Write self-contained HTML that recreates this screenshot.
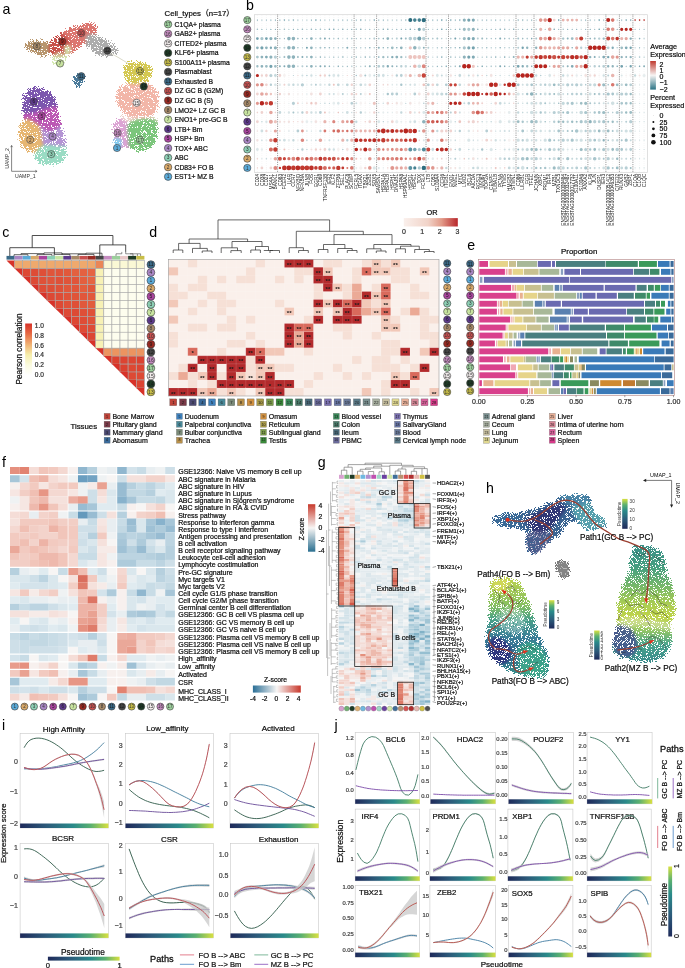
<!DOCTYPE html><html><head><meta charset="utf-8"><title>Figure</title><style>html,body{margin:0;padding:0;background:#fff}svg{display:block;font-family:"Liberation Sans",Arial,Helvetica,sans-serif}</style></head><body>
<svg width="685" height="968" viewBox="0 0 685 968">
<rect width="685" height="968" fill="#fff"/>
<defs>
<filter id="sp1" x="-30%" y="-30%" width="160%" height="160%" color-interpolation-filters="sRGB">
<feGaussianBlur in="SourceGraphic" stdDeviation="1.6" result="b"/>
<feComponentTransfer in="b" result="bc"><feFuncA type="linear" slope="6" intercept="0"/></feComponentTransfer>
<feTurbulence type="fractalNoise" baseFrequency="2.2" numOctaves="2" seed="3" result="t"/>
<feColorMatrix in="t" type="matrix" values="0 0 0 0 0  0 0 0 0 0  0 0 0 0 0  0 0 0 3 -1" result="ta"/>
<feComposite in="b" in2="ta" operator="arithmetic" k1="0" k2="1" k3="1" k4="-0.7" result="m"/>
<feComponentTransfer in="m" result="mt"><feFuncA type="discrete" tableValues="0 0 1 1 1"/></feComponentTransfer>
<feComposite in="bc" in2="mt" operator="in" result="o"/>
<feGaussianBlur in="o" stdDeviation="0.35"/>
</filter>
<filter id="sp2" x="-30%" y="-30%" width="160%" height="160%" color-interpolation-filters="sRGB">
<feGaussianBlur in="SourceGraphic" stdDeviation="1.6" result="b"/>
<feComponentTransfer in="b" result="bc"><feFuncA type="linear" slope="6" intercept="0"/></feComponentTransfer>
<feTurbulence type="fractalNoise" baseFrequency="2.2" numOctaves="2" seed="5" result="t"/>
<feColorMatrix in="t" type="matrix" values="0 0 0 0 0  0 0 0 0 0  0 0 0 0 0  0 0 0 3 -1" result="ta"/>
<feComposite in="b" in2="ta" operator="arithmetic" k1="0" k2="1" k3="1" k4="-0.8" result="m"/>
<feComponentTransfer in="m" result="mt"><feFuncA type="discrete" tableValues="0 0 1 1 1"/></feComponentTransfer>
<feComposite in="bc" in2="mt" operator="in" result="o"/>
<feGaussianBlur in="o" stdDeviation="0.35"/>
</filter>
<filter id="sp3" x="-30%" y="-30%" width="160%" height="160%" color-interpolation-filters="sRGB">
<feGaussianBlur in="SourceGraphic" stdDeviation="1.2" result="b"/>
<feComponentTransfer in="b" result="bc"><feFuncA type="linear" slope="6" intercept="0"/></feComponentTransfer>
<feTurbulence type="fractalNoise" baseFrequency="2.2" numOctaves="2" seed="8" result="t"/>
<feColorMatrix in="t" type="matrix" values="0 0 0 0 0  0 0 0 0 0  0 0 0 0 0  0 0 0 3 -1" result="ta"/>
<feComposite in="b" in2="ta" operator="arithmetic" k1="0" k2="1" k3="1" k4="-0.7" result="m"/>
<feComponentTransfer in="m" result="mt"><feFuncA type="discrete" tableValues="0 0 1 1 1"/></feComponentTransfer>
<feComposite in="bc" in2="mt" operator="in" result="o"/>
<feGaussianBlur in="o" stdDeviation="0.35"/>
</filter>
<linearGradient id="vir" x1="0" y1="1" x2="0" y2="0"><stop offset="0" stop-color="#1e2a5a"/><stop offset="0.3" stop-color="#2c5a7a"/><stop offset="0.6" stop-color="#2a8a8a"/><stop offset="0.8" stop-color="#5ab070"/><stop offset="1" stop-color="#d8e040"/></linearGradient>
<linearGradient id="virh" x1="0" y1="0" x2="1" y2="0"><stop offset="0" stop-color="#1e2a5a"/><stop offset="0.3" stop-color="#2c5a7a"/><stop offset="0.6" stop-color="#2a8a8a"/><stop offset="0.8" stop-color="#5ab070"/><stop offset="1" stop-color="#d8e040"/></linearGradient>
<linearGradient id="hgr1" x1="0" y1="0" x2="0" y2="1"><stop offset="0" stop-color="#3a8e88"/><stop offset="0.2" stop-color="#46a080"/><stop offset="0.36" stop-color="#78b868"/><stop offset="0.5" stop-color="#a8cc54"/><stop offset="0.62" stop-color="#c0d448"/><stop offset="0.72" stop-color="#9ac860"/><stop offset="0.85" stop-color="#48a58e"/><stop offset="1" stop-color="#3a8a8a"/></linearGradient>
<linearGradient id="hgr2" x1="0" y1="0" x2="0" y2="1"><stop offset="0" stop-color="#bcd24e"/><stop offset="0.28" stop-color="#88c060"/><stop offset="0.42" stop-color="#48a088"/><stop offset="0.6" stop-color="#3a7e98"/><stop offset="0.8" stop-color="#2f6a8e"/><stop offset="1" stop-color="#3a9a8a"/></linearGradient>
</defs>
<text x="2.4" y="13.6" font-size="14.2">a</text>
<g filter="url(#sp1)">
<path d="M30 88.5C33 87.3 38.7 87.4 42 88C45.3 88.6 47.7 89.8 50 92C52.3 94.2 54.8 98.3 56 101C57.2 103.7 59 106.5 57 108C55 109.5 48 109 44 110C40 111 36.3 113.3 33 114C29.7 114.7 25.7 115.7 24 114C22.3 112.3 23 107.2 23 104C23 100.8 22.8 97.6 24 95C25.2 92.4 27 89.7 30 88.5Z" fill="#7c56ae" opacity="1"/>
<path d="M24 114C25.3 112.8 29.7 113.8 33 113C36.3 112.2 40 110 44 109C48 108 54.5 105.7 57 107C59.5 108.3 58.3 113.8 59 117C59.7 120.2 61.8 123.8 61 126C60.2 128.2 56.5 129.2 54 130C51.5 130.8 48.3 131.7 46 131C43.7 130.3 42.2 127.5 40 126C37.8 124.5 35.5 123 33 122C30.5 121 26.5 121.3 25 120C23.5 118.7 22.7 115.2 24 114Z" fill="#bc58b4" opacity="1"/>
<path d="M21 124C22.3 121.2 24.8 119.3 27 119C29.2 118.7 31.8 120.7 34 122C36.2 123.3 38.3 124.3 40 127C41.7 129.7 43.7 134.7 44 138C44.3 141.3 43.3 144.7 42 147C40.7 149.3 38.3 151.3 36 152C33.7 152.7 30.5 152 28 151C25.5 150 22.5 148.5 21 146C19.5 143.5 19 139.7 19 136C19 132.3 19.7 126.8 21 124Z" fill="#e6b672" opacity="1"/>
<path d="M40 126C40.8 125.2 44.5 130.3 47 131C49.5 131.7 52.7 130.8 55 130C57.3 129.2 59.5 125 61 126C62.5 127 63.2 132.7 64 136C64.8 139.3 66.7 144.2 66 146C65.3 147.8 62.7 147 60 147C57.3 147 52.8 146.5 50 146C47.2 145.5 44.3 145.7 43 144C41.7 142.3 42.5 139 42 136C41.5 133 39.2 126.8 40 126Z" fill="#b494d4" opacity="1"/>
<path d="M36 152C37.2 149.8 39.7 147.2 42 146C44.3 144.8 47 145 50 145C53 145 57.3 145.7 60 146C62.7 146.3 65 145.3 66 147C67 148.7 66.7 153.5 66 156C65.3 158.5 64.3 160.5 62 162C59.7 163.5 55.3 164.7 52 165C48.7 165.3 44.8 165 42 164C39.2 163 36 161 35 159C34 157 34.8 154.2 36 152Z" fill="#9adcc4" opacity="1"/>
</g>
<g filter="url(#sp1)">
<path d="M24 46C24.3 44.5 27.7 42 30 41C32.3 40 35.3 39.8 38 40C40.7 40.2 43.8 41 46 42C48.2 43 50.3 44.3 51 46C51.7 47.7 51.2 50.3 50 52C48.8 53.7 46.5 55.7 44 56C41.5 56.3 37.7 55 35 54C32.3 53 29.8 51.3 28 50C26.2 48.7 23.7 47.5 24 46Z" fill="#b8966e" opacity="1"/>
<path d="M50 44C51.2 41.8 53.7 38.8 56 37C58.3 35.2 61.7 33 64 33C66.3 33 68.7 35 70 37C71.3 39 72.5 42.3 72 45C71.5 47.7 69 51 67 53C65 55 62.3 56.7 60 57C57.7 57.3 54.8 56.2 53 55C51.2 53.8 49.5 51.8 49 50C48.5 48.2 48.8 46.2 50 44Z" fill="#c8504a" opacity="1"/>
<path d="M62 33C62.7 31.7 67 29.3 70 28C73 26.7 76.7 25.8 80 25C83.3 24.2 87.3 22.8 90 23C92.7 23.2 94.8 24.7 96 26C97.2 27.3 97.7 29 97 31C96.3 33 94.2 35.8 92 38C89.8 40.2 86.7 42 84 44C81.3 46 78.3 48.2 76 50C73.7 51.8 71.7 55 70 55C68.3 55 66 52 66 50C66 48 70 45.3 70 43C70 40.7 67.3 37.7 66 36C64.7 34.3 61.3 34.3 62 33Z" fill="#dc7670" opacity="1"/>
<path d="M52 57C53 55.2 55.8 52.3 58 52C60.2 51.7 63.8 53.3 65 55C66.2 56.7 66.2 60.2 65 62C63.8 63.8 60.2 65.8 58 66C55.8 66.2 53 64.5 52 63C51 61.5 51 58.8 52 57Z" fill="#d6eab4" opacity="0.7"/>
<path d="M64 47C64.5 45.2 67.8 44.3 69 45C70.2 45.7 71.5 49.2 71 51C70.5 52.8 67.2 56.7 66 56C64.8 55.3 63.5 48.8 64 47Z" fill="#d4e8b0" opacity="0.9"/>
<path d="M86 36C87 34.2 90.5 33.7 93 34C95.5 34.3 98.3 36.8 101 38C103.7 39.2 106.7 39.7 109 41C111.3 42.3 113.7 44.2 115 46C116.3 47.8 117.7 50.3 117 52C116.3 53.7 113.7 55.3 111 56C108.3 56.7 104 56.7 101 56C98 55.3 95.3 53.8 93 52C90.7 50.2 88.2 47.7 87 45C85.8 42.3 85 37.8 86 36Z" fill="#acacac" opacity="1"/>
</g>
<path d="M110 53 C116 56 121 59 129 64" fill="none" stroke="#9a9a70" stroke-width="0.7" opacity="0.55"/>
<g filter="url(#sp3)">
<path d="M74 76C75 74.8 77.3 73.2 79 73C80.7 72.8 83.2 73.7 84 75C84.8 76.3 84.5 79.5 84 81C83.5 82.5 82 82.8 81 84C80 85.2 79.2 88 78 88C76.8 88 74.8 85.3 74 84C73.2 82.7 73 81.3 73 80C73 78.7 73 77.2 74 76Z" fill="#4a7a9a" opacity="1"/>
</g>
<g filter="url(#sp1)">
<path d="M124 67C125 65 127.3 62.8 130 62C132.7 61.2 137 61.7 140 62C143 62.3 146 62.7 148 64C150 65.3 151.5 67.7 152 70C152.5 72.3 152.2 75.8 151 78C149.8 80.2 147.7 82 145 83C142.3 84 138 84.3 135 84C132 83.7 128.8 82.7 127 81C125.2 79.3 124.5 76.3 124 74C123.5 71.7 123 69 124 67Z" fill="#d4c852" opacity="1"/>
<path d="M117 93C118 90.7 119.5 87.5 122 86C124.5 84.5 128.2 84.3 132 84C135.8 83.7 141.2 83.3 145 84C148.8 84.7 152.7 85.7 155 88C157.3 90.3 158.5 94.7 159 98C159.5 101.3 159.2 105.2 158 108C156.8 110.8 155 113.3 152 115C149 116.7 144 117.8 140 118C136 118.2 131.3 117.7 128 116C124.7 114.3 122 110.7 120 108C118 105.3 116.5 102.5 116 100C115.5 97.5 116 95.3 117 93Z" fill="#f2b6a8" opacity="1"/>
<path d="M122 116C123.7 115.3 128.2 116.7 132 117C135.8 117.3 141.2 117.8 145 118C148.8 118.2 153 117 155 118C157 119 158.7 123.3 157 124C155.3 124.7 149.5 122.3 145 122C140.5 121.7 133.8 122.2 130 122C126.2 121.8 123.3 122 122 121C120.7 120 120.3 116.7 122 116Z" fill="#f0d8d0" opacity="0.8"/>
<path d="M114 122C115.2 120.5 117.8 118.8 120 119C122.2 119.2 125.2 120.5 127 123C128.8 125.5 130.3 130.3 131 134C131.7 137.7 131.8 142.7 131 145C130.2 147.3 128 147.8 126 148C124 148.2 121 147.7 119 146C117 144.3 115 141 114 138C113 135 113 130.7 113 128C113 125.3 112.8 123.5 114 122Z" fill="#dca4d4" opacity="1"/>
<path d="M128 125C129.3 122.2 132.7 121 136 120C139.3 119 144.7 118.8 148 119C151.3 119.2 154.5 118.8 156 121C157.5 123.2 157.2 128.3 157 132C156.8 135.7 156.5 140.2 155 143C153.5 145.8 150.8 147.7 148 149C145.2 150.3 141 151.2 138 151C135 150.8 131.7 150.3 130 148C128.3 145.7 128.3 140.8 128 137C127.7 133.2 126.7 127.8 128 125Z" fill="#7cc67c" opacity="1"/>
<path d="M114 140C114.3 138.7 116.7 137.8 118 138C119.3 138.2 121.5 139.7 122 141C122.5 142.3 122 145.2 121 146C120 146.8 117.2 147 116 146C114.8 145 113.7 141.3 114 140Z" fill="#88ccee" opacity="1"/>
</g>
<circle cx="36.8" cy="46.3" r="3.6" fill="#a88a68" stroke="#3a3a3a" stroke-width="0.6"/>
<text x="36.8" y="48" font-size="4.7" text-anchor="middle" fill="#333">8</text>
<circle cx="62.3" cy="41.6" r="3.6" fill="#9a2a22" stroke="#3a3a3a" stroke-width="0.6"/>
<text x="62.3" y="43.3" font-size="4.7" text-anchor="middle" fill="#1a1a1a">9</text>
<circle cx="81.3" cy="33.1" r="3.6" fill="#c9504f" stroke="#3a3a3a" stroke-width="0.6"/>
<text x="81.3" y="34.8" font-size="4.7" text-anchor="middle" fill="#333">10</text>
<circle cx="107.3" cy="50.7" r="3.6" fill="#454545" stroke="#3a3a3a" stroke-width="0.6"/>
<text x="107.3" y="52.4" font-size="4.7" text-anchor="middle" fill="#1a1a1a">12</text>
<circle cx="60.1" cy="63.5" r="3.6" fill="#c8e4a0" stroke="#3a3a3a" stroke-width="0.6"/>
<text x="60.1" y="65.2" font-size="4.7" text-anchor="middle" fill="#333">7</text>
<circle cx="81.3" cy="76.2" r="3.6" fill="#3b6a88" stroke="#3a3a3a" stroke-width="0.6"/>
<text x="81.3" y="77.9" font-size="4.7" text-anchor="middle" fill="#1a1a1a">11</text>
<circle cx="140" cy="71" r="3.6" fill="#c8be48" stroke="#3a3a3a" stroke-width="0.6"/>
<text x="140" y="72.7" font-size="4.7" text-anchor="middle" fill="#333">13</text>
<circle cx="143.8" cy="86.4" r="3.6" fill="#1e3b26" stroke="#3a3a3a" stroke-width="0.6"/>
<text x="143.8" y="88.1" font-size="4.7" text-anchor="middle" fill="#1a1a1a">14</text>
<circle cx="136.6" cy="102.8" r="3.6" fill="#f2ecec" stroke="#3a3a3a" stroke-width="0.6"/>
<text x="136.6" y="104.5" font-size="4.7" text-anchor="middle" fill="#333">15</text>
<circle cx="117.6" cy="133" r="3.6" fill="#c58bc0" stroke="#3a3a3a" stroke-width="0.6"/>
<text x="117.6" y="134.7" font-size="4.7" text-anchor="middle" fill="#333">16</text>
<circle cx="140" cy="139.8" r="3.6" fill="#9ccf9c" stroke="#3a3a3a" stroke-width="0.6"/>
<text x="140" y="141.5" font-size="4.7" text-anchor="middle" fill="#333">17</text>
<circle cx="117" cy="148" r="3.6" fill="#5aaad8" stroke="#3a3a3a" stroke-width="0.6"/>
<text x="117" y="149.7" font-size="4.7" text-anchor="middle" fill="#333">1</text>
<circle cx="33.9" cy="101.7" r="3.6" fill="#5e3a8c" stroke="#3a3a3a" stroke-width="0.6"/>
<text x="33.9" y="103.4" font-size="4.7" text-anchor="middle" fill="#1a1a1a">6</text>
<circle cx="41.8" cy="116.1" r="3.6" fill="#a9449e" stroke="#3a3a3a" stroke-width="0.6"/>
<text x="41.8" y="117.8" font-size="4.7" text-anchor="middle" fill="#1a1a1a">5</text>
<circle cx="30.2" cy="139.8" r="3.6" fill="#d8a868" stroke="#3a3a3a" stroke-width="0.6"/>
<text x="30.2" y="141.5" font-size="4.7" text-anchor="middle" fill="#333">2</text>
<circle cx="52.6" cy="136.5" r="3.6" fill="#a986c4" stroke="#3a3a3a" stroke-width="0.6"/>
<text x="52.6" y="138.2" font-size="4.7" text-anchor="middle" fill="#333">4</text>
<circle cx="51.2" cy="154.2" r="3.6" fill="#8ccfb4" stroke="#3a3a3a" stroke-width="0.6"/>
<text x="51.2" y="155.9" font-size="4.7" text-anchor="middle" fill="#333">3</text>
<path d="M11.6 145.7 L11.6 171.3 L36.8 171.3" fill="none" stroke="#333" stroke-width="0.6"/>
<path d="M10.6 147.2 L11.6 145.4 L12.6 147.2" fill="none" stroke="#333" stroke-width="0.5"/>
<path d="M35.3 170.3 L37.1 171.3 L35.3 172.3" fill="none" stroke="#333" stroke-width="0.5"/>
<text x="25.3" y="178.2" font-size="5.2" text-anchor="middle" fill="#333">UAMP_1</text>
<text x="7.4" y="160.4" font-size="5.2" text-anchor="middle" fill="#333" transform="rotate(-90 7.4 158.5)">UAMP_2</text>
<text x="164.6" y="16" font-size="7.8" stroke="#222" stroke-width="0.22" style="font-family:'Liberation Sans','Noto Sans CJK SC',sans-serif">Cell_types（n=17）</text>
<circle cx="168.1" cy="24.3" r="3.7" fill="#9ccf9c" stroke="#3a3a3a" stroke-width="0.6"/>
<text x="168.1" y="26" font-size="4.8" text-anchor="middle" fill="#333">17</text>
<text x="174.5" y="26.8" font-size="6.8" stroke="#222" stroke-width="0.22">C1QA+ plasma</text>
<circle cx="168.1" cy="33.8" r="3.7" fill="#c58bc0" stroke="#3a3a3a" stroke-width="0.6"/>
<text x="168.1" y="35.6" font-size="4.8" text-anchor="middle" fill="#333">16</text>
<text x="174.5" y="36.3" font-size="6.8" stroke="#222" stroke-width="0.22">GAB2+ plasma</text>
<circle cx="168.1" cy="43.4" r="3.7" fill="#f2ecec" stroke="#3a3a3a" stroke-width="0.6"/>
<text x="168.1" y="45.1" font-size="4.8" text-anchor="middle" fill="#333">15</text>
<text x="174.5" y="45.8" font-size="6.8" stroke="#222" stroke-width="0.22">CITED2+ plasma</text>
<circle cx="168.1" cy="52.9" r="3.7" fill="#1e3b26" stroke="#3a3a3a" stroke-width="0.6"/>
<text x="168.1" y="54.6" font-size="4.8" text-anchor="middle" fill="#1a1a1a">14</text>
<text x="174.5" y="55.3" font-size="6.8" stroke="#222" stroke-width="0.22">KLF6+ plasma</text>
<circle cx="168.1" cy="62.4" r="3.7" fill="#c8be48" stroke="#3a3a3a" stroke-width="0.6"/>
<text x="168.1" y="64.1" font-size="4.8" text-anchor="middle" fill="#333">13</text>
<text x="174.5" y="64.9" font-size="6.8" stroke="#222" stroke-width="0.22">S100A11+ plasma</text>
<circle cx="168.1" cy="71.9" r="3.7" fill="#454545" stroke="#3a3a3a" stroke-width="0.6"/>
<text x="168.1" y="73.7" font-size="4.8" text-anchor="middle" fill="#1a1a1a">12</text>
<text x="174.5" y="74.4" font-size="6.8" stroke="#222" stroke-width="0.22">Plasmablast</text>
<circle cx="168.1" cy="81.5" r="3.7" fill="#3b6a88" stroke="#3a3a3a" stroke-width="0.6"/>
<text x="168.1" y="83.2" font-size="4.8" text-anchor="middle" fill="#1a1a1a">11</text>
<text x="174.5" y="83.9" font-size="6.8" stroke="#222" stroke-width="0.22">Exhausted B</text>
<circle cx="168.1" cy="91" r="3.7" fill="#c9504f" stroke="#3a3a3a" stroke-width="0.6"/>
<text x="168.1" y="92.7" font-size="4.8" text-anchor="middle" fill="#333">10</text>
<text x="174.5" y="93.4" font-size="6.8" stroke="#222" stroke-width="0.22">DZ GC B (G2M)</text>
<circle cx="168.1" cy="100.5" r="3.7" fill="#9a2a22" stroke="#3a3a3a" stroke-width="0.6"/>
<text x="168.1" y="102.2" font-size="4.8" text-anchor="middle" fill="#1a1a1a">9</text>
<text x="174.5" y="103" font-size="6.8" stroke="#222" stroke-width="0.22">DZ GC B (S)</text>
<circle cx="168.1" cy="110" r="3.7" fill="#a88a68" stroke="#3a3a3a" stroke-width="0.6"/>
<text x="168.1" y="111.8" font-size="4.8" text-anchor="middle" fill="#333">8</text>
<text x="174.5" y="112.5" font-size="6.8" stroke="#222" stroke-width="0.22">LMO2+ LZ GC B</text>
<circle cx="168.1" cy="119.5" r="3.7" fill="#c8e4a0" stroke="#3a3a3a" stroke-width="0.6"/>
<text x="168.1" y="121.3" font-size="4.8" text-anchor="middle" fill="#333">7</text>
<text x="174.5" y="122" font-size="6.8" stroke="#222" stroke-width="0.22">ENO1+ pre-GC B</text>
<circle cx="168.1" cy="129.1" r="3.7" fill="#5e3a8c" stroke="#3a3a3a" stroke-width="0.6"/>
<text x="168.1" y="130.8" font-size="4.8" text-anchor="middle" fill="#1a1a1a">6</text>
<text x="174.5" y="131.5" font-size="6.8" stroke="#222" stroke-width="0.22">LTB+ Bm</text>
<circle cx="168.1" cy="138.6" r="3.7" fill="#a9449e" stroke="#3a3a3a" stroke-width="0.6"/>
<text x="168.1" y="140.3" font-size="4.8" text-anchor="middle" fill="#1a1a1a">5</text>
<text x="174.5" y="141.1" font-size="6.8" stroke="#222" stroke-width="0.22">HSP+ Bm</text>
<circle cx="168.1" cy="148.1" r="3.7" fill="#a986c4" stroke="#3a3a3a" stroke-width="0.6"/>
<text x="168.1" y="149.9" font-size="4.8" text-anchor="middle" fill="#333">4</text>
<text x="174.5" y="150.6" font-size="6.8" stroke="#222" stroke-width="0.22">TOX+ ABC</text>
<circle cx="168.1" cy="157.7" r="3.7" fill="#8ccfb4" stroke="#3a3a3a" stroke-width="0.6"/>
<text x="168.1" y="159.4" font-size="4.8" text-anchor="middle" fill="#333">3</text>
<text x="174.5" y="160.1" font-size="6.8" stroke="#222" stroke-width="0.22">ABC</text>
<circle cx="168.1" cy="167.2" r="3.7" fill="#d8a868" stroke="#3a3a3a" stroke-width="0.6"/>
<text x="168.1" y="168.9" font-size="4.8" text-anchor="middle" fill="#333">2</text>
<text x="174.5" y="169.6" font-size="6.8" stroke="#222" stroke-width="0.22">CD83+ FO B</text>
<circle cx="168.1" cy="176.7" r="3.7" fill="#5aaad8" stroke="#3a3a3a" stroke-width="0.6"/>
<text x="168.1" y="178.4" font-size="4.8" text-anchor="middle" fill="#333">1</text>
<text x="174.5" y="179.2" font-size="6.8" stroke="#222" stroke-width="0.22">EST1+ MZ B</text>
<text x="246" y="9.9" font-size="14.2">b</text>
<rect x="254.6" y="14.7" width="393" height="157.8" fill="none" stroke="#d4d4d4" stroke-width="0.7"/>
<path d="M257.4 15V172M261.9 15V172M266.4 15V172M270.9 15V172M275.4 15V172M279.9 15V172M284.4 15V172M288.9 15V172M293.4 15V172M297.9 15V172M302.4 15V172M306.9 15V172M311.4 15V172M315.9 15V172M320.4 15V172M324.9 15V172M329.4 15V172M333.8 15V172M338.3 15V172M342.8 15V172M347.3 15V172M351.8 15V172M356.3 15V172M360.8 15V172M365.3 15V172M369.8 15V172M374.3 15V172M378.8 15V172M383.3 15V172M387.8 15V172M392.3 15V172M396.8 15V172M401.3 15V172M405.8 15V172M410.3 15V172M414.8 15V172M419.3 15V172M423.8 15V172M428.3 15V172M432.8 15V172M437.3 15V172M441.8 15V172M446.3 15V172M450.8 15V172M455.3 15V172M459.8 15V172M464.3 15V172M468.8 15V172M473.3 15V172M477.8 15V172M482.2 15V172M486.7 15V172M491.2 15V172M495.7 15V172M500.2 15V172M504.7 15V172M509.2 15V172M513.7 15V172M518.2 15V172M522.7 15V172M527.2 15V172M531.7 15V172M536.2 15V172M540.7 15V172M545.2 15V172M549.7 15V172M554.2 15V172M558.7 15V172M563.2 15V172M567.7 15V172M572.2 15V172M576.7 15V172M581.2 15V172M585.7 15V172M590.2 15V172M594.7 15V172M599.2 15V172M603.7 15V172M608.2 15V172M612.7 15V172M617.2 15V172M621.7 15V172M626.2 15V172M630.7 15V172M635.1 15V172M639.6 15V172M644.1 15V172" fill="none" stroke="#ececec" stroke-width="0.4" stroke-dasharray="1 1"/>
<path d="M277.6 14.7V172.5M354.1 14.7V172.5M376.6 14.7V172.5M426 14.7V172.5M448.5 14.7V172.5M516 14.7V172.5M534 14.7V172.5M560.9 14.7V172.5M587.9 14.7V172.5M605.9 14.7V172.5M619.4 14.7V172.5M632.9 14.7V172.5" fill="none" stroke="#3a3a3a" stroke-width="0.7" stroke-dasharray="0.7 1.1"/>
<path stroke="#74a2ae" stroke-width="1.2" stroke-linecap="round" d="M257.4 20.1h0M320.4 20.1h0M342.8 20.1h0M356.3 20.1h0M378.8 20.1h0M437.3 20.1h0M482.2 20.1h0M486.7 20.1h0M590.2 20.1h0M621.7 20.1h0M261.9 29.3h0M275.4 29.3h0M293.4 29.3h0M297.9 29.3h0M369.8 29.3h0M396.8 29.3h0M401.3 29.3h0M405.8 29.3h0M414.8 29.3h0M446.3 29.3h0M455.3 29.3h0M567.7 29.3h0M576.7 29.3h0M617.2 29.3h0M306.9 38.6h0M639.6 47.8h0M279.9 57.1h0M324.9 57.1h0M333.8 57.1h0M351.8 57.1h0M491.2 57.1h0M437.3 66.3h0"/>
<path stroke="#8db2bb" stroke-width="1.2" stroke-linecap="round" d="M261.9 20.1h0M297.9 20.1h0M324.9 20.1h0M338.3 20.1h0M365.3 20.1h0M387.8 20.1h0M396.8 20.1h0M401.3 20.1h0M491.2 20.1h0M324.9 29.3h0M347.3 29.3h0M450.8 29.3h0M486.7 29.3h0M545.2 29.3h0M594.7 29.3h0M635.1 29.3h0M644.1 29.3h0M356.3 38.6h0M441.8 38.6h0M315.9 47.8h0M333.8 47.8h0M491.2 47.8h0M315.9 57.1h0M482.2 57.1h0M509.2 57.1h0M342.8 66.3h0M410.3 66.3h0M477.8 66.3h0M509.2 66.3h0M626.2 66.3h0"/>
<path stroke="#80aab5" stroke-width="1.2" stroke-linecap="round" d="M266.4 20.1h0M347.3 20.1h0M428.3 20.1h0M500.2 20.1h0M509.2 20.1h0M527.2 20.1h0M581.2 20.1h0M603.7 20.1h0M428.3 29.3h0M437.3 29.3h0M491.2 29.3h0M495.7 29.3h0M558.7 29.3h0M572.2 29.3h0M585.7 29.3h0M279.9 38.6h0M284.4 38.6h0M302.4 38.6h0M360.8 38.6h0M369.8 38.6h0M491.2 38.6h0M495.7 38.6h0M338.3 47.8h0M356.3 47.8h0M360.8 47.8h0M365.3 47.8h0M437.3 47.8h0M482.2 47.8h0M513.7 47.8h0M455.3 57.1h0M459.8 57.1h0M347.3 66.3h0M428.3 66.3h0M441.8 66.3h0"/>
<path stroke="#679ba8" stroke-width="1.2" stroke-linecap="round" d="M270.9 20.1h0M275.4 20.1h0M279.9 20.1h0M288.9 20.1h0M311.4 20.1h0M333.8 20.1h0M383.3 20.1h0M432.8 20.1h0M446.3 20.1h0M455.3 20.1h0M495.7 20.1h0M531.7 20.1h0M585.7 20.1h0M270.9 29.3h0M315.9 29.3h0M351.8 29.3h0M522.7 29.3h0M527.2 29.3h0M531.7 29.3h0M590.2 29.3h0"/>
<path stroke="#80aab5" stroke-width="1.6" stroke-linecap="round" d="M284.4 20.1h0M360.8 20.1h0M374.3 20.1h0M450.8 20.1h0M459.8 20.1h0M630.7 20.1h0M342.8 29.3h0M383.3 29.3h0M387.8 29.3h0M459.8 29.3h0M477.8 29.3h0M500.2 29.3h0M513.7 29.3h0M531.7 38.6h0M590.2 38.6h0M324.9 47.8h0M369.8 47.8h0M396.8 47.8h0M572.2 47.8h0M378.8 57.1h0M387.8 57.1h0M441.8 57.1h0M504.7 57.1h0M306.9 66.3h0M329.4 66.3h0M338.3 66.3h0M396.8 66.3h0M446.3 66.3h0M531.7 66.3h0"/>
<path stroke="#8db2bb" stroke-width="1.6" stroke-linecap="round" d="M293.4 20.1h0M302.4 29.3h0M311.4 29.3h0M504.7 29.3h0M297.9 38.6h0M329.4 38.6h0M383.3 38.6h0M639.6 38.6h0M329.4 47.8h0M383.3 47.8h0M387.8 47.8h0M500.2 47.8h0M320.4 57.1h0M365.3 57.1h0M495.7 57.1h0M315.9 66.3h0M608.2 140.2h0"/>
<path stroke="#9bbcc3" stroke-width="0.8" stroke-linecap="round" d="M302.4 20.1h0"/>
<path stroke="#9bbcc3" stroke-width="1.2" stroke-linecap="round" d="M306.9 20.1h0M351.8 20.1h0M392.3 20.1h0M477.8 20.1h0M504.7 20.1h0M594.7 20.1h0M617.2 20.1h0M279.9 29.3h0M288.9 29.3h0M306.9 29.3h0M338.3 29.3h0M378.8 29.3h0M392.3 29.3h0M482.2 29.3h0M509.2 29.3h0M518.2 29.3h0M315.9 38.6h0M513.7 38.6h0M495.7 47.8h0M338.3 57.1h0M360.8 57.1h0M635.1 57.1h0M644.1 57.1h0M450.8 66.3h0M486.7 66.3h0"/>
<path stroke="#74a2ae" stroke-width="1.6" stroke-linecap="round" d="M315.9 20.1h0M626.2 20.1h0M329.4 29.3h0M333.8 29.3h0M360.8 29.3h0M554.2 29.3h0M459.8 47.8h0M482.2 66.3h0M504.7 66.3h0M513.7 66.3h0M617.2 66.3h0M639.6 66.3h0"/>
<path stroke="#80aab5" stroke-width="0.8" stroke-linecap="round" d="M329.4 20.1h0M266.4 29.3h0M432.8 29.3h0"/>
<path stroke="#a8c5cc" stroke-width="1.2" stroke-linecap="round" d="M369.8 20.1h0M365.3 29.3h0M365.3 38.6h0M302.4 47.8h0M635.1 47.8h0M329.4 57.1h0M477.8 57.1h0M500.2 57.1h0M360.8 66.3h0M432.8 66.3h0M383.3 121.7h0"/>
<path stroke="#9bbcc3" stroke-width="1.6" stroke-linecap="round" d="M405.8 20.1h0M518.2 20.1h0M522.7 20.1h0M257.4 29.3h0M284.4 29.3h0M320.4 29.3h0M356.3 29.3h0M536.2 29.3h0M603.7 29.3h0M338.3 38.6h0M428.3 38.6h0M504.7 38.6h0M522.7 38.6h0M297.9 47.8h0M441.8 47.8h0M455.3 47.8h0M486.7 47.8h0M356.3 57.1h0M450.8 57.1h0M599.2 57.1h0M365.3 66.3h0M374.3 66.3h0M455.3 66.3h0M549.7 66.3h0M608.2 84.8h0M567.7 94h0M558.7 103.3h0M545.2 121.7h0"/>
<path stroke="#2c6c7e" stroke-width="4" stroke-linecap="round" d="M410.3 20.1h0"/>
<path stroke="#438090" stroke-width="3.6" stroke-linecap="round" d="M414.8 20.1h0M419.3 20.1h0"/>
<path stroke="#2c6c7e" stroke-width="4.4" stroke-linecap="round" d="M423.8 20.1h0M423.8 167.9h0"/>
<path stroke="#679ba8" stroke-width="1.6" stroke-linecap="round" d="M441.8 20.1h0M558.7 20.1h0M599.2 20.1h0M410.3 29.3h0M441.8 29.3h0M599.2 29.3h0"/>
<path stroke="#8db2bb" stroke-width="3.2" stroke-linecap="round" d="M464.3 20.1h0M473.3 29.3h0M270.9 38.6h0M275.4 47.8h0M270.9 57.1h0M464.3 57.1h0M590.2 121.7h0"/>
<path stroke="#74a2ae" stroke-width="3.2" stroke-linecap="round" d="M468.8 20.1h0M419.3 29.3h0M261.9 47.8h0M473.3 47.8h0M468.8 57.1h0M270.9 66.3h0"/>
<path stroke="#80aab5" stroke-width="3.2" stroke-linecap="round" d="M473.3 20.1h0M468.8 38.6h0M473.3 38.6h0M468.8 47.8h0M473.3 57.1h0"/>
<path stroke="#8db2bb" stroke-width="0.8" stroke-linecap="round" d="M513.7 20.1h0M581.2 29.3h0"/>
<path stroke="#679ba8" stroke-width="0.8" stroke-linecap="round" d="M536.2 20.1h0M374.3 29.3h0M639.6 29.3h0"/>
<path stroke="#e0968e" stroke-width="3.6" stroke-linecap="round" d="M540.7 20.1h0M545.2 20.1h0M612.7 29.3h0M540.7 38.6h0M540.7 47.8h0M473.3 112.5h0M423.8 131h0M378.8 149.5h0M369.8 158.7h0M423.8 158.7h0M369.8 167.9h0M428.3 167.9h0M432.8 167.9h0"/>
<path stroke="#b5241e" stroke-width="4.4" stroke-linecap="round" d="M549.7 20.1h0M590.2 47.8h0M594.7 47.8h0M599.2 47.8h0M603.7 47.8h0M585.7 57.1h0M464.3 66.3h0M468.8 66.3h0M585.7 66.3h0M518.2 75.5h0M522.7 75.5h0M527.2 75.5h0M531.7 75.5h0M491.2 84.8h0M509.2 84.8h0M513.7 84.8h0M468.8 94h0M473.3 94h0M477.8 94h0M495.7 94h0M261.9 103.3h0M414.8 131h0"/>
<path stroke="#efd3d0" stroke-width="2.8" stroke-linecap="round" d="M554.2 20.1h0M558.7 38.6h0M266.4 75.5h0M279.9 75.5h0M266.4 84.8h0M369.8 84.8h0M432.8 84.8h0M468.8 84.8h0M257.4 94h0M320.4 94h0M428.3 94h0M315.9 103.3h0M387.8 103.3h0M428.3 103.3h0M495.7 103.3h0M261.9 112.5h0M306.9 112.5h0M410.3 112.5h0M491.2 112.5h0M257.4 121.7h0M369.8 121.7h0M392.3 121.7h0M446.3 131h0M450.8 131h0M446.3 140.2h0M486.7 140.2h0M324.9 149.5h0M261.9 167.9h0M270.9 167.9h0"/>
<path stroke="#e8b4ae" stroke-width="2.8" stroke-linecap="round" d="M563.2 20.1h0M567.7 20.1h0M572.2 20.1h0M576.7 20.1h0M473.3 103.3h0M477.8 103.3h0M356.3 131h0M360.8 131h0M365.3 131h0M369.8 131h0M374.3 131h0"/>
<path stroke="#b5241e" stroke-width="4" stroke-linecap="round" d="M608.2 20.1h0M536.2 66.3h0M540.7 66.3h0M545.2 66.3h0M365.3 149.5h0"/>
<path stroke="#d8776e" stroke-width="3.6" stroke-linecap="round" d="M612.7 20.1h0M608.2 29.3h0M612.7 38.6h0M612.7 84.8h0M482.2 112.5h0M351.8 121.7h0M428.3 121.7h0M441.8 121.7h0M441.8 140.2h0M396.8 158.7h0M351.8 167.9h0"/>
<path stroke="#b5241e" stroke-width="1.6" stroke-linecap="round" d="M635.1 20.1h0M639.6 20.1h0M644.1 20.1h0"/>
<path stroke="#b6ced4" stroke-width="3.2" stroke-linecap="round" d="M423.8 29.3h0M275.4 57.1h0M270.9 75.5h0M302.4 84.8h0M567.7 84.8h0M576.7 84.8h0M621.7 94h0M626.2 94h0M293.4 103.3h0M554.2 112.5h0M617.2 112.5h0M585.7 121.7h0M594.7 121.7h0M630.7 121.7h0M563.2 140.2h0M585.7 149.5h0M536.2 158.7h0M608.2 158.7h0M558.7 167.9h0M626.2 167.9h0"/>
<path stroke="#9bbcc3" stroke-width="3.2" stroke-linecap="round" d="M464.3 29.3h0M464.3 38.6h0M603.7 84.8h0M585.7 103.3h0M603.7 112.5h0M531.7 121.7h0M536.2 149.5h0M581.2 149.5h0M527.2 158.7h0M554.2 167.9h0"/>
<path stroke="#a8c5cc" stroke-width="3.2" stroke-linecap="round" d="M468.8 29.3h0M261.9 38.6h0M464.3 47.8h0M608.2 94h0M572.2 103.3h0M567.7 112.5h0M585.7 112.5h0M536.2 121.7h0M581.2 121.7h0M603.7 121.7h0M549.7 140.2h0M572.2 140.2h0M626.2 140.2h0M419.3 149.5h0M549.7 149.5h0M603.7 149.5h0M567.7 158.7h0M419.3 167.9h0M585.7 167.9h0M608.2 167.9h0"/>
<path stroke="#e8b4ae" stroke-width="3.2" stroke-linecap="round" d="M540.7 29.3h0M576.7 38.6h0M621.7 38.6h0M545.2 47.8h0M549.7 47.8h0M554.2 47.8h0M518.2 57.1h0M522.7 57.1h0M410.3 75.5h0M266.4 94h0M432.8 103.3h0M324.9 121.7h0M342.8 140.2h0M351.8 140.2h0M405.8 167.9h0M441.8 167.9h0"/>
<path stroke="#e4a59e" stroke-width="3.6" stroke-linecap="round" d="M549.7 29.3h0M545.2 38.6h0M612.7 57.1h0M261.9 94h0M270.9 112.5h0M320.4 140.2h0M396.8 149.5h0M405.8 149.5h0M275.4 158.7h0"/>
<path stroke="#a8c5cc" stroke-width="1.6" stroke-linecap="round" d="M563.2 29.3h0M351.8 38.6h0M378.8 38.6h0M432.8 38.6h0M450.8 38.6h0M486.7 38.6h0M509.2 38.6h0M527.2 38.6h0M450.8 47.8h0M477.8 47.8h0M369.8 57.1h0M405.8 57.1h0M486.7 57.1h0M639.6 57.1h0M491.2 66.3h0M635.1 66.3h0M356.3 75.5h0M536.2 84.8h0M585.7 84.8h0M617.2 103.3h0M608.2 112.5h0M630.7 158.7h0"/>
<path stroke="#b5241e" stroke-width="3.2" stroke-linecap="round" d="M621.7 29.3h0M626.2 29.3h0M630.7 29.3h0M257.4 75.5h0M486.7 94h0M450.8 103.3h0M437.3 149.5h0"/>
<path stroke="#74a2ae" stroke-width="2.8" stroke-linecap="round" d="M257.4 38.6h0M266.4 38.6h0M518.2 66.3h0M621.7 66.3h0"/>
<path stroke="#8db2bb" stroke-width="2.8" stroke-linecap="round" d="M275.4 38.6h0M311.4 38.6h0M387.8 38.6h0M257.4 47.8h0M266.4 47.8h0M311.4 47.8h0M401.3 47.8h0M261.9 57.1h0M311.4 57.1h0M396.8 57.1h0M261.9 66.3h0M311.4 66.3h0"/>
<path stroke="#8db2bb" stroke-width="3.6" stroke-linecap="round" d="M288.9 38.6h0M293.4 38.6h0M288.9 47.8h0M293.4 47.8h0M414.8 47.8h0M288.9 57.1h0M293.4 57.1h0M288.9 66.3h0M293.4 66.3h0M531.7 94h0M423.8 121.7h0"/>
<path stroke="#9bbcc3" stroke-width="2" stroke-linecap="round" d="M320.4 38.6h0M405.8 38.6h0M482.2 38.6h0M594.7 38.6h0M284.4 57.1h0M297.9 57.1h0M554.2 94h0M594.7 94h0M563.2 112.5h0M576.7 121.7h0M608.2 121.7h0M572.2 131h0M518.2 149.5h0M540.7 149.5h0M527.2 167.9h0M540.7 167.9h0M630.7 167.9h0"/>
<path stroke="#80aab5" stroke-width="2" stroke-linecap="round" d="M324.9 38.6h0M500.2 38.6h0M347.3 47.8h0M302.4 57.1h0M594.7 57.1h0M284.4 66.3h0M320.4 66.3h0M459.8 66.3h0M500.2 66.3h0"/>
<path stroke="#b6ced4" stroke-width="1.6" stroke-linecap="round" d="M333.8 38.6h0M347.3 38.6h0M392.3 38.6h0M459.8 38.6h0M585.7 38.6h0M279.9 47.8h0M342.8 47.8h0M374.3 47.8h0M446.3 47.8h0M504.7 47.8h0M509.2 47.8h0M617.2 47.8h0M374.3 57.1h0M428.3 57.1h0M437.3 57.1h0M297.9 66.3h0M351.8 66.3h0M495.7 66.3h0M590.2 66.3h0M306.9 75.5h0M540.7 75.5h0M423.8 103.3h0M612.7 112.5h0M509.2 131h0M554.2 131h0M306.9 140.2h0M315.9 140.2h0M585.7 140.2h0M342.8 149.5h0M455.3 149.5h0M576.7 149.5h0M563.2 158.7h0"/>
<path stroke="#c4d8dc" stroke-width="1.2" stroke-linecap="round" d="M342.8 38.6h0M446.3 38.6h0M347.3 57.1h0M495.7 75.5h0M306.9 94h0M383.3 94h0M401.3 94h0M378.8 103.3h0M437.3 103.3h0M491.2 103.3h0M342.8 112.5h0M311.4 131h0M374.3 158.7h0M428.3 158.7h0M477.8 158.7h0M491.2 167.9h0"/>
<path stroke="#b6ced4" stroke-width="2" stroke-linecap="round" d="M374.3 38.6h0M396.8 38.6h0M477.8 38.6h0M284.4 47.8h0M428.3 47.8h0M518.2 47.8h0M342.8 57.1h0M302.4 66.3h0M329.4 75.5h0M608.2 75.5h0M315.9 84.8h0M342.8 94h0M360.8 94h0M603.7 94h0M594.7 103.3h0M599.2 103.3h0M450.8 112.5h0M617.2 121.7h0M626.2 121.7h0M419.3 131h0M558.7 140.2h0M455.3 158.7h0M590.2 167.9h0"/>
<path stroke="#74a2ae" stroke-width="2" stroke-linecap="round" d="M401.3 38.6h0M455.3 38.6h0M306.9 47.8h0"/>
<path stroke="#b6ced4" stroke-width="3.6" stroke-linecap="round" d="M410.3 38.6h0M414.8 38.6h0M423.8 38.6h0M617.2 149.5h0"/>
<path stroke="#74a2ae" stroke-width="4" stroke-linecap="round" d="M419.3 38.6h0"/>
<path stroke="#a8c5cc" stroke-width="2" stroke-linecap="round" d="M437.3 38.6h0M518.2 38.6h0M536.2 38.6h0M320.4 47.8h0M306.9 57.1h0M563.2 66.3h0M599.2 66.3h0M365.3 75.5h0M536.2 94h0M540.7 94h0M545.2 103.3h0M590.2 103.3h0M293.4 112.5h0M567.7 131h0M612.7 131h0M554.2 140.2h0M621.7 140.2h0M549.7 158.7h0M603.7 158.7h0M567.7 167.9h0M612.7 167.9h0"/>
<path stroke="#c6453b" stroke-width="4" stroke-linecap="round" d="M549.7 38.6h0M608.2 38.6h0M545.2 57.1h0M428.3 149.5h0M419.3 158.7h0"/>
<path stroke="#e4a59e" stroke-width="3.2" stroke-linecap="round" d="M554.2 38.6h0M626.2 38.6h0M558.7 47.8h0M563.2 47.8h0M567.7 47.8h0M576.7 47.8h0M531.7 57.1h0M554.2 66.3h0M558.7 66.3h0M576.7 66.3h0M581.2 66.3h0M473.3 84.8h0M477.8 84.8h0M432.8 112.5h0M342.8 121.7h0M275.4 131h0M396.8 167.9h0M401.3 167.9h0"/>
<path stroke="#a8c5cc" stroke-width="2.4" stroke-linecap="round" d="M563.2 38.6h0M383.3 66.3h0M401.3 84.8h0M387.8 94h0M527.2 94h0M540.7 112.5h0M594.7 112.5h0M522.7 121.7h0M482.2 149.5h0M558.7 149.5h0M590.2 149.5h0M518.2 167.9h0M536.2 167.9h0M545.2 167.9h0"/>
<path stroke="#8db2bb" stroke-width="2" stroke-linecap="round" d="M567.7 38.6h0M378.8 47.8h0M423.8 47.8h0M513.7 57.1h0M626.2 57.1h0M279.9 66.3h0M324.9 66.3h0M369.8 66.3h0M392.3 66.3h0M567.7 66.3h0M644.1 66.3h0"/>
<path stroke="#9bbcc3" stroke-width="2.8" stroke-linecap="round" d="M572.2 38.6h0M392.3 47.8h0M621.7 47.8h0M266.4 66.3h0M275.4 66.3h0M554.2 84.8h0M617.2 84.8h0M626.2 84.8h0M581.2 103.3h0M630.7 112.5h0M518.2 121.7h0M599.2 131h0M608.2 131h0M531.7 149.5h0M594.7 149.5h0M612.7 149.5h0M558.7 158.7h0M617.2 167.9h0"/>
<path stroke="#c13a30" stroke-width="4" stroke-linecap="round" d="M581.2 38.6h0"/>
<path stroke="#b6ced4" stroke-width="2.4" stroke-linecap="round" d="M599.2 38.6h0M581.2 47.8h0M401.3 66.3h0M594.7 66.3h0M396.8 75.5h0M270.9 84.8h0M545.2 84.8h0M558.7 84.8h0M572.2 84.8h0M446.3 94h0M549.7 94h0M572.2 94h0M576.7 94h0M581.2 94h0M599.2 94h0M302.4 112.5h0M360.8 112.5h0M621.7 112.5h0M554.2 121.7h0M567.7 121.7h0M459.8 131h0M585.7 131h0M347.3 140.2h0M522.7 140.2h0M302.4 149.5h0M504.7 158.7h0M509.2 158.7h0M581.2 158.7h0"/>
<path stroke="#9bbcc3" stroke-width="2.4" stroke-linecap="round" d="M603.7 38.6h0M383.3 57.1h0M401.3 57.1h0M257.4 66.3h0M527.2 66.3h0M630.7 94h0M630.7 103.3h0M626.2 112.5h0M558.7 121.7h0M563.2 121.7h0M572.2 121.7h0M612.7 121.7h0M617.2 158.7h0"/>
<path stroke="#bd322a" stroke-width="3.6" stroke-linecap="round" d="M617.2 38.6h0M459.8 103.3h0M378.8 131h0M401.3 131h0M360.8 140.2h0M369.8 140.2h0"/>
<path stroke="#80aab5" stroke-width="2.4" stroke-linecap="round" d="M630.7 38.6h0M270.9 47.8h0M612.7 47.8h0M392.3 57.1h0M387.8 66.3h0M522.7 66.3h0"/>
<path stroke="#b6ced4" stroke-width="1.2" stroke-linecap="round" d="M635.1 38.6h0M405.8 47.8h0M432.8 47.8h0M531.7 47.8h0M644.1 47.8h0M432.8 57.1h0M446.3 57.1h0M333.8 66.3h0M356.3 66.3h0M293.4 75.5h0M347.3 94h0M329.4 103.3h0M405.8 103.3h0M351.8 112.5h0M378.8 112.5h0M495.7 131h0M338.3 140.2h0M473.3 140.2h0M495.7 149.5h0M450.8 158.7h0"/>
<path stroke="#c4d8dc" stroke-width="1.6" stroke-linecap="round" d="M644.1 38.6h0M351.8 47.8h0M428.3 75.5h0M486.7 75.5h0M324.9 103.3h0M509.2 103.3h0M518.2 103.3h0M522.7 112.5h0M590.2 112.5h0M261.9 121.7h0M455.3 121.7h0M482.2 121.7h0M491.2 121.7h0M306.9 131h0M455.3 131h0M500.2 131h0M518.2 131h0M261.9 140.2h0M455.3 140.2h0M297.9 149.5h0M306.9 149.5h0M468.8 149.5h0M266.4 158.7h0M468.8 158.7h0M545.2 158.7h0M599.2 167.9h0"/>
<path stroke="#ecc4bf" stroke-width="3.2" stroke-linecap="round" d="M410.3 47.8h0M473.3 66.3h0M374.3 103.3h0M275.4 121.7h0"/>
<path stroke="#cfdfe2" stroke-width="3.2" stroke-linecap="round" d="M419.3 47.8h0M549.7 84.8h0M558.7 94h0M603.7 131h0M626.2 131h0M630.7 131h0M518.2 140.2h0M527.2 140.2h0M545.2 140.2h0M581.2 140.2h0M599.2 140.2h0M554.2 158.7h0"/>
<path stroke="#74a2ae" stroke-width="2.4" stroke-linecap="round" d="M522.7 47.8h0M630.7 47.8h0M608.2 57.1h0M630.7 66.3h0"/>
<path stroke="#8db2bb" stroke-width="2.4" stroke-linecap="round" d="M527.2 47.8h0M536.2 47.8h0M590.2 57.1h0M621.7 57.1h0M630.7 57.1h0M608.2 66.3h0M612.7 66.3h0M603.7 140.2h0"/>
<path stroke="#c4d8dc" stroke-width="2" stroke-linecap="round" d="M585.7 47.8h0M374.3 75.5h0M441.8 75.5h0M468.8 75.5h0M477.8 75.5h0M464.3 103.3h0M527.2 103.3h0M576.7 103.3h0M527.2 121.7h0M563.2 131h0M621.7 131h0M279.9 140.2h0M630.7 140.2h0M374.3 149.5h0M572.2 158.7h0M576.7 158.7h0M626.2 158.7h0M581.2 167.9h0M594.7 167.9h0"/>
<path stroke="#b6ced4" stroke-width="2.8" stroke-linecap="round" d="M608.2 47.8h0M378.8 66.3h0M603.7 66.3h0M401.3 75.5h0M428.3 84.8h0M446.3 84.8h0M630.7 84.8h0M392.3 94h0M396.8 94h0M414.8 94h0M351.8 103.3h0M468.8 103.3h0M567.7 103.3h0M320.4 112.5h0M599.2 121.7h0M297.9 131h0M486.7 131h0M630.7 149.5h0M576.7 167.9h0"/>
<path stroke="#80aab5" stroke-width="2.8" stroke-linecap="round" d="M626.2 47.8h0M266.4 57.1h0M603.7 57.1h0M572.2 66.3h0"/>
<path stroke="#a8c5cc" stroke-width="2.8" stroke-linecap="round" d="M257.4 57.1h0M518.2 84.8h0M531.7 84.8h0M612.7 94h0M621.7 103.3h0M626.2 103.3h0M599.2 112.5h0M522.7 131h0M558.7 131h0M594.7 140.2h0M621.7 149.5h0"/>
<path stroke="#ecc4bf" stroke-width="4" stroke-linecap="round" d="M410.3 57.1h0M414.8 57.1h0M419.3 57.1h0M423.8 57.1h0"/>
<path stroke="#c13a30" stroke-width="3.2" stroke-linecap="round" d="M527.2 57.1h0M378.8 140.2h0M342.8 158.7h0M347.3 158.7h0"/>
<path stroke="#c13a30" stroke-width="3.6" stroke-linecap="round" d="M536.2 57.1h0M396.8 131h0M365.3 140.2h0M405.8 140.2h0M315.9 167.9h0"/>
<path stroke="#bd322a" stroke-width="4.4" stroke-linecap="round" d="M540.7 57.1h0M576.7 57.1h0M495.7 84.8h0M414.8 140.2h0"/>
<path stroke="#bd322a" stroke-width="4" stroke-linecap="round" d="M549.7 57.1h0M441.8 149.5h0M320.4 158.7h0"/>
<path stroke="#ca5248" stroke-width="4.4" stroke-linecap="round" d="M554.2 57.1h0"/>
<path stroke="#bd322a" stroke-width="3.2" stroke-linecap="round" d="M558.7 57.1h0"/>
<path stroke="#c6453b" stroke-width="4.4" stroke-linecap="round" d="M563.2 57.1h0M423.8 75.5h0M410.3 131h0"/>
<path stroke="#c6453b" stroke-width="3.6" stroke-linecap="round" d="M567.7 57.1h0M464.3 94h0M329.4 158.7h0"/>
<path stroke="#b92b24" stroke-width="4.4" stroke-linecap="round" d="M572.2 57.1h0"/>
<path stroke="#ca5248" stroke-width="3.6" stroke-linecap="round" d="M581.2 57.1h0M306.9 158.7h0"/>
<path stroke="#e0968e" stroke-width="3.2" stroke-linecap="round" d="M617.2 57.1h0M257.4 84.8h0M599.2 84.8h0M450.8 94h0M455.3 94h0M257.4 103.3h0M428.3 112.5h0M446.3 121.7h0M432.8 131h0M428.3 140.2h0M302.4 158.7h0M378.8 158.7h0"/>
<path stroke="#c4d8dc" stroke-width="2.4" stroke-linecap="round" d="M405.8 66.3h0M536.2 75.5h0M563.2 75.5h0M635.1 75.5h0M293.4 84.8h0M329.4 84.8h0M540.7 84.8h0M621.7 84.8h0M401.3 112.5h0M518.2 112.5h0M545.2 112.5h0M356.3 121.7h0M320.4 131h0M437.3 131h0M293.4 140.2h0M617.2 140.2h0M329.4 149.5h0M522.7 149.5h0M626.2 149.5h0M446.3 167.9h0M473.3 167.9h0M572.2 167.9h0"/>
<path stroke="#e8b4ae" stroke-width="3.6" stroke-linecap="round" d="M414.8 66.3h0M419.3 75.5h0M612.7 75.5h0"/>
<path stroke="#c4d8dc" stroke-width="3.6" stroke-linecap="round" d="M419.3 66.3h0M581.2 112.5h0"/>
<path stroke="#dc867e" stroke-width="4" stroke-linecap="round" d="M423.8 66.3h0M293.4 158.7h0M275.4 167.9h0"/>
<path stroke="#efd3d0" stroke-width="2.4" stroke-linecap="round" d="M261.9 75.5h0M324.9 75.5h0M594.7 75.5h0M351.8 84.8h0M279.9 94h0M351.8 94h0M459.8 94h0M513.7 94h0M374.3 112.5h0M468.8 121.7h0M266.4 131h0M315.9 149.5h0M450.8 149.5h0M365.3 167.9h0"/>
<path stroke="#c4d8dc" stroke-width="2.8" stroke-linecap="round" d="M275.4 75.5h0M459.8 75.5h0M338.3 84.8h0M347.3 84.8h0M360.8 84.8h0M437.3 84.8h0M459.8 84.8h0M581.2 84.8h0M590.2 84.8h0M500.2 103.3h0M540.7 103.3h0M279.9 112.5h0M558.7 112.5h0M531.7 131h0M594.7 131h0M567.7 140.2h0M432.8 149.5h0M459.8 149.5h0M531.7 158.7h0M599.2 158.7h0M509.2 167.9h0M621.7 167.9h0"/>
<path stroke="#f6f2f1" stroke-width="2.8" stroke-linecap="round" d="M284.4 75.5h0M630.7 75.5h0M482.2 84.8h0M275.4 94h0M338.3 94h0M365.3 94h0M360.8 103.3h0M396.8 112.5h0M509.2 140.2h0M338.3 149.5h0"/>
<path stroke="#f6f2f1" stroke-width="1.6" stroke-linecap="round" d="M288.9 75.5h0M617.2 75.5h0M419.3 84.8h0M293.4 94h0M315.9 94h0M378.8 94h0M284.4 103.3h0M414.8 103.3h0M464.3 112.5h0M500.2 112.5h0M504.7 112.5h0M513.7 112.5h0M315.9 131h0M464.3 131h0M482.2 131h0M513.7 131h0M500.2 149.5h0M491.2 158.7h0M464.3 167.9h0"/>
<path stroke="#f2e2e0" stroke-width="1.6" stroke-linecap="round" d="M297.9 75.5h0M405.8 94h0M410.3 94h0M446.3 103.3h0M356.3 112.5h0M329.4 121.7h0M257.4 131h0M473.3 131h0M270.9 158.7h0M437.3 158.7h0M482.2 158.7h0"/>
<path stroke="#cfdfe2" stroke-width="2" stroke-linecap="round" d="M302.4 75.5h0M311.4 84.8h0M410.3 84.8h0M522.7 84.8h0M329.4 94h0M333.8 94h0M522.7 94h0M563.2 94h0M585.7 94h0M356.3 103.3h0M504.7 103.3h0M549.7 103.3h0M554.2 103.3h0M603.7 103.3h0M608.2 103.3h0M459.8 112.5h0M572.2 112.5h0M504.7 131h0M329.4 140.2h0M504.7 140.2h0M531.7 140.2h0M504.7 149.5h0M509.2 149.5h0M572.2 149.5h0M621.7 158.7h0M531.7 167.9h0M549.7 167.9h0"/>
<path stroke="#cfdfe2" stroke-width="2.4" stroke-linecap="round" d="M311.4 75.5h0M338.3 75.5h0M603.7 75.5h0M563.2 84.8h0M536.2 103.3h0M311.4 112.5h0M536.2 112.5h0M513.7 121.7h0M540.7 121.7h0M536.2 131h0M540.7 131h0M549.7 131h0M495.7 140.2h0M536.2 140.2h0M612.7 140.2h0M333.8 149.5h0M545.2 149.5h0M563.2 149.5h0M599.2 149.5h0M518.2 158.7h0M612.7 158.7h0"/>
<path stroke="#dae6e8" stroke-width="1.6" stroke-linecap="round" d="M315.9 75.5h0M581.2 75.5h0M342.8 84.8h0M392.3 84.8h0M396.8 84.8h0M338.3 121.7h0M527.2 131h0M311.4 140.2h0M477.8 140.2h0M477.8 149.5h0"/>
<path stroke="#ecc4bf" stroke-width="2" stroke-linecap="round" d="M320.4 75.5h0M333.8 84.8h0M369.8 94h0M324.9 112.5h0M284.4 149.5h0M356.3 158.7h0M486.7 158.7h0M495.7 167.9h0"/>
<path stroke="#dae6e8" stroke-width="2.8" stroke-linecap="round" d="M333.8 75.5h0M437.3 75.5h0M549.7 75.5h0M275.4 84.8h0M288.9 84.8h0M500.2 84.8h0M432.8 94h0M338.3 103.3h0M423.8 112.5h0M378.8 121.7h0M509.2 121.7h0M257.4 149.5h0M513.7 158.7h0"/>
<path stroke="#e6edee" stroke-width="1.6" stroke-linecap="round" d="M342.8 75.5h0M374.3 84.8h0M324.9 94h0M302.4 103.3h0M459.8 158.7h0"/>
<path stroke="#efd3d0" stroke-width="1.2" stroke-linecap="round" d="M347.3 75.5h0M351.8 75.5h0M342.8 103.3h0M392.3 103.3h0M495.7 112.5h0M293.4 121.7h0M297.9 121.7h0M329.4 131h0M513.7 140.2h0"/>
<path stroke="#f2e2e0" stroke-width="3.2" stroke-linecap="round" d="M360.8 75.5h0"/>
<path stroke="#e6edee" stroke-width="2.8" stroke-linecap="round" d="M369.8 75.5h0M333.8 103.3h0M509.2 112.5h0M306.9 121.7h0M450.8 121.7h0M513.7 149.5h0"/>
<path stroke="#cfdfe2" stroke-width="2.8" stroke-linecap="round" d="M378.8 75.5h0M383.3 75.5h0M527.2 84.8h0M437.3 94h0M545.2 94h0M590.2 94h0M617.2 94h0M531.7 103.3h0M347.3 112.5h0M414.8 121.7h0M261.9 131h0M617.2 131h0M284.4 140.2h0M576.7 140.2h0M608.2 149.5h0M500.2 158.7h0M540.7 158.7h0M585.7 158.7h0M590.2 158.7h0M477.8 167.9h0M603.7 167.9h0"/>
<path stroke="#cfdfe2" stroke-width="1.6" stroke-linecap="round" d="M387.8 75.5h0M455.3 75.5h0M500.2 75.5h0M509.2 75.5h0M324.9 84.8h0M405.8 84.8h0M383.3 103.3h0M522.7 103.3h0M527.2 112.5h0M549.7 112.5h0M576.7 112.5h0M549.7 121.7h0M621.7 121.7h0M545.2 131h0M540.7 140.2h0"/>
<path stroke="#f2e2e0" stroke-width="2" stroke-linecap="round" d="M392.3 75.5h0M554.2 75.5h0M639.6 75.5h0M306.9 103.3h0M284.4 121.7h0M491.2 140.2h0M311.4 149.5h0M495.7 158.7h0M450.8 167.9h0M455.3 167.9h0"/>
<path stroke="#f2e2e0" stroke-width="2.8" stroke-linecap="round" d="M405.8 75.5h0M491.2 75.5h0M585.7 75.5h0M486.7 84.8h0M311.4 94h0M419.3 94h0M410.3 103.3h0M315.9 121.7h0M347.3 149.5h0M473.3 158.7h0"/>
<path stroke="#dae6e8" stroke-width="2" stroke-linecap="round" d="M414.8 75.5h0M621.7 75.5h0M297.9 112.5h0M414.8 112.5h0M423.8 140.2h0M567.7 149.5h0M378.8 167.9h0"/>
<path stroke="#efd3d0" stroke-width="2" stroke-linecap="round" d="M432.8 75.5h0M572.2 75.5h0M284.4 84.8h0M356.3 94h0M297.9 103.3h0M482.2 103.3h0M419.3 112.5h0M477.8 121.7h0M320.4 149.5h0M437.3 167.9h0"/>
<path stroke="#e6edee" stroke-width="2.4" stroke-linecap="round" d="M446.3 75.5h0M576.7 75.5h0M279.9 84.8h0M288.9 140.2h0M437.3 140.2h0M261.9 149.5h0M473.3 149.5h0M432.8 158.7h0M459.8 167.9h0M482.2 167.9h0"/>
<path stroke="#f2e2e0" stroke-width="2.4" stroke-linecap="round" d="M450.8 75.5h0M473.3 75.5h0M590.2 75.5h0M288.9 94h0M396.8 103.3h0M279.9 121.7h0M288.9 121.7h0M302.4 121.7h0M491.2 131h0M257.4 140.2h0"/>
<path stroke="#f6f2f1" stroke-width="2.4" stroke-linecap="round" d="M464.3 75.5h0M284.4 94h0M419.3 103.3h0M495.7 121.7h0M365.3 158.7h0"/>
<path stroke="#efd3d0" stroke-width="1.6" stroke-linecap="round" d="M482.2 75.5h0M383.3 84.8h0M387.8 84.8h0M513.7 103.3h0M257.4 112.5h0M275.4 112.5h0M365.3 121.7h0M477.8 131h0M419.3 140.2h0M257.4 158.7h0M504.7 167.9h0"/>
<path stroke="#e6edee" stroke-width="1.2" stroke-linecap="round" d="M504.7 75.5h0M378.8 84.8h0M288.9 103.3h0M266.4 112.5h0M333.8 112.5h0M468.8 112.5h0M464.3 121.7h0M284.4 131h0"/>
<path stroke="#ecc4bf" stroke-width="2.4" stroke-linecap="round" d="M513.7 75.5h0M270.9 94h0M311.4 103.3h0M486.7 112.5h0"/>
<path stroke="#dae6e8" stroke-width="1.2" stroke-linecap="round" d="M545.2 75.5h0M306.9 84.8h0M374.3 94h0M369.8 103.3h0M284.4 112.5h0M392.3 112.5h0M293.4 131h0M324.9 140.2h0M333.8 140.2h0M279.9 149.5h0M383.3 167.9h0"/>
<path stroke="#f6f2f1" stroke-width="2" stroke-linecap="round" d="M558.7 75.5h0M599.2 75.5h0M626.2 75.5h0M297.9 94h0M347.3 103.3h0M365.3 103.3h0M320.4 121.7h0M405.8 121.7h0M419.3 121.7h0M297.9 140.2h0M468.8 167.9h0"/>
<path stroke="#dae6e8" stroke-width="2.4" stroke-linecap="round" d="M567.7 75.5h0M297.9 84.8h0M320.4 84.8h0M365.3 84.8h0M414.8 84.8h0M275.4 103.3h0M288.9 112.5h0M315.9 112.5h0M266.4 121.7h0M410.3 121.7h0M468.8 131h0M513.7 167.9h0"/>
<path stroke="#e6edee" stroke-width="3.2" stroke-linecap="round" d="M644.1 75.5h0M396.8 121.7h0"/>
<path stroke="#dc867e" stroke-width="3.6" stroke-linecap="round" d="M261.9 84.8h0M441.8 112.5h0M270.9 140.2h0M302.4 140.2h0M369.8 149.5h0M315.9 158.7h0M392.3 158.7h0"/>
<path stroke="#e6edee" stroke-width="2" stroke-linecap="round" d="M356.3 84.8h0M329.4 112.5h0M365.3 112.5h0M383.3 112.5h0M311.4 121.7h0M387.8 121.7h0M401.3 121.7h0M486.7 121.7h0M288.9 131h0M266.4 140.2h0M450.8 140.2h0M500.2 140.2h0M356.3 167.9h0M486.7 167.9h0M500.2 167.9h0"/>
<path stroke="#ecc4bf" stroke-width="2.8" stroke-linecap="round" d="M423.8 84.8h0M455.3 112.5h0M459.8 121.7h0"/>
<path stroke="#f6f2f1" stroke-width="1.2" stroke-linecap="round" d="M441.8 84.8h0M441.8 103.3h0M486.7 103.3h0M360.8 121.7h0M504.7 121.7h0M459.8 140.2h0M464.3 140.2h0M464.3 149.5h0M266.4 167.9h0"/>
<path stroke="#c6453b" stroke-width="3.2" stroke-linecap="round" d="M450.8 84.8h0M455.3 84.8h0M410.3 140.2h0M284.4 158.7h0"/>
<path stroke="#cfdfe2" stroke-width="1.2" stroke-linecap="round" d="M464.3 84.8h0M635.1 84.8h0M639.6 84.8h0M644.1 84.8h0M635.1 94h0M639.6 94h0M644.1 94h0M320.4 103.3h0M635.1 103.3h0M639.6 103.3h0M644.1 103.3h0M387.8 112.5h0M635.1 112.5h0M639.6 112.5h0M644.1 112.5h0M635.1 121.7h0M639.6 121.7h0M644.1 121.7h0M270.9 131h0M428.3 131h0M635.1 131h0M639.6 131h0M644.1 131h0M432.8 140.2h0M635.1 140.2h0M639.6 140.2h0M644.1 140.2h0M486.7 149.5h0M635.1 149.5h0M639.6 149.5h0M644.1 149.5h0M261.9 158.7h0M635.1 158.7h0M639.6 158.7h0M644.1 158.7h0M635.1 167.9h0M639.6 167.9h0M644.1 167.9h0"/>
<path stroke="#bd322a" stroke-width="2.4" stroke-linecap="round" d="M504.7 84.8h0"/>
<path stroke="#c4d8dc" stroke-width="3.2" stroke-linecap="round" d="M594.7 84.8h0M441.8 94h0M563.2 103.3h0M590.2 131h0M590.2 140.2h0M527.2 149.5h0M554.2 149.5h0M563.2 167.9h0"/>
<path stroke="#f2e2e0" stroke-width="1.2" stroke-linecap="round" d="M302.4 94h0M423.8 94h0M279.9 103.3h0M369.8 112.5h0M405.8 112.5h0M482.2 140.2h0M266.4 149.5h0M288.9 149.5h0M293.4 149.5h0M351.8 149.5h0M446.3 158.7h0"/>
<path stroke="#b5241e" stroke-width="2" stroke-linecap="round" d="M482.2 94h0"/>
<path stroke="#cf5e55" stroke-width="3.6" stroke-linecap="round" d="M491.2 94h0M266.4 103.3h0M432.8 121.7h0M396.8 140.2h0"/>
<path stroke="#b5241e" stroke-width="2.8" stroke-linecap="round" d="M500.2 94h0"/>
<path stroke="#b5241e" stroke-width="2.4" stroke-linecap="round" d="M504.7 94h0"/>
<path stroke="#e4a59e" stroke-width="2.8" stroke-linecap="round" d="M509.2 94h0M446.3 112.5h0M387.8 149.5h0"/>
<path stroke="#dae6e8" stroke-width="3.2" stroke-linecap="round" d="M518.2 94h0M500.2 121.7h0M581.2 131h0M468.8 140.2h0M491.2 149.5h0M374.3 167.9h0"/>
<path stroke="#c13a30" stroke-width="4.4" stroke-linecap="round" d="M270.9 103.3h0M275.4 140.2h0M383.3 140.2h0M275.4 149.5h0M320.4 167.9h0M338.3 167.9h0"/>
<path stroke="#f6f2f1" stroke-width="3.2" stroke-linecap="round" d="M401.3 103.3h0M360.8 167.9h0"/>
<path stroke="#b5241e" stroke-width="3.6" stroke-linecap="round" d="M455.3 103.3h0M356.3 149.5h0M446.3 149.5h0"/>
<path stroke="#cfdfe2" stroke-width="3.6" stroke-linecap="round" d="M612.7 103.3h0M531.7 112.5h0M522.7 167.9h0"/>
<path stroke="#ecc4bf" stroke-width="1.6" stroke-linecap="round" d="M338.3 112.5h0M374.3 121.7h0M279.9 131h0M441.8 158.7h0M464.3 158.7h0"/>
<path stroke="#cf5e55" stroke-width="2.8" stroke-linecap="round" d="M437.3 112.5h0M329.4 167.9h0"/>
<path stroke="#cf5e55" stroke-width="4" stroke-linecap="round" d="M477.8 112.5h0"/>
<path stroke="#e4a59e" stroke-width="4" stroke-linecap="round" d="M270.9 121.7h0"/>
<path stroke="#dc867e" stroke-width="3.2" stroke-linecap="round" d="M333.8 121.7h0M351.8 158.7h0M414.8 158.7h0"/>
<path stroke="#e0968e" stroke-width="2.8" stroke-linecap="round" d="M347.3 121.7h0M302.4 131h0"/>
<path stroke="#c6453b" stroke-width="2.8" stroke-linecap="round" d="M437.3 121.7h0"/>
<path stroke="#efd3d0" stroke-width="3.2" stroke-linecap="round" d="M473.3 121.7h0M441.8 131h0"/>
<path stroke="#d8776e" stroke-width="2.8" stroke-linecap="round" d="M324.9 131h0M338.3 158.7h0"/>
<path stroke="#d36b61" stroke-width="2.8" stroke-linecap="round" d="M333.8 131h0"/>
<path stroke="#d36b61" stroke-width="3.6" stroke-linecap="round" d="M338.3 131h0"/>
<path stroke="#dc867e" stroke-width="2.4" stroke-linecap="round" d="M342.8 131h0M360.8 149.5h0"/>
<path stroke="#d36b61" stroke-width="2.4" stroke-linecap="round" d="M347.3 131h0"/>
<path stroke="#dc867e" stroke-width="2.8" stroke-linecap="round" d="M351.8 131h0M392.3 149.5h0"/>
<path stroke="#b92b24" stroke-width="4.8" stroke-linecap="round" d="M383.3 131h0M288.9 167.9h0M297.9 167.9h0"/>
<path stroke="#b92b24" stroke-width="3.6" stroke-linecap="round" d="M387.8 131h0"/>
<path stroke="#b92b24" stroke-width="4" stroke-linecap="round" d="M392.3 131h0M356.3 140.2h0M374.3 140.2h0"/>
<path stroke="#b5241e" stroke-width="4.8" stroke-linecap="round" d="M405.8 131h0"/>
<path stroke="#a8c5cc" stroke-width="3.6" stroke-linecap="round" d="M576.7 131h0M522.7 158.7h0M594.7 158.7h0"/>
<path stroke="#ca5248" stroke-width="3.2" stroke-linecap="round" d="M387.8 140.2h0M392.3 140.2h0"/>
<path stroke="#cf5e55" stroke-width="3.2" stroke-linecap="round" d="M401.3 140.2h0M333.8 167.9h0"/>
<path stroke="#d36b61" stroke-width="4" stroke-linecap="round" d="M270.9 149.5h0M324.9 167.9h0"/>
<path stroke="#d8776e" stroke-width="2.4" stroke-linecap="round" d="M383.3 149.5h0M405.8 158.7h0"/>
<path stroke="#d8776e" stroke-width="3.2" stroke-linecap="round" d="M401.3 149.5h0M383.3 158.7h0M387.8 158.7h0M401.3 158.7h0"/>
<path stroke="#5a93a2" stroke-width="4" stroke-linecap="round" d="M410.3 149.5h0M410.3 167.9h0"/>
<path stroke="#74a2ae" stroke-width="3.6" stroke-linecap="round" d="M414.8 149.5h0"/>
<path stroke="#4e8999" stroke-width="4" stroke-linecap="round" d="M423.8 149.5h0"/>
<path stroke="#ca5248" stroke-width="4" stroke-linecap="round" d="M279.9 158.7h0M297.9 158.7h0M324.9 158.7h0M333.8 158.7h0"/>
<path stroke="#d36b61" stroke-width="3.2" stroke-linecap="round" d="M288.9 158.7h0"/>
<path stroke="#d8776e" stroke-width="4" stroke-linecap="round" d="M311.4 158.7h0"/>
<path stroke="#ecc4bf" stroke-width="1.2" stroke-linecap="round" d="M360.8 158.7h0M257.4 167.9h0M387.8 167.9h0"/>
<path stroke="#e0968e" stroke-width="2.4" stroke-linecap="round" d="M410.3 158.7h0"/>
<path stroke="#c13a30" stroke-width="2.4" stroke-linecap="round" d="M279.9 167.9h0"/>
<path stroke="#bd322a" stroke-width="4.8" stroke-linecap="round" d="M284.4 167.9h0M311.4 167.9h0"/>
<path stroke="#c13a30" stroke-width="4.8" stroke-linecap="round" d="M293.4 167.9h0M302.4 167.9h0M306.9 167.9h0"/>
<path stroke="#c13a30" stroke-width="2.8" stroke-linecap="round" d="M342.8 167.9h0"/>
<path stroke="#d8776e" stroke-width="2" stroke-linecap="round" d="M347.3 167.9h0"/>
<path stroke="#e0968e" stroke-width="4" stroke-linecap="round" d="M392.3 167.9h0"/>
<path stroke="#438090" stroke-width="3.2" stroke-linecap="round" d="M414.8 167.9h0"/>
<circle cx="247.3" cy="20.1" r="3.6" fill="#9ccf9c" stroke="#3a3a3a" stroke-width="0.6"/>
<text x="247.3" y="21.8" font-size="4.7" text-anchor="middle" fill="#333">17</text>
<circle cx="247.3" cy="29.3" r="3.6" fill="#c58bc0" stroke="#3a3a3a" stroke-width="0.6"/>
<text x="247.3" y="31" font-size="4.7" text-anchor="middle" fill="#333">16</text>
<circle cx="247.3" cy="38.6" r="3.6" fill="#f2ecec" stroke="#3a3a3a" stroke-width="0.6"/>
<text x="247.3" y="40.3" font-size="4.7" text-anchor="middle" fill="#333">15</text>
<circle cx="247.3" cy="47.8" r="3.6" fill="#1e3b26" stroke="#3a3a3a" stroke-width="0.6"/>
<text x="247.3" y="49.5" font-size="4.7" text-anchor="middle" fill="#1a1a1a">14</text>
<circle cx="247.3" cy="57.1" r="3.6" fill="#c8be48" stroke="#3a3a3a" stroke-width="0.6"/>
<text x="247.3" y="58.7" font-size="4.7" text-anchor="middle" fill="#333">13</text>
<circle cx="247.3" cy="66.3" r="3.6" fill="#454545" stroke="#3a3a3a" stroke-width="0.6"/>
<text x="247.3" y="68" font-size="4.7" text-anchor="middle" fill="#1a1a1a">12</text>
<circle cx="247.3" cy="75.5" r="3.6" fill="#3b6a88" stroke="#3a3a3a" stroke-width="0.6"/>
<text x="247.3" y="77.2" font-size="4.7" text-anchor="middle" fill="#1a1a1a">11</text>
<circle cx="247.3" cy="84.8" r="3.6" fill="#c9504f" stroke="#3a3a3a" stroke-width="0.6"/>
<text x="247.3" y="86.5" font-size="4.7" text-anchor="middle" fill="#333">10</text>
<circle cx="247.3" cy="94" r="3.6" fill="#9a2a22" stroke="#3a3a3a" stroke-width="0.6"/>
<text x="247.3" y="95.7" font-size="4.7" text-anchor="middle" fill="#1a1a1a">9</text>
<circle cx="247.3" cy="103.3" r="3.6" fill="#a88a68" stroke="#3a3a3a" stroke-width="0.6"/>
<text x="247.3" y="104.9" font-size="4.7" text-anchor="middle" fill="#333">8</text>
<circle cx="247.3" cy="112.5" r="3.6" fill="#c8e4a0" stroke="#3a3a3a" stroke-width="0.6"/>
<text x="247.3" y="114.2" font-size="4.7" text-anchor="middle" fill="#333">7</text>
<circle cx="247.3" cy="121.7" r="3.6" fill="#5e3a8c" stroke="#3a3a3a" stroke-width="0.6"/>
<text x="247.3" y="123.4" font-size="4.7" text-anchor="middle" fill="#1a1a1a">6</text>
<circle cx="247.3" cy="131" r="3.6" fill="#a9449e" stroke="#3a3a3a" stroke-width="0.6"/>
<text x="247.3" y="132.7" font-size="4.7" text-anchor="middle" fill="#1a1a1a">5</text>
<circle cx="247.3" cy="140.2" r="3.6" fill="#a986c4" stroke="#3a3a3a" stroke-width="0.6"/>
<text x="247.3" y="141.9" font-size="4.7" text-anchor="middle" fill="#333">4</text>
<circle cx="247.3" cy="149.5" r="3.6" fill="#8ccfb4" stroke="#3a3a3a" stroke-width="0.6"/>
<text x="247.3" y="151.1" font-size="4.7" text-anchor="middle" fill="#333">3</text>
<circle cx="247.3" cy="158.7" r="3.6" fill="#d8a868" stroke="#3a3a3a" stroke-width="0.6"/>
<text x="247.3" y="160.4" font-size="4.7" text-anchor="middle" fill="#333">2</text>
<circle cx="247.3" cy="167.9" r="3.6" fill="#5aaad8" stroke="#3a3a3a" stroke-width="0.6"/>
<text x="247.3" y="169.6" font-size="4.7" text-anchor="middle" fill="#333">1</text>
<text x="257.4" y="175.5" font-size="4.8" text-anchor="end" fill="#111" transform="rotate(-90 257.4 173.8)">CD24</text>
<text x="261.9" y="175.5" font-size="4.8" text-anchor="end" fill="#111" transform="rotate(-90 261.9 173.8)">CD38</text>
<text x="266.4" y="175.5" font-size="4.8" text-anchor="end" fill="#111" transform="rotate(-90 266.4 173.8)">CD27</text>
<text x="270.9" y="175.5" font-size="4.8" text-anchor="end" fill="#111" transform="rotate(-90 270.9 173.8)">MS4A1</text>
<text x="275.4" y="175.5" font-size="4.8" text-anchor="end" fill="#111" transform="rotate(-90 275.4 173.8)">BANK1</text>
<text x="279.9" y="175.5" font-size="4.8" text-anchor="end" fill="#111" transform="rotate(-90 279.9 173.8)">CD83</text>
<text x="284.4" y="175.5" font-size="4.8" text-anchor="end" fill="#111" transform="rotate(-90 284.4 173.8)">FCER2</text>
<text x="288.9" y="175.5" font-size="4.8" text-anchor="end" fill="#111" transform="rotate(-90 288.9 173.8)">IL4R</text>
<text x="293.4" y="175.5" font-size="4.8" text-anchor="end" fill="#111" transform="rotate(-90 293.4 173.8)">CCR7</text>
<text x="297.9" y="175.5" font-size="4.8" text-anchor="end" fill="#111" transform="rotate(-90 297.9 173.8)">NFKBID</text>
<text x="302.4" y="175.5" font-size="4.8" text-anchor="end" fill="#111" transform="rotate(-90 302.4 173.8)">NFKBIA</text>
<text x="306.9" y="175.5" font-size="4.8" text-anchor="end" fill="#111" transform="rotate(-90 306.9 173.8)">JUNB</text>
<text x="311.4" y="175.5" font-size="4.8" text-anchor="end" fill="#111" transform="rotate(-90 311.4 173.8)">FOS</text>
<text x="315.9" y="175.5" font-size="4.8" text-anchor="end" fill="#111" transform="rotate(-90 315.9 173.8)">EGR1</text>
<text x="320.4" y="175.5" font-size="4.8" text-anchor="end" fill="#111" transform="rotate(-90 320.4 173.8)">CD69</text>
<text x="324.9" y="175.5" font-size="4.8" text-anchor="end" fill="#111" transform="rotate(-90 324.9 173.8)">TNFRSF13B</text>
<text x="329.4" y="175.5" font-size="4.8" text-anchor="end" fill="#111" transform="rotate(-90 329.4 173.8)">IER2</text>
<text x="333.8" y="175.5" font-size="4.8" text-anchor="end" fill="#111" transform="rotate(-90 333.8 173.8)">KLF2</text>
<text x="338.3" y="175.5" font-size="4.8" text-anchor="end" fill="#111" transform="rotate(-90 338.3 173.8)">ZFP36</text>
<text x="342.8" y="175.5" font-size="4.8" text-anchor="end" fill="#111" transform="rotate(-90 342.8 173.8)">SELL</text>
<text x="347.3" y="175.5" font-size="4.8" text-anchor="end" fill="#111" transform="rotate(-90 347.3 173.8)">PLAC8</text>
<text x="351.8" y="175.5" font-size="4.8" text-anchor="end" fill="#111" transform="rotate(-90 351.8 173.8)">SCIMP</text>
<text x="356.3" y="175.5" font-size="4.8" text-anchor="end" fill="#111" transform="rotate(-90 356.3 173.8)">FCRL5</text>
<text x="360.8" y="175.5" font-size="4.8" text-anchor="end" fill="#111" transform="rotate(-90 360.8 173.8)">ITGAX</text>
<text x="365.3" y="175.5" font-size="4.8" text-anchor="end" fill="#111" transform="rotate(-90 365.3 173.8)">TBX21</text>
<text x="369.8" y="175.5" font-size="4.8" text-anchor="end" fill="#111" transform="rotate(-90 369.8 173.8)">ZEB2</text>
<text x="374.3" y="175.5" font-size="4.8" text-anchor="end" fill="#111" transform="rotate(-90 374.3 173.8)">SOX5</text>
<text x="378.8" y="175.5" font-size="4.8" text-anchor="end" fill="#111" transform="rotate(-90 378.8 173.8)">SAMSN1</text>
<text x="383.3" y="175.5" font-size="4.8" text-anchor="end" fill="#111" transform="rotate(-90 383.3 173.8)">HSPA1A</text>
<text x="387.8" y="175.5" font-size="4.8" text-anchor="end" fill="#111" transform="rotate(-90 387.8 173.8)">HSPA1B</text>
<text x="392.3" y="175.5" font-size="4.8" text-anchor="end" fill="#111" transform="rotate(-90 392.3 173.8)">HSPH1</text>
<text x="396.8" y="175.5" font-size="4.8" text-anchor="end" fill="#111" transform="rotate(-90 396.8 173.8)">DNAJB1</text>
<text x="401.3" y="175.5" font-size="4.8" text-anchor="end" fill="#111" transform="rotate(-90 401.3 173.8)">HSPA8</text>
<text x="405.8" y="175.5" font-size="4.8" text-anchor="end" fill="#111" transform="rotate(-90 405.8 173.8)">HSP90AA1</text>
<text x="410.3" y="175.5" font-size="4.8" text-anchor="end" fill="#111" transform="rotate(-90 410.3 173.8)">HSPD1</text>
<text x="414.8" y="175.5" font-size="4.8" text-anchor="end" fill="#111" transform="rotate(-90 414.8 173.8)">HSPE1</text>
<text x="419.3" y="175.5" font-size="4.8" text-anchor="end" fill="#111" transform="rotate(-90 419.3 173.8)">TOX</text>
<text x="423.8" y="175.5" font-size="4.8" text-anchor="end" fill="#111" transform="rotate(-90 423.8 173.8)">FCRL4</text>
<text x="428.3" y="175.5" font-size="4.8" text-anchor="end" fill="#111" transform="rotate(-90 428.3 173.8)">LTB</text>
<text x="432.8" y="175.5" font-size="4.8" text-anchor="end" fill="#111" transform="rotate(-90 432.8 173.8)">CD52</text>
<text x="437.3" y="175.5" font-size="4.8" text-anchor="end" fill="#111" transform="rotate(-90 437.3 173.8)">S100A4</text>
<text x="441.8" y="175.5" font-size="4.8" text-anchor="end" fill="#111" transform="rotate(-90 441.8 173.8)">CCR6</text>
<text x="446.3" y="175.5" font-size="4.8" text-anchor="end" fill="#111" transform="rotate(-90 446.3 173.8)">ITGB1</text>
<text x="450.8" y="175.5" font-size="4.8" text-anchor="end" fill="#111" transform="rotate(-90 450.8 173.8)">ENO1</text>
<text x="455.3" y="175.5" font-size="4.8" text-anchor="end" fill="#111" transform="rotate(-90 455.3 173.8)">NME1</text>
<text x="459.8" y="175.5" font-size="4.8" text-anchor="end" fill="#111" transform="rotate(-90 459.8 173.8)">MYC</text>
<text x="464.3" y="175.5" font-size="4.8" text-anchor="end" fill="#111" transform="rotate(-90 464.3 173.8)">LMO2</text>
<text x="468.8" y="175.5" font-size="4.8" text-anchor="end" fill="#111" transform="rotate(-90 468.8 173.8)">BCL6</text>
<text x="473.3" y="175.5" font-size="4.8" text-anchor="end" fill="#111" transform="rotate(-90 473.3 173.8)">AICDA</text>
<text x="477.8" y="175.5" font-size="4.8" text-anchor="end" fill="#111" transform="rotate(-90 477.8 173.8)">RGS13</text>
<text x="482.2" y="175.5" font-size="4.8" text-anchor="end" fill="#111" transform="rotate(-90 482.2 173.8)">MKI67</text>
<text x="486.7" y="175.5" font-size="4.8" text-anchor="end" fill="#111" transform="rotate(-90 486.7 173.8)">TOP2A</text>
<text x="491.2" y="175.5" font-size="4.8" text-anchor="end" fill="#111" transform="rotate(-90 491.2 173.8)">CENPF</text>
<text x="495.7" y="175.5" font-size="4.8" text-anchor="end" fill="#111" transform="rotate(-90 495.7 173.8)">TUBA1B</text>
<text x="500.2" y="175.5" font-size="4.8" text-anchor="end" fill="#111" transform="rotate(-90 500.2 173.8)">PCNA</text>
<text x="504.7" y="175.5" font-size="4.8" text-anchor="end" fill="#111" transform="rotate(-90 504.7 173.8)">TYMS</text>
<text x="509.2" y="175.5" font-size="4.8" text-anchor="end" fill="#111" transform="rotate(-90 509.2 173.8)">HMGB2</text>
<text x="513.7" y="175.5" font-size="4.8" text-anchor="end" fill="#111" transform="rotate(-90 513.7 173.8)">STMN1</text>
<text x="518.2" y="175.5" font-size="4.8" text-anchor="end" fill="#111" transform="rotate(-90 518.2 173.8)">CD86</text>
<text x="522.7" y="175.5" font-size="4.8" text-anchor="end" fill="#111" transform="rotate(-90 522.7 173.8)">LILRB1</text>
<text x="527.2" y="175.5" font-size="4.8" text-anchor="end" fill="#111" transform="rotate(-90 527.2 173.8)">FGR</text>
<text x="531.7" y="175.5" font-size="4.8" text-anchor="end" fill="#111" transform="rotate(-90 531.7 173.8)">TFEC</text>
<text x="536.2" y="175.5" font-size="4.8" text-anchor="end" fill="#111" transform="rotate(-90 536.2 173.8)">JCHAIN</text>
<text x="540.7" y="175.5" font-size="4.8" text-anchor="end" fill="#111" transform="rotate(-90 540.7 173.8)">XBP1</text>
<text x="545.2" y="175.5" font-size="4.8" text-anchor="end" fill="#111" transform="rotate(-90 545.2 173.8)">PRDM1</text>
<text x="549.7" y="175.5" font-size="4.8" text-anchor="end" fill="#111" transform="rotate(-90 549.7 173.8)">IRF4</text>
<text x="554.2" y="175.5" font-size="4.8" text-anchor="end" fill="#111" transform="rotate(-90 554.2 173.8)">MZB1</text>
<text x="558.7" y="175.5" font-size="4.8" text-anchor="end" fill="#111" transform="rotate(-90 558.7 173.8)">TXNDC5</text>
<text x="563.2" y="175.5" font-size="4.8" text-anchor="end" fill="#111" transform="rotate(-90 563.2 173.8)">ENSBTAG00000009484</text>
<text x="567.7" y="175.5" font-size="4.8" text-anchor="end" fill="#111" transform="rotate(-90 567.7 173.8)">ENSBTAG00000032487</text>
<text x="572.2" y="175.5" font-size="4.8" text-anchor="end" fill="#111" transform="rotate(-90 572.2 173.8)">ENSBTAG00000017732</text>
<text x="576.7" y="175.5" font-size="4.8" text-anchor="end" fill="#111" transform="rotate(-90 576.7 173.8)">S100A11</text>
<text x="581.2" y="175.5" font-size="4.8" text-anchor="end" fill="#111" transform="rotate(-90 581.2 173.8)">S100A6</text>
<text x="585.7" y="175.5" font-size="4.8" text-anchor="end" fill="#111" transform="rotate(-90 585.7 173.8)">ANXA2</text>
<text x="590.2" y="175.5" font-size="4.8" text-anchor="end" fill="#111" transform="rotate(-90 590.2 173.8)">KLF6</text>
<text x="594.7" y="175.5" font-size="4.8" text-anchor="end" fill="#111" transform="rotate(-90 594.7 173.8)">JUN</text>
<text x="599.2" y="175.5" font-size="4.8" text-anchor="end" fill="#111" transform="rotate(-90 599.2 173.8)">DUSP1</text>
<text x="603.7" y="175.5" font-size="4.8" text-anchor="end" fill="#111" transform="rotate(-90 603.7 173.8)">IER3</text>
<text x="608.2" y="175.5" font-size="4.8" text-anchor="end" fill="#111" transform="rotate(-90 608.2 173.8)">ENSBTAG00000051412</text>
<text x="612.7" y="175.5" font-size="4.8" text-anchor="end" fill="#111" transform="rotate(-90 612.7 173.8)">ENSBTAG00000046353</text>
<text x="617.2" y="175.5" font-size="4.8" text-anchor="end" fill="#111" transform="rotate(-90 617.2 173.8)">CITED2</text>
<text x="621.7" y="175.5" font-size="4.8" text-anchor="end" fill="#111" transform="rotate(-90 621.7 173.8)">RUNX3</text>
<text x="626.2" y="175.5" font-size="4.8" text-anchor="end" fill="#111" transform="rotate(-90 626.2 173.8)">GAB2</text>
<text x="630.7" y="175.5" font-size="4.8" text-anchor="end" fill="#111" transform="rotate(-90 630.7 173.8)">ZBP1</text>
<text x="635.1" y="175.5" font-size="4.8" text-anchor="end" fill="#111" transform="rotate(-90 635.1 173.8)">C1QA</text>
<text x="639.6" y="175.5" font-size="4.8" text-anchor="end" fill="#111" transform="rotate(-90 639.6 173.8)">C1QB</text>
<text x="644.1" y="175.5" font-size="4.8" text-anchor="end" fill="#111" transform="rotate(-90 644.1 173.8)">C1QC</text>
<text x="650.3" y="49.2" font-size="7.2" stroke="#222" stroke-width="0.22">Average</text>
<text x="650.3" y="56.5" font-size="7.2" stroke="#222" stroke-width="0.22">Expression</text>
<linearGradient id="bgr" x1="0" y1="0" x2="0" y2="1"><stop offset="0" stop-color="#c0392e"/><stop offset="0.5" stop-color="#f7f4f3"/><stop offset="1" stop-color="#2a7385"/></linearGradient>
<rect x="650.2" y="61" width="5.7" height="28.6" fill="url(#bgr)"/>
<text x="659.6" y="67.3" font-size="7" stroke="#222" stroke-width="0.22">2</text>
<text x="659.6" y="72.9" font-size="7" stroke="#222" stroke-width="0.22">1</text>
<text x="659.6" y="79.1" font-size="7" stroke="#222" stroke-width="0.22">0</text>
<text x="659.6" y="85.3" font-size="7" stroke="#222" stroke-width="0.22">−1</text>
<text x="659.6" y="91.5" font-size="7" stroke="#222" stroke-width="0.22">−2</text>
<text x="650.3" y="100.3" font-size="7.2" stroke="#222" stroke-width="0.22">Percent</text>
<text x="650.3" y="107.7" font-size="7.2" stroke="#222" stroke-width="0.22">Expressed</text>
<circle cx="653.4" cy="115.6" r="0.2" fill="#111"/>
<text x="659.6" y="118.1" font-size="7" stroke="#222" stroke-width="0.22">0</text>
<circle cx="653.4" cy="122" r="1" fill="#111"/>
<text x="659.6" y="124.5" font-size="7" stroke="#222" stroke-width="0.22">25</text>
<circle cx="653.4" cy="128.8" r="1.4" fill="#111"/>
<text x="659.6" y="131.3" font-size="7" stroke="#222" stroke-width="0.22">50</text>
<circle cx="653.4" cy="135.4" r="1.9" fill="#111"/>
<text x="659.6" y="137.9" font-size="7" stroke="#222" stroke-width="0.22">75</text>
<circle cx="653.4" cy="142.2" r="2.3" fill="#111"/>
<text x="659.6" y="144.7" font-size="7" stroke="#222" stroke-width="0.22">100</text>
<text x="2.3" y="237" font-size="14.2">c</text>
<path d="M32.2 247.7V235.5H112.9V244.9 M9.8 256V247.7H54.4V253.8 M99.8 256V244.9H125.7V251.9" fill="none" stroke="#222" stroke-width="0.8"/>
<path d="M14 256V254.7H28V256 M21 254.7V253.6H44V254.6 M37 256V254.6H52V256 M44 253.6V252.9H62V254.4 M54 256V254.4H70V256 M62 254.4V253.8H86 M78 256V254.4H94V256 M86 253.8V253.8 M86 254.4V253.2H102 M102 256V253.2 M54.4 253.8V252.8" fill="none" stroke="#222" stroke-width="0.7"/>
<path d="M116 256V253.8H121.8V251.9 M121.8 251.9V251.9 M125.7 251.9V253.8H133V256 M130 253.8H137.4 M137.4 253.8V256 M140.6 256V253.8H137.4" fill="none" stroke="#444" stroke-width="0.6"/>
<rect x="6.5" y="255.9" width="8.1" height="3.7" fill="#3b6a88"/>
<rect x="14.6" y="255.9" width="8.1" height="3.7" fill="#a986c4"/>
<rect x="22.7" y="255.9" width="8.1" height="3.7" fill="#5aaad8"/>
<rect x="30.8" y="255.9" width="8.1" height="3.7" fill="#d8a868"/>
<rect x="38.9" y="255.9" width="8.1" height="3.7" fill="#a9449e"/>
<rect x="47" y="255.9" width="8.1" height="3.7" fill="#8ccfb4"/>
<rect x="55.2" y="255.9" width="8.1" height="3.7" fill="#c8e4a0"/>
<rect x="63.3" y="255.9" width="8.1" height="3.7" fill="#5e3a8c"/>
<rect x="71.4" y="255.9" width="8.1" height="3.7" fill="#a88a68"/>
<rect x="79.5" y="255.9" width="8.1" height="3.7" fill="#c9504f"/>
<rect x="87.6" y="255.9" width="8.1" height="3.7" fill="#9a2a22"/>
<rect x="95.7" y="255.9" width="8.1" height="3.7" fill="#454545"/>
<rect x="103.8" y="255.9" width="8.1" height="3.7" fill="#c58bc0"/>
<rect x="111.9" y="255.9" width="8.1" height="3.7" fill="#9ccf9c"/>
<rect x="120" y="255.9" width="8.1" height="3.7" fill="#e8c8c8"/>
<rect x="128.1" y="255.9" width="8.1" height="3.7" fill="#1e3b26"/>
<rect x="136.3" y="255.9" width="8.1" height="3.7" fill="#c8be48"/>
<path d="M6.5 260.6L14.6 260.6L14.6 268.6Z" fill="#d73229"/>
<rect x="14.6" y="260.6" width="8.1" height="8" fill="#efa96d" stroke="#a8a8a8" stroke-width="0.6"/>
<rect x="22.7" y="260.6" width="8.1" height="8" fill="#efa96d" stroke="#a8a8a8" stroke-width="0.6"/>
<rect x="30.8" y="260.6" width="8.1" height="8" fill="#efa96d" stroke="#a8a8a8" stroke-width="0.6"/>
<rect x="38.9" y="260.6" width="8.1" height="8" fill="#efa96d" stroke="#a8a8a8" stroke-width="0.6"/>
<rect x="47" y="260.6" width="8.1" height="8" fill="#efa96d" stroke="#a8a8a8" stroke-width="0.6"/>
<rect x="55.2" y="260.6" width="8.1" height="8" fill="#efa96d" stroke="#a8a8a8" stroke-width="0.6"/>
<rect x="63.3" y="260.6" width="8.1" height="8" fill="#efa96d" stroke="#a8a8a8" stroke-width="0.6"/>
<rect x="71.4" y="260.6" width="8.1" height="8" fill="#efa96d" stroke="#a8a8a8" stroke-width="0.6"/>
<rect x="79.5" y="260.6" width="8.1" height="8" fill="#efa96d" stroke="#a8a8a8" stroke-width="0.6"/>
<rect x="87.6" y="260.6" width="8.1" height="8" fill="#efa96d" stroke="#a8a8a8" stroke-width="0.6"/>
<rect x="95.7" y="260.6" width="8.1" height="8" fill="#ea8656" stroke="#a8a8a8" stroke-width="0.6"/>
<rect x="103.8" y="260.6" width="8.1" height="8" fill="#faf8d5" stroke="#a8a8a8" stroke-width="0.6"/>
<rect x="111.9" y="260.6" width="8.1" height="8" fill="#faf8d5" stroke="#a8a8a8" stroke-width="0.6"/>
<rect x="120" y="260.6" width="8.1" height="8" fill="#faf8d5" stroke="#a8a8a8" stroke-width="0.6"/>
<rect x="128.1" y="260.6" width="8.1" height="8" fill="#faf8d5" stroke="#a8a8a8" stroke-width="0.6"/>
<rect x="136.3" y="260.6" width="8.1" height="8" fill="#faf8d5" stroke="#a8a8a8" stroke-width="0.6"/>
<path d="M14.6 268.6L22.7 268.6L22.7 276.5Z" fill="#d73229"/>
<rect x="22.7" y="268.6" width="8.1" height="8" fill="#dd4834" stroke="#a8a8a8" stroke-width="0.6"/>
<rect x="30.8" y="268.6" width="8.1" height="8" fill="#de4c36" stroke="#a8a8a8" stroke-width="0.6"/>
<rect x="38.9" y="268.6" width="8.1" height="8" fill="#df4f37" stroke="#a8a8a8" stroke-width="0.6"/>
<rect x="47" y="268.6" width="8.1" height="8" fill="#e0553a" stroke="#a8a8a8" stroke-width="0.6"/>
<rect x="55.2" y="268.6" width="8.1" height="8" fill="#e0543a" stroke="#a8a8a8" stroke-width="0.6"/>
<rect x="63.3" y="268.6" width="8.1" height="8" fill="#e1583b" stroke="#a8a8a8" stroke-width="0.6"/>
<rect x="71.4" y="268.6" width="8.1" height="8" fill="#e3603f" stroke="#a8a8a8" stroke-width="0.6"/>
<rect x="79.5" y="268.6" width="8.1" height="8" fill="#e46140" stroke="#a8a8a8" stroke-width="0.6"/>
<rect x="87.6" y="268.6" width="8.1" height="8" fill="#e56542" stroke="#a8a8a8" stroke-width="0.6"/>
<rect x="95.7" y="268.6" width="8.1" height="8" fill="#f7f1b5" stroke="#a8a8a8" stroke-width="0.6"/>
<rect x="103.8" y="268.6" width="8.1" height="8" fill="#fdfdee" stroke="#a8a8a8" stroke-width="0.6"/>
<rect x="111.9" y="268.6" width="8.1" height="8" fill="#fdfdee" stroke="#a8a8a8" stroke-width="0.6"/>
<rect x="120" y="268.6" width="8.1" height="8" fill="#fdfdee" stroke="#a8a8a8" stroke-width="0.6"/>
<rect x="128.1" y="268.6" width="8.1" height="8" fill="#fdfdee" stroke="#a8a8a8" stroke-width="0.6"/>
<rect x="136.3" y="268.6" width="8.1" height="8" fill="#fdfdee" stroke="#a8a8a8" stroke-width="0.6"/>
<path d="M22.7 276.5L30.8 276.5L30.8 284.5Z" fill="#d73229"/>
<rect x="30.8" y="276.5" width="8.1" height="8" fill="#dd4a35" stroke="#a8a8a8" stroke-width="0.6"/>
<rect x="38.9" y="276.5" width="8.1" height="8" fill="#df5138" stroke="#a8a8a8" stroke-width="0.6"/>
<rect x="47" y="276.5" width="8.1" height="8" fill="#e0543a" stroke="#a8a8a8" stroke-width="0.6"/>
<rect x="55.2" y="276.5" width="8.1" height="8" fill="#df5038" stroke="#a8a8a8" stroke-width="0.6"/>
<rect x="63.3" y="276.5" width="8.1" height="8" fill="#e0543a" stroke="#a8a8a8" stroke-width="0.6"/>
<rect x="71.4" y="276.5" width="8.1" height="8" fill="#e0553a" stroke="#a8a8a8" stroke-width="0.6"/>
<rect x="79.5" y="276.5" width="8.1" height="8" fill="#e35f3f" stroke="#a8a8a8" stroke-width="0.6"/>
<rect x="87.6" y="276.5" width="8.1" height="8" fill="#e56542" stroke="#a8a8a8" stroke-width="0.6"/>
<rect x="95.7" y="276.5" width="8.1" height="8" fill="#f7f1b5" stroke="#a8a8a8" stroke-width="0.6"/>
<rect x="103.8" y="276.5" width="8.1" height="8" fill="#fdfdee" stroke="#a8a8a8" stroke-width="0.6"/>
<rect x="111.9" y="276.5" width="8.1" height="8" fill="#fdfdee" stroke="#a8a8a8" stroke-width="0.6"/>
<rect x="120" y="276.5" width="8.1" height="8" fill="#fdfdee" stroke="#a8a8a8" stroke-width="0.6"/>
<rect x="128.1" y="276.5" width="8.1" height="8" fill="#fdfdee" stroke="#a8a8a8" stroke-width="0.6"/>
<rect x="136.3" y="276.5" width="8.1" height="8" fill="#fdfdee" stroke="#a8a8a8" stroke-width="0.6"/>
<path d="M30.8 284.5L38.9 284.5L38.9 292.4Z" fill="#d73229"/>
<rect x="38.9" y="284.5" width="8.1" height="8" fill="#de4c36" stroke="#a8a8a8" stroke-width="0.6"/>
<rect x="47" y="284.5" width="8.1" height="8" fill="#de4e36" stroke="#a8a8a8" stroke-width="0.6"/>
<rect x="55.2" y="284.5" width="8.1" height="8" fill="#df5138" stroke="#a8a8a8" stroke-width="0.6"/>
<rect x="63.3" y="284.5" width="8.1" height="8" fill="#e1573b" stroke="#a8a8a8" stroke-width="0.6"/>
<rect x="71.4" y="284.5" width="8.1" height="8" fill="#e1553a" stroke="#a8a8a8" stroke-width="0.6"/>
<rect x="79.5" y="284.5" width="8.1" height="8" fill="#e35e3e" stroke="#a8a8a8" stroke-width="0.6"/>
<rect x="87.6" y="284.5" width="8.1" height="8" fill="#e1583b" stroke="#a8a8a8" stroke-width="0.6"/>
<rect x="95.7" y="284.5" width="8.1" height="8" fill="#f7f1b5" stroke="#a8a8a8" stroke-width="0.6"/>
<rect x="103.8" y="284.5" width="8.1" height="8" fill="#fdfdee" stroke="#a8a8a8" stroke-width="0.6"/>
<rect x="111.9" y="284.5" width="8.1" height="8" fill="#fdfdee" stroke="#a8a8a8" stroke-width="0.6"/>
<rect x="120" y="284.5" width="8.1" height="8" fill="#fdfdee" stroke="#a8a8a8" stroke-width="0.6"/>
<rect x="128.1" y="284.5" width="8.1" height="8" fill="#fdfdee" stroke="#a8a8a8" stroke-width="0.6"/>
<rect x="136.3" y="284.5" width="8.1" height="8" fill="#fdfdee" stroke="#a8a8a8" stroke-width="0.6"/>
<path d="M38.9 292.4L47 292.4L47 300.4Z" fill="#d73229"/>
<rect x="47" y="292.4" width="8.1" height="8" fill="#dd4834" stroke="#a8a8a8" stroke-width="0.6"/>
<rect x="55.2" y="292.4" width="8.1" height="8" fill="#de4c36" stroke="#a8a8a8" stroke-width="0.6"/>
<rect x="63.3" y="292.4" width="8.1" height="8" fill="#e05238" stroke="#a8a8a8" stroke-width="0.6"/>
<rect x="71.4" y="292.4" width="8.1" height="8" fill="#e05439" stroke="#a8a8a8" stroke-width="0.6"/>
<rect x="79.5" y="292.4" width="8.1" height="8" fill="#e1563b" stroke="#a8a8a8" stroke-width="0.6"/>
<rect x="87.6" y="292.4" width="8.1" height="8" fill="#e25a3c" stroke="#a8a8a8" stroke-width="0.6"/>
<rect x="95.7" y="292.4" width="8.1" height="8" fill="#f7f1b5" stroke="#a8a8a8" stroke-width="0.6"/>
<rect x="103.8" y="292.4" width="8.1" height="8" fill="#fdfdee" stroke="#a8a8a8" stroke-width="0.6"/>
<rect x="111.9" y="292.4" width="8.1" height="8" fill="#fdfdee" stroke="#a8a8a8" stroke-width="0.6"/>
<rect x="120" y="292.4" width="8.1" height="8" fill="#fdfdee" stroke="#a8a8a8" stroke-width="0.6"/>
<rect x="128.1" y="292.4" width="8.1" height="8" fill="#fdfdee" stroke="#a8a8a8" stroke-width="0.6"/>
<rect x="136.3" y="292.4" width="8.1" height="8" fill="#fdfdee" stroke="#a8a8a8" stroke-width="0.6"/>
<path d="M47 300.4L55.2 300.4L55.2 308.4Z" fill="#d73229"/>
<rect x="55.2" y="300.4" width="8.1" height="8" fill="#dd4934" stroke="#a8a8a8" stroke-width="0.6"/>
<rect x="63.3" y="300.4" width="8.1" height="8" fill="#df5138" stroke="#a8a8a8" stroke-width="0.6"/>
<rect x="71.4" y="300.4" width="8.1" height="8" fill="#df4f37" stroke="#a8a8a8" stroke-width="0.6"/>
<rect x="79.5" y="300.4" width="8.1" height="8" fill="#e1583b" stroke="#a8a8a8" stroke-width="0.6"/>
<rect x="87.6" y="300.4" width="8.1" height="8" fill="#e25c3d" stroke="#a8a8a8" stroke-width="0.6"/>
<rect x="95.7" y="300.4" width="8.1" height="8" fill="#f7f1b5" stroke="#a8a8a8" stroke-width="0.6"/>
<rect x="103.8" y="300.4" width="8.1" height="8" fill="#fdfdee" stroke="#a8a8a8" stroke-width="0.6"/>
<rect x="111.9" y="300.4" width="8.1" height="8" fill="#fdfdee" stroke="#a8a8a8" stroke-width="0.6"/>
<rect x="120" y="300.4" width="8.1" height="8" fill="#fdfdee" stroke="#a8a8a8" stroke-width="0.6"/>
<rect x="128.1" y="300.4" width="8.1" height="8" fill="#fdfdee" stroke="#a8a8a8" stroke-width="0.6"/>
<rect x="136.3" y="300.4" width="8.1" height="8" fill="#fdfdee" stroke="#a8a8a8" stroke-width="0.6"/>
<path d="M55.2 308.4L63.3 308.4L63.3 316.3Z" fill="#d73229"/>
<rect x="63.3" y="308.4" width="8.1" height="8" fill="#dd4834" stroke="#a8a8a8" stroke-width="0.6"/>
<rect x="71.4" y="308.4" width="8.1" height="8" fill="#dd4934" stroke="#a8a8a8" stroke-width="0.6"/>
<rect x="79.5" y="308.4" width="8.1" height="8" fill="#df4f37" stroke="#a8a8a8" stroke-width="0.6"/>
<rect x="87.6" y="308.4" width="8.1" height="8" fill="#df5138" stroke="#a8a8a8" stroke-width="0.6"/>
<rect x="95.7" y="308.4" width="8.1" height="8" fill="#f7f1b5" stroke="#a8a8a8" stroke-width="0.6"/>
<rect x="103.8" y="308.4" width="8.1" height="8" fill="#fdfdee" stroke="#a8a8a8" stroke-width="0.6"/>
<rect x="111.9" y="308.4" width="8.1" height="8" fill="#fdfdee" stroke="#a8a8a8" stroke-width="0.6"/>
<rect x="120" y="308.4" width="8.1" height="8" fill="#fdfdee" stroke="#a8a8a8" stroke-width="0.6"/>
<rect x="128.1" y="308.4" width="8.1" height="8" fill="#fdfdee" stroke="#a8a8a8" stroke-width="0.6"/>
<rect x="136.3" y="308.4" width="8.1" height="8" fill="#fdfdee" stroke="#a8a8a8" stroke-width="0.6"/>
<path d="M63.3 316.3L71.4 316.3L71.4 324.3Z" fill="#d73229"/>
<rect x="71.4" y="316.3" width="8.1" height="8" fill="#dd4733" stroke="#a8a8a8" stroke-width="0.6"/>
<rect x="79.5" y="316.3" width="8.1" height="8" fill="#de4c36" stroke="#a8a8a8" stroke-width="0.6"/>
<rect x="87.6" y="316.3" width="8.1" height="8" fill="#df5138" stroke="#a8a8a8" stroke-width="0.6"/>
<rect x="95.7" y="316.3" width="8.1" height="8" fill="#f7f1b5" stroke="#a8a8a8" stroke-width="0.6"/>
<rect x="103.8" y="316.3" width="8.1" height="8" fill="#fdfdee" stroke="#a8a8a8" stroke-width="0.6"/>
<rect x="111.9" y="316.3" width="8.1" height="8" fill="#fdfdee" stroke="#a8a8a8" stroke-width="0.6"/>
<rect x="120" y="316.3" width="8.1" height="8" fill="#fdfdee" stroke="#a8a8a8" stroke-width="0.6"/>
<rect x="128.1" y="316.3" width="8.1" height="8" fill="#fdfdee" stroke="#a8a8a8" stroke-width="0.6"/>
<rect x="136.3" y="316.3" width="8.1" height="8" fill="#fdfdee" stroke="#a8a8a8" stroke-width="0.6"/>
<path d="M71.4 324.3L79.5 324.3L79.5 332.2Z" fill="#d73229"/>
<rect x="79.5" y="324.3" width="8.1" height="8" fill="#de4b35" stroke="#a8a8a8" stroke-width="0.6"/>
<rect x="87.6" y="324.3" width="8.1" height="8" fill="#de4b35" stroke="#a8a8a8" stroke-width="0.6"/>
<rect x="95.7" y="324.3" width="8.1" height="8" fill="#f7f1b5" stroke="#a8a8a8" stroke-width="0.6"/>
<rect x="103.8" y="324.3" width="8.1" height="8" fill="#fdfdee" stroke="#a8a8a8" stroke-width="0.6"/>
<rect x="111.9" y="324.3" width="8.1" height="8" fill="#fdfdee" stroke="#a8a8a8" stroke-width="0.6"/>
<rect x="120" y="324.3" width="8.1" height="8" fill="#fdfdee" stroke="#a8a8a8" stroke-width="0.6"/>
<rect x="128.1" y="324.3" width="8.1" height="8" fill="#fdfdee" stroke="#a8a8a8" stroke-width="0.6"/>
<rect x="136.3" y="324.3" width="8.1" height="8" fill="#fdfdee" stroke="#a8a8a8" stroke-width="0.6"/>
<path d="M79.5 332.2L87.6 332.2L87.6 340.2Z" fill="#d73229"/>
<rect x="87.6" y="332.2" width="8.1" height="8" fill="#dc4532" stroke="#a8a8a8" stroke-width="0.6"/>
<rect x="95.7" y="332.2" width="8.1" height="8" fill="#f7f1b5" stroke="#a8a8a8" stroke-width="0.6"/>
<rect x="103.8" y="332.2" width="8.1" height="8" fill="#fdfdee" stroke="#a8a8a8" stroke-width="0.6"/>
<rect x="111.9" y="332.2" width="8.1" height="8" fill="#fdfdee" stroke="#a8a8a8" stroke-width="0.6"/>
<rect x="120" y="332.2" width="8.1" height="8" fill="#fdfdee" stroke="#a8a8a8" stroke-width="0.6"/>
<rect x="128.1" y="332.2" width="8.1" height="8" fill="#fdfdee" stroke="#a8a8a8" stroke-width="0.6"/>
<rect x="136.3" y="332.2" width="8.1" height="8" fill="#fdfdee" stroke="#a8a8a8" stroke-width="0.6"/>
<path d="M87.6 340.2L95.7 340.2L95.7 348.2Z" fill="#d73229"/>
<rect x="95.7" y="340.2" width="8.1" height="8" fill="#f7f1b5" stroke="#a8a8a8" stroke-width="0.6"/>
<rect x="103.8" y="340.2" width="8.1" height="8" fill="#fdfdee" stroke="#a8a8a8" stroke-width="0.6"/>
<rect x="111.9" y="340.2" width="8.1" height="8" fill="#fdfdee" stroke="#a8a8a8" stroke-width="0.6"/>
<rect x="120" y="340.2" width="8.1" height="8" fill="#fdfdee" stroke="#a8a8a8" stroke-width="0.6"/>
<rect x="128.1" y="340.2" width="8.1" height="8" fill="#fdfdee" stroke="#a8a8a8" stroke-width="0.6"/>
<rect x="136.3" y="340.2" width="8.1" height="8" fill="#fdfdee" stroke="#a8a8a8" stroke-width="0.6"/>
<path d="M95.7 348.2L103.8 348.2L103.8 356.1Z" fill="#d73229"/>
<rect x="103.8" y="348.2" width="8.1" height="8" fill="#ec9460" stroke="#a8a8a8" stroke-width="0.6"/>
<rect x="111.9" y="348.2" width="8.1" height="8" fill="#ec9460" stroke="#a8a8a8" stroke-width="0.6"/>
<rect x="120" y="348.2" width="8.1" height="8" fill="#ec9460" stroke="#a8a8a8" stroke-width="0.6"/>
<rect x="128.1" y="348.2" width="8.1" height="8" fill="#ec9460" stroke="#a8a8a8" stroke-width="0.6"/>
<rect x="136.3" y="348.2" width="8.1" height="8" fill="#ec9460" stroke="#a8a8a8" stroke-width="0.6"/>
<path d="M103.8 356.1L111.9 356.1L111.9 364.1Z" fill="#d73229"/>
<rect x="111.9" y="356.1" width="8.1" height="8" fill="#db4130" stroke="#a8a8a8" stroke-width="0.6"/>
<rect x="120" y="356.1" width="8.1" height="8" fill="#dc4432" stroke="#a8a8a8" stroke-width="0.6"/>
<rect x="128.1" y="356.1" width="8.1" height="8" fill="#dc4633" stroke="#a8a8a8" stroke-width="0.6"/>
<rect x="136.3" y="356.1" width="8.1" height="8" fill="#db4231" stroke="#a8a8a8" stroke-width="0.6"/>
<path d="M111.9 364.1L120 364.1L120 372Z" fill="#d73229"/>
<rect x="120" y="364.1" width="8.1" height="8" fill="#db4130" stroke="#a8a8a8" stroke-width="0.6"/>
<rect x="128.1" y="364.1" width="8.1" height="8" fill="#dd4833" stroke="#a8a8a8" stroke-width="0.6"/>
<rect x="136.3" y="364.1" width="8.1" height="8" fill="#dc4432" stroke="#a8a8a8" stroke-width="0.6"/>
<path d="M120 372L128.1 372L128.1 380Z" fill="#d73229"/>
<rect x="128.1" y="372" width="8.1" height="8" fill="#dd4934" stroke="#a8a8a8" stroke-width="0.6"/>
<rect x="136.3" y="372" width="8.1" height="8" fill="#dd4a35" stroke="#a8a8a8" stroke-width="0.6"/>
<path d="M128.1 380L136.3 380L136.3 388Z" fill="#d73229"/>
<rect x="136.3" y="380" width="8.1" height="8" fill="#dc4431" stroke="#a8a8a8" stroke-width="0.6"/>
<path d="M136.3 388L144.4 388L144.4 395.9Z" fill="#d73229"/>
<circle cx="150.9" cy="264.6" r="3.9" fill="#3b6a88" stroke="#3a3a3a" stroke-width="0.6"/>
<text x="150.9" y="266.4" font-size="5" text-anchor="middle" fill="#1a1a1a">11</text>
<circle cx="150.9" cy="272.5" r="3.9" fill="#a986c4" stroke="#3a3a3a" stroke-width="0.6"/>
<text x="150.9" y="274.3" font-size="5" text-anchor="middle" fill="#333">4</text>
<circle cx="150.9" cy="280.5" r="3.9" fill="#5aaad8" stroke="#3a3a3a" stroke-width="0.6"/>
<text x="150.9" y="282.3" font-size="5" text-anchor="middle" fill="#333">1</text>
<circle cx="150.9" cy="288.5" r="3.9" fill="#d8a868" stroke="#3a3a3a" stroke-width="0.6"/>
<text x="150.9" y="290.3" font-size="5" text-anchor="middle" fill="#333">2</text>
<circle cx="150.9" cy="296.4" r="3.9" fill="#a9449e" stroke="#3a3a3a" stroke-width="0.6"/>
<text x="150.9" y="298.2" font-size="5" text-anchor="middle" fill="#1a1a1a">5</text>
<circle cx="150.9" cy="304.4" r="3.9" fill="#8ccfb4" stroke="#3a3a3a" stroke-width="0.6"/>
<text x="150.9" y="306.2" font-size="5" text-anchor="middle" fill="#333">3</text>
<circle cx="150.9" cy="312.3" r="3.9" fill="#c8e4a0" stroke="#3a3a3a" stroke-width="0.6"/>
<text x="150.9" y="314.1" font-size="5" text-anchor="middle" fill="#333">7</text>
<circle cx="150.9" cy="320.3" r="3.9" fill="#5e3a8c" stroke="#3a3a3a" stroke-width="0.6"/>
<text x="150.9" y="322.1" font-size="5" text-anchor="middle" fill="#1a1a1a">6</text>
<circle cx="150.9" cy="328.3" r="3.9" fill="#a88a68" stroke="#3a3a3a" stroke-width="0.6"/>
<text x="150.9" y="330.1" font-size="5" text-anchor="middle" fill="#333">8</text>
<circle cx="150.9" cy="336.2" r="3.9" fill="#c9504f" stroke="#3a3a3a" stroke-width="0.6"/>
<text x="150.9" y="338" font-size="5" text-anchor="middle" fill="#333">10</text>
<circle cx="150.9" cy="344.2" r="3.9" fill="#9a2a22" stroke="#3a3a3a" stroke-width="0.6"/>
<text x="150.9" y="346" font-size="5" text-anchor="middle" fill="#1a1a1a">9</text>
<circle cx="150.9" cy="352.1" r="3.9" fill="#454545" stroke="#3a3a3a" stroke-width="0.6"/>
<text x="150.9" y="353.9" font-size="5" text-anchor="middle" fill="#1a1a1a">12</text>
<circle cx="150.9" cy="360.1" r="3.9" fill="#c58bc0" stroke="#3a3a3a" stroke-width="0.6"/>
<text x="150.9" y="361.9" font-size="5" text-anchor="middle" fill="#333">16</text>
<circle cx="150.9" cy="368.1" r="3.9" fill="#9ccf9c" stroke="#3a3a3a" stroke-width="0.6"/>
<text x="150.9" y="369.9" font-size="5" text-anchor="middle" fill="#333">17</text>
<circle cx="150.9" cy="376" r="3.9" fill="#f2ecec" stroke="#3a3a3a" stroke-width="0.6"/>
<text x="150.9" y="377.8" font-size="5" text-anchor="middle" fill="#333">15</text>
<circle cx="150.9" cy="384" r="3.9" fill="#1e3b26" stroke="#3a3a3a" stroke-width="0.6"/>
<text x="150.9" y="385.8" font-size="5" text-anchor="middle" fill="#1a1a1a">14</text>
<circle cx="150.9" cy="391.9" r="3.9" fill="#c8be48" stroke="#3a3a3a" stroke-width="0.6"/>
<text x="150.9" y="393.7" font-size="5" text-anchor="middle" fill="#333">13</text>
<linearGradient id="cgr" x1="0" y1="1" x2="0" y2="0"><stop offset="0" stop-color="#ffffff"/><stop offset="0.2" stop-color="#fbfbe0"/><stop offset="0.4" stop-color="#f6eeaa"/><stop offset="0.6" stop-color="#f0b072"/><stop offset="0.8" stop-color="#e66a44"/><stop offset="1" stop-color="#d73229"/></linearGradient>
<rect x="25.2" y="323.5" width="6.8" height="52" fill="url(#cgr)"/>
<text x="34.8" y="327.7" font-size="6.6" fill="#333" stroke="#333" stroke-width="0.22">1.0</text>
<text x="34.8" y="337.6" font-size="6.6" fill="#333" stroke="#333" stroke-width="0.22">0.8</text>
<text x="34.8" y="347.5" font-size="6.6" fill="#333" stroke="#333" stroke-width="0.22">0.6</text>
<text x="34.8" y="357.4" font-size="6.6" fill="#333" stroke="#333" stroke-width="0.22">0.4</text>
<text x="34.8" y="367.4" font-size="6.6" fill="#333" stroke="#333" stroke-width="0.22">0.2</text>
<text x="34.8" y="377.3" font-size="6.6" fill="#333" stroke="#333" stroke-width="0.22">0.0</text>
<text x="19.2" y="351.9" font-size="8.2" text-anchor="middle" stroke="#222" stroke-width="0.22" transform="rotate(-90 19.2 348.9)">Pearson correlation</text>
<text x="149.3" y="236.7" font-size="14.2">d</text>
<path d="M218 239V219.9H329.6V231.3 M189.1 239H247.6 M218 239V239 M189.1 239V243.4 M178.6 243.4H200.1 M178.6 243.4V250 M173.2 250H182.8 M173.2 250V253 M182.8 250V253 M200.1 243.4V248.4 M192.5 248.4H207.3 M192.5 248.4V253 M207.3 248.4V251 M202.2 251H212 M202.2 251V253 M212 251V253 M247.6 239V241.5 M232 241.5H262 M232 241.5V247.8 M221.2 247.8H237.5 M221.2 247.8V253 M237.5 247.8V250.6 M230.9 250.6H241.2 M230.9 250.6V253 M241.2 250.6V253 M262 241.5V246.5 M255.5 246.5H268.5 M255.5 246.5V250 M250.8 250H260.4 M250.8 250V253 M260.4 250V253 M268.5 246.5V250.5 M270 250.5H279.5 M263.8 250.5H273 M270 250.5V253 M279.5 250.5V253 M296.3 231.3H363.3 M296.3 231.3V247.7 M289.2 247.7H303.4 M289.2 247.7V253 M303.4 247.7V250.5 M298.6 250.5H308.3 M298.6 250.5V253 M308.3 250.5V253 M363.3 231.3V234.6 M334 234.6H392 M334 234.6V244.5 M323.5 244.5H344.9 M323.5 244.5V249.5 M318.3 249.5H327.9 M318.3 249.5V253 M327.9 249.5V253 M344.9 244.5V248.5 M337.7 248.5H352.2 M337.7 248.5V253 M352.2 248.5V250.5 M347.3 250.5H357 M347.3 250.5V253 M357 250.5V253 M392 234.6V244.5 M373.8 244.5H411 M373.8 244.5V248.8 M366.7 248.8H381 M366.7 248.8V253 M381 248.8V251 M376.3 251H386 M376.3 251V253 M386 251V253 M411 244.5V246.2 M400.5 246.2H419.3 M400.5 246.2V248.8 M395.7 248.8H405.4 M395.7 248.8V253 M405.4 248.8V253 M419.3 246.2V249.5 M414.7 249.5H429.3 M414.7 249.5V253 M429.3 249.5V251.5 M424.4 251.5H434.1 M424.4 251.5V253 M434.1 251.5V253" fill="none" stroke="#2a2a2a" stroke-width="0.7"/>
<path fill="#faf0eb" d="M168.5 259.3h9.7v8.1h-9.7zM178.2 259.3h9.7v8.1h-9.7zM197.5 259.3h9.7v8.1h-9.7zM207.1 259.3h9.7v8.1h-9.7zM216.8 259.3h9.7v8.1h-9.7zM226.5 259.3h9.7v8.1h-9.7zM236.1 259.3h9.7v8.1h-9.7zM245.8 259.3h9.7v8.1h-9.7zM265.1 259.3h9.7v8.1h-9.7zM274.8 259.3h9.7v8.1h-9.7zM313.4 259.3h9.7v8.1h-9.7zM342.4 259.3h9.7v8.1h-9.7zM352 259.3h9.7v8.1h-9.7zM400.3 259.3h9.7v8.1h-9.7zM410 259.3h9.7v8.1h-9.7zM419.7 259.3h9.7v8.1h-9.7zM429.3 259.3h9.7v8.1h-9.7zM178.2 267.3h9.7v8.1h-9.7zM187.8 267.3h9.7v8.1h-9.7zM197.5 267.3h9.7v8.1h-9.7zM207.1 267.3h9.7v8.1h-9.7zM216.8 267.3h9.7v8.1h-9.7zM226.5 267.3h9.7v8.1h-9.7zM236.1 267.3h9.7v8.1h-9.7zM255.4 267.3h9.7v8.1h-9.7zM265.1 267.3h9.7v8.1h-9.7zM274.8 267.3h9.7v8.1h-9.7zM284.4 267.3h9.7v8.1h-9.7zM332.7 267.3h9.7v8.1h-9.7zM342.4 267.3h9.7v8.1h-9.7zM410 267.3h9.7v8.1h-9.7zM429.3 267.3h9.7v8.1h-9.7zM168.5 275.4h9.7v8.1h-9.7zM178.2 275.4h9.7v8.1h-9.7zM187.8 275.4h9.7v8.1h-9.7zM207.1 275.4h9.7v8.1h-9.7zM226.5 275.4h9.7v8.1h-9.7zM255.4 275.4h9.7v8.1h-9.7zM265.1 275.4h9.7v8.1h-9.7zM284.4 275.4h9.7v8.1h-9.7zM303.7 275.4h9.7v8.1h-9.7zM332.7 275.4h9.7v8.1h-9.7zM342.4 275.4h9.7v8.1h-9.7zM361.7 275.4h9.7v8.1h-9.7zM371.4 275.4h9.7v8.1h-9.7zM381 275.4h9.7v8.1h-9.7zM410 275.4h9.7v8.1h-9.7zM419.7 275.4h9.7v8.1h-9.7zM429.3 275.4h9.7v8.1h-9.7zM178.2 283.4h9.7v8.1h-9.7zM207.1 283.4h9.7v8.1h-9.7zM216.8 283.4h9.7v8.1h-9.7zM226.5 283.4h9.7v8.1h-9.7zM236.1 283.4h9.7v8.1h-9.7zM245.8 283.4h9.7v8.1h-9.7zM255.4 283.4h9.7v8.1h-9.7zM265.1 283.4h9.7v8.1h-9.7zM274.8 283.4h9.7v8.1h-9.7zM284.4 283.4h9.7v8.1h-9.7zM294.1 283.4h9.7v8.1h-9.7zM303.7 283.4h9.7v8.1h-9.7zM361.7 283.4h9.7v8.1h-9.7zM390.7 283.4h9.7v8.1h-9.7zM400.3 283.4h9.7v8.1h-9.7zM419.7 283.4h9.7v8.1h-9.7zM429.3 283.4h9.7v8.1h-9.7zM187.8 291.5h9.7v8.1h-9.7zM197.5 291.5h9.7v8.1h-9.7zM226.5 291.5h9.7v8.1h-9.7zM236.1 291.5h9.7v8.1h-9.7zM245.8 291.5h9.7v8.1h-9.7zM255.4 291.5h9.7v8.1h-9.7zM265.1 291.5h9.7v8.1h-9.7zM274.8 291.5h9.7v8.1h-9.7zM284.4 291.5h9.7v8.1h-9.7zM294.1 291.5h9.7v8.1h-9.7zM303.7 291.5h9.7v8.1h-9.7zM323.1 291.5h9.7v8.1h-9.7zM332.7 291.5h9.7v8.1h-9.7zM390.7 291.5h9.7v8.1h-9.7zM400.3 291.5h9.7v8.1h-9.7zM429.3 291.5h9.7v8.1h-9.7zM178.2 299.5h9.7v8.1h-9.7zM187.8 299.5h9.7v8.1h-9.7zM207.1 299.5h9.7v8.1h-9.7zM236.1 299.5h9.7v8.1h-9.7zM245.8 299.5h9.7v8.1h-9.7zM255.4 299.5h9.7v8.1h-9.7zM265.1 299.5h9.7v8.1h-9.7zM284.4 299.5h9.7v8.1h-9.7zM294.1 299.5h9.7v8.1h-9.7zM303.7 299.5h9.7v8.1h-9.7zM390.7 299.5h9.7v8.1h-9.7zM400.3 299.5h9.7v8.1h-9.7zM410 299.5h9.7v8.1h-9.7zM419.7 299.5h9.7v8.1h-9.7zM429.3 299.5h9.7v8.1h-9.7zM168.5 307.5h9.7v8.1h-9.7zM178.2 307.5h9.7v8.1h-9.7zM197.5 307.5h9.7v8.1h-9.7zM207.1 307.5h9.7v8.1h-9.7zM226.5 307.5h9.7v8.1h-9.7zM236.1 307.5h9.7v8.1h-9.7zM245.8 307.5h9.7v8.1h-9.7zM255.4 307.5h9.7v8.1h-9.7zM265.1 307.5h9.7v8.1h-9.7zM274.8 307.5h9.7v8.1h-9.7zM294.1 307.5h9.7v8.1h-9.7zM303.7 307.5h9.7v8.1h-9.7zM323.1 307.5h9.7v8.1h-9.7zM390.7 307.5h9.7v8.1h-9.7zM429.3 307.5h9.7v8.1h-9.7zM178.2 315.6h9.7v8.1h-9.7zM187.8 315.6h9.7v8.1h-9.7zM197.5 315.6h9.7v8.1h-9.7zM207.1 315.6h9.7v8.1h-9.7zM216.8 315.6h9.7v8.1h-9.7zM236.1 315.6h9.7v8.1h-9.7zM255.4 315.6h9.7v8.1h-9.7zM265.1 315.6h9.7v8.1h-9.7zM274.8 315.6h9.7v8.1h-9.7zM284.4 315.6h9.7v8.1h-9.7zM294.1 315.6h9.7v8.1h-9.7zM323.1 315.6h9.7v8.1h-9.7zM361.7 315.6h9.7v8.1h-9.7zM371.4 315.6h9.7v8.1h-9.7zM400.3 315.6h9.7v8.1h-9.7zM410 315.6h9.7v8.1h-9.7zM168.5 323.6h9.7v8.1h-9.7zM178.2 323.6h9.7v8.1h-9.7zM207.1 323.6h9.7v8.1h-9.7zM236.1 323.6h9.7v8.1h-9.7zM245.8 323.6h9.7v8.1h-9.7zM255.4 323.6h9.7v8.1h-9.7zM265.1 323.6h9.7v8.1h-9.7zM274.8 323.6h9.7v8.1h-9.7zM313.4 323.6h9.7v8.1h-9.7zM323.1 323.6h9.7v8.1h-9.7zM352 323.6h9.7v8.1h-9.7zM361.7 323.6h9.7v8.1h-9.7zM371.4 323.6h9.7v8.1h-9.7zM400.3 323.6h9.7v8.1h-9.7zM410 323.6h9.7v8.1h-9.7zM429.3 323.6h9.7v8.1h-9.7zM178.2 331.7h9.7v8.1h-9.7zM187.8 331.7h9.7v8.1h-9.7zM197.5 331.7h9.7v8.1h-9.7zM207.1 331.7h9.7v8.1h-9.7zM216.8 331.7h9.7v8.1h-9.7zM226.5 331.7h9.7v8.1h-9.7zM236.1 331.7h9.7v8.1h-9.7zM255.4 331.7h9.7v8.1h-9.7zM265.1 331.7h9.7v8.1h-9.7zM274.8 331.7h9.7v8.1h-9.7zM313.4 331.7h9.7v8.1h-9.7zM323.1 331.7h9.7v8.1h-9.7zM332.7 331.7h9.7v8.1h-9.7zM352 331.7h9.7v8.1h-9.7zM361.7 331.7h9.7v8.1h-9.7zM381 331.7h9.7v8.1h-9.7zM390.7 331.7h9.7v8.1h-9.7zM400.3 331.7h9.7v8.1h-9.7zM410 331.7h9.7v8.1h-9.7zM178.2 339.7h9.7v8.1h-9.7zM187.8 339.7h9.7v8.1h-9.7zM197.5 339.7h9.7v8.1h-9.7zM207.1 339.7h9.7v8.1h-9.7zM216.8 339.7h9.7v8.1h-9.7zM245.8 339.7h9.7v8.1h-9.7zM265.1 339.7h9.7v8.1h-9.7zM274.8 339.7h9.7v8.1h-9.7zM313.4 339.7h9.7v8.1h-9.7zM323.1 339.7h9.7v8.1h-9.7zM332.7 339.7h9.7v8.1h-9.7zM342.4 339.7h9.7v8.1h-9.7zM352 339.7h9.7v8.1h-9.7zM361.7 339.7h9.7v8.1h-9.7zM371.4 339.7h9.7v8.1h-9.7zM400.3 339.7h9.7v8.1h-9.7zM410 339.7h9.7v8.1h-9.7zM419.7 339.7h9.7v8.1h-9.7zM168.5 347.7h9.7v8.1h-9.7zM178.2 347.7h9.7v8.1h-9.7zM197.5 347.7h9.7v8.1h-9.7zM207.1 347.7h9.7v8.1h-9.7zM226.5 347.7h9.7v8.1h-9.7zM236.1 347.7h9.7v8.1h-9.7zM284.4 347.7h9.7v8.1h-9.7zM294.1 347.7h9.7v8.1h-9.7zM313.4 347.7h9.7v8.1h-9.7zM323.1 347.7h9.7v8.1h-9.7zM332.7 347.7h9.7v8.1h-9.7zM342.4 347.7h9.7v8.1h-9.7zM352 347.7h9.7v8.1h-9.7zM361.7 347.7h9.7v8.1h-9.7zM371.4 347.7h9.7v8.1h-9.7zM410 347.7h9.7v8.1h-9.7zM168.5 355.8h9.7v8.1h-9.7zM178.2 355.8h9.7v8.1h-9.7zM187.8 355.8h9.7v8.1h-9.7zM265.1 355.8h9.7v8.1h-9.7zM274.8 355.8h9.7v8.1h-9.7zM284.4 355.8h9.7v8.1h-9.7zM294.1 355.8h9.7v8.1h-9.7zM303.7 355.8h9.7v8.1h-9.7zM313.4 355.8h9.7v8.1h-9.7zM323.1 355.8h9.7v8.1h-9.7zM332.7 355.8h9.7v8.1h-9.7zM342.4 355.8h9.7v8.1h-9.7zM361.7 355.8h9.7v8.1h-9.7zM390.7 355.8h9.7v8.1h-9.7zM410 355.8h9.7v8.1h-9.7zM419.7 355.8h9.7v8.1h-9.7zM429.3 355.8h9.7v8.1h-9.7zM168.5 363.8h9.7v8.1h-9.7zM197.5 363.8h9.7v8.1h-9.7zM216.8 363.8h9.7v8.1h-9.7zM294.1 363.8h9.7v8.1h-9.7zM303.7 363.8h9.7v8.1h-9.7zM313.4 363.8h9.7v8.1h-9.7zM323.1 363.8h9.7v8.1h-9.7zM342.4 363.8h9.7v8.1h-9.7zM352 363.8h9.7v8.1h-9.7zM361.7 363.8h9.7v8.1h-9.7zM400.3 363.8h9.7v8.1h-9.7zM429.3 363.8h9.7v8.1h-9.7zM274.8 371.9h9.7v8.1h-9.7zM284.4 371.9h9.7v8.1h-9.7zM294.1 371.9h9.7v8.1h-9.7zM303.7 371.9h9.7v8.1h-9.7zM323.1 371.9h9.7v8.1h-9.7zM332.7 371.9h9.7v8.1h-9.7zM352 371.9h9.7v8.1h-9.7zM371.4 371.9h9.7v8.1h-9.7zM381 371.9h9.7v8.1h-9.7zM419.7 371.9h9.7v8.1h-9.7zM429.3 371.9h9.7v8.1h-9.7zM168.5 379.9h9.7v8.1h-9.7zM178.2 379.9h9.7v8.1h-9.7zM197.5 379.9h9.7v8.1h-9.7zM294.1 379.9h9.7v8.1h-9.7zM313.4 379.9h9.7v8.1h-9.7zM323.1 379.9h9.7v8.1h-9.7zM332.7 379.9h9.7v8.1h-9.7zM342.4 379.9h9.7v8.1h-9.7zM352 379.9h9.7v8.1h-9.7zM361.7 379.9h9.7v8.1h-9.7zM371.4 379.9h9.7v8.1h-9.7zM410 379.9h9.7v8.1h-9.7zM419.7 379.9h9.7v8.1h-9.7zM429.3 379.9h9.7v8.1h-9.7zM245.8 387.9h9.7v8.1h-9.7zM303.7 387.9h9.7v8.1h-9.7zM313.4 387.9h9.7v8.1h-9.7zM323.1 387.9h9.7v8.1h-9.7zM332.7 387.9h9.7v8.1h-9.7zM342.4 387.9h9.7v8.1h-9.7zM352 387.9h9.7v8.1h-9.7zM371.4 387.9h9.7v8.1h-9.7zM390.7 387.9h9.7v8.1h-9.7zM400.3 387.9h9.7v8.1h-9.7zM419.7 387.9h9.7v8.1h-9.7z"/>
<path fill="#f6e0d6" d="M187.8 259.3h9.7v8.1h-9.7zM255.4 259.3h9.7v8.1h-9.7zM323.1 259.3h9.7v8.1h-9.7zM332.7 259.3h9.7v8.1h-9.7zM361.7 259.3h9.7v8.1h-9.7zM381 259.3h9.7v8.1h-9.7zM245.8 267.3h9.7v8.1h-9.7zM294.1 267.3h9.7v8.1h-9.7zM303.7 267.3h9.7v8.1h-9.7zM352 267.3h9.7v8.1h-9.7zM390.7 267.3h9.7v8.1h-9.7zM400.3 267.3h9.7v8.1h-9.7zM197.5 275.4h9.7v8.1h-9.7zM216.8 275.4h9.7v8.1h-9.7zM236.1 275.4h9.7v8.1h-9.7zM245.8 275.4h9.7v8.1h-9.7zM274.8 275.4h9.7v8.1h-9.7zM294.1 275.4h9.7v8.1h-9.7zM352 275.4h9.7v8.1h-9.7zM390.7 275.4h9.7v8.1h-9.7zM400.3 275.4h9.7v8.1h-9.7zM168.5 283.4h9.7v8.1h-9.7zM187.8 283.4h9.7v8.1h-9.7zM197.5 283.4h9.7v8.1h-9.7zM313.4 283.4h9.7v8.1h-9.7zM342.4 283.4h9.7v8.1h-9.7zM371.4 283.4h9.7v8.1h-9.7zM410 283.4h9.7v8.1h-9.7zM168.5 291.5h9.7v8.1h-9.7zM178.2 291.5h9.7v8.1h-9.7zM207.1 291.5h9.7v8.1h-9.7zM216.8 291.5h9.7v8.1h-9.7zM313.4 291.5h9.7v8.1h-9.7zM342.4 291.5h9.7v8.1h-9.7zM410 291.5h9.7v8.1h-9.7zM419.7 291.5h9.7v8.1h-9.7zM197.5 299.5h9.7v8.1h-9.7zM216.8 299.5h9.7v8.1h-9.7zM226.5 299.5h9.7v8.1h-9.7zM274.8 299.5h9.7v8.1h-9.7zM371.4 299.5h9.7v8.1h-9.7zM187.8 307.5h9.7v8.1h-9.7zM216.8 307.5h9.7v8.1h-9.7zM400.3 307.5h9.7v8.1h-9.7zM419.7 307.5h9.7v8.1h-9.7zM226.5 315.6h9.7v8.1h-9.7zM245.8 315.6h9.7v8.1h-9.7zM303.7 315.6h9.7v8.1h-9.7zM390.7 315.6h9.7v8.1h-9.7zM419.7 315.6h9.7v8.1h-9.7zM429.3 315.6h9.7v8.1h-9.7zM187.8 323.6h9.7v8.1h-9.7zM197.5 323.6h9.7v8.1h-9.7zM216.8 323.6h9.7v8.1h-9.7zM226.5 323.6h9.7v8.1h-9.7zM332.7 323.6h9.7v8.1h-9.7zM342.4 323.6h9.7v8.1h-9.7zM419.7 323.6h9.7v8.1h-9.7zM168.5 331.7h9.7v8.1h-9.7zM245.8 331.7h9.7v8.1h-9.7zM342.4 331.7h9.7v8.1h-9.7zM371.4 331.7h9.7v8.1h-9.7zM419.7 331.7h9.7v8.1h-9.7zM429.3 331.7h9.7v8.1h-9.7zM168.5 339.7h9.7v8.1h-9.7zM226.5 339.7h9.7v8.1h-9.7zM236.1 339.7h9.7v8.1h-9.7zM255.4 339.7h9.7v8.1h-9.7zM381 339.7h9.7v8.1h-9.7zM390.7 339.7h9.7v8.1h-9.7zM429.3 339.7h9.7v8.1h-9.7zM216.8 347.7h9.7v8.1h-9.7zM303.7 347.7h9.7v8.1h-9.7zM381 347.7h9.7v8.1h-9.7zM390.7 347.7h9.7v8.1h-9.7zM245.8 355.8h9.7v8.1h-9.7zM352 355.8h9.7v8.1h-9.7zM371.4 355.8h9.7v8.1h-9.7zM381 355.8h9.7v8.1h-9.7zM400.3 355.8h9.7v8.1h-9.7zM178.2 363.8h9.7v8.1h-9.7zM245.8 363.8h9.7v8.1h-9.7zM274.8 363.8h9.7v8.1h-9.7zM284.4 363.8h9.7v8.1h-9.7zM332.7 363.8h9.7v8.1h-9.7zM371.4 363.8h9.7v8.1h-9.7zM381 363.8h9.7v8.1h-9.7zM390.7 363.8h9.7v8.1h-9.7zM410 363.8h9.7v8.1h-9.7zM168.5 371.9h9.7v8.1h-9.7zM187.8 371.9h9.7v8.1h-9.7zM216.8 371.9h9.7v8.1h-9.7zM245.8 371.9h9.7v8.1h-9.7zM313.4 371.9h9.7v8.1h-9.7zM342.4 371.9h9.7v8.1h-9.7zM361.7 371.9h9.7v8.1h-9.7zM400.3 371.9h9.7v8.1h-9.7zM187.8 379.9h9.7v8.1h-9.7zM207.1 379.9h9.7v8.1h-9.7zM303.7 379.9h9.7v8.1h-9.7zM381 379.9h9.7v8.1h-9.7zM216.8 387.9h9.7v8.1h-9.7zM236.1 387.9h9.7v8.1h-9.7zM284.4 387.9h9.7v8.1h-9.7zM294.1 387.9h9.7v8.1h-9.7zM381 387.9h9.7v8.1h-9.7zM410 387.9h9.7v8.1h-9.7z"/>
<path fill="#b32a2c" d="M284.4 259.3h9.7v8.1h-9.7zM294.1 259.3h9.7v8.1h-9.7zM303.7 259.3h9.7v8.1h-9.7zM313.4 267.3h9.7v8.1h-9.7zM313.4 275.4h9.7v8.1h-9.7zM323.1 275.4h9.7v8.1h-9.7zM323.1 283.4h9.7v8.1h-9.7zM361.7 291.5h9.7v8.1h-9.7zM313.4 299.5h9.7v8.1h-9.7zM332.7 299.5h9.7v8.1h-9.7zM352 299.5h9.7v8.1h-9.7zM342.4 307.5h9.7v8.1h-9.7zM313.4 315.6h9.7v8.1h-9.7zM332.7 315.6h9.7v8.1h-9.7zM342.4 315.6h9.7v8.1h-9.7zM352 315.6h9.7v8.1h-9.7zM284.4 323.6h9.7v8.1h-9.7zM284.4 331.7h9.7v8.1h-9.7zM303.7 331.7h9.7v8.1h-9.7zM284.4 339.7h9.7v8.1h-9.7zM303.7 339.7h9.7v8.1h-9.7zM245.8 347.7h9.7v8.1h-9.7zM400.3 347.7h9.7v8.1h-9.7zM429.3 347.7h9.7v8.1h-9.7zM197.5 355.8h9.7v8.1h-9.7zM207.1 355.8h9.7v8.1h-9.7zM216.8 355.8h9.7v8.1h-9.7zM226.5 355.8h9.7v8.1h-9.7zM236.1 355.8h9.7v8.1h-9.7zM255.4 355.8h9.7v8.1h-9.7zM187.8 363.8h9.7v8.1h-9.7zM207.1 363.8h9.7v8.1h-9.7zM226.5 363.8h9.7v8.1h-9.7zM236.1 363.8h9.7v8.1h-9.7zM419.7 363.8h9.7v8.1h-9.7zM207.1 371.9h9.7v8.1h-9.7zM226.5 371.9h9.7v8.1h-9.7zM265.1 371.9h9.7v8.1h-9.7zM216.8 379.9h9.7v8.1h-9.7zM226.5 379.9h9.7v8.1h-9.7zM236.1 379.9h9.7v8.1h-9.7zM245.8 379.9h9.7v8.1h-9.7zM255.4 379.9h9.7v8.1h-9.7zM265.1 379.9h9.7v8.1h-9.7zM274.8 379.9h9.7v8.1h-9.7zM284.4 379.9h9.7v8.1h-9.7zM390.7 379.9h9.7v8.1h-9.7zM400.3 379.9h9.7v8.1h-9.7zM168.5 387.9h9.7v8.1h-9.7zM178.2 387.9h9.7v8.1h-9.7zM187.8 387.9h9.7v8.1h-9.7zM265.1 387.9h9.7v8.1h-9.7zM274.8 387.9h9.7v8.1h-9.7z"/>
<path fill="#f2c8b8" d="M371.4 259.3h9.7v8.1h-9.7zM390.7 259.3h9.7v8.1h-9.7zM168.5 267.3h9.7v8.1h-9.7zM323.1 267.3h9.7v8.1h-9.7zM371.4 267.3h9.7v8.1h-9.7zM381 267.3h9.7v8.1h-9.7zM419.7 267.3h9.7v8.1h-9.7zM332.7 283.4h9.7v8.1h-9.7zM371.4 291.5h9.7v8.1h-9.7zM168.5 299.5h9.7v8.1h-9.7zM323.1 299.5h9.7v8.1h-9.7zM361.7 299.5h9.7v8.1h-9.7zM381 299.5h9.7v8.1h-9.7zM284.4 307.5h9.7v8.1h-9.7zM313.4 307.5h9.7v8.1h-9.7zM332.7 307.5h9.7v8.1h-9.7zM371.4 307.5h9.7v8.1h-9.7zM168.5 315.6h9.7v8.1h-9.7zM381 315.6h9.7v8.1h-9.7zM381 323.6h9.7v8.1h-9.7zM390.7 323.6h9.7v8.1h-9.7zM265.1 347.7h9.7v8.1h-9.7zM274.8 347.7h9.7v8.1h-9.7zM419.7 347.7h9.7v8.1h-9.7zM255.4 363.8h9.7v8.1h-9.7zM265.1 363.8h9.7v8.1h-9.7zM197.5 371.9h9.7v8.1h-9.7zM236.1 371.9h9.7v8.1h-9.7zM255.4 371.9h9.7v8.1h-9.7zM390.7 371.9h9.7v8.1h-9.7zM197.5 387.9h9.7v8.1h-9.7zM226.5 387.9h9.7v8.1h-9.7zM255.4 387.9h9.7v8.1h-9.7zM361.7 387.9h9.7v8.1h-9.7zM429.3 387.9h9.7v8.1h-9.7z"/>
<path fill="#d96a5c" d="M361.7 267.3h9.7v8.1h-9.7zM381 283.4h9.7v8.1h-9.7zM381 291.5h9.7v8.1h-9.7zM342.4 299.5h9.7v8.1h-9.7zM352 307.5h9.7v8.1h-9.7zM381 307.5h9.7v8.1h-9.7zM294.1 323.6h9.7v8.1h-9.7zM303.7 323.6h9.7v8.1h-9.7zM187.8 347.7h9.7v8.1h-9.7zM255.4 347.7h9.7v8.1h-9.7zM410 371.9h9.7v8.1h-9.7z"/>
<path fill="#ebaa96" d="M352 283.4h9.7v8.1h-9.7zM352 291.5h9.7v8.1h-9.7zM361.7 307.5h9.7v8.1h-9.7zM410 307.5h9.7v8.1h-9.7zM294.1 331.7h9.7v8.1h-9.7zM294.1 339.7h9.7v8.1h-9.7zM178.2 371.9h9.7v8.1h-9.7zM207.1 387.9h9.7v8.1h-9.7z"/>
<text x="289.2" y="266.9" font-size="6.2" font-weight="bold" text-anchor="middle" fill="#1a1a1a">**</text>
<text x="298.9" y="266.9" font-size="6.2" font-weight="bold" text-anchor="middle" fill="#1a1a1a">**</text>
<text x="308.6" y="266.9" font-size="6.2" font-weight="bold" text-anchor="middle" fill="#1a1a1a">**</text>
<text x="376.2" y="266.9" font-size="6.2" font-weight="bold" text-anchor="middle" fill="#1a1a1a">**</text>
<text x="395.5" y="266.9" font-size="6.2" font-weight="bold" text-anchor="middle" fill="#1a1a1a">**</text>
<text x="318.2" y="275" font-size="6.2" font-weight="bold" text-anchor="middle" fill="#1a1a1a">**</text>
<text x="327.9" y="275" font-size="6.2" font-weight="bold" text-anchor="middle" fill="#1a1a1a">**</text>
<text x="366.5" y="275" font-size="6.2" font-weight="bold" text-anchor="middle" fill="#1a1a1a">*</text>
<text x="376.2" y="275" font-size="6.2" font-weight="bold" text-anchor="middle" fill="#1a1a1a">**</text>
<text x="385.8" y="275" font-size="6.2" font-weight="bold" text-anchor="middle" fill="#1a1a1a">**</text>
<text x="424.5" y="275" font-size="6.2" font-weight="bold" text-anchor="middle" fill="#1a1a1a">**</text>
<text x="318.2" y="283" font-size="6.2" font-weight="bold" text-anchor="middle" fill="#1a1a1a">**</text>
<text x="327.9" y="283" font-size="6.2" font-weight="bold" text-anchor="middle" fill="#1a1a1a">**</text>
<text x="327.9" y="291" font-size="6.2" font-weight="bold" text-anchor="middle" fill="#1a1a1a">**</text>
<text x="337.6" y="291" font-size="6.2" font-weight="bold" text-anchor="middle" fill="#1a1a1a">**</text>
<text x="385.8" y="291" font-size="6.2" font-weight="bold" text-anchor="middle" fill="#1a1a1a">**</text>
<text x="366.5" y="299.1" font-size="6.2" font-weight="bold" text-anchor="middle" fill="#1a1a1a">**</text>
<text x="376.2" y="299.1" font-size="6.2" font-weight="bold" text-anchor="middle" fill="#1a1a1a">**</text>
<text x="385.8" y="299.1" font-size="6.2" font-weight="bold" text-anchor="middle" fill="#1a1a1a">**</text>
<text x="318.2" y="307.1" font-size="6.2" font-weight="bold" text-anchor="middle" fill="#1a1a1a">**</text>
<text x="327.9" y="307.1" font-size="6.2" font-weight="bold" text-anchor="middle" fill="#1a1a1a">**</text>
<text x="337.6" y="307.1" font-size="6.2" font-weight="bold" text-anchor="middle" fill="#1a1a1a">**</text>
<text x="347.2" y="307.1" font-size="6.2" font-weight="bold" text-anchor="middle" fill="#1a1a1a">**</text>
<text x="356.9" y="307.1" font-size="6.2" font-weight="bold" text-anchor="middle" fill="#1a1a1a">**</text>
<text x="385.8" y="307.1" font-size="6.2" font-weight="bold" text-anchor="middle" fill="#1a1a1a">**</text>
<text x="289.2" y="315.2" font-size="6.2" font-weight="bold" text-anchor="middle" fill="#1a1a1a">**</text>
<text x="318.2" y="315.2" font-size="6.2" font-weight="bold" text-anchor="middle" fill="#1a1a1a">**</text>
<text x="337.6" y="315.2" font-size="6.2" font-weight="bold" text-anchor="middle" fill="#1a1a1a">**</text>
<text x="347.2" y="315.2" font-size="6.2" font-weight="bold" text-anchor="middle" fill="#1a1a1a">**</text>
<text x="376.2" y="315.2" font-size="6.2" font-weight="bold" text-anchor="middle" fill="#1a1a1a">**</text>
<text x="385.8" y="315.2" font-size="6.2" font-weight="bold" text-anchor="middle" fill="#1a1a1a">**</text>
<text x="318.2" y="323.2" font-size="6.2" font-weight="bold" text-anchor="middle" fill="#1a1a1a">**</text>
<text x="337.6" y="323.2" font-size="6.2" font-weight="bold" text-anchor="middle" fill="#1a1a1a">**</text>
<text x="347.2" y="323.2" font-size="6.2" font-weight="bold" text-anchor="middle" fill="#1a1a1a">**</text>
<text x="356.9" y="323.2" font-size="6.2" font-weight="bold" text-anchor="middle" fill="#1a1a1a">**</text>
<text x="385.8" y="323.2" font-size="6.2" font-weight="bold" text-anchor="middle" fill="#1a1a1a">**</text>
<text x="289.2" y="331.2" font-size="6.2" font-weight="bold" text-anchor="middle" fill="#1a1a1a">**</text>
<text x="298.9" y="331.2" font-size="6.2" font-weight="bold" text-anchor="middle" fill="#1a1a1a">**</text>
<text x="308.6" y="331.2" font-size="6.2" font-weight="bold" text-anchor="middle" fill="#1a1a1a">**</text>
<text x="385.8" y="331.2" font-size="6.2" font-weight="bold" text-anchor="middle" fill="#1a1a1a">**</text>
<text x="395.5" y="331.2" font-size="6.2" font-weight="bold" text-anchor="middle" fill="#1a1a1a">**</text>
<text x="289.2" y="339.3" font-size="6.2" font-weight="bold" text-anchor="middle" fill="#1a1a1a">**</text>
<text x="298.9" y="339.3" font-size="6.2" font-weight="bold" text-anchor="middle" fill="#1a1a1a">**</text>
<text x="308.6" y="339.3" font-size="6.2" font-weight="bold" text-anchor="middle" fill="#1a1a1a">**</text>
<text x="289.2" y="347.3" font-size="6.2" font-weight="bold" text-anchor="middle" fill="#1a1a1a">**</text>
<text x="298.9" y="347.3" font-size="6.2" font-weight="bold" text-anchor="middle" fill="#1a1a1a">**</text>
<text x="308.6" y="347.3" font-size="6.2" font-weight="bold" text-anchor="middle" fill="#1a1a1a">**</text>
<text x="192.7" y="355.4" font-size="6.2" font-weight="bold" text-anchor="middle" fill="#1a1a1a">*</text>
<text x="250.6" y="355.4" font-size="6.2" font-weight="bold" text-anchor="middle" fill="#1a1a1a">**</text>
<text x="260.3" y="355.4" font-size="6.2" font-weight="bold" text-anchor="middle" fill="#1a1a1a">*</text>
<text x="405.2" y="355.4" font-size="6.2" font-weight="bold" text-anchor="middle" fill="#1a1a1a">**</text>
<text x="434.1" y="355.4" font-size="6.2" font-weight="bold" text-anchor="middle" fill="#1a1a1a">**</text>
<text x="202.3" y="363.4" font-size="6.2" font-weight="bold" text-anchor="middle" fill="#1a1a1a">**</text>
<text x="212" y="363.4" font-size="6.2" font-weight="bold" text-anchor="middle" fill="#1a1a1a">**</text>
<text x="221.6" y="363.4" font-size="6.2" font-weight="bold" text-anchor="middle" fill="#1a1a1a">**</text>
<text x="231.3" y="363.4" font-size="6.2" font-weight="bold" text-anchor="middle" fill="#1a1a1a">**</text>
<text x="241" y="363.4" font-size="6.2" font-weight="bold" text-anchor="middle" fill="#1a1a1a">**</text>
<text x="260.3" y="363.4" font-size="6.2" font-weight="bold" text-anchor="middle" fill="#1a1a1a">**</text>
<text x="192.7" y="371.4" font-size="6.2" font-weight="bold" text-anchor="middle" fill="#1a1a1a">**</text>
<text x="212" y="371.4" font-size="6.2" font-weight="bold" text-anchor="middle" fill="#1a1a1a">**</text>
<text x="231.3" y="371.4" font-size="6.2" font-weight="bold" text-anchor="middle" fill="#1a1a1a">**</text>
<text x="241" y="371.4" font-size="6.2" font-weight="bold" text-anchor="middle" fill="#1a1a1a">**</text>
<text x="260.3" y="371.4" font-size="6.2" font-weight="bold" text-anchor="middle" fill="#1a1a1a">**</text>
<text x="269.9" y="371.4" font-size="6.2" font-weight="bold" text-anchor="middle" fill="#1a1a1a">**</text>
<text x="424.5" y="371.4" font-size="6.2" font-weight="bold" text-anchor="middle" fill="#1a1a1a">**</text>
<text x="202.3" y="379.5" font-size="6.2" font-weight="bold" text-anchor="middle" fill="#1a1a1a">**</text>
<text x="212" y="379.5" font-size="6.2" font-weight="bold" text-anchor="middle" fill="#1a1a1a">**</text>
<text x="231.3" y="379.5" font-size="6.2" font-weight="bold" text-anchor="middle" fill="#1a1a1a">**</text>
<text x="241" y="379.5" font-size="6.2" font-weight="bold" text-anchor="middle" fill="#1a1a1a">**</text>
<text x="250.6" y="379.5" font-size="6.2" font-weight="bold" text-anchor="middle" fill="#1a1a1a">**</text>
<text x="260.3" y="379.5" font-size="6.2" font-weight="bold" text-anchor="middle" fill="#1a1a1a">**</text>
<text x="269.9" y="379.5" font-size="6.2" font-weight="bold" text-anchor="middle" fill="#1a1a1a">**</text>
<text x="395.5" y="379.5" font-size="6.2" font-weight="bold" text-anchor="middle" fill="#1a1a1a">**</text>
<text x="414.8" y="379.5" font-size="6.2" font-weight="bold" text-anchor="middle" fill="#1a1a1a">**</text>
<text x="221.6" y="387.5" font-size="6.2" font-weight="bold" text-anchor="middle" fill="#1a1a1a">**</text>
<text x="231.3" y="387.5" font-size="6.2" font-weight="bold" text-anchor="middle" fill="#1a1a1a">**</text>
<text x="241" y="387.5" font-size="6.2" font-weight="bold" text-anchor="middle" fill="#1a1a1a">**</text>
<text x="250.6" y="387.5" font-size="6.2" font-weight="bold" text-anchor="middle" fill="#1a1a1a">**</text>
<text x="260.3" y="387.5" font-size="6.2" font-weight="bold" text-anchor="middle" fill="#1a1a1a">**</text>
<text x="269.9" y="387.5" font-size="6.2" font-weight="bold" text-anchor="middle" fill="#1a1a1a">*</text>
<text x="279.6" y="387.5" font-size="6.2" font-weight="bold" text-anchor="middle" fill="#1a1a1a">**</text>
<text x="289.2" y="387.5" font-size="6.2" font-weight="bold" text-anchor="middle" fill="#1a1a1a">**</text>
<text x="395.5" y="387.5" font-size="6.2" font-weight="bold" text-anchor="middle" fill="#1a1a1a">**</text>
<text x="405.2" y="387.5" font-size="6.2" font-weight="bold" text-anchor="middle" fill="#1a1a1a">**</text>
<text x="173.3" y="395.6" font-size="6.2" font-weight="bold" text-anchor="middle" fill="#1a1a1a">**</text>
<text x="183" y="395.6" font-size="6.2" font-weight="bold" text-anchor="middle" fill="#1a1a1a">**</text>
<text x="192.7" y="395.6" font-size="6.2" font-weight="bold" text-anchor="middle" fill="#1a1a1a">**</text>
<text x="202.3" y="395.6" font-size="6.2" font-weight="bold" text-anchor="middle" fill="#1a1a1a">**</text>
<text x="212" y="395.6" font-size="6.2" font-weight="bold" text-anchor="middle" fill="#1a1a1a">**</text>
<text x="231.3" y="395.6" font-size="6.2" font-weight="bold" text-anchor="middle" fill="#1a1a1a">**</text>
<text x="260.3" y="395.6" font-size="6.2" font-weight="bold" text-anchor="middle" fill="#1a1a1a">**</text>
<text x="269.9" y="395.6" font-size="6.2" font-weight="bold" text-anchor="middle" fill="#1a1a1a">**</text>
<text x="279.6" y="395.6" font-size="6.2" font-weight="bold" text-anchor="middle" fill="#1a1a1a">**</text>
<text x="434.1" y="395.6" font-size="6.2" font-weight="bold" text-anchor="middle" fill="#1a1a1a">**</text>
<path d="M178.2 259.3V396M187.8 259.3V396M197.5 259.3V396M207.1 259.3V396M216.8 259.3V396M226.5 259.3V396M236.1 259.3V396M245.8 259.3V396M255.4 259.3V396M265.1 259.3V396M274.8 259.3V396M284.4 259.3V396M294.1 259.3V396M303.7 259.3V396M313.4 259.3V396M323.1 259.3V396M332.7 259.3V396M342.4 259.3V396M352 259.3V396M361.7 259.3V396M371.4 259.3V396M381 259.3V396M390.7 259.3V396M400.3 259.3V396M410 259.3V396M419.7 259.3V396M429.3 259.3V396M168.5 267.3H439M168.5 275.4H439M168.5 283.4H439M168.5 291.5H439M168.5 299.5H439M168.5 307.5H439M168.5 315.6H439M168.5 323.6H439M168.5 331.7H439M168.5 339.7H439M168.5 347.7H439M168.5 355.8H439M168.5 363.8H439M168.5 371.9H439M168.5 379.9H439M168.5 387.9H439" fill="none" stroke="#ffffff" stroke-width="0.3" opacity="0.45"/>
<rect x="168.5" y="259.3" width="270.5" height="136.7" fill="none" stroke="#9a9a9a" stroke-width="0.6"/>
<circle cx="447.2" cy="263.3" r="3.6" fill="#3b6a88" stroke="#3a3a3a" stroke-width="0.6"/>
<text x="447.2" y="265" font-size="4.7" text-anchor="middle" fill="#1a1a1a">11</text>
<circle cx="447.2" cy="271.4" r="3.6" fill="#a986c4" stroke="#3a3a3a" stroke-width="0.6"/>
<text x="447.2" y="273" font-size="4.7" text-anchor="middle" fill="#333">4</text>
<circle cx="447.2" cy="279.4" r="3.6" fill="#5aaad8" stroke="#3a3a3a" stroke-width="0.6"/>
<text x="447.2" y="281.1" font-size="4.7" text-anchor="middle" fill="#333">1</text>
<circle cx="447.2" cy="287.4" r="3.6" fill="#d8a868" stroke="#3a3a3a" stroke-width="0.6"/>
<text x="447.2" y="289.1" font-size="4.7" text-anchor="middle" fill="#333">2</text>
<circle cx="447.2" cy="295.5" r="3.6" fill="#a9449e" stroke="#3a3a3a" stroke-width="0.6"/>
<text x="447.2" y="297.2" font-size="4.7" text-anchor="middle" fill="#1a1a1a">5</text>
<circle cx="447.2" cy="303.5" r="3.6" fill="#8ccfb4" stroke="#3a3a3a" stroke-width="0.6"/>
<text x="447.2" y="305.2" font-size="4.7" text-anchor="middle" fill="#333">3</text>
<circle cx="447.2" cy="311.6" r="3.6" fill="#c8e4a0" stroke="#3a3a3a" stroke-width="0.6"/>
<text x="447.2" y="313.2" font-size="4.7" text-anchor="middle" fill="#333">7</text>
<circle cx="447.2" cy="319.6" r="3.6" fill="#5e3a8c" stroke="#3a3a3a" stroke-width="0.6"/>
<text x="447.2" y="321.3" font-size="4.7" text-anchor="middle" fill="#1a1a1a">6</text>
<circle cx="447.2" cy="327.6" r="3.6" fill="#a88a68" stroke="#3a3a3a" stroke-width="0.6"/>
<text x="447.2" y="329.3" font-size="4.7" text-anchor="middle" fill="#333">8</text>
<circle cx="447.2" cy="335.7" r="3.6" fill="#c9504f" stroke="#3a3a3a" stroke-width="0.6"/>
<text x="447.2" y="337.4" font-size="4.7" text-anchor="middle" fill="#333">10</text>
<circle cx="447.2" cy="343.7" r="3.6" fill="#9a2a22" stroke="#3a3a3a" stroke-width="0.6"/>
<text x="447.2" y="345.4" font-size="4.7" text-anchor="middle" fill="#1a1a1a">9</text>
<circle cx="447.2" cy="351.8" r="3.6" fill="#454545" stroke="#3a3a3a" stroke-width="0.6"/>
<text x="447.2" y="353.4" font-size="4.7" text-anchor="middle" fill="#1a1a1a">12</text>
<circle cx="447.2" cy="359.8" r="3.6" fill="#c58bc0" stroke="#3a3a3a" stroke-width="0.6"/>
<text x="447.2" y="361.5" font-size="4.7" text-anchor="middle" fill="#333">16</text>
<circle cx="447.2" cy="367.8" r="3.6" fill="#9ccf9c" stroke="#3a3a3a" stroke-width="0.6"/>
<text x="447.2" y="369.5" font-size="4.7" text-anchor="middle" fill="#333">17</text>
<circle cx="447.2" cy="375.9" r="3.6" fill="#f2ecec" stroke="#3a3a3a" stroke-width="0.6"/>
<text x="447.2" y="377.6" font-size="4.7" text-anchor="middle" fill="#333">15</text>
<circle cx="447.2" cy="383.9" r="3.6" fill="#1e3b26" stroke="#3a3a3a" stroke-width="0.6"/>
<text x="447.2" y="385.6" font-size="4.7" text-anchor="middle" fill="#1a1a1a">14</text>
<circle cx="447.2" cy="392" r="3.6" fill="#c8be48" stroke="#3a3a3a" stroke-width="0.6"/>
<text x="447.2" y="393.6" font-size="4.7" text-anchor="middle" fill="#333">13</text>
<rect x="169.8" y="398.9" width="7" height="6.8" fill="#c0443a" stroke="#555" stroke-width="0.3"/>
<text x="173.3" y="403.8" font-size="4.2" text-anchor="middle" fill="#1a1a1a">1</text>
<rect x="179.5" y="398.9" width="7" height="6.8" fill="#7a3a48" stroke="#555" stroke-width="0.3"/>
<text x="183" y="403.8" font-size="4.2" text-anchor="middle" fill="#1a1a1a">2</text>
<rect x="189.2" y="398.9" width="7" height="6.8" fill="#4c4a72" stroke="#555" stroke-width="0.3"/>
<text x="192.7" y="403.8" font-size="4.2" text-anchor="middle" fill="#1a1a1a">3</text>
<rect x="198.8" y="398.9" width="7" height="6.8" fill="#3a6a9a" stroke="#555" stroke-width="0.3"/>
<text x="202.3" y="403.8" font-size="4.2" text-anchor="middle" fill="#1a1a1a">4</text>
<rect x="208.5" y="398.9" width="7" height="6.8" fill="#3f82be" stroke="#555" stroke-width="0.3"/>
<text x="212" y="403.8" font-size="4.2" text-anchor="middle" fill="#1a1a1a">5</text>
<rect x="218.1" y="398.9" width="7" height="6.8" fill="#4a8a9a" stroke="#555" stroke-width="0.3"/>
<text x="221.6" y="403.8" font-size="4.2" text-anchor="middle" fill="#1a1a1a">6</text>
<rect x="227.8" y="398.9" width="7" height="6.8" fill="#7a8a78" stroke="#555" stroke-width="0.3"/>
<text x="231.3" y="403.8" font-size="4.2" text-anchor="middle" fill="#1a1a1a">7</text>
<rect x="237.4" y="398.9" width="7" height="6.8" fill="#b8904a" stroke="#555" stroke-width="0.3"/>
<text x="240.9" y="403.8" font-size="4.2" text-anchor="middle" fill="#1a1a1a">8</text>
<rect x="247.1" y="398.9" width="7" height="6.8" fill="#d09040" stroke="#555" stroke-width="0.3"/>
<text x="250.6" y="403.8" font-size="4.2" text-anchor="middle" fill="#1a1a1a">9</text>
<rect x="256.8" y="398.9" width="7" height="6.8" fill="#a89a48" stroke="#555" stroke-width="0.3"/>
<text x="260.3" y="403.8" font-size="4.2" text-anchor="middle" fill="#1a1a1a">10</text>
<rect x="266.4" y="398.9" width="7" height="6.8" fill="#7a9a48" stroke="#555" stroke-width="0.3"/>
<text x="269.9" y="403.8" font-size="4.2" text-anchor="middle" fill="#1a1a1a">11</text>
<rect x="276.1" y="398.9" width="7" height="6.8" fill="#3a8a3a" stroke="#555" stroke-width="0.3"/>
<text x="279.6" y="403.8" font-size="4.2" text-anchor="middle" fill="#1a1a1a">12</text>
<rect x="285.8" y="398.9" width="7" height="6.8" fill="#3a8a5a" stroke="#555" stroke-width="0.3"/>
<text x="289.2" y="403.8" font-size="4.2" text-anchor="middle" fill="#1a1a1a">13</text>
<rect x="295.4" y="398.9" width="7" height="6.8" fill="#4a7a6a" stroke="#555" stroke-width="0.3"/>
<text x="298.9" y="403.8" font-size="4.2" text-anchor="middle" fill="#1a1a1a">14</text>
<rect x="305.1" y="398.9" width="7" height="6.8" fill="#4a6a7a" stroke="#555" stroke-width="0.3"/>
<text x="308.6" y="403.8" font-size="4.2" text-anchor="middle" fill="#1a1a1a">15</text>
<rect x="314.7" y="398.9" width="7" height="6.8" fill="#6a6a9a" stroke="#555" stroke-width="0.3"/>
<text x="318.2" y="403.8" font-size="4.2" text-anchor="middle" fill="#1a1a1a">16</text>
<rect x="324.4" y="398.9" width="7" height="6.8" fill="#7a70b0" stroke="#555" stroke-width="0.3"/>
<text x="327.9" y="403.8" font-size="4.2" text-anchor="middle" fill="#1a1a1a">17</text>
<rect x="334.1" y="398.9" width="7" height="6.8" fill="#6a78a8" stroke="#555" stroke-width="0.3"/>
<text x="337.6" y="403.8" font-size="4.2" text-anchor="middle" fill="#1a1a1a">18</text>
<rect x="343.7" y="398.9" width="7" height="6.8" fill="#6a7a9a" stroke="#555" stroke-width="0.3"/>
<text x="347.2" y="403.8" font-size="4.2" text-anchor="middle" fill="#1a1a1a">19</text>
<rect x="353.4" y="398.9" width="7" height="6.8" fill="#5a7a88" stroke="#555" stroke-width="0.3"/>
<text x="356.9" y="403.8" font-size="4.2" text-anchor="middle" fill="#1a1a1a">20</text>
<rect x="363" y="398.9" width="7" height="6.8" fill="#7a9090" stroke="#555" stroke-width="0.3"/>
<text x="366.5" y="403.8" font-size="4.2" text-anchor="middle" fill="#1a1a1a">21</text>
<rect x="372.7" y="398.9" width="7" height="6.8" fill="#a8b0a0" stroke="#555" stroke-width="0.3"/>
<text x="376.2" y="403.8" font-size="4.2" text-anchor="middle" fill="#1a1a1a">22</text>
<rect x="382.4" y="398.9" width="7" height="6.8" fill="#c8c0a0" stroke="#555" stroke-width="0.3"/>
<text x="385.9" y="403.8" font-size="4.2" text-anchor="middle" fill="#1a1a1a">23</text>
<rect x="392" y="398.9" width="7" height="6.8" fill="#e0d890" stroke="#555" stroke-width="0.3"/>
<text x="395.5" y="403.8" font-size="4.2" text-anchor="middle" fill="#1a1a1a">24</text>
<rect x="401.7" y="398.9" width="7" height="6.8" fill="#e8b098" stroke="#555" stroke-width="0.3"/>
<text x="405.2" y="403.8" font-size="4.2" text-anchor="middle" fill="#1a1a1a">25</text>
<rect x="411.3" y="398.9" width="7" height="6.8" fill="#d88898" stroke="#555" stroke-width="0.3"/>
<text x="414.8" y="403.8" font-size="4.2" text-anchor="middle" fill="#1a1a1a">26</text>
<rect x="421" y="398.9" width="7" height="6.8" fill="#d8609a" stroke="#555" stroke-width="0.3"/>
<text x="424.5" y="403.8" font-size="4.2" text-anchor="middle" fill="#1a1a1a">27</text>
<rect x="430.6" y="398.9" width="7" height="6.8" fill="#d83a8a" stroke="#555" stroke-width="0.3"/>
<text x="434.1" y="403.8" font-size="4.2" text-anchor="middle" fill="#1a1a1a">28</text>
<text x="432.1" y="215.2" font-size="7.4" text-anchor="middle" stroke="#222" stroke-width="0.22">OR</text>
<linearGradient id="org" x1="0" y1="0" x2="1" y2="0"><stop offset="0" stop-color="#faf0ec"/><stop offset="0.45" stop-color="#f1d3c8"/><stop offset="0.7" stop-color="#e29a88"/><stop offset="1" stop-color="#b8272b"/></linearGradient>
<rect x="403.8" y="218.1" width="54" height="8.4" fill="url(#org)"/>
<text x="404" y="233.5" font-size="7" text-anchor="middle" fill="#333" stroke="#333" stroke-width="0.22">0</text>
<text x="422.1" y="233.5" font-size="7" text-anchor="middle" fill="#333" stroke="#333" stroke-width="0.22">1</text>
<text x="439.6" y="233.5" font-size="7" text-anchor="middle" fill="#333" stroke="#333" stroke-width="0.22">2</text>
<text x="457.5" y="233.5" font-size="7" text-anchor="middle" fill="#333" stroke="#333" stroke-width="0.22">3</text>
<text x="467.2" y="250" font-size="14.2">e</text>
<text x="579.2" y="254.3" font-size="7.9" text-anchor="middle" stroke="#222" stroke-width="0.22">Proportion</text>
<circle cx="470.2" cy="263.8" r="3.6" fill="#3b6a88" stroke="#3a3a3a" stroke-width="0.6"/>
<text x="470.2" y="265.5" font-size="4.7" text-anchor="middle" fill="#1a1a1a">11</text>
<circle cx="470.2" cy="271.8" r="3.6" fill="#a986c4" stroke="#3a3a3a" stroke-width="0.6"/>
<text x="470.2" y="273.4" font-size="4.7" text-anchor="middle" fill="#333">4</text>
<circle cx="470.2" cy="279.7" r="3.6" fill="#5aaad8" stroke="#3a3a3a" stroke-width="0.6"/>
<text x="470.2" y="281.4" font-size="4.7" text-anchor="middle" fill="#333">1</text>
<circle cx="470.2" cy="287.7" r="3.6" fill="#d8a868" stroke="#3a3a3a" stroke-width="0.6"/>
<text x="470.2" y="289.3" font-size="4.7" text-anchor="middle" fill="#333">2</text>
<circle cx="470.2" cy="295.6" r="3.6" fill="#a9449e" stroke="#3a3a3a" stroke-width="0.6"/>
<text x="470.2" y="297.3" font-size="4.7" text-anchor="middle" fill="#1a1a1a">5</text>
<circle cx="470.2" cy="303.6" r="3.6" fill="#8ccfb4" stroke="#3a3a3a" stroke-width="0.6"/>
<text x="470.2" y="305.2" font-size="4.7" text-anchor="middle" fill="#333">3</text>
<circle cx="470.2" cy="311.5" r="3.6" fill="#c8e4a0" stroke="#3a3a3a" stroke-width="0.6"/>
<text x="470.2" y="313.2" font-size="4.7" text-anchor="middle" fill="#333">7</text>
<circle cx="470.2" cy="319.4" r="3.6" fill="#5e3a8c" stroke="#3a3a3a" stroke-width="0.6"/>
<text x="470.2" y="321.1" font-size="4.7" text-anchor="middle" fill="#1a1a1a">6</text>
<circle cx="470.2" cy="327.4" r="3.6" fill="#a88a68" stroke="#3a3a3a" stroke-width="0.6"/>
<text x="470.2" y="329.1" font-size="4.7" text-anchor="middle" fill="#333">8</text>
<circle cx="470.2" cy="335.4" r="3.6" fill="#c9504f" stroke="#3a3a3a" stroke-width="0.6"/>
<text x="470.2" y="337" font-size="4.7" text-anchor="middle" fill="#333">10</text>
<circle cx="470.2" cy="343.3" r="3.6" fill="#9a2a22" stroke="#3a3a3a" stroke-width="0.6"/>
<text x="470.2" y="345" font-size="4.7" text-anchor="middle" fill="#1a1a1a">9</text>
<circle cx="470.2" cy="351.2" r="3.6" fill="#454545" stroke="#3a3a3a" stroke-width="0.6"/>
<text x="470.2" y="352.9" font-size="4.7" text-anchor="middle" fill="#1a1a1a">12</text>
<circle cx="470.2" cy="359.2" r="3.6" fill="#c58bc0" stroke="#3a3a3a" stroke-width="0.6"/>
<text x="470.2" y="360.9" font-size="4.7" text-anchor="middle" fill="#333">16</text>
<circle cx="470.2" cy="367.2" r="3.6" fill="#9ccf9c" stroke="#3a3a3a" stroke-width="0.6"/>
<text x="470.2" y="368.8" font-size="4.7" text-anchor="middle" fill="#333">17</text>
<circle cx="470.2" cy="375.1" r="3.6" fill="#f2ecec" stroke="#3a3a3a" stroke-width="0.6"/>
<text x="470.2" y="376.8" font-size="4.7" text-anchor="middle" fill="#333">15</text>
<circle cx="470.2" cy="383.1" r="3.6" fill="#1e3b26" stroke="#3a3a3a" stroke-width="0.6"/>
<text x="470.2" y="384.7" font-size="4.7" text-anchor="middle" fill="#1a1a1a">14</text>
<circle cx="470.2" cy="391" r="3.6" fill="#c8be48" stroke="#3a3a3a" stroke-width="0.6"/>
<text x="470.2" y="392.7" font-size="4.7" text-anchor="middle" fill="#333">13</text>
<rect x="479.3" y="261" width="8.7" height="5.9" fill="#d9408c"/>
<rect x="489.6" y="261" width="18.4" height="5.9" fill="#e6d48a"/>
<rect x="509" y="261" width="7" height="5.9" fill="#c8c090"/>
<rect x="517" y="261" width="20" height="5.9" fill="#a8b898"/>
<rect x="537.8" y="261" width="13.1" height="5.9" fill="#6a6ab0"/>
<rect x="552" y="261" width="3" height="5.9" fill="#6a6ab0"/>
<rect x="556" y="261" width="49.4" height="5.9" fill="#4a7f80"/>
<rect x="605.9" y="261" width="31.9" height="5.9" fill="#3f8a6a"/>
<rect x="639" y="261" width="17.9" height="5.9" fill="#3a9a5a"/>
<rect x="658" y="261" width="11.6" height="5.9" fill="#3a7ab8"/>
<rect x="670.5" y="261" width="3.1" height="5.9" fill="#3a6a9a"/>
<rect x="479.3" y="268.9" width="25.6" height="5.9" fill="#d9408c"/>
<rect x="505.7" y="268.9" width="1.8" height="5.9" fill="#f0a8b4"/>
<rect x="508.4" y="268.9" width="3.4" height="5.9" fill="#e8b090"/>
<rect x="512.6" y="268.9" width="10.7" height="5.9" fill="#e6d48a"/>
<rect x="524" y="268.9" width="14.6" height="5.9" fill="#c8c090"/>
<rect x="539.4" y="268.9" width="19.9" height="5.9" fill="#a8b898"/>
<rect x="560.8" y="268.9" width="2.3" height="5.9" fill="#8aa0c0"/>
<rect x="564.4" y="268.9" width="15.6" height="5.9" fill="#6a6ab0"/>
<rect x="581" y="268.9" width="52" height="5.9" fill="#6a6ab0"/>
<rect x="633.8" y="268.9" width="15.4" height="5.9" fill="#4a7f80"/>
<rect x="650" y="268.9" width="9.4" height="5.9" fill="#3f8a6a"/>
<rect x="661" y="268.9" width="9.5" height="5.9" fill="#3a7ab8"/>
<rect x="671.3" y="268.9" width="2.3" height="5.9" fill="#3a6a9a"/>
<rect x="479.9" y="276.9" width="2.5" height="5.9" fill="#8aa0c0"/>
<rect x="483.9" y="276.9" width="85.4" height="5.9" fill="#6a6ab0"/>
<rect x="570" y="276.9" width="101.3" height="5.9" fill="#6a6ab0"/>
<rect x="672" y="276.9" width="1.6" height="5.9" fill="#8aa0c0"/>
<rect x="479.3" y="284.9" width="31.7" height="5.9" fill="#d9408c"/>
<rect x="511.8" y="284.9" width="2.2" height="5.9" fill="#f0a8b4"/>
<rect x="514.5" y="284.9" width="1.5" height="5.9" fill="#e8b090"/>
<rect x="516.4" y="284.9" width="7.6" height="5.9" fill="#e6d48a"/>
<rect x="524.8" y="284.9" width="16.1" height="5.9" fill="#c8c090"/>
<rect x="541.7" y="284.9" width="11.5" height="5.9" fill="#a8b898"/>
<rect x="554.7" y="284.9" width="4.6" height="5.9" fill="#5a80b0"/>
<rect x="560" y="284.9" width="2.4" height="5.9" fill="#8aa0c0"/>
<rect x="563" y="284.9" width="40.6" height="5.9" fill="#6a6ab0"/>
<rect x="604.8" y="284.9" width="30.7" height="5.9" fill="#6a6ab0"/>
<rect x="636.7" y="284.9" width="9.9" height="5.9" fill="#4a7f80"/>
<rect x="648" y="284.9" width="5.8" height="5.9" fill="#3f8a6a"/>
<rect x="654.8" y="284.9" width="5.5" height="5.9" fill="#3a9a5a"/>
<rect x="661" y="284.9" width="7.8" height="5.9" fill="#3a7ab8"/>
<rect x="669.6" y="284.9" width="4" height="5.9" fill="#3a6a9a"/>
<rect x="479.3" y="292.8" width="37.1" height="5.9" fill="#d9408c"/>
<rect x="516.4" y="292.8" width="2.3" height="5.9" fill="#f0a8b4"/>
<rect x="519.8" y="292.8" width="3" height="5.9" fill="#e8b090"/>
<rect x="523.7" y="292.8" width="13.4" height="5.9" fill="#e6d48a"/>
<rect x="537.8" y="292.8" width="16.1" height="5.9" fill="#c8c090"/>
<rect x="554.7" y="292.8" width="21.5" height="5.9" fill="#a8b898"/>
<rect x="577" y="292.8" width="2.5" height="5.9" fill="#8aa0c0"/>
<rect x="580" y="292.8" width="1.8" height="5.9" fill="#5a80b0"/>
<rect x="582.7" y="292.8" width="12.8" height="5.9" fill="#6a6ab0"/>
<rect x="596.8" y="292.8" width="20" height="5.9" fill="#6a6ab0"/>
<rect x="618" y="292.8" width="15.8" height="5.9" fill="#4a7f80"/>
<rect x="635" y="292.8" width="10.8" height="5.9" fill="#3f8a6a"/>
<rect x="646.6" y="292.8" width="3.4" height="5.9" fill="#3a9a5a"/>
<rect x="651.4" y="292.8" width="17.4" height="5.9" fill="#3a7ab8"/>
<rect x="669.6" y="292.8" width="4" height="5.9" fill="#3a6a9a"/>
<rect x="479.3" y="300.8" width="17.6" height="5.9" fill="#d9408c"/>
<rect x="497.7" y="300.8" width="1.8" height="5.9" fill="#f0a8b4"/>
<rect x="500" y="300.8" width="2" height="5.9" fill="#e8b090"/>
<rect x="502.6" y="300.8" width="5.4" height="5.9" fill="#e6d48a"/>
<rect x="508.7" y="300.8" width="13.1" height="5.9" fill="#c8c090"/>
<rect x="522.5" y="300.8" width="10.7" height="5.9" fill="#a8b898"/>
<rect x="534.8" y="300.8" width="7.6" height="5.9" fill="#5a80b0"/>
<rect x="543" y="300.8" width="1.8" height="5.9" fill="#8aa0c0"/>
<rect x="545.8" y="300.8" width="15" height="5.9" fill="#6a6ab0"/>
<rect x="562" y="300.8" width="82" height="5.9" fill="#6a6ab0"/>
<rect x="645" y="300.8" width="10" height="5.9" fill="#4a7f80"/>
<rect x="656" y="300.8" width="4" height="5.9" fill="#3f8a6a"/>
<rect x="661" y="300.8" width="4" height="5.9" fill="#3a9a5a"/>
<rect x="667.9" y="300.8" width="2.6" height="5.9" fill="#3a7ab8"/>
<rect x="671.3" y="300.8" width="2.3" height="5.9" fill="#3a6a9a"/>
<rect x="479.3" y="308.7" width="17.6" height="5.9" fill="#d9408c"/>
<rect x="498" y="308.7" width="1.2" height="5.9" fill="#f0a8b4"/>
<rect x="500.3" y="308.7" width="2.3" height="5.9" fill="#e8b090"/>
<rect x="503.4" y="308.7" width="9.2" height="5.9" fill="#e6d48a"/>
<rect x="513.3" y="308.7" width="19.9" height="5.9" fill="#c8c090"/>
<rect x="534" y="308.7" width="18.4" height="5.9" fill="#a8b898"/>
<rect x="554.7" y="308.7" width="16.1" height="5.9" fill="#5a80b0"/>
<rect x="571.5" y="308.7" width="1.5" height="5.9" fill="#8aa0c0"/>
<rect x="573.9" y="308.7" width="13.9" height="5.9" fill="#6a6ab0"/>
<rect x="589" y="308.7" width="37.2" height="5.9" fill="#6a6ab0"/>
<rect x="627" y="308.7" width="17" height="5.9" fill="#4a7f80"/>
<rect x="645" y="308.7" width="8.4" height="5.9" fill="#3f8a6a"/>
<rect x="654.3" y="308.7" width="10.2" height="5.9" fill="#3a9a5a"/>
<rect x="666.2" y="308.7" width="4.3" height="5.9" fill="#3a7ab8"/>
<rect x="671.3" y="308.7" width="2.3" height="5.9" fill="#3a6a9a"/>
<rect x="479.3" y="316.6" width="30.7" height="5.9" fill="#d9408c"/>
<rect x="510.6" y="316.6" width="1.2" height="5.9" fill="#f0a8b4"/>
<rect x="512.5" y="316.6" width="1.1" height="5.9" fill="#e8b090"/>
<rect x="514.5" y="316.6" width="8" height="5.9" fill="#e6d48a"/>
<rect x="523.3" y="316.6" width="12.2" height="5.9" fill="#c8c090"/>
<rect x="536.3" y="316.6" width="12.3" height="5.9" fill="#a8b898"/>
<rect x="550" y="316.6" width="16.7" height="5.9" fill="#5a80b0"/>
<rect x="567.4" y="316.6" width="1.4" height="5.9" fill="#8aa0c0"/>
<rect x="570" y="316.6" width="11.8" height="5.9" fill="#6a6ab0"/>
<rect x="583.2" y="316.6" width="49.8" height="5.9" fill="#6a6ab0"/>
<rect x="634.7" y="316.6" width="11.1" height="5.9" fill="#4a7f80"/>
<rect x="647" y="316.6" width="6.8" height="5.9" fill="#3f8a6a"/>
<rect x="654.3" y="316.6" width="3.9" height="5.9" fill="#3a9a5a"/>
<rect x="660.3" y="316.6" width="11" height="5.9" fill="#3a7ab8"/>
<rect x="672" y="316.6" width="1.6" height="5.9" fill="#3a6a9a"/>
<rect x="479.3" y="324.6" width="26.4" height="5.9" fill="#d9408c"/>
<rect x="506.4" y="324.6" width="1.1" height="5.9" fill="#f0a8b4"/>
<rect x="508.4" y="324.6" width="17.9" height="5.9" fill="#e6d48a"/>
<rect x="527" y="324.6" width="13.9" height="5.9" fill="#c8c090"/>
<rect x="541.7" y="324.6" width="12.3" height="5.9" fill="#a8b898"/>
<rect x="554.7" y="324.6" width="1.5" height="5.9" fill="#8aa0c0"/>
<rect x="556.5" y="324.6" width="1.3" height="5.9" fill="#5a80b0"/>
<rect x="559" y="324.6" width="9.8" height="5.9" fill="#6a6ab0"/>
<rect x="569.7" y="324.6" width="35.1" height="5.9" fill="#4a7f80"/>
<rect x="606" y="324.6" width="18.1" height="5.9" fill="#3f8a6a"/>
<rect x="625" y="324.6" width="25.9" height="5.9" fill="#3a9a5a"/>
<rect x="652" y="324.6" width="15" height="5.9" fill="#3a7ab8"/>
<rect x="668" y="324.6" width="5.6" height="5.9" fill="#3a6a9a"/>
<rect x="479.3" y="332.6" width="23.3" height="5.9" fill="#d9408c"/>
<rect x="503.4" y="332.6" width="1" height="5.9" fill="#f0a8b4"/>
<rect x="504.9" y="332.6" width="3" height="5.9" fill="#e6d48a"/>
<rect x="508.7" y="332.6" width="3.9" height="5.9" fill="#c8c090"/>
<rect x="513.6" y="332.6" width="3" height="5.9" fill="#a8b898"/>
<rect x="518.2" y="332.6" width="1.2" height="5.9" fill="#8aa0c0"/>
<rect x="520.2" y="332.6" width="4.2" height="5.9" fill="#5a80b0"/>
<rect x="525.3" y="332.6" width="80.7" height="5.9" fill="#4a7f80"/>
<rect x="607" y="332.6" width="17.1" height="5.9" fill="#3f8a6a"/>
<rect x="625" y="332.6" width="31.5" height="5.9" fill="#3a9a5a"/>
<rect x="657.7" y="332.6" width="10.3" height="5.9" fill="#3a7ab8"/>
<rect x="668.8" y="332.6" width="4.8" height="5.9" fill="#3a6a9a"/>
<rect x="479.3" y="340.5" width="15.6" height="5.9" fill="#d9408c"/>
<rect x="496.1" y="340.5" width="1.1" height="5.9" fill="#f0a8b4"/>
<rect x="497.7" y="340.5" width="8" height="5.9" fill="#e6d48a"/>
<rect x="506.4" y="340.5" width="1.6" height="5.9" fill="#c8c090"/>
<rect x="509" y="340.5" width="3.1" height="5.9" fill="#a8b898"/>
<rect x="513.6" y="340.5" width="1.6" height="5.9" fill="#8aa0c0"/>
<rect x="516" y="340.5" width="5" height="5.9" fill="#5a80b0"/>
<rect x="522.2" y="340.5" width="86.1" height="5.9" fill="#4a7f80"/>
<rect x="609.4" y="340.5" width="18.5" height="5.9" fill="#3f8a6a"/>
<rect x="629.2" y="340.5" width="30.2" height="5.9" fill="#3a9a5a"/>
<rect x="661.6" y="340.5" width="8" height="5.9" fill="#3a7ab8"/>
<rect x="670.8" y="340.5" width="2.8" height="5.9" fill="#3a6a9a"/>
<rect x="479.3" y="348.4" width="69" height="5.9" fill="#d9408c"/>
<rect x="549.3" y="348.4" width="1.6" height="5.9" fill="#f0a8b4"/>
<rect x="552.4" y="348.4" width="7.6" height="5.9" fill="#e8b090"/>
<rect x="560.8" y="348.4" width="9.2" height="5.9" fill="#e6d48a"/>
<rect x="570.8" y="348.4" width="11" height="5.9" fill="#c8c090"/>
<rect x="582.7" y="348.4" width="14.5" height="5.9" fill="#a8b898"/>
<rect x="599.7" y="348.4" width="6" height="5.9" fill="#6a6ab0"/>
<rect x="606.5" y="348.4" width="15.4" height="5.9" fill="#4a7f80"/>
<rect x="623" y="348.4" width="2.8" height="5.9" fill="#3f8a6a"/>
<rect x="627" y="348.4" width="6.8" height="5.9" fill="#3a9a5a"/>
<rect x="634.5" y="348.4" width="1.3" height="5.9" fill="#e6d48a"/>
<rect x="636.3" y="348.4" width="1.2" height="5.9" fill="#d08a30"/>
<rect x="638" y="348.4" width="1.5" height="5.9" fill="#e6d48a"/>
<rect x="640" y="348.4" width="2" height="5.9" fill="#d08a30"/>
<rect x="643.2" y="348.4" width="21.3" height="5.9" fill="#3a7ab8"/>
<rect x="665.7" y="348.4" width="7.9" height="5.9" fill="#3a6a9a"/>
<rect x="479.3" y="356.4" width="23.7" height="5.9" fill="#d9408c"/>
<rect x="504.1" y="356.4" width="1.6" height="5.9" fill="#f0a8b4"/>
<rect x="506.9" y="356.4" width="2.6" height="5.9" fill="#e8b090"/>
<rect x="510.3" y="356.4" width="13.4" height="5.9" fill="#e6d48a"/>
<rect x="524" y="356.4" width="1.5" height="5.9" fill="#c8c090"/>
<rect x="525.9" y="356.4" width="10.1" height="5.9" fill="#a8b898"/>
<rect x="536.6" y="356.4" width="1.4" height="5.9" fill="#8aa0c0"/>
<rect x="538.5" y="356.4" width="1.1" height="5.9" fill="#5a80b0"/>
<rect x="540.9" y="356.4" width="10" height="5.9" fill="#4a7f80"/>
<rect x="551.6" y="356.4" width="7.7" height="5.9" fill="#3f8a6a"/>
<rect x="560.1" y="356.4" width="3" height="5.9" fill="#3a9a5a"/>
<rect x="564" y="356.4" width="1.5" height="5.9" fill="#e6d48a"/>
<rect x="565.5" y="356.4" width="1.5" height="5.9" fill="#d08a30"/>
<rect x="567.3" y="356.4" width="1.5" height="5.9" fill="#e6d48a"/>
<rect x="570" y="356.4" width="3" height="5.9" fill="#8a8a60"/>
<rect x="574.5" y="356.4" width="2.5" height="5.9" fill="#a8b898"/>
<rect x="578.8" y="356.4" width="75.5" height="5.9" fill="#3a7ab8"/>
<rect x="655" y="356.4" width="18.6" height="5.9" fill="#3a6a9a"/>
<rect x="479.3" y="364.4" width="30.7" height="5.9" fill="#d9408c"/>
<rect x="510.6" y="364.4" width="5.4" height="5.9" fill="#f0a8b4"/>
<rect x="517.9" y="364.4" width="14.6" height="5.9" fill="#e6d48a"/>
<rect x="533.2" y="364.4" width="4.6" height="5.9" fill="#c8c090"/>
<rect x="538.6" y="364.4" width="10.7" height="5.9" fill="#a8b898"/>
<rect x="550.1" y="364.4" width="0.8" height="5.9" fill="#5a80b0"/>
<rect x="551.3" y="364.4" width="1.9" height="5.9" fill="#6a6ab0"/>
<rect x="554.4" y="364.4" width="9.5" height="5.9" fill="#4a7f80"/>
<rect x="564.7" y="364.4" width="9.2" height="5.9" fill="#3f8a6a"/>
<rect x="574.6" y="364.4" width="3.8" height="5.9" fill="#c8c090"/>
<rect x="578.8" y="364.4" width="1.6" height="5.9" fill="#e6d48a"/>
<rect x="580.6" y="364.4" width="1" height="5.9" fill="#d08a30"/>
<rect x="581.8" y="364.4" width="3.1" height="5.9" fill="#8a8a60"/>
<rect x="586" y="364.4" width="77.7" height="5.9" fill="#3a7ab8"/>
<rect x="664.5" y="364.4" width="6.8" height="5.9" fill="#3a6a9a"/>
<rect x="672" y="364.4" width="1.6" height="5.9" fill="#c8c090"/>
<rect x="479.3" y="372.3" width="35.9" height="5.9" fill="#d9408c"/>
<rect x="515.6" y="372.3" width="1.6" height="5.9" fill="#f0a8b4"/>
<rect x="518.2" y="372.3" width="18.1" height="5.9" fill="#e6d48a"/>
<rect x="537.5" y="372.3" width="14.1" height="5.9" fill="#a8b898"/>
<rect x="551.9" y="372.3" width="1.6" height="5.9" fill="#8aa0c0"/>
<rect x="554" y="372.3" width="9.1" height="5.9" fill="#4a7f80"/>
<rect x="563.9" y="372.3" width="4.9" height="5.9" fill="#3f8a6a"/>
<rect x="570" y="372.3" width="1.5" height="5.9" fill="#3a9a5a"/>
<rect x="572.3" y="372.3" width="3.9" height="5.9" fill="#c8c090"/>
<rect x="576.5" y="372.3" width="1.5" height="5.9" fill="#e6d48a"/>
<rect x="578.5" y="372.3" width="1.6" height="5.9" fill="#8a8a60"/>
<rect x="581.5" y="372.3" width="79.6" height="5.9" fill="#3a7ab8"/>
<rect x="662" y="372.3" width="10.2" height="5.9" fill="#3a6a9a"/>
<rect x="479.3" y="380.2" width="2.6" height="5.9" fill="#d9408c"/>
<rect x="483.4" y="380.2" width="10" height="5.9" fill="#e8b090"/>
<rect x="494.6" y="380.2" width="34.8" height="5.9" fill="#e6d48a"/>
<rect x="530.2" y="380.2" width="9.2" height="5.9" fill="#c8c090"/>
<rect x="540.1" y="380.2" width="10.8" height="5.9" fill="#a8b898"/>
<rect x="552.4" y="380.2" width="6.9" height="5.9" fill="#6a6ab0"/>
<rect x="560.8" y="380.2" width="27.5" height="5.9" fill="#3a9a5a"/>
<rect x="590" y="380.2" width="8.9" height="5.9" fill="#8a8a60"/>
<rect x="600.2" y="380.2" width="21.2" height="5.9" fill="#d08a30"/>
<rect x="623" y="380.2" width="12" height="5.9" fill="#c07a30"/>
<rect x="636" y="380.2" width="12.7" height="5.9" fill="#8a8a60"/>
<rect x="650" y="380.2" width="12.8" height="5.9" fill="#4a7f80"/>
<rect x="663.6" y="380.2" width="1.7" height="5.9" fill="#8aa0c0"/>
<rect x="667" y="380.2" width="6.6" height="5.9" fill="#3a7ab8"/>
<rect x="479.3" y="388.2" width="48.6" height="5.9" fill="#d9408c"/>
<rect x="528.9" y="388.2" width="1.3" height="5.9" fill="#f0a8b4"/>
<rect x="530.9" y="388.2" width="2.1" height="5.9" fill="#e8b090"/>
<rect x="534" y="388.2" width="13" height="5.9" fill="#e6d48a"/>
<rect x="548.6" y="388.2" width="11.4" height="5.9" fill="#a8b898"/>
<rect x="561" y="388.2" width="2.1" height="5.9" fill="#5a80b0"/>
<rect x="563.5" y="388.2" width="2.5" height="5.9" fill="#6a6ab0"/>
<rect x="567" y="388.2" width="9.2" height="5.9" fill="#4a7f80"/>
<rect x="576.7" y="388.2" width="6.8" height="5.9" fill="#3f8a6a"/>
<rect x="584.7" y="388.2" width="3.6" height="5.9" fill="#3a9a5a"/>
<rect x="589.5" y="388.2" width="1.7" height="5.9" fill="#e6d48a"/>
<rect x="591.7" y="388.2" width="1.2" height="5.9" fill="#d08a30"/>
<rect x="593.8" y="388.2" width="2" height="5.9" fill="#8a8a60"/>
<rect x="596.8" y="388.2" width="63.1" height="5.9" fill="#3a7ab8"/>
<rect x="661" y="388.2" width="8.6" height="5.9" fill="#3a6a9a"/>
<rect x="670.3" y="388.2" width="3.3" height="5.9" fill="#5a80b0"/>
<rect x="478.4" y="259.6" width="196" height="135.7" fill="none" stroke="#b08080" stroke-width="0.6"/>
<line x1="478.8" y1="395.3" x2="478.8" y2="397.2" stroke="#444" stroke-width="0.5"/>
<text x="478.8" y="404.2" font-size="7" text-anchor="middle" fill="#333" stroke="#333" stroke-width="0.22">0.00</text>
<line x1="527.4" y1="395.3" x2="527.4" y2="397.2" stroke="#444" stroke-width="0.5"/>
<text x="527.4" y="404.2" font-size="7" text-anchor="middle" fill="#333" stroke="#333" stroke-width="0.22">0.25</text>
<line x1="576.1" y1="395.3" x2="576.1" y2="397.2" stroke="#444" stroke-width="0.5"/>
<text x="576.1" y="404.2" font-size="7" text-anchor="middle" fill="#333" stroke="#333" stroke-width="0.22">0.50</text>
<line x1="624.8" y1="395.3" x2="624.8" y2="397.2" stroke="#444" stroke-width="0.5"/>
<text x="624.8" y="404.2" font-size="7" text-anchor="middle" fill="#333" stroke="#333" stroke-width="0.22">0.75</text>
<line x1="673.5" y1="395.3" x2="673.5" y2="397.2" stroke="#444" stroke-width="0.5"/>
<text x="673.5" y="404.2" font-size="7" text-anchor="middle" fill="#333" stroke="#333" stroke-width="0.22">1.00</text>
<text x="70.5" y="429" font-size="7.8" stroke="#222" stroke-width="0.22">Tissues</text>
<rect x="104.1" y="413.3" width="6" height="6" fill="#c0443a" stroke="#666" stroke-width="0.3"/>
<text x="107.1" y="417.6" font-size="3.6" text-anchor="middle" fill="#1a1a1a">1</text>
<text x="112.4" y="418.8" font-size="7" stroke="#222" stroke-width="0.22">Bone Marrow</text>
<rect x="104.1" y="421.2" width="6" height="6" fill="#7a3a48" stroke="#666" stroke-width="0.3"/>
<text x="107.1" y="425.5" font-size="3.6" text-anchor="middle" fill="#1a1a1a">2</text>
<text x="112.4" y="426.8" font-size="7" stroke="#222" stroke-width="0.22">Pituitary gland</text>
<rect x="104.1" y="429.2" width="6" height="6" fill="#4c4a72" stroke="#666" stroke-width="0.3"/>
<text x="107.1" y="433.5" font-size="3.6" text-anchor="middle" fill="#1a1a1a">3</text>
<text x="112.4" y="434.7" font-size="7" stroke="#222" stroke-width="0.22">Mammary gland</text>
<rect x="104.1" y="437.2" width="6" height="6" fill="#3a6a9a" stroke="#666" stroke-width="0.3"/>
<text x="107.1" y="441.4" font-size="3.6" text-anchor="middle" fill="#1a1a1a">4</text>
<text x="112.4" y="442.7" font-size="7" stroke="#222" stroke-width="0.22">Abomasum</text>
<rect x="176.4" y="413.3" width="6" height="6" fill="#3f82be" stroke="#666" stroke-width="0.3"/>
<text x="179.4" y="417.6" font-size="3.6" text-anchor="middle" fill="#1a1a1a">5</text>
<text x="184.7" y="418.8" font-size="7" stroke="#222" stroke-width="0.22">Duodenum</text>
<rect x="176.4" y="421.2" width="6" height="6" fill="#4a8a9a" stroke="#666" stroke-width="0.3"/>
<text x="179.4" y="425.5" font-size="3.6" text-anchor="middle" fill="#1a1a1a">6</text>
<text x="184.7" y="426.8" font-size="7" stroke="#222" stroke-width="0.22">Palpebral conjunctiva</text>
<rect x="176.4" y="429.2" width="6" height="6" fill="#7a8a78" stroke="#666" stroke-width="0.3"/>
<text x="179.4" y="433.5" font-size="3.6" text-anchor="middle" fill="#1a1a1a">7</text>
<text x="184.7" y="434.7" font-size="7" stroke="#222" stroke-width="0.22">Bulbar conjunctiva</text>
<rect x="176.4" y="437.2" width="6" height="6" fill="#b8904a" stroke="#666" stroke-width="0.3"/>
<text x="179.4" y="441.4" font-size="3.6" text-anchor="middle" fill="#1a1a1a">8</text>
<text x="184.7" y="442.7" font-size="7" stroke="#222" stroke-width="0.22">Trachea</text>
<rect x="260.5" y="413.3" width="6" height="6" fill="#d09040" stroke="#666" stroke-width="0.3"/>
<text x="263.5" y="417.6" font-size="3.6" text-anchor="middle" fill="#1a1a1a">9</text>
<text x="268.8" y="418.8" font-size="7" stroke="#222" stroke-width="0.22">Omasum</text>
<rect x="260.5" y="421.2" width="6" height="6" fill="#a89a48" stroke="#666" stroke-width="0.3"/>
<text x="263.5" y="425.5" font-size="3.6" text-anchor="middle" fill="#1a1a1a">10</text>
<text x="268.8" y="426.8" font-size="7" stroke="#222" stroke-width="0.22">Reticulum</text>
<rect x="260.5" y="429.2" width="6" height="6" fill="#7a9a48" stroke="#666" stroke-width="0.3"/>
<text x="263.5" y="433.5" font-size="3.6" text-anchor="middle" fill="#1a1a1a">11</text>
<text x="268.8" y="434.7" font-size="7" stroke="#222" stroke-width="0.22">Sublingual gland</text>
<rect x="260.5" y="437.2" width="6" height="6" fill="#3a8a3a" stroke="#666" stroke-width="0.3"/>
<text x="263.5" y="441.4" font-size="3.6" text-anchor="middle" fill="#1a1a1a">12</text>
<text x="268.8" y="442.7" font-size="7" stroke="#222" stroke-width="0.22">Testis</text>
<rect x="333.3" y="413.3" width="6" height="6" fill="#3a8a5a" stroke="#666" stroke-width="0.3"/>
<text x="336.3" y="417.6" font-size="3.6" text-anchor="middle" fill="#1a1a1a">13</text>
<text x="341.6" y="418.8" font-size="7" stroke="#222" stroke-width="0.22">Blood vessel</text>
<rect x="333.3" y="421.2" width="6" height="6" fill="#4a7a6a" stroke="#666" stroke-width="0.3"/>
<text x="336.3" y="425.5" font-size="3.6" text-anchor="middle" fill="#1a1a1a">14</text>
<text x="341.6" y="426.8" font-size="7" stroke="#222" stroke-width="0.22">Colon</text>
<rect x="333.3" y="429.2" width="6" height="6" fill="#4a6a7a" stroke="#666" stroke-width="0.3"/>
<text x="336.3" y="433.5" font-size="3.6" text-anchor="middle" fill="#1a1a1a">15</text>
<text x="341.6" y="434.7" font-size="7" stroke="#222" stroke-width="0.22">Ileum</text>
<rect x="333.3" y="437.2" width="6" height="6" fill="#6a6a9a" stroke="#666" stroke-width="0.3"/>
<text x="336.3" y="441.4" font-size="3.6" text-anchor="middle" fill="#1a1a1a">16</text>
<text x="341.6" y="442.7" font-size="7" stroke="#222" stroke-width="0.22">PBMC</text>
<rect x="394.5" y="413.3" width="6" height="6" fill="#7a70b0" stroke="#666" stroke-width="0.3"/>
<text x="397.5" y="417.6" font-size="3.6" text-anchor="middle" fill="#1a1a1a">17</text>
<text x="402.8" y="418.8" font-size="7" stroke="#222" stroke-width="0.22">Thymus</text>
<rect x="394.5" y="421.2" width="6" height="6" fill="#6a78a8" stroke="#666" stroke-width="0.3"/>
<text x="397.5" y="425.5" font-size="3.6" text-anchor="middle" fill="#1a1a1a">18</text>
<text x="402.8" y="426.8" font-size="7" stroke="#222" stroke-width="0.22">SalivaryGland</text>
<rect x="394.5" y="429.2" width="6" height="6" fill="#6a7a9a" stroke="#666" stroke-width="0.3"/>
<text x="397.5" y="433.5" font-size="3.6" text-anchor="middle" fill="#1a1a1a">19</text>
<text x="402.8" y="434.7" font-size="7" stroke="#222" stroke-width="0.22">Blood</text>
<rect x="394.5" y="437.2" width="6" height="6" fill="#5a7a88" stroke="#666" stroke-width="0.3"/>
<text x="397.5" y="441.4" font-size="3.6" text-anchor="middle" fill="#1a1a1a">20</text>
<text x="402.8" y="442.7" font-size="7" stroke="#222" stroke-width="0.22">Cervical lymph node</text>
<rect x="483.5" y="413.3" width="6" height="6" fill="#7a9090" stroke="#666" stroke-width="0.3"/>
<text x="486.5" y="417.6" font-size="3.6" text-anchor="middle" fill="#1a1a1a">21</text>
<text x="491.8" y="418.8" font-size="7" stroke="#222" stroke-width="0.22">Adrenal gland</text>
<rect x="483.5" y="421.2" width="6" height="6" fill="#a8b0a0" stroke="#666" stroke-width="0.3"/>
<text x="486.5" y="425.5" font-size="3.6" text-anchor="middle" fill="#1a1a1a">22</text>
<text x="491.8" y="426.8" font-size="7" stroke="#222" stroke-width="0.22">Cecum</text>
<rect x="483.5" y="429.2" width="6" height="6" fill="#c8c0a0" stroke="#666" stroke-width="0.3"/>
<text x="486.5" y="433.5" font-size="3.6" text-anchor="middle" fill="#1a1a1a">23</text>
<text x="491.8" y="434.7" font-size="7" stroke="#222" stroke-width="0.22">Lung</text>
<rect x="483.5" y="437.2" width="6" height="6" fill="#e0d890" stroke="#666" stroke-width="0.3"/>
<text x="486.5" y="441.4" font-size="3.6" text-anchor="middle" fill="#1a1a1a">24</text>
<text x="491.8" y="442.7" font-size="7" stroke="#222" stroke-width="0.22">Jejunum</text>
<rect x="549.3" y="413.3" width="6" height="6" fill="#e8b098" stroke="#666" stroke-width="0.3"/>
<text x="552.3" y="417.6" font-size="3.6" text-anchor="middle" fill="#1a1a1a">25</text>
<text x="557.6" y="418.8" font-size="7" stroke="#222" stroke-width="0.22">Liver</text>
<rect x="549.3" y="421.2" width="6" height="6" fill="#d88898" stroke="#666" stroke-width="0.3"/>
<text x="552.3" y="425.5" font-size="3.6" text-anchor="middle" fill="#1a1a1a">26</text>
<text x="557.6" y="426.8" font-size="7" stroke="#222" stroke-width="0.22">Intima of uterine horn</text>
<rect x="549.3" y="429.2" width="6" height="6" fill="#d8609a" stroke="#666" stroke-width="0.3"/>
<text x="552.3" y="433.5" font-size="3.6" text-anchor="middle" fill="#1a1a1a">27</text>
<text x="557.6" y="434.7" font-size="7" stroke="#222" stroke-width="0.22">Rectum</text>
<rect x="549.3" y="437.2" width="6" height="6" fill="#d83a8a" stroke="#666" stroke-width="0.3"/>
<text x="552.3" y="441.4" font-size="3.6" text-anchor="middle" fill="#1a1a1a">28</text>
<text x="557.6" y="442.7" font-size="7" stroke="#222" stroke-width="0.22">Spleen</text>
<text x="2.1" y="466.9" font-size="14.2">f</text>
<path fill="#e5907f" d="M10 467.1h9.7v6.9h-9.7zM78 624.6h9.7v7.1h-9.7zM19.6 662.4h9.7v6.4h-9.7z"/>
<path fill="#e28371" d="M19.6 467.1h9.7v6.9h-9.7zM117.2 686.6h9.7v7h-9.7z"/>
<path fill="#f5ddd7" d="M29.2 467.1h9.7v6.9h-9.7zM48.4 475.2h9.7v7.1h-9.7zM97.2 489.2h9.7v7.1h-9.7zM58 503.3h9.7v7.1h-9.7zM10 511.5h9.7v7h-9.7zM97.2 624.6h9.7v7.1h-9.7zM155.6 639.8h9.7v6.9h-9.7zM68.4 654.8h9.7v6.5h-9.7z"/>
<path fill="#f1c5ba" d="M38.8 467.1h9.7v6.9h-9.7zM29.2 496.3h9.7v7.1h-9.7zM48.4 503.3h9.7v7.1h-9.7zM48.4 518.4h9.7v7h-9.7zM58 525.3h9.7v7h-9.7zM58 532.2h9.7v7h-9.7zM38.8 546h9.7v7h-9.7zM10 552.9h9.7v7h-9.7zM58 552.9h9.7v7h-9.7zM29.2 559.8h9.7v7h-9.7zM58 559.8h9.7v7h-9.7zM78 589.2h9.7v7.1h-9.7zM146 639.8h9.7v6.9h-9.7zM78 654.8h9.7v6.5h-9.7zM146 686.6h9.7v7h-9.7zM38.8 693.6h9.7v7h-9.7z"/>
<path fill="#f2cac0" d="M48.4 467.1h9.7v6.9h-9.7zM29.2 482.2h9.7v7.1h-9.7zM58 482.2h9.7v7.1h-9.7zM68.4 482.2h9.7v7.1h-9.7zM19.6 518.4h9.7v7h-9.7zM29.2 518.4h9.7v7h-9.7zM38.8 518.4h9.7v7h-9.7zM68.4 525.3h9.7v7h-9.7zM10 532.2h9.7v7h-9.7zM29.2 532.2h9.7v7h-9.7zM68.4 532.2h9.7v7h-9.7zM97.2 532.2h9.7v7h-9.7zM10 539.1h9.7v7h-9.7zM48.4 539.1h9.7v7h-9.7zM19.6 546h9.7v7h-9.7zM68.4 546h9.7v7h-9.7zM29.2 552.9h9.7v7h-9.7zM87.6 575.1h9.7v7.1h-9.7zM117.2 582.2h9.7v7.1h-9.7zM19.6 589.2h9.7v7.1h-9.7zM87.6 589.2h9.7v7.1h-9.7zM136.4 633h9.7v6.9h-9.7zM146 633h9.7v6.9h-9.7zM146 646.7h9.7v6.9h-9.7zM10 670h9.7v6.7h-9.7zM38.8 670h9.7v6.7h-9.7zM48.4 693.6h9.7v7h-9.7zM106.8 693.6h9.7v7h-9.7z"/>
<path fill="#f4d8d1" d="M58 467.1h9.7v6.9h-9.7zM19.6 482.2h9.7v7.1h-9.7zM48.4 489.2h9.7v7.1h-9.7zM58 489.2h9.7v7.1h-9.7zM19.6 511.5h9.7v7h-9.7zM10 525.3h9.7v7h-9.7zM58 546h9.7v7h-9.7zM68.4 552.9h9.7v7h-9.7zM68.4 559.8h9.7v7h-9.7zM117.2 568h9.7v7.1h-9.7zM38.8 589.2h9.7v7.1h-9.7zM97.2 617.5h9.7v7.1h-9.7zM165.2 633h9.7v6.9h-9.7zM155.6 646.7h9.7v6.9h-9.7zM117.2 654.8h9.7v6.5h-9.7zM58 677.8h9.7v7.7h-9.7zM165.2 686.6h9.7v7h-9.7zM10 693.6h9.7v7h-9.7z"/>
<path fill="#f7f0ee" d="M68.4 467.1h9.7v6.9h-9.7zM10 482.2h9.7v7.1h-9.7zM10 503.3h9.7v7.1h-9.7zM126.8 503.3h9.7v7.1h-9.7zM126.8 511.5h9.7v7h-9.7zM165.2 511.5h9.7v7h-9.7zM106.8 559.8h9.7v7h-9.7zM117.2 589.2h9.7v7.1h-9.7zM97.2 596.3h9.7v7.1h-9.7zM117.2 596.3h9.7v7.1h-9.7zM117.2 603.4h9.7v7.1h-9.7zM68.4 617.5h9.7v7.1h-9.7zM106.8 654.8h9.7v6.5h-9.7zM29.2 662.4h9.7v6.4h-9.7zM97.2 662.4h9.7v6.4h-9.7zM58 670h9.7v6.7h-9.7zM106.8 670h9.7v6.7h-9.7zM117.2 670h9.7v6.7h-9.7zM106.8 677.8h9.7v7.7h-9.7zM117.2 677.8h9.7v7.7h-9.7z"/>
<path fill="#90b7cf" d="M78 467.1h9.7v6.9h-9.7zM117.2 467.1h9.7v6.9h-9.7zM136.4 589.2h9.7v7.1h-9.7z"/>
<path fill="#b6d0de" d="M87.6 467.1h9.7v6.9h-9.7zM126.8 482.2h9.7v7.1h-9.7zM146 489.2h9.7v7.1h-9.7zM117.2 511.5h9.7v7h-9.7zM87.6 532.2h9.7v7h-9.7zM136.4 532.2h9.7v7h-9.7zM126.8 546h9.7v7h-9.7zM165.2 546h9.7v7h-9.7zM146 552.9h9.7v7h-9.7zM165.2 552.9h9.7v7h-9.7zM10 568h9.7v7.1h-9.7zM155.6 568h9.7v7.1h-9.7zM10 603.4h9.7v7.1h-9.7zM87.6 633h9.7v6.9h-9.7zM78 686.6h9.7v7h-9.7z"/>
<path fill="#eff2f3" d="M97.2 467.1h9.7v6.9h-9.7zM155.6 467.1h9.7v6.9h-9.7zM68.4 475.2h9.7v7.1h-9.7zM97.2 475.2h9.7v7.1h-9.7zM78 482.2h9.7v7.1h-9.7zM78 489.2h9.7v7.1h-9.7zM10 496.3h9.7v7.1h-9.7zM58 511.5h9.7v7h-9.7zM106.8 532.2h9.7v7h-9.7zM106.8 552.9h9.7v7h-9.7zM29.2 568h9.7v7.1h-9.7zM106.8 575.1h9.7v7.1h-9.7zM58 589.2h9.7v7.1h-9.7zM155.6 589.2h9.7v7.1h-9.7zM48.4 596.3h9.7v7.1h-9.7zM136.4 603.4h9.7v7.1h-9.7zM48.4 617.5h9.7v7.1h-9.7zM68.4 624.6h9.7v7.1h-9.7zM146 654.8h9.7v6.5h-9.7zM165.2 654.8h9.7v6.5h-9.7zM106.8 662.4h9.7v6.4h-9.7zM155.6 662.4h9.7v6.4h-9.7zM126.8 677.8h9.7v7.7h-9.7z"/>
<path fill="#e8eef1" d="M106.8 467.1h9.7v6.9h-9.7zM146 467.1h9.7v6.9h-9.7zM106.8 482.2h9.7v7.1h-9.7zM68.4 503.3h9.7v7.1h-9.7zM29.2 511.5h9.7v7h-9.7zM78 518.4h9.7v7h-9.7zM106.8 518.4h9.7v7h-9.7zM106.8 525.3h9.7v7h-9.7zM155.6 539.1h9.7v7h-9.7zM87.6 559.8h9.7v7h-9.7zM19.6 568h9.7v7.1h-9.7zM126.8 575.1h9.7v7.1h-9.7zM106.8 582.2h9.7v7.1h-9.7zM29.2 596.3h9.7v7.1h-9.7zM38.8 596.3h9.7v7.1h-9.7zM58 596.3h9.7v7.1h-9.7zM68.4 596.3h9.7v7.1h-9.7zM106.8 596.3h9.7v7.1h-9.7zM146 596.3h9.7v7.1h-9.7zM146 603.4h9.7v7.1h-9.7zM117.2 610.5h9.7v7.1h-9.7zM58 617.5h9.7v7.1h-9.7zM106.8 617.5h9.7v7.1h-9.7zM10 624.6h9.7v7.1h-9.7zM106.8 624.6h9.7v7.1h-9.7zM78 639.8h9.7v6.9h-9.7zM87.6 639.8h9.7v6.9h-9.7zM87.6 646.7h9.7v6.9h-9.7zM155.6 654.8h9.7v6.5h-9.7zM146 662.4h9.7v6.4h-9.7zM165.2 662.4h9.7v6.4h-9.7zM68.4 670h9.7v6.7h-9.7zM97.2 670h9.7v6.7h-9.7zM136.4 670h9.7v6.7h-9.7zM155.6 670h9.7v6.7h-9.7zM136.4 677.8h9.7v7.7h-9.7zM126.8 693.6h9.7v7h-9.7zM136.4 693.6h9.7v7h-9.7z"/>
<path fill="#d4e3eb" d="M126.8 467.1h9.7v6.9h-9.7zM19.6 475.2h9.7v7.1h-9.7zM78 532.2h9.7v7h-9.7zM146 539.1h9.7v7h-9.7zM19.6 582.2h9.7v7.1h-9.7zM29.2 582.2h9.7v7.1h-9.7zM38.8 582.2h9.7v7.1h-9.7zM97.2 589.2h9.7v7.1h-9.7zM136.4 596.3h9.7v7.1h-9.7zM155.6 603.4h9.7v7.1h-9.7zM106.8 610.5h9.7v7.1h-9.7zM155.6 610.5h9.7v7.1h-9.7zM146 617.5h9.7v7.1h-9.7zM19.6 624.6h9.7v7.1h-9.7zM38.8 624.6h9.7v7.1h-9.7zM136.4 624.6h9.7v7.1h-9.7zM68.4 633h9.7v6.9h-9.7zM97.2 633h9.7v6.9h-9.7zM58 646.7h9.7v6.9h-9.7zM10 654.8h9.7v6.5h-9.7zM136.4 662.4h9.7v6.4h-9.7zM19.6 686.6h9.7v7h-9.7z"/>
<path fill="#c8dce6" d="M136.4 467.1h9.7v6.9h-9.7zM136.4 482.2h9.7v7.1h-9.7zM136.4 496.3h9.7v7.1h-9.7zM146 496.3h9.7v7.1h-9.7zM117.2 503.3h9.7v7.1h-9.7zM68.4 511.5h9.7v7h-9.7zM87.6 518.4h9.7v7h-9.7zM117.2 518.4h9.7v7h-9.7zM146 546h9.7v7h-9.7zM78 552.9h9.7v7h-9.7zM87.6 552.9h9.7v7h-9.7zM136.4 559.8h9.7v7h-9.7zM146 559.8h9.7v7h-9.7zM58 568h9.7v7.1h-9.7zM165.2 575.1h9.7v7.1h-9.7zM146 582.2h9.7v7.1h-9.7zM126.8 589.2h9.7v7.1h-9.7zM146 589.2h9.7v7.1h-9.7zM19.6 603.4h9.7v7.1h-9.7zM10 633h9.7v6.9h-9.7zM29.2 633h9.7v6.9h-9.7zM48.4 633h9.7v6.9h-9.7zM19.6 639.8h9.7v6.9h-9.7zM48.4 639.8h9.7v6.9h-9.7zM19.6 646.7h9.7v6.9h-9.7zM19.6 654.8h9.7v6.5h-9.7zM97.2 654.8h9.7v6.5h-9.7zM87.6 670h9.7v6.7h-9.7z"/>
<path fill="#cedfe8" d="M165.2 467.1h9.7v6.9h-9.7zM117.2 475.2h9.7v7.1h-9.7zM155.6 482.2h9.7v7.1h-9.7zM87.6 489.2h9.7v7.1h-9.7zM87.6 496.3h9.7v7.1h-9.7zM97.2 511.5h9.7v7h-9.7zM78 525.3h9.7v7h-9.7zM87.6 525.3h9.7v7h-9.7zM78 539.1h9.7v7h-9.7zM126.8 539.1h9.7v7h-9.7zM87.6 546h9.7v7h-9.7zM165.2 559.8h9.7v7h-9.7zM97.2 568h9.7v7.1h-9.7zM165.2 568h9.7v7.1h-9.7zM29.2 575.1h9.7v7.1h-9.7zM155.6 582.2h9.7v7.1h-9.7zM48.4 603.4h9.7v7.1h-9.7zM29.2 624.6h9.7v7.1h-9.7zM58 633h9.7v6.9h-9.7zM78 633h9.7v6.9h-9.7zM10 639.8h9.7v6.9h-9.7zM58 639.8h9.7v6.9h-9.7zM97.2 639.8h9.7v6.9h-9.7zM10 646.7h9.7v6.9h-9.7zM29.2 646.7h9.7v6.9h-9.7zM38.8 646.7h9.7v6.9h-9.7zM48.4 646.7h9.7v6.9h-9.7zM146 677.8h9.7v7.7h-9.7zM10 686.6h9.7v7h-9.7zM29.2 686.6h9.7v7h-9.7zM48.4 686.6h9.7v7h-9.7zM58 686.6h9.7v7h-9.7zM87.6 686.6h9.7v7h-9.7zM97.2 686.6h9.7v7h-9.7zM146 693.6h9.7v7h-9.7zM155.6 693.6h9.7v7h-9.7z"/>
<path fill="#a7c6d8" d="M10 475.2h9.7v7.1h-9.7zM126.8 496.3h9.7v7.1h-9.7zM87.6 503.3h9.7v7.1h-9.7zM146 518.4h9.7v7h-9.7zM165.2 518.4h9.7v7h-9.7zM146 532.2h9.7v7h-9.7zM117.2 539.1h9.7v7h-9.7zM165.2 589.2h9.7v7.1h-9.7zM136.4 610.5h9.7v7.1h-9.7zM78 670h9.7v6.7h-9.7zM10 677.8h9.7v7.7h-9.7z"/>
<path fill="#f0bfb3" d="M29.2 475.2h9.7v7.1h-9.7zM29.2 489.2h9.7v7.1h-9.7zM155.6 511.5h9.7v7h-9.7zM19.6 525.3h9.7v7h-9.7zM19.6 539.1h9.7v7h-9.7zM29.2 546h9.7v7h-9.7zM38.8 559.8h9.7v7h-9.7zM78 568h9.7v7.1h-9.7zM48.4 670h9.7v6.7h-9.7zM126.8 686.6h9.7v7h-9.7zM136.4 686.6h9.7v7h-9.7zM29.2 693.6h9.7v7h-9.7z"/>
<path fill="#edb3a6" d="M38.8 475.2h9.7v7.1h-9.7zM48.4 525.3h9.7v7h-9.7zM38.8 539.1h9.7v7h-9.7zM78 603.4h9.7v7.1h-9.7zM87.6 603.4h9.7v7.1h-9.7zM78 610.5h9.7v7.1h-9.7zM117.2 633h9.7v6.9h-9.7z"/>
<path fill="#f6e6e2" d="M58 475.2h9.7v7.1h-9.7zM165.2 475.2h9.7v7.1h-9.7zM38.8 482.2h9.7v7.1h-9.7zM10 489.2h9.7v7.1h-9.7zM68.4 489.2h9.7v7.1h-9.7zM19.6 496.3h9.7v7.1h-9.7zM97.2 496.3h9.7v7.1h-9.7zM19.6 503.3h9.7v7.1h-9.7zM97.2 518.4h9.7v7h-9.7zM97.2 552.9h9.7v7h-9.7zM97.2 559.8h9.7v7h-9.7zM10 589.2h9.7v7.1h-9.7zM58 610.5h9.7v7.1h-9.7zM117.2 617.5h9.7v7.1h-9.7zM38.8 662.4h9.7v6.4h-9.7zM29.2 670h9.7v6.7h-9.7z"/>
<path fill="#6a9ec0" d="M78 475.2h9.7v7.1h-9.7z"/>
<path fill="#72a3c3" d="M87.6 475.2h9.7v7.1h-9.7z"/>
<path fill="#f7f5f4" d="M106.8 475.2h9.7v7.1h-9.7zM136.4 503.3h9.7v7.1h-9.7zM165.2 503.3h9.7v7.1h-9.7zM106.8 539.1h9.7v7h-9.7zM48.4 568h9.7v7.1h-9.7zM106.8 568h9.7v7.1h-9.7zM136.4 568h9.7v7.1h-9.7zM58 575.1h9.7v7.1h-9.7zM68.4 610.5h9.7v7.1h-9.7zM19.6 617.5h9.7v7.1h-9.7zM106.8 633h9.7v6.9h-9.7zM106.8 639.8h9.7v6.9h-9.7zM68.4 646.7h9.7v6.9h-9.7zM106.8 646.7h9.7v6.9h-9.7zM29.2 654.8h9.7v6.5h-9.7zM58 654.8h9.7v6.5h-9.7zM58 662.4h9.7v6.4h-9.7zM165.2 670h9.7v6.7h-9.7zM106.8 686.6h9.7v7h-9.7zM68.4 693.6h9.7v7h-9.7zM97.2 693.6h9.7v7h-9.7z"/>
<path fill="#f5e1dc" d="M126.8 475.2h9.7v7.1h-9.7zM136.4 475.2h9.7v7.1h-9.7zM48.4 496.3h9.7v7.1h-9.7zM58 496.3h9.7v7.1h-9.7zM146 503.3h9.7v7.1h-9.7zM106.8 511.5h9.7v7h-9.7zM10 518.4h9.7v7h-9.7zM97.2 525.3h9.7v7h-9.7zM97.2 539.1h9.7v7h-9.7zM68.4 575.1h9.7v7.1h-9.7zM87.6 582.2h9.7v7.1h-9.7zM68.4 589.2h9.7v7.1h-9.7zM10 610.5h9.7v7.1h-9.7zM19.6 610.5h9.7v7.1h-9.7zM48.4 610.5h9.7v7.1h-9.7zM165.2 639.8h9.7v6.9h-9.7zM155.6 686.6h9.7v7h-9.7zM58 693.6h9.7v7h-9.7z"/>
<path fill="#f3d3cb" d="M146 475.2h9.7v7.1h-9.7zM155.6 475.2h9.7v7.1h-9.7zM48.4 482.2h9.7v7.1h-9.7zM155.6 503.3h9.7v7.1h-9.7zM38.8 511.5h9.7v7h-9.7zM136.4 511.5h9.7v7h-9.7zM38.8 525.3h9.7v7h-9.7zM38.8 532.2h9.7v7h-9.7zM48.4 532.2h9.7v7h-9.7zM29.2 539.1h9.7v7h-9.7zM117.2 575.1h9.7v7.1h-9.7zM136.4 639.8h9.7v6.9h-9.7zM136.4 646.7h9.7v6.9h-9.7zM165.2 646.7h9.7v6.9h-9.7zM48.4 662.4h9.7v6.4h-9.7z"/>
<path fill="#f6ebe8" d="M87.6 482.2h9.7v7.1h-9.7zM97.2 546h9.7v7h-9.7zM106.8 546h9.7v7h-9.7zM97.2 582.2h9.7v7.1h-9.7zM29.2 589.2h9.7v7.1h-9.7zM29.2 610.5h9.7v7.1h-9.7zM38.8 610.5h9.7v7.1h-9.7zM117.2 624.6h9.7v7.1h-9.7zM117.2 662.4h9.7v6.4h-9.7zM146 670h9.7v6.7h-9.7zM48.4 677.8h9.7v7.7h-9.7zM19.6 693.6h9.7v7h-9.7z"/>
<path fill="#e9a292" d="M97.2 482.2h9.7v7.1h-9.7zM87.6 610.5h9.7v7.1h-9.7zM78 617.5h9.7v7.1h-9.7zM19.6 670h9.7v6.7h-9.7z"/>
<path fill="#98bcd2" d="M117.2 482.2h9.7v7.1h-9.7zM117.2 489.2h9.7v7.1h-9.7zM78 503.3h9.7v7.1h-9.7zM87.6 511.5h9.7v7h-9.7zM126.8 518.4h9.7v7h-9.7zM165.2 525.3h9.7v7h-9.7zM155.6 532.2h9.7v7h-9.7zM136.4 546h9.7v7h-9.7z"/>
<path fill="#bcd4e1" d="M146 482.2h9.7v7.1h-9.7zM126.8 532.2h9.7v7h-9.7zM165.2 532.2h9.7v7h-9.7zM165.2 539.1h9.7v7h-9.7zM117.2 552.9h9.7v7h-9.7zM126.8 552.9h9.7v7h-9.7zM136.4 552.9h9.7v7h-9.7zM155.6 559.8h9.7v7h-9.7zM38.8 575.1h9.7v7.1h-9.7zM155.6 575.1h9.7v7.1h-9.7zM29.2 603.4h9.7v7.1h-9.7zM38.8 603.4h9.7v7.1h-9.7zM19.6 633h9.7v6.9h-9.7zM87.6 662.4h9.7v6.4h-9.7z"/>
<path fill="#e0ebf0" d="M165.2 482.2h9.7v7.1h-9.7zM155.6 489.2h9.7v7.1h-9.7zM106.8 496.3h9.7v7.1h-9.7zM97.2 503.3h9.7v7.1h-9.7zM106.8 503.3h9.7v7.1h-9.7zM38.8 568h9.7v7.1h-9.7zM87.6 568h9.7v7.1h-9.7zM97.2 575.1h9.7v7.1h-9.7zM146 575.1h9.7v7.1h-9.7zM10 582.2h9.7v7.1h-9.7zM58 582.2h9.7v7.1h-9.7zM126.8 582.2h9.7v7.1h-9.7zM10 596.3h9.7v7.1h-9.7zM155.6 596.3h9.7v7.1h-9.7zM165.2 596.3h9.7v7.1h-9.7zM68.4 603.4h9.7v7.1h-9.7zM106.8 603.4h9.7v7.1h-9.7zM165.2 603.4h9.7v7.1h-9.7zM10 617.5h9.7v7.1h-9.7zM29.2 617.5h9.7v7.1h-9.7zM136.4 617.5h9.7v7.1h-9.7zM155.6 617.5h9.7v7.1h-9.7zM165.2 617.5h9.7v7.1h-9.7zM48.4 624.6h9.7v7.1h-9.7zM126.8 624.6h9.7v7.1h-9.7zM78 646.7h9.7v6.9h-9.7zM48.4 654.8h9.7v6.5h-9.7zM126.8 654.8h9.7v6.5h-9.7zM136.4 654.8h9.7v6.5h-9.7zM19.6 677.8h9.7v7.7h-9.7zM29.2 677.8h9.7v7.7h-9.7zM38.8 677.8h9.7v7.7h-9.7zM87.6 677.8h9.7v7.7h-9.7zM97.2 677.8h9.7v7.7h-9.7z"/>
<path fill="#f2cec5" d="M19.6 489.2h9.7v7.1h-9.7zM48.4 511.5h9.7v7h-9.7zM146 511.5h9.7v7h-9.7zM58 518.4h9.7v7h-9.7zM68.4 518.4h9.7v7h-9.7zM29.2 525.3h9.7v7h-9.7zM19.6 532.2h9.7v7h-9.7zM58 539.1h9.7v7h-9.7zM68.4 539.1h9.7v7h-9.7zM48.4 546h9.7v7h-9.7zM19.6 552.9h9.7v7h-9.7zM10 559.8h9.7v7h-9.7zM19.6 559.8h9.7v7h-9.7zM68.4 582.2h9.7v7.1h-9.7zM48.4 589.2h9.7v7.1h-9.7zM97.2 603.4h9.7v7.1h-9.7zM97.2 610.5h9.7v7.1h-9.7zM155.6 633h9.7v6.9h-9.7z"/>
<path fill="#e79685" d="M38.8 489.2h9.7v7.1h-9.7zM38.8 503.3h9.7v7.1h-9.7zM68.4 677.8h9.7v7.7h-9.7zM78 677.8h9.7v7.7h-9.7z"/>
<path fill="#dae7ed" d="M106.8 489.2h9.7v7.1h-9.7zM165.2 489.2h9.7v7.1h-9.7zM165.2 496.3h9.7v7.1h-9.7zM136.4 518.4h9.7v7h-9.7zM136.4 525.3h9.7v7h-9.7zM87.6 539.1h9.7v7h-9.7zM78 546h9.7v7h-9.7zM155.6 546h9.7v7h-9.7zM78 559.8h9.7v7h-9.7zM126.8 568h9.7v7.1h-9.7zM146 568h9.7v7.1h-9.7zM10 575.1h9.7v7.1h-9.7zM19.6 575.1h9.7v7.1h-9.7zM48.4 575.1h9.7v7.1h-9.7zM136.4 575.1h9.7v7.1h-9.7zM48.4 582.2h9.7v7.1h-9.7zM136.4 582.2h9.7v7.1h-9.7zM19.6 596.3h9.7v7.1h-9.7zM126.8 596.3h9.7v7.1h-9.7zM58 603.4h9.7v7.1h-9.7zM126.8 603.4h9.7v7.1h-9.7zM38.8 617.5h9.7v7.1h-9.7zM126.8 617.5h9.7v7.1h-9.7zM58 624.6h9.7v7.1h-9.7zM146 624.6h9.7v7.1h-9.7zM155.6 624.6h9.7v7.1h-9.7zM165.2 624.6h9.7v7.1h-9.7zM68.4 639.8h9.7v6.9h-9.7zM97.2 646.7h9.7v6.9h-9.7zM38.8 654.8h9.7v6.5h-9.7zM68.4 662.4h9.7v6.4h-9.7zM126.8 670h9.7v6.7h-9.7zM38.8 686.6h9.7v7h-9.7zM68.4 686.6h9.7v7h-9.7zM165.2 693.6h9.7v7h-9.7z"/>
<path fill="#c2d8e3" d="M126.8 489.2h9.7v7.1h-9.7zM136.4 489.2h9.7v7.1h-9.7zM155.6 496.3h9.7v7.1h-9.7zM117.2 525.3h9.7v7h-9.7zM165.2 582.2h9.7v7.1h-9.7zM165.2 610.5h9.7v7.1h-9.7zM38.8 633h9.7v6.9h-9.7zM29.2 639.8h9.7v6.9h-9.7zM38.8 639.8h9.7v6.9h-9.7zM155.6 677.8h9.7v7.7h-9.7zM165.2 677.8h9.7v7.7h-9.7zM117.2 693.6h9.7v7h-9.7z"/>
<path fill="#eeb9ad" d="M38.8 496.3h9.7v7.1h-9.7zM29.2 503.3h9.7v7.1h-9.7zM38.8 552.9h9.7v7h-9.7zM48.4 552.9h9.7v7h-9.7zM48.4 559.8h9.7v7h-9.7zM78 596.3h9.7v7.1h-9.7z"/>
<path fill="#ecada0" d="M68.4 496.3h9.7v7.1h-9.7zM126.8 633h9.7v6.9h-9.7z"/>
<path fill="#e89c8c" d="M78 496.3h9.7v7.1h-9.7zM68.4 568h9.7v7.1h-9.7zM87.6 617.5h9.7v7.1h-9.7zM126.8 646.7h9.7v6.9h-9.7zM10 662.4h9.7v6.4h-9.7z"/>
<path fill="#88b2cc" d="M117.2 496.3h9.7v7.1h-9.7zM155.6 518.4h9.7v7h-9.7z"/>
<path fill="#6499bc" d="M78 511.5h9.7v7h-9.7z"/>
<path fill="#9fc1d5" d="M126.8 525.3h9.7v7h-9.7zM146 525.3h9.7v7h-9.7zM117.2 546h9.7v7h-9.7zM126.8 662.4h9.7v6.4h-9.7zM78 693.6h9.7v7h-9.7z"/>
<path fill="#aecbdb" d="M155.6 525.3h9.7v7h-9.7zM117.2 532.2h9.7v7h-9.7zM136.4 539.1h9.7v7h-9.7zM155.6 552.9h9.7v7h-9.7zM117.2 559.8h9.7v7h-9.7zM126.8 559.8h9.7v7h-9.7zM106.8 589.2h9.7v7.1h-9.7zM126.8 610.5h9.7v7.1h-9.7zM146 610.5h9.7v7.1h-9.7zM78 662.4h9.7v6.4h-9.7zM87.6 693.6h9.7v7h-9.7z"/>
<path fill="#eaa899" d="M10 546h9.7v7h-9.7zM117.2 639.8h9.7v6.9h-9.7zM126.8 639.8h9.7v6.9h-9.7zM117.2 646.7h9.7v6.9h-9.7z"/>
<path fill="#da6e5d" d="M78 575.1h9.7v7.1h-9.7z"/>
<path fill="#df7c6a" d="M78 582.2h9.7v7.1h-9.7zM87.6 624.6h9.7v7.1h-9.7zM87.6 654.8h9.7v6.5h-9.7z"/>
<path fill="#dd7564" d="M87.6 596.3h9.7v7.1h-9.7z"/>
<text x="178.2" y="474" font-size="7" stroke="#222" stroke-width="0.22">GSE12366: Naive VS memory B cell up</text>
<text x="178.2" y="482.1" font-size="7" stroke="#222" stroke-width="0.22">ABC signature in Malaria</text>
<text x="178.2" y="489.1" font-size="7" stroke="#222" stroke-width="0.22">ABC signature in HIV</text>
<text x="178.2" y="496.2" font-size="7" stroke="#222" stroke-width="0.22">ABC signature in Lupus</text>
<text x="178.2" y="503.2" font-size="7" stroke="#222" stroke-width="0.22">ABC signature in Sjögren's syndrome</text>
<text x="178.2" y="510.2" font-size="7" stroke="#222" stroke-width="0.22">ABC signature in RA &amp; CVID</text>
<text x="178.2" y="518.4" font-size="7" stroke="#222" stroke-width="0.22">Stress pathway</text>
<text x="178.2" y="525.3" font-size="7" stroke="#222" stroke-width="0.22">Response to interferon gamma</text>
<text x="178.2" y="532.2" font-size="7" stroke="#222" stroke-width="0.22">Response to type I interferon</text>
<text x="178.2" y="539.1" font-size="7" stroke="#222" stroke-width="0.22">Antigen processing and presentation</text>
<text x="178.2" y="546" font-size="7" stroke="#222" stroke-width="0.22">B cell activation</text>
<text x="178.2" y="552.9" font-size="7" stroke="#222" stroke-width="0.22">B cell receptor signaling pathway</text>
<text x="178.2" y="559.8" font-size="7" stroke="#222" stroke-width="0.22">Leukocyte cell-cell adhesion</text>
<text x="178.2" y="566.7" font-size="7" stroke="#222" stroke-width="0.22">Lymphocyte costimulation</text>
<text x="178.2" y="574.9" font-size="7" stroke="#222" stroke-width="0.22">Pre-GC signature</text>
<text x="178.2" y="582" font-size="7" stroke="#222" stroke-width="0.22">Myc targets V1</text>
<text x="178.2" y="589.1" font-size="7" stroke="#222" stroke-width="0.22">Myc targets V2</text>
<text x="178.2" y="596.2" font-size="7" stroke="#222" stroke-width="0.22">Cell cycle G1/S phase transition</text>
<text x="178.2" y="603.3" font-size="7" stroke="#222" stroke-width="0.22">Cell cycle G2/M phase transition</text>
<text x="178.2" y="610.3" font-size="7" stroke="#222" stroke-width="0.22">Germinal center B cell differentiation</text>
<text x="178.2" y="617.4" font-size="7" stroke="#222" stroke-width="0.22">GSE12366: GC B cell VS plasma cell up</text>
<text x="178.2" y="624.5" font-size="7" stroke="#222" stroke-width="0.22">GSE12366: GC  VS memory B cell up</text>
<text x="178.2" y="631.6" font-size="7" stroke="#222" stroke-width="0.22">GSE12366: GC  VS naive B cell up</text>
<text x="178.2" y="639.8" font-size="7" stroke="#222" stroke-width="0.22">GSE12366: Plasma cell VS memory B cell up</text>
<text x="178.2" y="646.7" font-size="7" stroke="#222" stroke-width="0.22">GSE12366: Plasma cell VS naive B cell up</text>
<text x="178.2" y="653.5" font-size="7" stroke="#222" stroke-width="0.22">GSE12366: Plasma cell VS memory B cell up</text>
<text x="178.2" y="661.4" font-size="7" stroke="#222" stroke-width="0.22">High_affinity</text>
<text x="178.2" y="669" font-size="7" stroke="#222" stroke-width="0.22">Low_affinity</text>
<text x="178.2" y="676.7" font-size="7" stroke="#222" stroke-width="0.22">Activated</text>
<text x="178.2" y="685" font-size="7" stroke="#222" stroke-width="0.22">CSR</text>
<text x="178.2" y="693.5" font-size="7" stroke="#222" stroke-width="0.22">MHC_CLASS_I</text>
<text x="178.2" y="700.5" font-size="7" stroke="#222" stroke-width="0.22">MHC_CLASS_II</text>
<circle cx="14.8" cy="706.6" r="3.5" fill="#5aaad8" stroke="#3a3a3a" stroke-width="0.6"/>
<text x="14.8" y="708.2" font-size="4.5" text-anchor="middle" fill="#333">1</text>
<circle cx="24.4" cy="706.6" r="3.5" fill="#d8a868" stroke="#3a3a3a" stroke-width="0.6"/>
<text x="24.4" y="708.2" font-size="4.5" text-anchor="middle" fill="#333">2</text>
<circle cx="34" cy="706.6" r="3.5" fill="#8ccfb4" stroke="#3a3a3a" stroke-width="0.6"/>
<text x="34" y="708.2" font-size="4.5" text-anchor="middle" fill="#333">3</text>
<circle cx="43.6" cy="706.6" r="3.5" fill="#a986c4" stroke="#3a3a3a" stroke-width="0.6"/>
<text x="43.6" y="708.2" font-size="4.5" text-anchor="middle" fill="#333">4</text>
<circle cx="53.2" cy="706.6" r="3.5" fill="#a9449e" stroke="#3a3a3a" stroke-width="0.6"/>
<text x="53.2" y="708.2" font-size="4.5" text-anchor="middle" fill="#1a1a1a">5</text>
<circle cx="62.8" cy="706.6" r="3.5" fill="#5e3a8c" stroke="#3a3a3a" stroke-width="0.6"/>
<text x="62.8" y="708.2" font-size="4.5" text-anchor="middle" fill="#1a1a1a">6</text>
<circle cx="73.2" cy="706.6" r="3.5" fill="#c8e4a0" stroke="#3a3a3a" stroke-width="0.6"/>
<text x="73.2" y="708.2" font-size="4.5" text-anchor="middle" fill="#333">7</text>
<circle cx="82.8" cy="706.6" r="3.5" fill="#9a2a22" stroke="#3a3a3a" stroke-width="0.6"/>
<text x="82.8" y="708.2" font-size="4.5" text-anchor="middle" fill="#1a1a1a">9</text>
<circle cx="92.4" cy="706.6" r="3.5" fill="#c9504f" stroke="#3a3a3a" stroke-width="0.6"/>
<text x="92.4" y="708.2" font-size="4.5" text-anchor="middle" fill="#333">10</text>
<circle cx="102" cy="706.6" r="3.5" fill="#a88a68" stroke="#3a3a3a" stroke-width="0.6"/>
<text x="102" y="708.2" font-size="4.5" text-anchor="middle" fill="#333">8</text>
<circle cx="111.6" cy="706.6" r="3.5" fill="#3b6a88" stroke="#3a3a3a" stroke-width="0.6"/>
<text x="111.6" y="708.2" font-size="4.5" text-anchor="middle" fill="#1a1a1a">11</text>
<circle cx="122" cy="706.6" r="3.5" fill="#454545" stroke="#3a3a3a" stroke-width="0.6"/>
<text x="122" y="708.2" font-size="4.5" text-anchor="middle" fill="#1a1a1a">12</text>
<circle cx="131.6" cy="706.6" r="3.5" fill="#c8be48" stroke="#3a3a3a" stroke-width="0.6"/>
<text x="131.6" y="708.2" font-size="4.5" text-anchor="middle" fill="#333">13</text>
<circle cx="141.2" cy="706.6" r="3.5" fill="#1e3b26" stroke="#3a3a3a" stroke-width="0.6"/>
<text x="141.2" y="708.2" font-size="4.5" text-anchor="middle" fill="#1a1a1a">14</text>
<circle cx="150.8" cy="706.6" r="3.5" fill="#f2ecec" stroke="#3a3a3a" stroke-width="0.6"/>
<text x="150.8" y="708.2" font-size="4.5" text-anchor="middle" fill="#333">15</text>
<circle cx="160.4" cy="706.6" r="3.5" fill="#c58bc0" stroke="#3a3a3a" stroke-width="0.6"/>
<text x="160.4" y="708.2" font-size="4.5" text-anchor="middle" fill="#333">16</text>
<circle cx="170" cy="706.6" r="3.5" fill="#9ccf9c" stroke="#3a3a3a" stroke-width="0.6"/>
<text x="170" y="708.2" font-size="4.5" text-anchor="middle" fill="#333">17</text>
<text x="275.6" y="682.3" font-size="6.8" text-anchor="middle" stroke="#222" stroke-width="0.22">Z-score</text>
<linearGradient id="fgr" x1="0" y1="0" x2="1" y2="0"><stop offset="0" stop-color="#2a6f96"/><stop offset="0.5" stop-color="#f7f5f4"/><stop offset="1" stop-color="#c8382c"/></linearGradient>
<rect x="252.9" y="685.5" width="47.9" height="7.1" fill="url(#fgr)"/>
<text x="252.9" y="700.6" font-size="6.6" text-anchor="middle" stroke="#222" stroke-width="0.22">-4</text>
<text x="264.6" y="700.6" font-size="6.6" text-anchor="middle" stroke="#222" stroke-width="0.22">-2</text>
<text x="276.3" y="700.6" font-size="6.6" text-anchor="middle" stroke="#222" stroke-width="0.22">0</text>
<text x="287.5" y="700.6" font-size="6.6" text-anchor="middle" stroke="#222" stroke-width="0.22">2</text>
<text x="298.5" y="700.6" font-size="6.6" text-anchor="middle" stroke="#222" stroke-width="0.22">4</text>
<text x="317.7" y="466.7" font-size="14.2">g</text>
<path fill="#e8eef1" d="M338.7 479.9h5.4v2.4h-5.4zM349.5 479.9h5.4v2.4h-5.4zM360.2 479.9h5.4v2.4h-5.4zM381.7 479.9h5.4v2.4h-5.4zM349.5 482.2h5.4v2.4h-5.4zM387.1 482.2h5.4v2.4h-5.4zM419.4 482.2h5.4v2.4h-5.4zM424.8 482.2h5.4v2.4h-5.4zM360.2 484.5h5.4v2.4h-5.4zM381.7 484.5h5.4v2.4h-5.4zM419.4 484.5h5.4v2.4h-5.4zM344.1 486.9h5.4v2.4h-5.4zM365.6 486.9h5.4v2.4h-5.4zM381.7 486.9h5.4v2.4h-5.4zM414 486.9h5.4v2.4h-5.4zM424.8 486.9h5.4v2.4h-5.4zM338.7 489.2h5.4v2.4h-5.4zM354.8 489.2h5.4v2.4h-5.4zM376.4 491.5h5.4v2.4h-5.4zM424.8 491.5h5.4v2.4h-5.4zM381.7 493.8h5.4v2.4h-5.4zM338.7 498.5h5.4v2.4h-5.4zM344.1 498.5h5.4v2.4h-5.4zM392.5 498.5h5.4v2.4h-5.4zM338.7 500.8h5.4v2.4h-5.4zM360.2 500.8h5.4v2.4h-5.4zM371 500.8h5.4v2.4h-5.4zM387.1 500.8h5.4v2.4h-5.4zM365.6 503.1h5.4v2.4h-5.4zM371 503.1h5.4v2.4h-5.4zM387.1 505.4h5.4v2.4h-5.4zM403.3 505.4h5.4v2.4h-5.4zM354.8 507.7h5.4v2.4h-5.4zM338.7 510.1h5.4v2.4h-5.4zM360.2 510.1h5.4v2.4h-5.4zM354.8 512.4h5.4v2.4h-5.4zM360.2 512.4h5.4v2.4h-5.4zM360.2 514.7h5.4v2.4h-5.4zM381.7 517h5.4v2.4h-5.4zM392.5 517h5.4v2.4h-5.4zM344.1 519.3h5.4v2.4h-5.4zM365.6 521.7h5.4v2.4h-5.4zM344.1 524h5.4v2.4h-5.4zM360.2 526.3h5.4v2.4h-5.4zM381.7 526.3h5.4v2.4h-5.4zM387.1 526.3h5.4v2.4h-5.4zM392.5 526.3h5.4v2.4h-5.4zM397.9 526.3h5.4v2.4h-5.4zM408.6 526.3h5.4v2.4h-5.4zM354.8 528.6h5.4v2.4h-5.4zM414 528.6h5.4v2.4h-5.4zM376.4 533.3h5.4v2.4h-5.4zM408.6 533.3h5.4v2.4h-5.4zM354.8 535.6h5.4v2.4h-5.4zM376.4 535.6h5.4v2.4h-5.4zM381.7 535.6h5.4v2.4h-5.4zM392.5 535.6h5.4v2.4h-5.4zM376.4 537.9h5.4v2.4h-5.4zM387.1 537.9h5.4v2.4h-5.4zM365.6 540.2h5.4v2.4h-5.4zM381.7 540.2h5.4v2.4h-5.4zM387.1 540.2h5.4v2.4h-5.4zM403.3 540.2h5.4v2.4h-5.4zM381.7 542.5h5.4v2.4h-5.4zM403.3 542.5h5.4v2.4h-5.4zM414 542.5h5.4v2.4h-5.4zM376.4 544.8h5.4v2.4h-5.4zM419.4 544.8h5.4v2.4h-5.4zM419.4 547.2h5.4v2.4h-5.4zM354.8 549.5h5.4v2.4h-5.4zM376.4 549.5h5.4v2.4h-5.4zM387.1 549.5h5.4v2.4h-5.4zM354.8 551.8h5.4v2.4h-5.4zM360.2 554.1h5.4v2.4h-5.4zM376.4 554.1h5.4v2.4h-5.4zM360.2 556.4h5.4v2.4h-5.4zM392.5 556.4h5.4v2.4h-5.4zM397.9 556.4h5.4v2.4h-5.4zM403.3 556.4h5.4v2.4h-5.4zM371 558.8h5.4v2.4h-5.4zM381.7 558.8h5.4v2.4h-5.4zM387.1 558.8h5.4v2.4h-5.4zM419.4 558.8h5.4v2.4h-5.4zM349.5 561.1h5.4v2.4h-5.4zM381.7 561.1h5.4v2.4h-5.4zM365.6 563.4h5.4v2.4h-5.4zM387.1 563.4h5.4v2.4h-5.4zM408.6 563.4h5.4v2.4h-5.4zM414 563.4h5.4v2.4h-5.4zM419.4 563.4h5.4v2.4h-5.4zM397.9 565.7h5.4v2.4h-5.4zM360.2 568h5.4v2.4h-5.4zM365.6 568h5.4v2.4h-5.4zM371 568h5.4v2.4h-5.4zM376.4 570.4h5.4v2.4h-5.4zM381.7 570.4h5.4v2.4h-5.4zM397.9 570.4h5.4v2.4h-5.4zM360.2 572.7h5.4v2.4h-5.4zM360.2 575h5.4v2.4h-5.4zM381.7 575h5.4v2.4h-5.4zM408.6 575h5.4v2.4h-5.4zM397.9 577.3h5.4v2.4h-5.4zM354.8 579.6h5.4v2.4h-5.4zM381.7 579.6h5.4v2.4h-5.4zM408.6 579.6h5.4v2.4h-5.4zM387.1 582h5.4v2.4h-5.4zM381.7 584.3h5.4v2.4h-5.4zM408.6 584.3h5.4v2.4h-5.4zM424.8 584.3h5.4v2.4h-5.4zM381.7 586.6h5.4v2.4h-5.4zM414 586.6h5.4v2.4h-5.4zM419.4 586.6h5.4v2.4h-5.4zM424.8 586.6h5.4v2.4h-5.4zM414 588.9h5.4v2.4h-5.4zM365.6 591.2h5.4v2.4h-5.4zM414 591.2h5.4v2.4h-5.4zM354.8 593.6h5.4v2.4h-5.4zM381.7 593.6h5.4v2.4h-5.4zM408.6 593.6h5.4v2.4h-5.4zM381.7 595.9h5.4v2.4h-5.4zM371 598.2h5.4v2.4h-5.4zM397.9 598.2h5.4v2.4h-5.4zM365.6 600.5h5.4v2.4h-5.4zM381.7 600.5h5.4v2.4h-5.4zM419.4 600.5h5.4v2.4h-5.4zM354.8 602.8h5.4v2.4h-5.4zM381.7 602.8h5.4v2.4h-5.4zM387.1 602.8h5.4v2.4h-5.4zM397.9 602.8h5.4v2.4h-5.4zM414 602.8h5.4v2.4h-5.4zM419.4 602.8h5.4v2.4h-5.4zM419.4 605.2h5.4v2.4h-5.4zM414 612.1h5.4v2.4h-5.4zM349.5 616.8h5.4v2.4h-5.4zM397.9 616.8h5.4v2.4h-5.4zM338.7 619.1h5.4v2.4h-5.4zM392.5 623.7h5.4v2.4h-5.4zM397.9 623.7h5.4v2.4h-5.4zM349.5 626h5.4v2.4h-5.4zM344.1 628.4h5.4v2.4h-5.4zM354.8 630.7h5.4v2.4h-5.4zM338.7 633h5.4v2.4h-5.4zM338.7 635.3h5.4v2.4h-5.4zM403.3 635.3h5.4v2.4h-5.4zM397.9 640h5.4v2.4h-5.4zM419.4 640h5.4v2.4h-5.4zM344.1 642.3h5.4v2.4h-5.4zM403.3 644.6h5.4v2.4h-5.4zM403.3 646.9h5.4v2.4h-5.4zM392.5 649.2h5.4v2.4h-5.4zM403.3 649.2h5.4v2.4h-5.4zM392.5 653.9h5.4v2.4h-5.4zM397.9 656.2h5.4v2.4h-5.4zM397.9 658.5h5.4v2.4h-5.4zM349.5 663.1h5.4v2.4h-5.4zM403.3 663.1h5.4v2.4h-5.4zM344.1 665.5h5.4v2.4h-5.4zM397.9 670.1h5.4v2.4h-5.4zM392.5 672.4h5.4v2.4h-5.4zM403.3 674.7h5.4v2.4h-5.4zM371 677.1h5.4v2.4h-5.4zM376.4 677.1h5.4v2.4h-5.4zM365.6 679.4h5.4v2.4h-5.4zM371 679.4h5.4v2.4h-5.4zM397.9 679.4h5.4v2.4h-5.4zM354.8 681.7h5.4v2.4h-5.4zM376.4 686.3h5.4v2.4h-5.4zM371 693.3h5.4v2.4h-5.4zM365.6 695.6h5.4v2.4h-5.4zM381.7 695.6h5.4v2.4h-5.4zM387.1 697.9h5.4v2.4h-5.4zM371 700.3h5.4v2.4h-5.4zM387.1 700.3h5.4v2.4h-5.4zM392.5 700.3h5.4v2.4h-5.4zM392.5 702.6h5.4v2.4h-5.4z"/>
<path fill="#f5f5f5" d="M344.1 479.9h5.4v2.4h-5.4zM354.8 479.9h5.4v2.4h-5.4zM381.7 482.2h5.4v2.4h-5.4zM354.8 484.5h5.4v2.4h-5.4zM376.4 486.9h5.4v2.4h-5.4zM381.7 489.2h5.4v2.4h-5.4zM414 489.2h5.4v2.4h-5.4zM419.4 489.2h5.4v2.4h-5.4zM392.5 491.5h5.4v2.4h-5.4zM419.4 491.5h5.4v2.4h-5.4zM338.7 493.8h5.4v2.4h-5.4zM376.4 493.8h5.4v2.4h-5.4zM392.5 493.8h5.4v2.4h-5.4zM344.1 496.1h5.4v2.4h-5.4zM354.8 496.1h5.4v2.4h-5.4zM419.4 496.1h5.4v2.4h-5.4zM387.1 498.5h5.4v2.4h-5.4zM344.1 500.8h5.4v2.4h-5.4zM354.8 500.8h5.4v2.4h-5.4zM392.5 503.1h5.4v2.4h-5.4zM365.6 505.4h5.4v2.4h-5.4zM381.7 505.4h5.4v2.4h-5.4zM344.1 507.7h5.4v2.4h-5.4zM376.4 510.1h5.4v2.4h-5.4zM365.6 514.7h5.4v2.4h-5.4zM376.4 514.7h5.4v2.4h-5.4zM344.1 517h5.4v2.4h-5.4zM360.2 517h5.4v2.4h-5.4zM376.4 519.3h5.4v2.4h-5.4zM349.5 521.7h5.4v2.4h-5.4zM381.7 521.7h5.4v2.4h-5.4zM354.8 524h5.4v2.4h-5.4zM371 526.3h5.4v2.4h-5.4zM349.5 528.6h5.4v2.4h-5.4zM371 528.6h5.4v2.4h-5.4zM397.9 530.9h5.4v2.4h-5.4zM387.1 533.3h5.4v2.4h-5.4zM419.4 533.3h5.4v2.4h-5.4zM360.2 535.6h5.4v2.4h-5.4zM354.8 537.9h5.4v2.4h-5.4zM414 537.9h5.4v2.4h-5.4zM397.9 540.2h5.4v2.4h-5.4zM360.2 544.8h5.4v2.4h-5.4zM365.6 544.8h5.4v2.4h-5.4zM371 549.5h5.4v2.4h-5.4zM408.6 551.8h5.4v2.4h-5.4zM365.6 554.1h5.4v2.4h-5.4zM387.1 554.1h5.4v2.4h-5.4zM403.3 554.1h5.4v2.4h-5.4zM419.4 554.1h5.4v2.4h-5.4zM376.4 561.1h5.4v2.4h-5.4zM360.2 563.4h5.4v2.4h-5.4zM349.5 565.7h5.4v2.4h-5.4zM354.8 572.7h5.4v2.4h-5.4zM376.4 572.7h5.4v2.4h-5.4zM408.6 572.7h5.4v2.4h-5.4zM403.3 577.3h5.4v2.4h-5.4zM408.6 577.3h5.4v2.4h-5.4zM414 584.3h5.4v2.4h-5.4zM376.4 586.6h5.4v2.4h-5.4zM392.5 586.6h5.4v2.4h-5.4zM365.6 588.9h5.4v2.4h-5.4zM381.7 588.9h5.4v2.4h-5.4zM419.4 591.2h5.4v2.4h-5.4zM424.8 593.6h5.4v2.4h-5.4zM376.4 595.9h5.4v2.4h-5.4zM387.1 595.9h5.4v2.4h-5.4zM403.3 598.2h5.4v2.4h-5.4zM424.8 602.8h5.4v2.4h-5.4zM338.7 612.1h5.4v2.4h-5.4zM354.8 614.4h5.4v2.4h-5.4zM392.5 619.1h5.4v2.4h-5.4zM403.3 619.1h5.4v2.4h-5.4zM387.1 621.4h5.4v2.4h-5.4zM392.5 621.4h5.4v2.4h-5.4zM397.9 630.7h5.4v2.4h-5.4zM381.7 633h5.4v2.4h-5.4zM397.9 635.3h5.4v2.4h-5.4zM338.7 640h5.4v2.4h-5.4zM338.7 644.6h5.4v2.4h-5.4zM381.7 646.9h5.4v2.4h-5.4zM338.7 667.8h5.4v2.4h-5.4zM403.3 667.8h5.4v2.4h-5.4zM408.6 672.4h5.4v2.4h-5.4zM408.6 674.7h5.4v2.4h-5.4zM338.7 677.1h5.4v2.4h-5.4zM392.5 677.1h5.4v2.4h-5.4zM397.9 677.1h5.4v2.4h-5.4zM349.5 679.4h5.4v2.4h-5.4zM360.2 681.7h5.4v2.4h-5.4zM354.8 684h5.4v2.4h-5.4zM349.5 686.3h5.4v2.4h-5.4zM387.1 695.6h5.4v2.4h-5.4zM354.8 697.9h5.4v2.4h-5.4zM381.7 702.6h5.4v2.4h-5.4z"/>
<path fill="#f4e8e5" d="M365.6 479.9h5.4v2.4h-5.4zM338.7 482.2h5.4v2.4h-5.4zM397.9 482.2h5.4v2.4h-5.4zM344.1 484.5h5.4v2.4h-5.4zM365.6 484.5h5.4v2.4h-5.4zM424.8 484.5h5.4v2.4h-5.4zM349.5 486.9h5.4v2.4h-5.4zM338.7 491.5h5.4v2.4h-5.4zM397.9 493.8h5.4v2.4h-5.4zM424.8 496.1h5.4v2.4h-5.4zM349.5 498.5h5.4v2.4h-5.4zM365.6 498.5h5.4v2.4h-5.4zM414 498.5h5.4v2.4h-5.4zM349.5 500.8h5.4v2.4h-5.4zM349.5 503.1h5.4v2.4h-5.4zM338.7 505.4h5.4v2.4h-5.4zM349.5 533.3h5.4v2.4h-5.4zM349.5 535.6h5.4v2.4h-5.4zM397.9 535.6h5.4v2.4h-5.4zM349.5 540.2h5.4v2.4h-5.4zM371 540.2h5.4v2.4h-5.4zM349.5 542.5h5.4v2.4h-5.4zM392.5 561.1h5.4v2.4h-5.4zM419.4 565.7h5.4v2.4h-5.4zM349.5 570.4h5.4v2.4h-5.4zM349.5 572.7h5.4v2.4h-5.4zM403.3 579.6h5.4v2.4h-5.4zM354.8 607.5h5.4v2.4h-5.4zM387.1 607.5h5.4v2.4h-5.4zM371 614.4h5.4v2.4h-5.4zM381.7 616.8h5.4v2.4h-5.4zM354.8 626h5.4v2.4h-5.4zM387.1 633h5.4v2.4h-5.4zM360.2 635.3h5.4v2.4h-5.4zM360.2 640h5.4v2.4h-5.4zM387.1 644.6h5.4v2.4h-5.4zM360.2 651.5h5.4v2.4h-5.4zM354.8 653.9h5.4v2.4h-5.4zM371 658.5h5.4v2.4h-5.4zM387.1 665.5h5.4v2.4h-5.4zM387.1 667.8h5.4v2.4h-5.4zM344.1 672.4h5.4v2.4h-5.4zM338.7 674.7h5.4v2.4h-5.4zM349.5 674.7h5.4v2.4h-5.4zM349.5 677.1h5.4v2.4h-5.4zM354.8 677.1h5.4v2.4h-5.4zM403.3 684h5.4v2.4h-5.4zM338.7 688.7h5.4v2.4h-5.4zM408.6 693.3h5.4v2.4h-5.4zM371 695.6h5.4v2.4h-5.4zM365.6 697.9h5.4v2.4h-5.4zM371 697.9h5.4v2.4h-5.4z"/>
<path fill="#d5e4ea" d="M371 479.9h5.4v2.4h-5.4zM392.5 479.9h5.4v2.4h-5.4zM371 489.2h5.4v2.4h-5.4zM371 493.8h5.4v2.4h-5.4zM354.8 498.5h5.4v2.4h-5.4zM424.8 498.5h5.4v2.4h-5.4zM424.8 500.8h5.4v2.4h-5.4zM376.4 505.4h5.4v2.4h-5.4zM371 507.7h5.4v2.4h-5.4zM397.9 507.7h5.4v2.4h-5.4zM392.5 510.1h5.4v2.4h-5.4zM408.6 512.4h5.4v2.4h-5.4zM354.8 514.7h5.4v2.4h-5.4zM403.3 514.7h5.4v2.4h-5.4zM408.6 514.7h5.4v2.4h-5.4zM354.8 517h5.4v2.4h-5.4zM397.9 517h5.4v2.4h-5.4zM403.3 517h5.4v2.4h-5.4zM360.2 519.3h5.4v2.4h-5.4zM408.6 519.3h5.4v2.4h-5.4zM403.3 521.7h5.4v2.4h-5.4zM408.6 524h5.4v2.4h-5.4zM354.8 526.3h5.4v2.4h-5.4zM376.4 526.3h5.4v2.4h-5.4zM419.4 526.3h5.4v2.4h-5.4zM387.1 528.6h5.4v2.4h-5.4zM419.4 528.6h5.4v2.4h-5.4zM392.5 530.9h5.4v2.4h-5.4zM403.3 530.9h5.4v2.4h-5.4zM414 530.9h5.4v2.4h-5.4zM424.8 530.9h5.4v2.4h-5.4zM365.6 535.6h5.4v2.4h-5.4zM403.3 535.6h5.4v2.4h-5.4zM360.2 537.9h5.4v2.4h-5.4zM354.8 540.2h5.4v2.4h-5.4zM376.4 542.5h5.4v2.4h-5.4zM392.5 544.8h5.4v2.4h-5.4zM408.6 544.8h5.4v2.4h-5.4zM360.2 547.2h5.4v2.4h-5.4zM381.7 549.5h5.4v2.4h-5.4zM397.9 549.5h5.4v2.4h-5.4zM371 554.1h5.4v2.4h-5.4zM414 554.1h5.4v2.4h-5.4zM414 556.4h5.4v2.4h-5.4zM397.9 558.8h5.4v2.4h-5.4zM403.3 561.1h5.4v2.4h-5.4zM414 561.1h5.4v2.4h-5.4zM376.4 565.7h5.4v2.4h-5.4zM408.6 565.7h5.4v2.4h-5.4zM387.1 568h5.4v2.4h-5.4zM424.8 572.7h5.4v2.4h-5.4zM424.8 577.3h5.4v2.4h-5.4zM419.4 579.6h5.4v2.4h-5.4zM387.1 586.6h5.4v2.4h-5.4zM371 588.9h5.4v2.4h-5.4zM392.5 588.9h5.4v2.4h-5.4zM354.8 591.2h5.4v2.4h-5.4zM397.9 591.2h5.4v2.4h-5.4zM403.3 591.2h5.4v2.4h-5.4zM365.6 593.6h5.4v2.4h-5.4zM354.8 595.9h5.4v2.4h-5.4zM365.6 595.9h5.4v2.4h-5.4zM397.9 595.9h5.4v2.4h-5.4zM419.4 595.9h5.4v2.4h-5.4zM424.8 595.9h5.4v2.4h-5.4zM381.7 598.2h5.4v2.4h-5.4zM387.1 598.2h5.4v2.4h-5.4zM419.4 598.2h5.4v2.4h-5.4zM392.5 605.2h5.4v2.4h-5.4zM344.1 607.5h5.4v2.4h-5.4zM392.5 607.5h5.4v2.4h-5.4zM419.4 607.5h5.4v2.4h-5.4zM344.1 609.8h5.4v2.4h-5.4zM392.5 609.8h5.4v2.4h-5.4zM344.1 612.1h5.4v2.4h-5.4zM392.5 612.1h5.4v2.4h-5.4zM349.5 614.4h5.4v2.4h-5.4zM338.7 616.8h5.4v2.4h-5.4zM344.1 616.8h5.4v2.4h-5.4zM349.5 621.4h5.4v2.4h-5.4zM408.6 621.4h5.4v2.4h-5.4zM424.8 623.7h5.4v2.4h-5.4zM397.9 626h5.4v2.4h-5.4zM403.3 628.4h5.4v2.4h-5.4zM338.7 630.7h5.4v2.4h-5.4zM403.3 630.7h5.4v2.4h-5.4zM392.5 633h5.4v2.4h-5.4zM349.5 635.3h5.4v2.4h-5.4zM349.5 637.6h5.4v2.4h-5.4zM397.9 637.6h5.4v2.4h-5.4zM344.1 640h5.4v2.4h-5.4zM419.4 642.3h5.4v2.4h-5.4zM414 644.6h5.4v2.4h-5.4zM349.5 649.2h5.4v2.4h-5.4zM349.5 651.5h5.4v2.4h-5.4zM344.1 653.9h5.4v2.4h-5.4zM403.3 653.9h5.4v2.4h-5.4zM344.1 656.2h5.4v2.4h-5.4zM392.5 656.2h5.4v2.4h-5.4zM392.5 658.5h5.4v2.4h-5.4zM408.6 660.8h5.4v2.4h-5.4zM414 663.1h5.4v2.4h-5.4zM424.8 663.1h5.4v2.4h-5.4zM392.5 665.5h5.4v2.4h-5.4zM408.6 665.5h5.4v2.4h-5.4zM424.8 665.5h5.4v2.4h-5.4zM381.7 670.1h5.4v2.4h-5.4zM392.5 670.1h5.4v2.4h-5.4zM403.3 670.1h5.4v2.4h-5.4zM419.4 670.1h5.4v2.4h-5.4zM381.7 672.4h5.4v2.4h-5.4zM419.4 677.1h5.4v2.4h-5.4zM414 679.4h5.4v2.4h-5.4zM424.8 684h5.4v2.4h-5.4zM354.8 686.3h5.4v2.4h-5.4zM365.6 686.3h5.4v2.4h-5.4zM354.8 691h5.4v2.4h-5.4zM360.2 691h5.4v2.4h-5.4zM414 691h5.4v2.4h-5.4zM376.4 695.6h5.4v2.4h-5.4zM365.6 700.3h5.4v2.4h-5.4z"/>
<path fill="#dce7ec" d="M376.4 479.9h5.4v2.4h-5.4zM419.4 479.9h5.4v2.4h-5.4zM360.2 482.2h5.4v2.4h-5.4zM365.6 482.2h5.4v2.4h-5.4zM414 482.2h5.4v2.4h-5.4zM392.5 489.2h5.4v2.4h-5.4zM344.1 491.5h5.4v2.4h-5.4zM360.2 491.5h5.4v2.4h-5.4zM381.7 491.5h5.4v2.4h-5.4zM387.1 491.5h5.4v2.4h-5.4zM360.2 493.8h5.4v2.4h-5.4zM371 496.1h5.4v2.4h-5.4zM414 496.1h5.4v2.4h-5.4zM376.4 498.5h5.4v2.4h-5.4zM376.4 500.8h5.4v2.4h-5.4zM344.1 503.1h5.4v2.4h-5.4zM387.1 503.1h5.4v2.4h-5.4zM408.6 505.4h5.4v2.4h-5.4zM381.7 507.7h5.4v2.4h-5.4zM397.9 510.1h5.4v2.4h-5.4zM365.6 512.4h5.4v2.4h-5.4zM376.4 512.4h5.4v2.4h-5.4zM392.5 512.4h5.4v2.4h-5.4zM381.7 514.7h5.4v2.4h-5.4zM387.1 514.7h5.4v2.4h-5.4zM376.4 517h5.4v2.4h-5.4zM397.9 521.7h5.4v2.4h-5.4zM365.6 524h5.4v2.4h-5.4zM371 524h5.4v2.4h-5.4zM387.1 524h5.4v2.4h-5.4zM403.3 526.3h5.4v2.4h-5.4zM414 526.3h5.4v2.4h-5.4zM424.8 526.3h5.4v2.4h-5.4zM376.4 528.6h5.4v2.4h-5.4zM381.7 528.6h5.4v2.4h-5.4zM360.2 530.9h5.4v2.4h-5.4zM419.4 530.9h5.4v2.4h-5.4zM365.6 533.3h5.4v2.4h-5.4zM392.5 533.3h5.4v2.4h-5.4zM397.9 533.3h5.4v2.4h-5.4zM408.6 535.6h5.4v2.4h-5.4zM424.8 535.6h5.4v2.4h-5.4zM365.6 537.9h5.4v2.4h-5.4zM403.3 537.9h5.4v2.4h-5.4zM408.6 537.9h5.4v2.4h-5.4zM408.6 540.2h5.4v2.4h-5.4zM387.1 542.5h5.4v2.4h-5.4zM397.9 542.5h5.4v2.4h-5.4zM381.7 544.8h5.4v2.4h-5.4zM387.1 544.8h5.4v2.4h-5.4zM360.2 549.5h5.4v2.4h-5.4zM397.9 551.8h5.4v2.4h-5.4zM419.4 551.8h5.4v2.4h-5.4zM387.1 556.4h5.4v2.4h-5.4zM408.6 558.8h5.4v2.4h-5.4zM414 558.8h5.4v2.4h-5.4zM387.1 561.1h5.4v2.4h-5.4zM419.4 561.1h5.4v2.4h-5.4zM354.8 563.4h5.4v2.4h-5.4zM392.5 563.4h5.4v2.4h-5.4zM354.8 565.7h5.4v2.4h-5.4zM371 565.7h5.4v2.4h-5.4zM403.3 565.7h5.4v2.4h-5.4zM354.8 568h5.4v2.4h-5.4zM397.9 568h5.4v2.4h-5.4zM403.3 568h5.4v2.4h-5.4zM424.8 568h5.4v2.4h-5.4zM354.8 570.4h5.4v2.4h-5.4zM365.6 572.7h5.4v2.4h-5.4zM397.9 572.7h5.4v2.4h-5.4zM403.3 572.7h5.4v2.4h-5.4zM365.6 575h5.4v2.4h-5.4zM403.3 575h5.4v2.4h-5.4zM419.4 575h5.4v2.4h-5.4zM424.8 575h5.4v2.4h-5.4zM371 577.3h5.4v2.4h-5.4zM371 579.6h5.4v2.4h-5.4zM376.4 579.6h5.4v2.4h-5.4zM387.1 579.6h5.4v2.4h-5.4zM397.9 579.6h5.4v2.4h-5.4zM414 579.6h5.4v2.4h-5.4zM354.8 582h5.4v2.4h-5.4zM365.6 582h5.4v2.4h-5.4zM371 582h5.4v2.4h-5.4zM408.6 582h5.4v2.4h-5.4zM414 582h5.4v2.4h-5.4zM365.6 584.3h5.4v2.4h-5.4zM360.2 586.6h5.4v2.4h-5.4zM408.6 586.6h5.4v2.4h-5.4zM360.2 588.9h5.4v2.4h-5.4zM360.2 591.2h5.4v2.4h-5.4zM371 591.2h5.4v2.4h-5.4zM408.6 591.2h5.4v2.4h-5.4zM424.8 591.2h5.4v2.4h-5.4zM376.4 593.6h5.4v2.4h-5.4zM387.1 593.6h5.4v2.4h-5.4zM392.5 593.6h5.4v2.4h-5.4zM360.2 595.9h5.4v2.4h-5.4zM403.3 595.9h5.4v2.4h-5.4zM414 595.9h5.4v2.4h-5.4zM408.6 598.2h5.4v2.4h-5.4zM376.4 600.5h5.4v2.4h-5.4zM392.5 600.5h5.4v2.4h-5.4zM397.9 600.5h5.4v2.4h-5.4zM408.6 600.5h5.4v2.4h-5.4zM360.2 602.8h5.4v2.4h-5.4zM403.3 602.8h5.4v2.4h-5.4zM397.9 607.5h5.4v2.4h-5.4zM338.7 609.8h5.4v2.4h-5.4zM349.5 609.8h5.4v2.4h-5.4zM424.8 609.8h5.4v2.4h-5.4zM349.5 612.1h5.4v2.4h-5.4zM397.9 614.4h5.4v2.4h-5.4zM403.3 616.8h5.4v2.4h-5.4zM344.1 619.1h5.4v2.4h-5.4zM349.5 619.1h5.4v2.4h-5.4zM397.9 621.4h5.4v2.4h-5.4zM344.1 626h5.4v2.4h-5.4zM403.3 626h5.4v2.4h-5.4zM344.1 635.3h5.4v2.4h-5.4zM344.1 637.6h5.4v2.4h-5.4zM349.5 640h5.4v2.4h-5.4zM397.9 642.3h5.4v2.4h-5.4zM403.3 642.3h5.4v2.4h-5.4zM344.1 644.6h5.4v2.4h-5.4zM397.9 644.6h5.4v2.4h-5.4zM349.5 646.9h5.4v2.4h-5.4zM392.5 651.5h5.4v2.4h-5.4zM403.3 651.5h5.4v2.4h-5.4zM414 653.9h5.4v2.4h-5.4zM338.7 658.5h5.4v2.4h-5.4zM344.1 658.5h5.4v2.4h-5.4zM349.5 658.5h5.4v2.4h-5.4zM338.7 660.8h5.4v2.4h-5.4zM424.8 660.8h5.4v2.4h-5.4zM392.5 663.1h5.4v2.4h-5.4zM397.9 663.1h5.4v2.4h-5.4zM354.8 667.8h5.4v2.4h-5.4zM365.6 667.8h5.4v2.4h-5.4zM381.7 667.8h5.4v2.4h-5.4zM408.6 670.1h5.4v2.4h-5.4zM424.8 670.1h5.4v2.4h-5.4zM397.9 672.4h5.4v2.4h-5.4zM376.4 674.7h5.4v2.4h-5.4zM397.9 674.7h5.4v2.4h-5.4zM419.4 674.7h5.4v2.4h-5.4zM408.6 677.1h5.4v2.4h-5.4zM419.4 679.4h5.4v2.4h-5.4zM392.5 681.7h5.4v2.4h-5.4zM360.2 684h5.4v2.4h-5.4zM365.6 684h5.4v2.4h-5.4zM392.5 684h5.4v2.4h-5.4zM419.4 684h5.4v2.4h-5.4zM344.1 686.3h5.4v2.4h-5.4zM392.5 688.7h5.4v2.4h-5.4zM344.1 691h5.4v2.4h-5.4zM376.4 691h5.4v2.4h-5.4zM387.1 691h5.4v2.4h-5.4zM376.4 693.3h5.4v2.4h-5.4zM392.5 693.3h5.4v2.4h-5.4zM419.4 693.3h5.4v2.4h-5.4zM392.5 697.9h5.4v2.4h-5.4zM424.8 697.9h5.4v2.4h-5.4zM360.2 700.3h5.4v2.4h-5.4zM387.1 702.6h5.4v2.4h-5.4z"/>
<path fill="#e2eaee" d="M387.1 479.9h5.4v2.4h-5.4zM344.1 482.2h5.4v2.4h-5.4zM371 482.2h5.4v2.4h-5.4zM392.5 482.2h5.4v2.4h-5.4zM371 484.5h5.4v2.4h-5.4zM376.4 484.5h5.4v2.4h-5.4zM414 484.5h5.4v2.4h-5.4zM354.8 486.9h5.4v2.4h-5.4zM387.1 486.9h5.4v2.4h-5.4zM344.1 489.2h5.4v2.4h-5.4zM365.6 489.2h5.4v2.4h-5.4zM387.1 489.2h5.4v2.4h-5.4zM371 491.5h5.4v2.4h-5.4zM349.5 493.8h5.4v2.4h-5.4zM387.1 493.8h5.4v2.4h-5.4zM376.4 496.1h5.4v2.4h-5.4zM419.4 500.8h5.4v2.4h-5.4zM392.5 505.4h5.4v2.4h-5.4zM360.2 507.7h5.4v2.4h-5.4zM392.5 507.7h5.4v2.4h-5.4zM354.8 510.1h5.4v2.4h-5.4zM365.6 510.1h5.4v2.4h-5.4zM371 510.1h5.4v2.4h-5.4zM387.1 510.1h5.4v2.4h-5.4zM371 512.4h5.4v2.4h-5.4zM387.1 512.4h5.4v2.4h-5.4zM344.1 514.7h5.4v2.4h-5.4zM371 514.7h5.4v2.4h-5.4zM365.6 517h5.4v2.4h-5.4zM371 519.3h5.4v2.4h-5.4zM381.7 519.3h5.4v2.4h-5.4zM392.5 519.3h5.4v2.4h-5.4zM387.1 521.7h5.4v2.4h-5.4zM408.6 521.7h5.4v2.4h-5.4zM381.7 524h5.4v2.4h-5.4zM403.3 524h5.4v2.4h-5.4zM365.6 528.6h5.4v2.4h-5.4zM392.5 528.6h5.4v2.4h-5.4zM397.9 528.6h5.4v2.4h-5.4zM408.6 528.6h5.4v2.4h-5.4zM424.8 528.6h5.4v2.4h-5.4zM365.6 530.9h5.4v2.4h-5.4zM381.7 530.9h5.4v2.4h-5.4zM387.1 530.9h5.4v2.4h-5.4zM408.6 530.9h5.4v2.4h-5.4zM354.8 533.3h5.4v2.4h-5.4zM371 533.3h5.4v2.4h-5.4zM381.7 533.3h5.4v2.4h-5.4zM414 533.3h5.4v2.4h-5.4zM371 537.9h5.4v2.4h-5.4zM381.7 537.9h5.4v2.4h-5.4zM419.4 540.2h5.4v2.4h-5.4zM360.2 542.5h5.4v2.4h-5.4zM408.6 542.5h5.4v2.4h-5.4zM419.4 542.5h5.4v2.4h-5.4zM371 544.8h5.4v2.4h-5.4zM397.9 544.8h5.4v2.4h-5.4zM376.4 547.2h5.4v2.4h-5.4zM381.7 547.2h5.4v2.4h-5.4zM387.1 547.2h5.4v2.4h-5.4zM397.9 547.2h5.4v2.4h-5.4zM424.8 547.2h5.4v2.4h-5.4zM365.6 549.5h5.4v2.4h-5.4zM403.3 549.5h5.4v2.4h-5.4zM408.6 549.5h5.4v2.4h-5.4zM419.4 549.5h5.4v2.4h-5.4zM424.8 549.5h5.4v2.4h-5.4zM365.6 551.8h5.4v2.4h-5.4zM387.1 551.8h5.4v2.4h-5.4zM392.5 551.8h5.4v2.4h-5.4zM414 551.8h5.4v2.4h-5.4zM424.8 551.8h5.4v2.4h-5.4zM381.7 554.1h5.4v2.4h-5.4zM354.8 556.4h5.4v2.4h-5.4zM376.4 556.4h5.4v2.4h-5.4zM424.8 556.4h5.4v2.4h-5.4zM354.8 558.8h5.4v2.4h-5.4zM365.6 558.8h5.4v2.4h-5.4zM424.8 558.8h5.4v2.4h-5.4zM360.2 561.1h5.4v2.4h-5.4zM365.6 561.1h5.4v2.4h-5.4zM371 561.1h5.4v2.4h-5.4zM397.9 561.1h5.4v2.4h-5.4zM408.6 561.1h5.4v2.4h-5.4zM424.8 561.1h5.4v2.4h-5.4zM371 563.4h5.4v2.4h-5.4zM376.4 563.4h5.4v2.4h-5.4zM381.7 563.4h5.4v2.4h-5.4zM414 565.7h5.4v2.4h-5.4zM376.4 568h5.4v2.4h-5.4zM381.7 568h5.4v2.4h-5.4zM414 568h5.4v2.4h-5.4zM360.2 570.4h5.4v2.4h-5.4zM365.6 570.4h5.4v2.4h-5.4zM371 570.4h5.4v2.4h-5.4zM387.1 570.4h5.4v2.4h-5.4zM408.6 570.4h5.4v2.4h-5.4zM414 570.4h5.4v2.4h-5.4zM419.4 570.4h5.4v2.4h-5.4zM414 572.7h5.4v2.4h-5.4zM371 575h5.4v2.4h-5.4zM376.4 575h5.4v2.4h-5.4zM387.1 575h5.4v2.4h-5.4zM397.9 575h5.4v2.4h-5.4zM414 575h5.4v2.4h-5.4zM354.8 577.3h5.4v2.4h-5.4zM360.2 577.3h5.4v2.4h-5.4zM365.6 577.3h5.4v2.4h-5.4zM376.4 577.3h5.4v2.4h-5.4zM381.7 577.3h5.4v2.4h-5.4zM360.2 579.6h5.4v2.4h-5.4zM365.6 579.6h5.4v2.4h-5.4zM381.7 582h5.4v2.4h-5.4zM403.3 582h5.4v2.4h-5.4zM387.1 584.3h5.4v2.4h-5.4zM397.9 584.3h5.4v2.4h-5.4zM419.4 584.3h5.4v2.4h-5.4zM354.8 586.6h5.4v2.4h-5.4zM365.6 586.6h5.4v2.4h-5.4zM397.9 586.6h5.4v2.4h-5.4zM403.3 588.9h5.4v2.4h-5.4zM408.6 588.9h5.4v2.4h-5.4zM424.8 588.9h5.4v2.4h-5.4zM376.4 591.2h5.4v2.4h-5.4zM387.1 591.2h5.4v2.4h-5.4zM392.5 591.2h5.4v2.4h-5.4zM371 593.6h5.4v2.4h-5.4zM403.3 593.6h5.4v2.4h-5.4zM419.4 593.6h5.4v2.4h-5.4zM408.6 595.9h5.4v2.4h-5.4zM365.6 598.2h5.4v2.4h-5.4zM392.5 598.2h5.4v2.4h-5.4zM414 598.2h5.4v2.4h-5.4zM424.8 598.2h5.4v2.4h-5.4zM371 600.5h5.4v2.4h-5.4zM387.1 600.5h5.4v2.4h-5.4zM365.6 602.8h5.4v2.4h-5.4zM344.1 605.2h5.4v2.4h-5.4zM349.5 607.5h5.4v2.4h-5.4zM397.9 609.8h5.4v2.4h-5.4zM397.9 612.1h5.4v2.4h-5.4zM403.3 612.1h5.4v2.4h-5.4zM408.6 612.1h5.4v2.4h-5.4zM392.5 614.4h5.4v2.4h-5.4zM403.3 614.4h5.4v2.4h-5.4zM392.5 616.8h5.4v2.4h-5.4zM397.9 619.1h5.4v2.4h-5.4zM419.4 621.4h5.4v2.4h-5.4zM338.7 623.7h5.4v2.4h-5.4zM392.5 626h5.4v2.4h-5.4zM392.5 628.4h5.4v2.4h-5.4zM349.5 630.7h5.4v2.4h-5.4zM349.5 633h5.4v2.4h-5.4zM403.3 633h5.4v2.4h-5.4zM403.3 637.6h5.4v2.4h-5.4zM392.5 640h5.4v2.4h-5.4zM403.3 640h5.4v2.4h-5.4zM392.5 642.3h5.4v2.4h-5.4zM392.5 644.6h5.4v2.4h-5.4zM392.5 646.9h5.4v2.4h-5.4zM338.7 649.2h5.4v2.4h-5.4zM344.1 649.2h5.4v2.4h-5.4zM419.4 649.2h5.4v2.4h-5.4zM338.7 653.9h5.4v2.4h-5.4zM349.5 653.9h5.4v2.4h-5.4zM338.7 656.2h5.4v2.4h-5.4zM349.5 656.2h5.4v2.4h-5.4zM403.3 658.5h5.4v2.4h-5.4zM392.5 660.8h5.4v2.4h-5.4zM397.9 660.8h5.4v2.4h-5.4zM344.1 663.1h5.4v2.4h-5.4zM397.9 665.5h5.4v2.4h-5.4zM403.3 665.5h5.4v2.4h-5.4zM397.9 667.8h5.4v2.4h-5.4zM408.6 667.8h5.4v2.4h-5.4zM371 670.1h5.4v2.4h-5.4zM387.1 670.1h5.4v2.4h-5.4zM371 672.4h5.4v2.4h-5.4zM387.1 672.4h5.4v2.4h-5.4zM387.1 674.7h5.4v2.4h-5.4zM387.1 677.1h5.4v2.4h-5.4zM387.1 679.4h5.4v2.4h-5.4zM365.6 681.7h5.4v2.4h-5.4zM376.4 681.7h5.4v2.4h-5.4zM376.4 684h5.4v2.4h-5.4zM381.7 684h5.4v2.4h-5.4zM371 686.3h5.4v2.4h-5.4zM392.5 686.3h5.4v2.4h-5.4zM376.4 688.7h5.4v2.4h-5.4zM419.4 688.7h5.4v2.4h-5.4zM371 691h5.4v2.4h-5.4zM392.5 691h5.4v2.4h-5.4zM354.8 693.3h5.4v2.4h-5.4zM387.1 693.3h5.4v2.4h-5.4zM360.2 697.9h5.4v2.4h-5.4zM381.7 697.9h5.4v2.4h-5.4zM354.8 700.3h5.4v2.4h-5.4zM376.4 700.3h5.4v2.4h-5.4zM381.7 700.3h5.4v2.4h-5.4z"/>
<path fill="#f3dcd6" d="M397.9 479.9h5.4v2.4h-5.4zM371 486.9h5.4v2.4h-5.4zM397.9 486.9h5.4v2.4h-5.4zM349.5 489.2h5.4v2.4h-5.4zM397.9 489.2h5.4v2.4h-5.4zM349.5 491.5h5.4v2.4h-5.4zM419.4 493.8h5.4v2.4h-5.4zM397.9 498.5h5.4v2.4h-5.4zM344.1 505.4h5.4v2.4h-5.4zM365.6 507.7h5.4v2.4h-5.4zM424.8 507.7h5.4v2.4h-5.4zM338.7 514.7h5.4v2.4h-5.4zM349.5 514.7h5.4v2.4h-5.4zM338.7 519.3h5.4v2.4h-5.4zM354.8 521.7h5.4v2.4h-5.4zM344.1 547.2h5.4v2.4h-5.4zM349.5 556.4h5.4v2.4h-5.4zM344.1 563.4h5.4v2.4h-5.4zM381.7 607.5h5.4v2.4h-5.4zM354.8 609.8h5.4v2.4h-5.4zM360.2 609.8h5.4v2.4h-5.4zM381.7 609.8h5.4v2.4h-5.4zM387.1 609.8h5.4v2.4h-5.4zM360.2 612.1h5.4v2.4h-5.4zM376.4 621.4h5.4v2.4h-5.4zM381.7 621.4h5.4v2.4h-5.4zM371 623.7h5.4v2.4h-5.4zM376.4 623.7h5.4v2.4h-5.4zM381.7 623.7h5.4v2.4h-5.4zM360.2 630.7h5.4v2.4h-5.4zM387.1 630.7h5.4v2.4h-5.4zM371 633h5.4v2.4h-5.4zM376.4 633h5.4v2.4h-5.4zM354.8 637.6h5.4v2.4h-5.4zM381.7 637.6h5.4v2.4h-5.4zM354.8 640h5.4v2.4h-5.4zM354.8 642.3h5.4v2.4h-5.4zM360.2 642.3h5.4v2.4h-5.4zM354.8 644.6h5.4v2.4h-5.4zM360.2 646.9h5.4v2.4h-5.4zM381.7 649.2h5.4v2.4h-5.4zM354.8 651.5h5.4v2.4h-5.4zM387.1 651.5h5.4v2.4h-5.4zM354.8 656.2h5.4v2.4h-5.4zM387.1 656.2h5.4v2.4h-5.4zM354.8 660.8h5.4v2.4h-5.4zM371 660.8h5.4v2.4h-5.4zM349.5 672.4h5.4v2.4h-5.4zM344.1 681.7h5.4v2.4h-5.4zM403.3 686.3h5.4v2.4h-5.4zM349.5 693.3h5.4v2.4h-5.4zM408.6 697.9h5.4v2.4h-5.4z"/>
<path fill="#e28975" d="M403.3 479.9h5.4v2.4h-5.4zM403.3 491.5h5.4v2.4h-5.4zM408.6 491.5h5.4v2.4h-5.4zM414 507.7h5.4v2.4h-5.4zM414 510.1h5.4v2.4h-5.4zM419.4 514.7h5.4v2.4h-5.4zM414 519.3h5.4v2.4h-5.4zM414 524h5.4v2.4h-5.4zM338.7 540.2h5.4v2.4h-5.4zM338.7 542.5h5.4v2.4h-5.4zM338.7 551.8h5.4v2.4h-5.4zM338.7 568h5.4v2.4h-5.4zM392.5 572.7h5.4v2.4h-5.4zM397.9 691h5.4v2.4h-5.4z"/>
<path fill="#edbaad" d="M408.6 479.9h5.4v2.4h-5.4zM397.9 500.8h5.4v2.4h-5.4zM424.8 503.1h5.4v2.4h-5.4zM424.8 505.4h5.4v2.4h-5.4zM419.4 510.1h5.4v2.4h-5.4zM424.8 514.7h5.4v2.4h-5.4zM419.4 524h5.4v2.4h-5.4zM344.1 540.2h5.4v2.4h-5.4zM344.1 542.5h5.4v2.4h-5.4zM344.1 565.7h5.4v2.4h-5.4zM344.1 570.4h5.4v2.4h-5.4zM344.1 572.7h5.4v2.4h-5.4zM344.1 582h5.4v2.4h-5.4zM344.1 584.3h5.4v2.4h-5.4zM344.1 593.6h5.4v2.4h-5.4zM344.1 595.9h5.4v2.4h-5.4zM344.1 602.8h5.4v2.4h-5.4zM371 612.1h5.4v2.4h-5.4zM365.6 614.4h5.4v2.4h-5.4zM365.6 616.8h5.4v2.4h-5.4zM360.2 621.4h5.4v2.4h-5.4zM376.4 628.4h5.4v2.4h-5.4zM360.2 633h5.4v2.4h-5.4zM365.6 637.6h5.4v2.4h-5.4zM381.7 644.6h5.4v2.4h-5.4zM371 649.2h5.4v2.4h-5.4zM371 651.5h5.4v2.4h-5.4zM376.4 651.5h5.4v2.4h-5.4zM371 653.9h5.4v2.4h-5.4zM360.2 660.8h5.4v2.4h-5.4zM365.6 663.1h5.4v2.4h-5.4zM371 665.5h5.4v2.4h-5.4zM376.4 665.5h5.4v2.4h-5.4zM360.2 670.1h5.4v2.4h-5.4zM408.6 684h5.4v2.4h-5.4zM349.5 697.9h5.4v2.4h-5.4z"/>
<path fill="#c3d9e3" d="M414 479.9h5.4v2.4h-5.4zM365.6 496.1h5.4v2.4h-5.4zM387.1 496.1h5.4v2.4h-5.4zM397.9 505.4h5.4v2.4h-5.4zM403.3 507.7h5.4v2.4h-5.4zM403.3 510.1h5.4v2.4h-5.4zM408.6 510.1h5.4v2.4h-5.4zM381.7 512.4h5.4v2.4h-5.4zM397.9 514.7h5.4v2.4h-5.4zM387.1 565.7h5.4v2.4h-5.4zM424.8 565.7h5.4v2.4h-5.4zM424.8 579.6h5.4v2.4h-5.4zM376.4 598.2h5.4v2.4h-5.4zM419.4 609.8h5.4v2.4h-5.4zM419.4 616.8h5.4v2.4h-5.4zM424.8 616.8h5.4v2.4h-5.4zM338.7 621.4h5.4v2.4h-5.4zM344.1 621.4h5.4v2.4h-5.4zM414 621.4h5.4v2.4h-5.4zM419.4 626h5.4v2.4h-5.4zM349.5 628.4h5.4v2.4h-5.4zM419.4 628.4h5.4v2.4h-5.4zM408.6 630.7h5.4v2.4h-5.4zM392.5 635.3h5.4v2.4h-5.4zM419.4 635.3h5.4v2.4h-5.4zM338.7 637.6h5.4v2.4h-5.4zM408.6 637.6h5.4v2.4h-5.4zM414 637.6h5.4v2.4h-5.4zM424.8 637.6h5.4v2.4h-5.4zM414 642.3h5.4v2.4h-5.4zM419.4 644.6h5.4v2.4h-5.4zM397.9 646.9h5.4v2.4h-5.4zM338.7 651.5h5.4v2.4h-5.4zM419.4 653.9h5.4v2.4h-5.4zM424.8 653.9h5.4v2.4h-5.4zM408.6 656.2h5.4v2.4h-5.4zM408.6 658.5h5.4v2.4h-5.4zM344.1 660.8h5.4v2.4h-5.4zM403.3 660.8h5.4v2.4h-5.4zM419.4 665.5h5.4v2.4h-5.4zM371 667.8h5.4v2.4h-5.4zM376.4 667.8h5.4v2.4h-5.4zM414 667.8h5.4v2.4h-5.4zM424.8 667.8h5.4v2.4h-5.4zM381.7 674.7h5.4v2.4h-5.4zM414 674.7h5.4v2.4h-5.4zM414 677.1h5.4v2.4h-5.4zM424.8 679.4h5.4v2.4h-5.4zM419.4 686.3h5.4v2.4h-5.4zM424.8 686.3h5.4v2.4h-5.4zM387.1 688.7h5.4v2.4h-5.4zM365.6 691h5.4v2.4h-5.4zM419.4 697.9h5.4v2.4h-5.4zM414 700.3h5.4v2.4h-5.4z"/>
<path fill="#f4efed" d="M424.8 479.9h5.4v2.4h-5.4zM376.4 482.2h5.4v2.4h-5.4zM338.7 484.5h5.4v2.4h-5.4zM360.2 486.9h5.4v2.4h-5.4zM392.5 486.9h5.4v2.4h-5.4zM419.4 486.9h5.4v2.4h-5.4zM424.8 489.2h5.4v2.4h-5.4zM365.6 491.5h5.4v2.4h-5.4zM371 498.5h5.4v2.4h-5.4zM381.7 503.1h5.4v2.4h-5.4zM360.2 505.4h5.4v2.4h-5.4zM338.7 507.7h5.4v2.4h-5.4zM371 517h5.4v2.4h-5.4zM365.6 519.3h5.4v2.4h-5.4zM376.4 521.7h5.4v2.4h-5.4zM338.7 524h5.4v2.4h-5.4zM376.4 524h5.4v2.4h-5.4zM360.2 528.6h5.4v2.4h-5.4zM354.8 530.9h5.4v2.4h-5.4zM354.8 542.5h5.4v2.4h-5.4zM371 542.5h5.4v2.4h-5.4zM349.5 544.8h5.4v2.4h-5.4zM403.3 544.8h5.4v2.4h-5.4zM371 551.8h5.4v2.4h-5.4zM349.5 554.1h5.4v2.4h-5.4zM365.6 556.4h5.4v2.4h-5.4zM349.5 568h5.4v2.4h-5.4zM424.8 570.4h5.4v2.4h-5.4zM381.7 572.7h5.4v2.4h-5.4zM419.4 577.3h5.4v2.4h-5.4zM360.2 584.3h5.4v2.4h-5.4zM403.3 584.3h5.4v2.4h-5.4zM376.4 588.9h5.4v2.4h-5.4zM419.4 588.9h5.4v2.4h-5.4zM381.7 591.2h5.4v2.4h-5.4zM354.8 598.2h5.4v2.4h-5.4zM360.2 598.2h5.4v2.4h-5.4zM424.8 600.5h5.4v2.4h-5.4zM360.2 605.2h5.4v2.4h-5.4zM376.4 609.8h5.4v2.4h-5.4zM371 628.4h5.4v2.4h-5.4zM381.7 628.4h5.4v2.4h-5.4zM354.8 633h5.4v2.4h-5.4zM371 640h5.4v2.4h-5.4zM387.1 640h5.4v2.4h-5.4zM354.8 646.9h5.4v2.4h-5.4zM397.9 649.2h5.4v2.4h-5.4zM354.8 663.1h5.4v2.4h-5.4zM354.8 665.5h5.4v2.4h-5.4zM344.1 670.1h5.4v2.4h-5.4zM376.4 670.1h5.4v2.4h-5.4zM354.8 679.4h5.4v2.4h-5.4zM392.5 679.4h5.4v2.4h-5.4zM403.3 679.4h5.4v2.4h-5.4zM371 681.7h5.4v2.4h-5.4zM338.7 684h5.4v2.4h-5.4zM349.5 691h5.4v2.4h-5.4zM408.6 691h5.4v2.4h-5.4zM344.1 695.6h5.4v2.4h-5.4zM376.4 697.9h5.4v2.4h-5.4zM354.8 702.6h5.4v2.4h-5.4z"/>
<path fill="#f4e2de" d="M354.8 482.2h5.4v2.4h-5.4zM360.2 489.2h5.4v2.4h-5.4zM344.1 493.8h5.4v2.4h-5.4zM338.7 496.1h5.4v2.4h-5.4zM408.6 496.1h5.4v2.4h-5.4zM360.2 498.5h5.4v2.4h-5.4zM349.5 505.4h5.4v2.4h-5.4zM349.5 510.1h5.4v2.4h-5.4zM424.8 510.1h5.4v2.4h-5.4zM424.8 517h5.4v2.4h-5.4zM392.5 521.7h5.4v2.4h-5.4zM392.5 524h5.4v2.4h-5.4zM424.8 524h5.4v2.4h-5.4zM349.5 526.3h5.4v2.4h-5.4zM371 535.6h5.4v2.4h-5.4zM349.5 547.2h5.4v2.4h-5.4zM349.5 549.5h5.4v2.4h-5.4zM419.4 556.4h5.4v2.4h-5.4zM349.5 563.4h5.4v2.4h-5.4zM344.1 575h5.4v2.4h-5.4zM381.7 605.2h5.4v2.4h-5.4zM360.2 607.5h5.4v2.4h-5.4zM381.7 612.1h5.4v2.4h-5.4zM381.7 626h5.4v2.4h-5.4zM387.1 626h5.4v2.4h-5.4zM360.2 628.4h5.4v2.4h-5.4zM387.1 628.4h5.4v2.4h-5.4zM371 630.7h5.4v2.4h-5.4zM381.7 630.7h5.4v2.4h-5.4zM360.2 637.6h5.4v2.4h-5.4zM387.1 637.6h5.4v2.4h-5.4zM376.4 642.3h5.4v2.4h-5.4zM387.1 642.3h5.4v2.4h-5.4zM360.2 644.6h5.4v2.4h-5.4zM387.1 646.9h5.4v2.4h-5.4zM381.7 651.5h5.4v2.4h-5.4zM354.8 658.5h5.4v2.4h-5.4zM381.7 658.5h5.4v2.4h-5.4zM387.1 663.1h5.4v2.4h-5.4zM365.6 665.5h5.4v2.4h-5.4zM344.1 667.8h5.4v2.4h-5.4zM354.8 674.7h5.4v2.4h-5.4zM365.6 677.1h5.4v2.4h-5.4zM381.7 679.4h5.4v2.4h-5.4zM344.1 684h5.4v2.4h-5.4zM349.5 684h5.4v2.4h-5.4zM344.1 688.7h5.4v2.4h-5.4zM403.3 691h5.4v2.4h-5.4zM381.7 693.3h5.4v2.4h-5.4zM349.5 695.6h5.4v2.4h-5.4zM344.1 697.9h5.4v2.4h-5.4zM344.1 700.3h5.4v2.4h-5.4zM403.3 700.3h5.4v2.4h-5.4zM344.1 702.6h5.4v2.4h-5.4zM371 702.6h5.4v2.4h-5.4z"/>
<path fill="#df826f" d="M403.3 482.2h5.4v2.4h-5.4zM403.3 484.5h5.4v2.4h-5.4zM403.3 500.8h5.4v2.4h-5.4zM419.4 517h5.4v2.4h-5.4zM338.7 549.5h5.4v2.4h-5.4zM338.7 563.4h5.4v2.4h-5.4zM392.5 568h5.4v2.4h-5.4zM338.7 575h5.4v2.4h-5.4zM392.5 575h5.4v2.4h-5.4zM349.5 577.3h5.4v2.4h-5.4zM338.7 593.6h5.4v2.4h-5.4zM338.7 595.9h5.4v2.4h-5.4zM338.7 598.2h5.4v2.4h-5.4zM349.5 598.2h5.4v2.4h-5.4zM338.7 600.5h5.4v2.4h-5.4zM349.5 600.5h5.4v2.4h-5.4zM397.9 684h5.4v2.4h-5.4zM397.9 688.7h5.4v2.4h-5.4z"/>
<path fill="#e9a595" d="M408.6 482.2h5.4v2.4h-5.4zM408.6 486.9h5.4v2.4h-5.4zM403.3 493.8h5.4v2.4h-5.4zM414 503.1h5.4v2.4h-5.4zM419.4 505.4h5.4v2.4h-5.4zM414 512.4h5.4v2.4h-5.4zM338.7 517h5.4v2.4h-5.4zM419.4 519.3h5.4v2.4h-5.4zM344.1 526.3h5.4v2.4h-5.4zM344.1 558.8h5.4v2.4h-5.4zM349.5 584.3h5.4v2.4h-5.4zM338.7 588.9h5.4v2.4h-5.4zM349.5 595.9h5.4v2.4h-5.4zM371 607.5h5.4v2.4h-5.4zM360.2 614.4h5.4v2.4h-5.4zM365.6 633h5.4v2.4h-5.4zM376.4 660.8h5.4v2.4h-5.4zM397.9 681.7h5.4v2.4h-5.4z"/>
<path fill="#eff2f3" d="M349.5 484.5h5.4v2.4h-5.4zM387.1 484.5h5.4v2.4h-5.4zM392.5 484.5h5.4v2.4h-5.4zM338.7 486.9h5.4v2.4h-5.4zM414 491.5h5.4v2.4h-5.4zM354.8 493.8h5.4v2.4h-5.4zM414 493.8h5.4v2.4h-5.4zM349.5 496.1h5.4v2.4h-5.4zM392.5 496.1h5.4v2.4h-5.4zM419.4 498.5h5.4v2.4h-5.4zM381.7 500.8h5.4v2.4h-5.4zM392.5 500.8h5.4v2.4h-5.4zM414 500.8h5.4v2.4h-5.4zM338.7 503.1h5.4v2.4h-5.4zM354.8 503.1h5.4v2.4h-5.4zM360.2 503.1h5.4v2.4h-5.4zM354.8 505.4h5.4v2.4h-5.4zM371 505.4h5.4v2.4h-5.4zM387.1 507.7h5.4v2.4h-5.4zM381.7 510.1h5.4v2.4h-5.4zM392.5 514.7h5.4v2.4h-5.4zM387.1 519.3h5.4v2.4h-5.4zM344.1 521.7h5.4v2.4h-5.4zM360.2 521.7h5.4v2.4h-5.4zM371 521.7h5.4v2.4h-5.4zM360.2 524h5.4v2.4h-5.4zM365.6 526.3h5.4v2.4h-5.4zM403.3 528.6h5.4v2.4h-5.4zM349.5 530.9h5.4v2.4h-5.4zM371 530.9h5.4v2.4h-5.4zM376.4 530.9h5.4v2.4h-5.4zM360.2 533.3h5.4v2.4h-5.4zM403.3 533.3h5.4v2.4h-5.4zM387.1 535.6h5.4v2.4h-5.4zM414 535.6h5.4v2.4h-5.4zM419.4 535.6h5.4v2.4h-5.4zM392.5 537.9h5.4v2.4h-5.4zM397.9 537.9h5.4v2.4h-5.4zM419.4 537.9h5.4v2.4h-5.4zM424.8 537.9h5.4v2.4h-5.4zM414 540.2h5.4v2.4h-5.4zM424.8 540.2h5.4v2.4h-5.4zM365.6 542.5h5.4v2.4h-5.4zM392.5 542.5h5.4v2.4h-5.4zM414 544.8h5.4v2.4h-5.4zM424.8 544.8h5.4v2.4h-5.4zM365.6 547.2h5.4v2.4h-5.4zM392.5 547.2h5.4v2.4h-5.4zM403.3 547.2h5.4v2.4h-5.4zM408.6 547.2h5.4v2.4h-5.4zM392.5 549.5h5.4v2.4h-5.4zM414 549.5h5.4v2.4h-5.4zM360.2 551.8h5.4v2.4h-5.4zM376.4 551.8h5.4v2.4h-5.4zM381.7 551.8h5.4v2.4h-5.4zM354.8 554.1h5.4v2.4h-5.4zM392.5 554.1h5.4v2.4h-5.4zM397.9 554.1h5.4v2.4h-5.4zM408.6 554.1h5.4v2.4h-5.4zM424.8 554.1h5.4v2.4h-5.4zM371 556.4h5.4v2.4h-5.4zM381.7 556.4h5.4v2.4h-5.4zM360.2 558.8h5.4v2.4h-5.4zM403.3 558.8h5.4v2.4h-5.4zM397.9 563.4h5.4v2.4h-5.4zM424.8 563.4h5.4v2.4h-5.4zM360.2 565.7h5.4v2.4h-5.4zM381.7 565.7h5.4v2.4h-5.4zM392.5 565.7h5.4v2.4h-5.4zM408.6 568h5.4v2.4h-5.4zM419.4 568h5.4v2.4h-5.4zM403.3 570.4h5.4v2.4h-5.4zM371 572.7h5.4v2.4h-5.4zM387.1 572.7h5.4v2.4h-5.4zM419.4 572.7h5.4v2.4h-5.4zM354.8 575h5.4v2.4h-5.4zM387.1 577.3h5.4v2.4h-5.4zM414 577.3h5.4v2.4h-5.4zM360.2 582h5.4v2.4h-5.4zM376.4 582h5.4v2.4h-5.4zM397.9 582h5.4v2.4h-5.4zM419.4 582h5.4v2.4h-5.4zM424.8 582h5.4v2.4h-5.4zM354.8 584.3h5.4v2.4h-5.4zM371 584.3h5.4v2.4h-5.4zM371 586.6h5.4v2.4h-5.4zM403.3 586.6h5.4v2.4h-5.4zM354.8 588.9h5.4v2.4h-5.4zM387.1 588.9h5.4v2.4h-5.4zM397.9 588.9h5.4v2.4h-5.4zM360.2 593.6h5.4v2.4h-5.4zM414 593.6h5.4v2.4h-5.4zM371 595.9h5.4v2.4h-5.4zM392.5 595.9h5.4v2.4h-5.4zM360.2 600.5h5.4v2.4h-5.4zM403.3 600.5h5.4v2.4h-5.4zM371 602.8h5.4v2.4h-5.4zM376.4 602.8h5.4v2.4h-5.4zM392.5 602.8h5.4v2.4h-5.4zM387.1 605.2h5.4v2.4h-5.4zM403.3 605.2h5.4v2.4h-5.4zM338.7 607.5h5.4v2.4h-5.4zM403.3 607.5h5.4v2.4h-5.4zM403.3 609.8h5.4v2.4h-5.4zM338.7 614.4h5.4v2.4h-5.4zM403.3 621.4h5.4v2.4h-5.4zM344.1 623.7h5.4v2.4h-5.4zM349.5 623.7h5.4v2.4h-5.4zM403.3 623.7h5.4v2.4h-5.4zM397.9 628.4h5.4v2.4h-5.4zM392.5 630.7h5.4v2.4h-5.4zM397.9 633h5.4v2.4h-5.4zM349.5 644.6h5.4v2.4h-5.4zM338.7 646.9h5.4v2.4h-5.4zM344.1 646.9h5.4v2.4h-5.4zM397.9 653.9h5.4v2.4h-5.4zM387.1 658.5h5.4v2.4h-5.4zM349.5 660.8h5.4v2.4h-5.4zM338.7 665.5h5.4v2.4h-5.4zM349.5 665.5h5.4v2.4h-5.4zM381.7 665.5h5.4v2.4h-5.4zM349.5 670.1h5.4v2.4h-5.4zM376.4 672.4h5.4v2.4h-5.4zM403.3 672.4h5.4v2.4h-5.4zM392.5 674.7h5.4v2.4h-5.4zM381.7 677.1h5.4v2.4h-5.4zM403.3 677.1h5.4v2.4h-5.4zM376.4 679.4h5.4v2.4h-5.4zM408.6 679.4h5.4v2.4h-5.4zM387.1 681.7h5.4v2.4h-5.4zM387.1 684h5.4v2.4h-5.4zM387.1 686.3h5.4v2.4h-5.4zM371 688.7h5.4v2.4h-5.4zM381.7 688.7h5.4v2.4h-5.4zM360.2 693.3h5.4v2.4h-5.4zM338.7 695.6h5.4v2.4h-5.4zM354.8 695.6h5.4v2.4h-5.4zM360.2 695.6h5.4v2.4h-5.4zM392.5 695.6h5.4v2.4h-5.4zM360.2 702.6h5.4v2.4h-5.4zM365.6 702.6h5.4v2.4h-5.4z"/>
<path fill="#f2cfc6" d="M397.9 484.5h5.4v2.4h-5.4zM354.8 491.5h5.4v2.4h-5.4zM397.9 496.1h5.4v2.4h-5.4zM408.6 498.5h5.4v2.4h-5.4zM419.4 503.1h5.4v2.4h-5.4zM349.5 507.7h5.4v2.4h-5.4zM344.1 510.1h5.4v2.4h-5.4zM338.7 512.4h5.4v2.4h-5.4zM349.5 512.4h5.4v2.4h-5.4zM424.8 512.4h5.4v2.4h-5.4zM349.5 519.3h5.4v2.4h-5.4zM344.1 528.6h5.4v2.4h-5.4zM344.1 533.3h5.4v2.4h-5.4zM344.1 537.9h5.4v2.4h-5.4zM349.5 537.9h5.4v2.4h-5.4zM344.1 551.8h5.4v2.4h-5.4zM344.1 554.1h5.4v2.4h-5.4zM344.1 561.1h5.4v2.4h-5.4zM344.1 568h5.4v2.4h-5.4zM344.1 577.3h5.4v2.4h-5.4zM354.8 605.2h5.4v2.4h-5.4zM376.4 605.2h5.4v2.4h-5.4zM365.6 609.8h5.4v2.4h-5.4zM371 609.8h5.4v2.4h-5.4zM387.1 614.4h5.4v2.4h-5.4zM354.8 616.8h5.4v2.4h-5.4zM360.2 616.8h5.4v2.4h-5.4zM371 616.8h5.4v2.4h-5.4zM371 619.1h5.4v2.4h-5.4zM387.1 619.1h5.4v2.4h-5.4zM354.8 623.7h5.4v2.4h-5.4zM371 626h5.4v2.4h-5.4zM376.4 626h5.4v2.4h-5.4zM354.8 628.4h5.4v2.4h-5.4zM365.6 628.4h5.4v2.4h-5.4zM371 635.3h5.4v2.4h-5.4zM376.4 635.3h5.4v2.4h-5.4zM371 637.6h5.4v2.4h-5.4zM371 642.3h5.4v2.4h-5.4zM381.7 642.3h5.4v2.4h-5.4zM376.4 644.6h5.4v2.4h-5.4zM360.2 649.2h5.4v2.4h-5.4zM365.6 649.2h5.4v2.4h-5.4zM376.4 649.2h5.4v2.4h-5.4zM365.6 651.5h5.4v2.4h-5.4zM365.6 653.9h5.4v2.4h-5.4zM387.1 653.9h5.4v2.4h-5.4zM371 656.2h5.4v2.4h-5.4zM376.4 656.2h5.4v2.4h-5.4zM381.7 663.1h5.4v2.4h-5.4zM360.2 665.5h5.4v2.4h-5.4zM354.8 670.1h5.4v2.4h-5.4zM338.7 672.4h5.4v2.4h-5.4zM354.8 672.4h5.4v2.4h-5.4zM344.1 674.7h5.4v2.4h-5.4zM365.6 674.7h5.4v2.4h-5.4zM344.1 677.1h5.4v2.4h-5.4zM338.7 681.7h5.4v2.4h-5.4zM403.3 681.7h5.4v2.4h-5.4zM338.7 686.3h5.4v2.4h-5.4zM408.6 688.7h5.4v2.4h-5.4zM408.6 702.6h5.4v2.4h-5.4z"/>
<path fill="#ebb0a1" d="M408.6 484.5h5.4v2.4h-5.4zM419.4 507.7h5.4v2.4h-5.4zM414 514.7h5.4v2.4h-5.4zM414 521.7h5.4v2.4h-5.4zM344.1 530.9h5.4v2.4h-5.4zM344.1 549.5h5.4v2.4h-5.4zM344.1 586.6h5.4v2.4h-5.4zM344.1 588.9h5.4v2.4h-5.4zM376.4 607.5h5.4v2.4h-5.4zM365.6 619.1h5.4v2.4h-5.4zM360.2 623.7h5.4v2.4h-5.4zM365.6 623.7h5.4v2.4h-5.4zM365.6 626h5.4v2.4h-5.4zM371 644.6h5.4v2.4h-5.4zM365.6 658.5h5.4v2.4h-5.4zM376.4 658.5h5.4v2.4h-5.4zM365.6 660.8h5.4v2.4h-5.4zM376.4 663.1h5.4v2.4h-5.4zM360.2 677.1h5.4v2.4h-5.4zM408.6 686.3h5.4v2.4h-5.4z"/>
<path fill="#db7361" d="M403.3 486.9h5.4v2.4h-5.4zM403.3 489.2h5.4v2.4h-5.4zM338.7 530.9h5.4v2.4h-5.4zM338.7 537.9h5.4v2.4h-5.4zM338.7 577.3h5.4v2.4h-5.4zM392.5 582h5.4v2.4h-5.4zM338.7 602.8h5.4v2.4h-5.4zM397.9 697.9h5.4v2.4h-5.4z"/>
<path fill="#cfe0e8" d="M376.4 489.2h5.4v2.4h-5.4zM424.8 493.8h5.4v2.4h-5.4zM360.2 496.1h5.4v2.4h-5.4zM381.7 498.5h5.4v2.4h-5.4zM365.6 500.8h5.4v2.4h-5.4zM397.9 503.1h5.4v2.4h-5.4zM403.3 503.1h5.4v2.4h-5.4zM376.4 507.7h5.4v2.4h-5.4zM408.6 507.7h5.4v2.4h-5.4zM397.9 512.4h5.4v2.4h-5.4zM403.3 512.4h5.4v2.4h-5.4zM354.8 519.3h5.4v2.4h-5.4zM397.9 524h5.4v2.4h-5.4zM424.8 533.3h5.4v2.4h-5.4zM376.4 540.2h5.4v2.4h-5.4zM392.5 540.2h5.4v2.4h-5.4zM424.8 542.5h5.4v2.4h-5.4zM354.8 544.8h5.4v2.4h-5.4zM354.8 547.2h5.4v2.4h-5.4zM371 547.2h5.4v2.4h-5.4zM414 547.2h5.4v2.4h-5.4zM403.3 551.8h5.4v2.4h-5.4zM408.6 556.4h5.4v2.4h-5.4zM376.4 558.8h5.4v2.4h-5.4zM392.5 558.8h5.4v2.4h-5.4zM354.8 561.1h5.4v2.4h-5.4zM403.3 563.4h5.4v2.4h-5.4zM365.6 565.7h5.4v2.4h-5.4zM376.4 584.3h5.4v2.4h-5.4zM397.9 593.6h5.4v2.4h-5.4zM354.8 600.5h5.4v2.4h-5.4zM414 600.5h5.4v2.4h-5.4zM408.6 602.8h5.4v2.4h-5.4zM397.9 605.2h5.4v2.4h-5.4zM408.6 605.2h5.4v2.4h-5.4zM424.8 605.2h5.4v2.4h-5.4zM424.8 612.1h5.4v2.4h-5.4zM344.1 614.4h5.4v2.4h-5.4zM419.4 614.4h5.4v2.4h-5.4zM414 619.1h5.4v2.4h-5.4zM338.7 628.4h5.4v2.4h-5.4zM344.1 630.7h5.4v2.4h-5.4zM344.1 633h5.4v2.4h-5.4zM424.8 633h5.4v2.4h-5.4zM392.5 637.6h5.4v2.4h-5.4zM349.5 642.3h5.4v2.4h-5.4zM424.8 644.6h5.4v2.4h-5.4zM419.4 646.9h5.4v2.4h-5.4zM344.1 651.5h5.4v2.4h-5.4zM397.9 651.5h5.4v2.4h-5.4zM414 651.5h5.4v2.4h-5.4zM403.3 656.2h5.4v2.4h-5.4zM424.8 656.2h5.4v2.4h-5.4zM392.5 667.8h5.4v2.4h-5.4zM414 672.4h5.4v2.4h-5.4zM381.7 681.7h5.4v2.4h-5.4zM424.8 681.7h5.4v2.4h-5.4zM381.7 686.3h5.4v2.4h-5.4zM414 686.3h5.4v2.4h-5.4zM360.2 688.7h5.4v2.4h-5.4zM414 688.7h5.4v2.4h-5.4zM424.8 691h5.4v2.4h-5.4zM344.1 693.3h5.4v2.4h-5.4zM365.6 693.3h5.4v2.4h-5.4zM349.5 702.6h5.4v2.4h-5.4zM376.4 702.6h5.4v2.4h-5.4zM424.8 702.6h5.4v2.4h-5.4z"/>
<path fill="#f2d5ce" d="M408.6 489.2h5.4v2.4h-5.4zM397.9 491.5h5.4v2.4h-5.4zM365.6 493.8h5.4v2.4h-5.4zM349.5 517h5.4v2.4h-5.4zM338.7 521.7h5.4v2.4h-5.4zM344.1 535.6h5.4v2.4h-5.4zM349.5 551.8h5.4v2.4h-5.4zM344.1 556.4h5.4v2.4h-5.4zM349.5 558.8h5.4v2.4h-5.4zM376.4 612.1h5.4v2.4h-5.4zM387.1 612.1h5.4v2.4h-5.4zM381.7 614.4h5.4v2.4h-5.4zM360.2 619.1h5.4v2.4h-5.4zM376.4 619.1h5.4v2.4h-5.4zM381.7 619.1h5.4v2.4h-5.4zM387.1 623.7h5.4v2.4h-5.4zM365.6 630.7h5.4v2.4h-5.4zM376.4 630.7h5.4v2.4h-5.4zM354.8 635.3h5.4v2.4h-5.4zM381.7 635.3h5.4v2.4h-5.4zM387.1 635.3h5.4v2.4h-5.4zM376.4 640h5.4v2.4h-5.4zM381.7 640h5.4v2.4h-5.4zM365.6 642.3h5.4v2.4h-5.4zM365.6 644.6h5.4v2.4h-5.4zM371 646.9h5.4v2.4h-5.4zM381.7 653.9h5.4v2.4h-5.4zM360.2 658.5h5.4v2.4h-5.4zM360.2 667.8h5.4v2.4h-5.4zM338.7 670.1h5.4v2.4h-5.4zM365.6 670.1h5.4v2.4h-5.4zM365.6 672.4h5.4v2.4h-5.4zM338.7 679.4h5.4v2.4h-5.4zM344.1 679.4h5.4v2.4h-5.4zM408.6 681.7h5.4v2.4h-5.4zM349.5 688.7h5.4v2.4h-5.4zM338.7 691h5.4v2.4h-5.4zM403.3 695.6h5.4v2.4h-5.4zM408.6 695.6h5.4v2.4h-5.4zM403.3 697.9h5.4v2.4h-5.4zM338.7 700.3h5.4v2.4h-5.4z"/>
<path fill="#f0c4ba" d="M408.6 493.8h5.4v2.4h-5.4zM408.6 500.8h5.4v2.4h-5.4zM344.1 512.4h5.4v2.4h-5.4zM424.8 519.3h5.4v2.4h-5.4zM424.8 521.7h5.4v2.4h-5.4zM349.5 524h5.4v2.4h-5.4zM344.1 544.8h5.4v2.4h-5.4zM344.1 591.2h5.4v2.4h-5.4zM344.1 598.2h5.4v2.4h-5.4zM344.1 600.5h5.4v2.4h-5.4zM365.6 605.2h5.4v2.4h-5.4zM371 605.2h5.4v2.4h-5.4zM365.6 607.5h5.4v2.4h-5.4zM354.8 612.1h5.4v2.4h-5.4zM365.6 612.1h5.4v2.4h-5.4zM376.4 614.4h5.4v2.4h-5.4zM376.4 616.8h5.4v2.4h-5.4zM387.1 616.8h5.4v2.4h-5.4zM354.8 619.1h5.4v2.4h-5.4zM354.8 621.4h5.4v2.4h-5.4zM365.6 621.4h5.4v2.4h-5.4zM371 621.4h5.4v2.4h-5.4zM360.2 626h5.4v2.4h-5.4zM365.6 635.3h5.4v2.4h-5.4zM365.6 640h5.4v2.4h-5.4zM365.6 646.9h5.4v2.4h-5.4zM376.4 646.9h5.4v2.4h-5.4zM354.8 649.2h5.4v2.4h-5.4zM387.1 649.2h5.4v2.4h-5.4zM376.4 653.9h5.4v2.4h-5.4zM360.2 656.2h5.4v2.4h-5.4zM381.7 656.2h5.4v2.4h-5.4zM381.7 660.8h5.4v2.4h-5.4zM387.1 660.8h5.4v2.4h-5.4zM360.2 663.1h5.4v2.4h-5.4zM371 663.1h5.4v2.4h-5.4zM349.5 667.8h5.4v2.4h-5.4zM360.2 674.7h5.4v2.4h-5.4zM360.2 679.4h5.4v2.4h-5.4zM349.5 681.7h5.4v2.4h-5.4zM403.3 688.7h5.4v2.4h-5.4zM338.7 693.3h5.4v2.4h-5.4zM338.7 697.9h5.4v2.4h-5.4zM349.5 700.3h5.4v2.4h-5.4zM408.6 700.3h5.4v2.4h-5.4zM338.7 702.6h5.4v2.4h-5.4zM403.3 702.6h5.4v2.4h-5.4z"/>
<path fill="#b8d3df" d="M381.7 496.1h5.4v2.4h-5.4zM408.6 503.1h5.4v2.4h-5.4zM387.1 517h5.4v2.4h-5.4zM408.6 517h5.4v2.4h-5.4zM397.9 519.3h5.4v2.4h-5.4zM349.5 605.2h5.4v2.4h-5.4zM408.6 609.8h5.4v2.4h-5.4zM419.4 612.1h5.4v2.4h-5.4zM414 614.4h5.4v2.4h-5.4zM408.6 616.8h5.4v2.4h-5.4zM419.4 619.1h5.4v2.4h-5.4zM414 623.7h5.4v2.4h-5.4zM338.7 626h5.4v2.4h-5.4zM408.6 626h5.4v2.4h-5.4zM424.8 626h5.4v2.4h-5.4zM424.8 628.4h5.4v2.4h-5.4zM414 630.7h5.4v2.4h-5.4zM338.7 642.3h5.4v2.4h-5.4zM408.6 644.6h5.4v2.4h-5.4zM424.8 649.2h5.4v2.4h-5.4zM408.6 651.5h5.4v2.4h-5.4zM414 656.2h5.4v2.4h-5.4zM414 658.5h5.4v2.4h-5.4zM424.8 658.5h5.4v2.4h-5.4zM414 660.8h5.4v2.4h-5.4zM338.7 663.1h5.4v2.4h-5.4zM424.8 674.7h5.4v2.4h-5.4zM371 684h5.4v2.4h-5.4zM414 684h5.4v2.4h-5.4zM360.2 686.3h5.4v2.4h-5.4zM365.6 688.7h5.4v2.4h-5.4zM381.7 691h5.4v2.4h-5.4zM419.4 691h5.4v2.4h-5.4zM414 695.6h5.4v2.4h-5.4zM424.8 695.6h5.4v2.4h-5.4zM414 702.6h5.4v2.4h-5.4z"/>
<path fill="#e4907c" d="M403.3 496.1h5.4v2.4h-5.4zM403.3 498.5h5.4v2.4h-5.4zM338.7 526.3h5.4v2.4h-5.4zM338.7 528.6h5.4v2.4h-5.4zM338.7 533.3h5.4v2.4h-5.4zM338.7 535.6h5.4v2.4h-5.4zM338.7 544.8h5.4v2.4h-5.4zM338.7 547.2h5.4v2.4h-5.4zM338.7 554.1h5.4v2.4h-5.4zM338.7 565.7h5.4v2.4h-5.4zM349.5 582h5.4v2.4h-5.4zM338.7 586.6h5.4v2.4h-5.4zM349.5 586.6h5.4v2.4h-5.4zM349.5 593.6h5.4v2.4h-5.4zM360.2 653.9h5.4v2.4h-5.4z"/>
<path fill="#acccda" d="M376.4 503.1h5.4v2.4h-5.4zM403.3 519.3h5.4v2.4h-5.4zM360.2 540.2h5.4v2.4h-5.4zM414 607.5h5.4v2.4h-5.4zM424.8 614.4h5.4v2.4h-5.4zM408.6 623.7h5.4v2.4h-5.4zM414 626h5.4v2.4h-5.4zM408.6 628.4h5.4v2.4h-5.4zM424.8 630.7h5.4v2.4h-5.4zM408.6 640h5.4v2.4h-5.4zM414 646.9h5.4v2.4h-5.4zM408.6 649.2h5.4v2.4h-5.4zM414 649.2h5.4v2.4h-5.4zM408.6 653.9h5.4v2.4h-5.4zM419.4 656.2h5.4v2.4h-5.4zM419.4 658.5h5.4v2.4h-5.4zM419.4 667.8h5.4v2.4h-5.4zM414 670.1h5.4v2.4h-5.4zM419.4 672.4h5.4v2.4h-5.4zM424.8 672.4h5.4v2.4h-5.4zM371 674.7h5.4v2.4h-5.4zM424.8 677.1h5.4v2.4h-5.4zM414 681.7h5.4v2.4h-5.4zM424.8 688.7h5.4v2.4h-5.4zM424.8 693.3h5.4v2.4h-5.4zM414 697.9h5.4v2.4h-5.4z"/>
<path fill="#d86c5b" d="M414 505.4h5.4v2.4h-5.4zM338.7 572.7h5.4v2.4h-5.4zM392.5 577.3h5.4v2.4h-5.4zM392.5 584.3h5.4v2.4h-5.4z"/>
<path fill="#e69a88" d="M419.4 512.4h5.4v2.4h-5.4zM414 517h5.4v2.4h-5.4zM419.4 521.7h5.4v2.4h-5.4zM338.7 561.1h5.4v2.4h-5.4zM349.5 575h5.4v2.4h-5.4zM338.7 579.6h5.4v2.4h-5.4zM344.1 579.6h5.4v2.4h-5.4zM376.4 637.6h5.4v2.4h-5.4zM365.6 656.2h5.4v2.4h-5.4zM360.2 672.4h5.4v2.4h-5.4zM403.3 693.3h5.4v2.4h-5.4z"/>
<path fill="#d66554" d="M338.7 556.4h5.4v2.4h-5.4zM338.7 570.4h5.4v2.4h-5.4zM349.5 588.9h5.4v2.4h-5.4z"/>
<path fill="#dd7a68" d="M338.7 558.8h5.4v2.4h-5.4zM392.5 570.4h5.4v2.4h-5.4zM349.5 579.6h5.4v2.4h-5.4zM338.7 582h5.4v2.4h-5.4zM338.7 584.3h5.4v2.4h-5.4zM338.7 591.2h5.4v2.4h-5.4zM349.5 591.2h5.4v2.4h-5.4zM397.9 686.3h5.4v2.4h-5.4zM397.9 693.3h5.4v2.4h-5.4zM397.9 695.6h5.4v2.4h-5.4zM397.9 700.3h5.4v2.4h-5.4zM397.9 702.6h5.4v2.4h-5.4z"/>
<path fill="#d15747" d="M392.5 579.6h5.4v2.4h-5.4zM349.5 602.8h5.4v2.4h-5.4z"/>
<path fill="#a1c5d5" d="M338.7 605.2h5.4v2.4h-5.4zM424.8 607.5h5.4v2.4h-5.4zM424.8 619.1h5.4v2.4h-5.4zM424.8 621.4h5.4v2.4h-5.4zM408.6 633h5.4v2.4h-5.4zM419.4 633h5.4v2.4h-5.4zM424.8 642.3h5.4v2.4h-5.4zM419.4 660.8h5.4v2.4h-5.4zM414 665.5h5.4v2.4h-5.4zM419.4 681.7h5.4v2.4h-5.4zM354.8 688.7h5.4v2.4h-5.4zM414 693.3h5.4v2.4h-5.4zM419.4 695.6h5.4v2.4h-5.4zM419.4 702.6h5.4v2.4h-5.4z"/>
<path fill="#96bfd1" d="M414 605.2h5.4v2.4h-5.4zM408.6 614.4h5.4v2.4h-5.4zM414 616.8h5.4v2.4h-5.4zM414 628.4h5.4v2.4h-5.4zM414 635.3h5.4v2.4h-5.4zM424.8 640h5.4v2.4h-5.4zM408.6 642.3h5.4v2.4h-5.4zM424.8 646.9h5.4v2.4h-5.4zM419.4 651.5h5.4v2.4h-5.4zM424.8 651.5h5.4v2.4h-5.4zM419.4 663.1h5.4v2.4h-5.4zM419.4 700.3h5.4v2.4h-5.4z"/>
<path fill="#82b2c7" d="M408.6 607.5h5.4v2.4h-5.4zM419.4 630.7h5.4v2.4h-5.4zM414 633h5.4v2.4h-5.4zM419.4 637.6h5.4v2.4h-5.4zM424.8 700.3h5.4v2.4h-5.4z"/>
<path fill="#8ab8cc" d="M414 609.8h5.4v2.4h-5.4zM408.6 619.1h5.4v2.4h-5.4zM408.6 635.3h5.4v2.4h-5.4zM414 640h5.4v2.4h-5.4zM408.6 646.9h5.4v2.4h-5.4zM408.6 663.1h5.4v2.4h-5.4z"/>
<path fill="#7aacc2" d="M419.4 623.7h5.4v2.4h-5.4zM424.8 635.3h5.4v2.4h-5.4z"/>
<rect x="339" y="474.8" width="4.8" height="4" fill="#d8a0d0"/>
<rect x="344.4" y="474.8" width="4.8" height="4" fill="#70b070"/>
<rect x="349.8" y="474.8" width="4.8" height="4" fill="#1e3b26"/>
<rect x="355.1" y="474.8" width="4.8" height="4" fill="#e0b070"/>
<rect x="360.5" y="474.8" width="4.8" height="4" fill="#70b8e0"/>
<rect x="365.9" y="474.8" width="4.8" height="4" fill="#b090d0"/>
<rect x="371.3" y="474.8" width="4.8" height="4" fill="#c050b0"/>
<rect x="376.7" y="474.8" width="4.8" height="4" fill="#a0d8c8"/>
<rect x="382" y="474.8" width="4.8" height="4" fill="#6a40a0"/>
<rect x="387.4" y="474.8" width="4.8" height="4" fill="#d0e8a8"/>
<rect x="392.8" y="474.8" width="4.8" height="4" fill="#3f6e9a"/>
<rect x="398.2" y="474.8" width="4.8" height="4" fill="#b89070"/>
<rect x="403.6" y="474.8" width="4.8" height="4" fill="#d85050"/>
<rect x="408.9" y="474.8" width="4.8" height="4" fill="#b03030"/>
<rect x="414.3" y="474.8" width="4.8" height="4" fill="#e8b8b0"/>
<rect x="419.7" y="474.8" width="4.8" height="4" fill="#d0c040"/>
<rect x="425.1" y="474.8" width="4.8" height="4" fill="#505050"/>
<path d="M341.4 474.8V470.2H346.8V474.8 M344.1 470.2V467.2H352.2V474.8 M357.5 474.8V471.2H363V474.8 M368.3 474.8V471.5H373.7V474.8 M360.2 471.2V469.3H371 M379 474.8V471.8H384.4V474.8 M365.6 469.3V468H381.7V471.8 M389.8 474.8V467.5 M373.7 468V466.2H389.8V467.5 M348.1 467.2V464.6H381.7V466.2 M395.2 474.8V471H400.6V474.8 M398 471V469H405.9V474.8 M411.3 474.8V471.3H416.6V474.8 M414 471.3V468.6H422V474.8 M427.3 474.8V468.6 M422 468.6H427.3 M402 469V466.8H424.6V468.6 M413.2 466.8V465.3H389.8V466.2 M365 464.6V463.2H401.5V465.3" fill="none" stroke="#666" stroke-width="0.6"/>
<path d="M338.2 481.1H337V483.4H338.2 M338.2 485.7H336.5V488H338.2 M338.2 490.3H336.8V492.7H338.2 M338.2 495H336.4V497.3H338.2 M338.2 499.6H336.3V501.9H338.2 M338.2 504.3H337.3V506.6H338.2 M338.2 508.9H337.4V511.2H338.2 M338.2 513.5H336V515.9H338.2 M338.2 518.2H337V520.5H338.2 M338.2 522.8H337V525.1H338.2 M338.2 527.5H335.7V529.8H338.2 M338.2 532.1H336.6V534.4H338.2 M338.2 536.7H336V539H338.2 M338.2 541.4H336.6V543.7H338.2 M338.2 546H336.3V548.3H338.2 M338.2 550.6H337.1V553H338.2 M338.2 555.3H336.3V557.6H338.2 M338.2 559.9H335.9V562.2H338.2 M338.2 564.6H336.5V566.9H338.2 M338.2 569.2H336.1V571.5H338.2 M338.2 573.8H336.3V576.2H338.2 M338.2 578.5H337.3V580.8H338.2 M338.2 583.1H336.1V585.4H338.2 M338.2 587.8H336.4V590.1H338.2 M338.2 592.4H336.9V594.7H338.2 M338.2 597H337.3V599.4H338.2 M338.2 601.7H335.9V604H338.2 M338.2 606.3H336.6V608.6H338.2 M338.2 611H336.2V613.3H338.2 M338.2 615.6H335.9V617.9H338.2 M338.2 620.2H336.2V622.6H338.2 M338.2 624.9H335.8V627.2H338.2 M338.2 629.5H336.7V631.8H338.2 M338.2 634.2H336V636.5H338.2 M338.2 638.8H336.6V641.1H338.2 M338.2 643.4H335.8V645.8H338.2 M338.2 648.1H335.9V650.4H338.2 M338.2 652.7H337.2V655H338.2 M338.2 657.3H337.2V659.7H338.2 M338.2 662H337V664.3H338.2 M338.2 666.6H335.8V668.9H338.2 M338.2 671.3H336.7V673.6H338.2 M338.2 675.9H336.3V678.2H338.2 M338.2 680.5H336.9V682.9H338.2 M338.2 685.2H336.5V687.5H338.2 M338.2 689.8H336.7V692.1H338.2 M338.2 694.5H336.8V696.8H338.2 M338.2 699.1H336.4V701.4H338.2 M332.4 481.9V501.5 M332.4 482.8H335.8 M332.4 488.8H335.8 M332.4 494.6H335.8 M332.4 500.6H335.8 M331.5 505.5V525.5 M331.5 506.5H335.8 M331.5 512.5H335.8 M331.5 518.5H335.8 M331.5 524.5H335.8 M332.2 529.5V563 M332.2 532.2H335.8 M332.2 541.6H335.8 M332.2 550.9H335.8 M332.2 560.3H335.8 M331.4 567V604 M331.4 570.1H335.8 M331.4 580.4H335.8 M331.4 590.6H335.8 M331.4 600.9H335.8 M331.6 608V638 M331.6 610.2H335.8 M331.6 618.8H335.8 M331.6 627.2H335.8 M331.6 635.8H335.8 M331.2 642V665 M331.2 643.4H335.8 M331.2 650.1H335.8 M331.2 656.9H335.8 M331.2 663.6H335.8 M332.2 669V682 M332.2 669.1H335.8 M332.2 673.4H335.8 M332.2 677.6H335.8 M332.2 681.9H335.8 M333.7 686V702.9 M333.7 686.6H335.8 M333.7 691.8H335.8 M333.7 697.1H335.8 M333.7 702.3H335.8 M330.5 491.5V516 M330.5 503.7H331.7 M329.4 546V586 M329.4 566H331.5 M330 623V656 M330 640H331.2 M331 676V694 M328.6 503.7V566 M328.6 530H330.5 M327.6 640V676 M327.6 658H330 M326.6 530V658 M326.6 594H328.6" fill="none" stroke="#8a8a8a" stroke-width="0.5"/>
<rect x="397.6" y="480.6" width="16" height="22.8" fill="none" stroke="#222" stroke-width="0.8"/>
<rect x="414.1" y="503.6" width="16" height="24.4" fill="none" stroke="#222" stroke-width="0.8"/>
<rect x="338.7" y="527.4" width="16" height="78.6" fill="none" stroke="#222" stroke-width="0.8"/>
<rect x="392.2" y="568.5" width="5.4" height="17.3" fill="none" stroke="#222" stroke-width="0.8"/>
<rect x="354.7" y="606" width="37.7" height="60.6" fill="none" stroke="#222" stroke-width="0.8"/>
<rect x="397.6" y="682.2" width="16" height="22.5" fill="none" stroke="#222" stroke-width="0.8"/>
<text x="387.2" y="494.6" font-size="6.9" text-anchor="middle" stroke="#222" stroke-width="0.22">GC B</text>
<text x="399.3" y="518" font-size="6.9" text-anchor="middle" stroke="#222" stroke-width="0.22">Plasma</text>
<text x="368.9" y="568.2" font-size="6.9" text-anchor="middle" stroke="#222" stroke-width="0.22">Plasma</text>
<text x="396.2" y="591" font-size="6.9" text-anchor="middle" stroke="#222" stroke-width="0.22">Exhausted B</text>
<text x="405.4" y="639.5" font-size="6.9" text-anchor="middle" stroke="#222" stroke-width="0.22">B cells</text>
<text x="386.6" y="697.1" font-size="6.9" text-anchor="middle" stroke="#222" stroke-width="0.22">GC B</text>
<text x="436.9" y="485.2" font-size="5.9" stroke="#222" stroke-width="0.22">HDAC2(+)</text>
<text x="436.9" y="495.9" font-size="5.9" stroke="#222" stroke-width="0.22">FOXM1(+)</text>
<text x="436.9" y="501.5" font-size="5.9" stroke="#222" stroke-width="0.22">IRF3(+)</text>
<text x="436.9" y="509.4" font-size="5.9" stroke="#222" stroke-width="0.22">FOS(+)</text>
<text x="436.9" y="515.1" font-size="5.9" stroke="#222" stroke-width="0.22">IRF4(+)</text>
<text x="436.9" y="520.5" font-size="5.9" stroke="#222" stroke-width="0.22">XBP1(+)</text>
<text x="436.9" y="525.8" font-size="5.9" stroke="#222" stroke-width="0.22">FOXO3(+)</text>
<text x="436.9" y="532.9" font-size="5.9" stroke="#222" stroke-width="0.22">FREM1(+)</text>
<text x="436.9" y="538.6" font-size="5.9" stroke="#222" stroke-width="0.22">MITF(+)</text>
<text x="436.9" y="543.9" font-size="5.9" stroke="#222" stroke-width="0.22">MAF(+)</text>
<text x="436.9" y="568.6" font-size="5.9" stroke="#222" stroke-width="0.22">TBX21(+)</text>
<text x="436.9" y="587.3" font-size="5.9" stroke="#222" stroke-width="0.22">ATF4(+)</text>
<text x="436.9" y="592.4" font-size="5.9" stroke="#222" stroke-width="0.22">BCLAF1(+)</text>
<text x="436.9" y="597.8" font-size="5.9" stroke="#222" stroke-width="0.22">SPIB(+)</text>
<text x="436.9" y="603" font-size="5.9" stroke="#222" stroke-width="0.22">BATF(+)</text>
<text x="436.9" y="608.6" font-size="5.9" stroke="#222" stroke-width="0.22">FOXO1(+)</text>
<text x="436.9" y="613.7" font-size="5.9" stroke="#222" stroke-width="0.22">IKZF1(+)</text>
<text x="436.9" y="619.5" font-size="5.9" stroke="#222" stroke-width="0.22">JUNB(+)</text>
<text x="436.9" y="624.4" font-size="5.9" stroke="#222" stroke-width="0.22">RELB(+)</text>
<text x="436.9" y="630.1" font-size="5.9" stroke="#222" stroke-width="0.22">NFKB1(+)</text>
<text x="436.9" y="635.3" font-size="5.9" stroke="#222" stroke-width="0.22">REL(+)</text>
<text x="436.9" y="640.8" font-size="5.9" stroke="#222" stroke-width="0.22">STAT6(+)</text>
<text x="436.9" y="646" font-size="5.9" stroke="#222" stroke-width="0.22">BACH2(+)</text>
<text x="436.9" y="651.5" font-size="5.9" stroke="#222" stroke-width="0.22">NFATC2(+)</text>
<text x="436.9" y="656.7" font-size="5.9" stroke="#222" stroke-width="0.22">ETS1(+)</text>
<text x="436.9" y="662.1" font-size="5.9" stroke="#222" stroke-width="0.22">IKZF3(+)</text>
<text x="436.9" y="667.5" font-size="5.9" stroke="#222" stroke-width="0.22">RUNX1(+)</text>
<text x="436.9" y="673.1" font-size="5.9" stroke="#222" stroke-width="0.22">BHLHA15(+)</text>
<text x="436.9" y="678.2" font-size="5.9" stroke="#222" stroke-width="0.22">PBX1(+)</text>
<text x="436.9" y="683.8" font-size="5.9" stroke="#222" stroke-width="0.22">NFKB2(+)</text>
<text x="436.9" y="688.9" font-size="5.9" stroke="#222" stroke-width="0.22">BCL6(+)</text>
<text x="436.9" y="694.4" font-size="5.9" stroke="#222" stroke-width="0.22">SPI1(+)</text>
<text x="436.9" y="699.5" font-size="5.9" stroke="#222" stroke-width="0.22">YY1(+)</text>
<text x="436.9" y="704.7" font-size="5.9" stroke="#222" stroke-width="0.22">POU2F2(+)</text>
<path d="M432.6 483L436 483.1 M432.6 493.7L436 493.8 M432.6 498.8L436 499.4 M432.6 506.7L436 507.3 M432.6 513.3L436 513 M432.6 518.7L436 518.4 M432.6 524.2L436 523.7 M432.6 531.5L436 530.8 M432.6 536.3L436 536.5 M432.6 541.5L436 541.8 M432.6 567.4L436 566.5 M432.6 585.7L436 585.2 M432.6 589.2L436 590.3 M432.6 596.5L436 595.7 M432.6 599.9L436 600.9 M432.6 606.5L436 606.5 M432.6 612.4L436 611.6 M432.6 618.3L436 617.4 M432.6 621.2L436 622.3 M432.6 628.2L436 628 M432.6 634.2L436 633.2 M432.6 638.7L436 638.7 M432.6 643.7L436 643.9 M432.6 649.5L436 649.4 M432.6 655.7L436 654.6 M432.6 659.6L436 660 M432.6 664.9L436 665.4 M432.6 671.4L436 671 M432.6 675.8L436 676.1 M432.6 681.4L436 681.7 M432.6 686.2L436 686.8 M432.6 691.8L436 692.3 M432.6 696.3L436 697.4 M432.6 701.7L436 702.6" fill="none" stroke="#555" stroke-width="0.5"/>
<path d="M434 587V656 M434.4 677V701" fill="none" stroke="#555" stroke-width="0.5"/>
<circle cx="341.4" cy="708.6" r="2.5" fill="#d8a0d0" stroke="#666" stroke-width="0.3"/>
<circle cx="346.8" cy="708.6" r="2.5" fill="#70b070" stroke="#666" stroke-width="0.3"/>
<circle cx="352.1" cy="708.6" r="2.5" fill="#1e3b26" stroke="#666" stroke-width="0.3"/>
<circle cx="357.5" cy="708.6" r="2.5" fill="#e0b070" stroke="#666" stroke-width="0.3"/>
<circle cx="362.9" cy="708.6" r="2.5" fill="#70b8e0" stroke="#666" stroke-width="0.3"/>
<circle cx="368.3" cy="708.6" r="2.5" fill="#b090d0" stroke="#666" stroke-width="0.3"/>
<circle cx="373.7" cy="708.6" r="2.5" fill="#c050b0" stroke="#666" stroke-width="0.3"/>
<circle cx="379.1" cy="708.6" r="2.5" fill="#a0d8c8" stroke="#666" stroke-width="0.3"/>
<circle cx="384.4" cy="708.6" r="2.5" fill="#6a40a0" stroke="#666" stroke-width="0.3"/>
<circle cx="389.8" cy="708.6" r="2.5" fill="#d0e8a8" stroke="#666" stroke-width="0.3"/>
<circle cx="395.2" cy="708.6" r="2.5" fill="#3f6e9a" stroke="#666" stroke-width="0.3"/>
<circle cx="400.6" cy="708.6" r="2.5" fill="#b89070" stroke="#666" stroke-width="0.3"/>
<circle cx="405.9" cy="708.6" r="2.5" fill="#d85050" stroke="#666" stroke-width="0.3"/>
<circle cx="411.3" cy="708.6" r="2.5" fill="#b03030" stroke="#666" stroke-width="0.3"/>
<circle cx="416.7" cy="708.6" r="2.5" fill="#e8b8b0" stroke="#666" stroke-width="0.3"/>
<circle cx="422.1" cy="708.6" r="2.5" fill="#d0c040" stroke="#666" stroke-width="0.3"/>
<circle cx="427.5" cy="708.6" r="2.5" fill="#505050" stroke="#666" stroke-width="0.3"/>
<linearGradient id="ggr" x1="0" y1="0" x2="0" y2="1"><stop offset="0" stop-color="#c83a2c"/><stop offset="0.5" stop-color="#f7f5f4"/><stop offset="1" stop-color="#2a6f90"/></linearGradient>
<rect x="308" y="504.2" width="7.3" height="47.5" fill="url(#ggr)"/>
<text x="318.4" y="508.1" font-size="6.8" stroke="#222" stroke-width="0.22">4</text>
<text x="318.4" y="519" font-size="6.8" stroke="#222" stroke-width="0.22">2</text>
<text x="318.4" y="529.6" font-size="6.8" stroke="#222" stroke-width="0.22">0</text>
<text x="318.4" y="542.4" font-size="6.8" stroke="#222" stroke-width="0.22">-2</text>
<text x="318.4" y="553.4" font-size="6.8" stroke="#222" stroke-width="0.22">-4</text>
<text x="301.9" y="531.4" font-size="6.6" text-anchor="middle" stroke="#222" stroke-width="0.22" transform="rotate(-90 301.9 529)">Z-score</text>
<text x="486" y="492.7" font-size="14.2">h</text>
<g filter="url(#sp2)">
<path d="M492.2 519.7C492.9 518.3 493.4 515.6 497.3 514.6C501.2 513.6 509.9 514.5 515.7 513.6C521.5 512.8 526.9 511.2 532 509.5C537.1 507.8 541.2 505.4 546.3 503.4C551.4 501.4 557.6 498.8 562.7 497.3C567.8 495.8 572.6 494.4 577 494.2C581.4 494 586.8 494.3 589.2 496.2C591.6 498.1 589.6 502.1 591.3 505.4C593 508.6 596.8 512.5 599.5 515.7C602.2 519 607.6 522.7 607.6 524.9C607.6 527.1 602.9 528.1 599.5 529C596.1 529.9 591.3 531.2 587.2 530C583.1 528.8 578.4 522.5 575 521.8C571.6 521.1 569.4 523.5 566.7 525.9C564 528.3 562 533 558.6 536.1C555.2 539.2 549.7 541.6 546.3 544.3C542.9 547 540.5 550.7 538.1 552.4C535.7 554.1 534 555.5 532 554.5C530 553.5 526.9 550 525.9 546.3C524.9 542.5 527.6 534.9 525.9 532C524.2 529.1 519.8 530 515.7 529C511.6 528 505.1 526.9 501.3 525.9C497.6 524.9 494.7 523.8 493.2 522.8C491.7 521.8 491.5 521.1 492.2 519.7Z" fill="#3a6492" opacity="1"/>
<path d="M526 518C527.5 515.7 533.7 514 538 512C542.3 510 548.2 507.3 552 506C555.8 504.7 558.8 503.5 561 504C563.2 504.5 565.3 506.7 565 509C564.7 511.3 561.2 515 559 518C556.8 521 554.5 524.5 552 527C549.5 529.5 546.8 532 544 533C541.2 534 537.5 534.2 535 533C532.5 531.8 530.5 528.5 529 526C527.5 523.5 524.5 520.3 526 518Z" fill="#2e2c6e" opacity="0.8"/>
<path d="M494 520C494.3 518.2 496.7 515.2 500 514C503.3 512.8 510.3 512.5 514 513C517.7 513.5 521 515 522 517C523 519 522.3 523.3 520 525C517.7 526.7 511.7 527 508 527C504.3 527 500.3 526.2 498 525C495.7 523.8 493.7 521.8 494 520Z" fill="#3a6a98" opacity="0.9"/>
<path d="M576 502C578.7 500.3 585.3 499 588 500C590.7 501 590 505.3 592 508C594 510.7 597.5 513.3 600 516C602.5 518.7 607.3 521.8 607 524C606.7 526.2 601.5 528.2 598 529C594.5 529.8 589.5 530.5 586 529C582.5 527.5 579.3 523.2 577 520C574.7 516.8 572.2 513 572 510C571.8 507 573.3 503.7 576 502Z" fill="#5aa6b0" opacity="0.9"/>
<path d="M560 497C561.2 495.2 572.2 494 577 494C581.8 494 588 495.3 589 497C590 498.7 586.2 502.7 583 504C579.8 505.3 573.8 506.2 570 505C566.2 503.8 558.8 498.8 560 497Z" fill="#4a86a8" opacity="0.9"/>
</g>
<g filter="url(#sp3)" opacity="0.6">
<path d="M528 534C530.2 531.5 536 529.8 540 530C544 530.2 551 532.3 552 535C553 537.7 548.3 543 546 546C543.7 549 540.5 551.8 538 553C535.5 554.2 532.8 554.3 531 553C529.2 551.7 527.5 548.2 527 545C526.5 541.8 525.8 536.5 528 534Z" fill="#5a5a8a" opacity="1"/>
</g>
<g filter="url(#sp3)">
<path d="M557 562C558 560.8 560.2 559.8 562 560C563.8 560.2 566.7 561.3 568 563C569.3 564.7 570 567.7 570 570C570 572.3 569.2 575.5 568 577C566.8 578.5 564.7 579.5 563 579C561.3 578.5 559.2 576 558 574C556.8 572 556.2 569 556 567C555.8 565 556 563.2 557 562Z" fill="#7c7c7c" opacity="1"/>
</g>
<path d="M558 563C558.8 562.1 560.5 561.3 562 561.5C563.5 561.7 565.9 562.6 567 564C568.1 565.4 568.5 568 568.5 570C568.5 572 567.9 574.8 567 576C566.1 577.2 564.3 578 563 577.5C561.7 577 559.9 574.8 559 573C558.1 571.2 557.7 568.7 557.5 567C557.3 565.3 557.2 563.9 558 563Z" fill="#8a8a8a" opacity="0.6"/>
<g filter="url(#sp2)">
<path d="M633 546C635.5 543.5 641.3 544.7 645 545C648.7 545.3 652.2 546.8 655 548C657.8 549.2 660.3 550 662 552C663.7 554 664.2 556.7 665 560C665.8 563.3 665.8 567.8 667 572C668.2 576.2 670.7 580.3 672 585C673.3 589.7 674.5 595 675 600C675.5 605 675.8 610.8 675 615C674.2 619.2 670.5 620.8 670 625C669.5 629.2 672.3 635.5 672 640C671.7 644.5 670 648.7 668 652C666 655.3 663.8 658.3 660 660C656.2 661.7 650 662 645 662C640 662 634.5 660.8 630 660C625.5 659.2 620.8 658.7 618 657C615.2 655.3 613.7 652.8 613 650C612.3 647.2 613.2 643.7 614 640C614.8 636.3 617.5 632.2 618 628C618.5 623.8 617 619.7 617 615C617 610.3 617.2 605 618 600C618.8 595 620.3 589.2 622 585C623.7 580.8 626.7 579.2 628 575C629.3 570.8 629.2 564.8 630 560C630.8 555.2 630.5 548.5 633 546Z" fill="url(#hgr1)" opacity="1"/>
<path d="M614 630C615.3 627.5 618.3 625.3 621 625C623.7 624.7 627.5 626 630 628C632.5 630 634.8 633.7 636 637C637.2 640.3 637.8 644.8 637 648C636.2 651.2 633.5 654.5 631 656C628.5 657.5 624.7 657.8 622 657C619.3 656.2 616.5 653.8 615 651C613.5 648.2 613.2 643.5 613 640C612.8 636.5 612.7 632.5 614 630Z" fill="#46568e" opacity="0.9"/>
<path d="M618 621C618.3 619.2 625.5 617.3 630 617C634.5 616.7 640 618.3 645 619C650 619.7 655.5 620 660 621C664.5 622 670 623.5 672 625C674 626.5 674.8 629.5 672 630C669.2 630.5 660.3 628.7 655 628C649.7 627.3 644.5 626 640 626C635.5 626 631.7 628.8 628 628C624.3 627.2 617.7 622.8 618 621Z" fill="#dfe8c0" opacity="0.5"/>
</g>
<g filter="url(#sp2)">
<path d="M492.5 579.2C494.4 577.6 497.9 577.2 501.6 577.2C505.3 577.2 511.3 577.6 514.8 579.2C518.3 580.9 520.3 583.6 522.7 587.1C525.1 590.6 527.5 595.4 529.2 600.2C531 605 531.4 610.1 533.2 616C535 621.9 537.4 629.4 539.8 635.7C542.2 642.1 546.1 648.4 547.6 654.1C549.1 659.8 549.4 666.2 549 669.9C548.6 673.6 547.6 675.1 545 676.4C542.4 677.7 537.1 677.9 533.2 677.7C529.3 677.5 525.8 676.4 521.4 675.1C517 673.8 511.3 672.1 506.9 669.9C502.5 667.7 498.4 665.1 495.1 662C491.8 658.9 488.9 655.2 487.2 651.5C485.5 647.8 485.1 644.4 485.2 639.6C485.3 634.8 487.2 628.7 487.9 622.6C488.6 616.5 488.8 608.7 489.2 602.8C489.6 596.9 489.9 591 490.5 587.1C491.1 583.2 490.6 580.9 492.5 579.2Z" fill="url(#hgr2)" opacity="1"/>
<path d="M489 643C489.8 640.7 491.8 637.7 494 637C496.2 636.3 499.5 637.7 502 639C504.5 640.3 507.5 642.5 509 645C510.5 647.5 511.3 651.2 511 654C510.7 656.8 509 660.3 507 662C505 663.7 501.5 664.5 499 664C496.5 663.5 493.7 661.2 492 659C490.3 656.8 489.5 653.7 489 651C488.5 648.3 488.2 645.3 489 643Z" fill="#30287a" opacity="0.8"/>
<path d="M518 648C520 645 526 642 530 642C534 642 539 645 542 648C545 651 547.3 656 548 660C548.7 664 548.3 669.3 546 672C543.7 674.7 538 676 534 676C530 676 524.7 674.7 522 672C519.3 669.3 518.7 664 518 660C517.3 656 516 651 518 648Z" fill="#3fae8a" opacity="0.8"/>
<path d="M494 580C495.8 578.5 500.3 577.7 503 578C505.7 578.3 509.5 580 510 582C510.5 584 508.2 588.3 506 590C503.8 591.7 499.3 592.5 497 592C494.7 591.5 492.5 589 492 587C491.5 585 492.2 581.5 494 580Z" fill="#d2d858" opacity="0.9"/>
</g>
<g opacity="0.3">
<path d="M499 612C501.2 609.7 506.3 607.2 510 607C513.7 606.8 518.3 608.5 521 611C523.7 613.5 525.8 618.5 526 622C526.2 625.5 524.3 630 522 632C519.7 634 515.3 634.5 512 634C508.7 633.5 504.5 631.2 502 629C499.5 626.8 497.5 623.8 497 621C496.5 618.2 496.8 614.3 499 612Z" fill="#ffffff" filter="url(#sp3)"/>
</g>
<path d="M636 552 L640 556 L647 553 M654 556 L660 560 L664 565 M631 596 L637 590 L642 594 L648 588 M650 592 L657 596 L660 603 L668 606 M625 600 L630 606 L638 604 L644 608 M650 610 L656 614 L662 612 L668 618 M640 612 L646 618 L650 626 M618 620 L622 610 M646 640 L652 636 L660 640 L666 648 M636 646 L642 650 M626 652 L618 654 M494 590 L500 596 L498 603 M506 588 L512 586 L516 592 M500 600 L505 606 M512 600 L518 604 L522 600 M520 650 L528 646 L536 650 M530 666 L538 662" fill="none" stroke="#222" stroke-width="0.5" opacity="0.85"/>
<path d="M507.5 519.7 L510.2 520.2 L512.8 520.6 L515.5 521 L518.1 521.2 L520.8 521.3 L523.4 521.1 L526 520.8 L528.5 520.2 L531 519.3 L533.5 518.3 L535.9 517 L538.2 515.7 L540.4 514.2 L542.5 512.7 L544.6 511.1 L546.7 509.5 L548.8 507.9 L551 506.4 L553.2 504.9 L555.5 503.5 L557.9 502.2 L560.4 501.2 L562.9 500.6 L565.5 500.2 L568.2 500.3 L570.8 500.8 L573.4 501.7 L575.8 502.8 L578 504.3 L580 506 L581.9 507.9 L583.7 509.9 L585.4 512 L587 514.1 L588.6 516.2 L590.3 518.3 L592 520.3 L593.8 522.2 L595.7 524 L597.7 525.7 L599.8 527.2 L602.1 528.6 L604.3 530 L606.6 531.4 L608.9 532.8 L611.1 534.3 L613.3 535.7 L615.6 537 L617.9 538.3 L620.3 539.4 L622.8 540.3 L625.3 541.1 L627.8 541.9 L630.3 542.8 L632.7 543.8 L635.1 544.8 L637.5 545.9 L640 547 L642.6 548.2 L645 549.4 L647 551 L648.5 552.9 L649.3 555.2 L649.6 557.9 L649.6 560.7 L649.3 563.6 L649.1 566.5 L648.8 569.3 L648.7 572 L648.5 574.7 L648.4 577.3 L648.3 579.8 L648.1 582.4 L648 585 L647.7 587.5 L647.4 590.1 L647.1 592.7 L646.7 595.4 L646.3 598" fill="none" stroke="#9a3e30" stroke-width="1.3"/>
<path d="M534 519.7 L535.9 520.3 L537.8 521 L539.7 521.7 L541.6 522.6 L543.5 523.5 L545.4 524.6 L547.2 525.9 L549.1 527.5 L550.7 529.2 L551.9 531 L552.4 532.8 L551.9 534.5 L550.5 536 L548.7 537.5 L546.7 538.9 L544.9 540.3 L543.2 541.6 L541.7 543 L540.2 544.3" fill="none" stroke="#9a3e30" stroke-width="1.2"/>
<circle cx="507.5" cy="519.7" r="2" fill="#e0301e"/>
<path d="M646.2 603.8L644.2 598.3L648.2 598.3Z" fill="#e0301e"/>
<path d="M617.3 650 L619.1 649.8 L620.8 649.6 L622.6 649.4 L624.4 649.1 L626.1 648.9 L627.9 648.7 L629.7 648.4 L631.4 648.1 L633.2 647.7 L634.9 647.4 L636.7 647 L638.4 646.5 L640.1 646 L641.8 645.5 L643.5 644.9 L645.1 644.2 L646.8 643.5 L648.4 642.8 L650 642" fill="none" stroke="#9a3e30" stroke-width="1.2"/>
<path d="M654.4 640L650.4 644.1L648.8 640.5Z" fill="#e0301e"/>
<path d="M495.1 648.8 L493.8 647.5 L492.6 646.2 L491.4 644.9 L490.4 643.5 L489.6 641.9 L489 640.3 L488.6 638.5 L488.5 636.6 L488.7 634.8 L489.2 633.1 L490 631.5 L491 630.2 L492.2 628.9 L493.6 627.9 L495.1 626.8 L496.7 625.9 L498.2 624.9 L499.6 623.8 L501 622.7 L502.4 621.6 L503.7 620.5 L504.9 619.3 L506.2 618 L507.4 616.7 L508.5 615.4 L509.6 614 L510.5 612.5 L511.3 610.9 L512 609.3 L512.5 607.5 L512.7 605.8 L512.8 604 L512.6 602.2 L512.2 600.5 L511.5 598.8 L510.6 597.3 L509.5 596 L508.2 594.8 L506.9 593.6" fill="none" stroke="#9a3e30" stroke-width="1.2"/>
<path d="M501.5 589.5L506.9 591.5L504.4 594.5Z" fill="#e0301e"/>
<path d="M495.1 648.8 L496.7 648.9 L498.2 648.9 L499.8 649 L501.3 649.2 L502.8 649.4 L504.4 649.6 L505.9 650 L507.4 650.5 L508.9 651.1 L510.4 651.8 L511.8 652.5 L513.3 653.2 L514.7 653.7 L516.2 654 L517.6 654.1 L519.1 653.8 L520.6 653.4 L522 652.7 L523.5 652" fill="none" stroke="#9a3e30" stroke-width="1.2"/>
<path d="M528.4 650.7L523.8 653.9L522.7 650.2Z" fill="#e0301e"/>
<path d="M515.4 655.4 L514.9 656.9 L514.4 658.4 L513.9 659.9 L513.6 661.4 L513.5 663 L513.5 664.6 L513.7 666.2 L514.2 667.8 L514.9 669.2 L515.9 670.4 L517.2 671.2 L518.6 671.6 L520.2 671.8 L521.9 671.7 L523.6 671.4 L525.2 670.9 L526.7 670.3 L528.1 669.7 L529.5 669" fill="none" stroke="#9a3e30" stroke-width="1.2"/>
<path d="M534.2 667.4L529.9 671.1L528.5 667.4Z" fill="#e0301e"/>
<circle cx="495.1" cy="648.8" r="0.9" fill="#ffffff"/>
<text x="616.6" y="540.3" font-size="8.2" text-anchor="middle" stroke="#222" stroke-width="0.22">Path1(GC B --&gt; PC)</text>
<text x="513.8" y="576.8" font-size="8.2" text-anchor="middle" stroke="#222" stroke-width="0.22">Path4(FO B --&gt; Bm)</text>
<text x="530.2" y="684.1" font-size="8.2" text-anchor="middle" stroke="#222" stroke-width="0.22">Path3(FO B --&gt; ABC)</text>
<text x="641" y="671.2" font-size="8.2" text-anchor="middle" stroke="#222" stroke-width="0.22">Path2(MZ B --&gt; PC)</text>
<rect x="622.2" y="498.9" width="5.4" height="29.9" fill="url(#vir)"/>
<text x="629.6" y="503.1" font-size="4.6" fill="#333">30</text>
<text x="629.6" y="511.9" font-size="4.6" fill="#333">20</text>
<text x="629.6" y="520.7" font-size="4.6" fill="#333">10</text>
<text x="629.6" y="529.5" font-size="4.6" fill="#333">0</text>
<text x="619" y="515.5" font-size="4.6" text-anchor="middle" fill="#333" transform="rotate(-90 619 513.8)">Pseudotime</text>
<rect x="549" y="600.2" width="5.4" height="28.3" fill="url(#vir)"/>
<text x="556.8" y="604.4" font-size="4.6" fill="#333">9</text>
<text x="556.8" y="612.6" font-size="4.6" fill="#333">6</text>
<text x="556.8" y="620.9" font-size="4.6" fill="#333">3</text>
<text x="556.8" y="629.2" font-size="4.6" fill="#333">0</text>
<text x="545.8" y="616" font-size="4.6" text-anchor="middle" fill="#333" transform="rotate(-90 545.8 614.4)">Pseudotime</text>
<rect x="594.2" y="630.5" width="5.4" height="29.1" fill="url(#vir)"/>
<text x="600.4" y="634.7" font-size="4.6" fill="#333">6</text>
<text x="600.4" y="638.9" font-size="4.6" fill="#333">5</text>
<text x="600.4" y="643.2" font-size="4.6" fill="#333">4</text>
<text x="600.4" y="647.5" font-size="4.6" fill="#333">3</text>
<text x="600.4" y="651.7" font-size="4.6" fill="#333">2</text>
<text x="600.4" y="656" font-size="4.6" fill="#333">1</text>
<text x="600.4" y="660.3" font-size="4.6" fill="#333">0</text>
<text x="591" y="646.7" font-size="4.6" text-anchor="middle" fill="#333" transform="rotate(-90 591 645)">Pseudotime</text>
<path d="M671.6 480.4H644.5 M671.6 480.4V506" fill="none" stroke="#222" stroke-width="0.6"/>
<path d="M646.2 478.8L643 480.4L646.2 482Z M670 504.5L671.6 507.8L673.2 504.5Z" fill="#222"/>
<text x="660.8" y="477.1" font-size="5.4" text-anchor="middle">UMAP_1</text>
<text x="677.6" y="495.1" font-size="5.4" text-anchor="middle" transform="rotate(90 677.6 493.2)">UMAP_2</text>
<text x="2.1" y="729.8" font-size="14.2">i</text>
<text x="3.2" y="836" font-size="7.8" text-anchor="middle" stroke="#222" stroke-width="0.22" transform="rotate(-90 3.2 833.2)">Expression score</text>
<rect x="20.1" y="733.5" width="88.3" height="94.5" fill="none" stroke="#c8c8c8" stroke-width="0.6"/>
<rect x="20.1" y="823.5" width="88.3" height="4.5" fill="url(#virh)"/>
<text x="63.9" y="731.5" font-size="8" text-anchor="middle" stroke="#222" stroke-width="0.22">High Affinity</text>
<text x="17.8" y="763.5" font-size="7" text-anchor="end" fill="#444" stroke="#444" stroke-width="0.22">0</text>
<text x="17.8" y="793.9" font-size="7" text-anchor="end" fill="#444" stroke="#444" stroke-width="0.22">−1</text>
<text x="17.8" y="825.8" font-size="7" text-anchor="end" fill="#444" stroke="#444" stroke-width="0.22">−2</text>
<path d="M24.1 747.7 L25.5 745.3 L27 743 L28.8 741.1 L30.9 739.6 L33.4 738.7 L36.1 738.2 L38.9 738.1 L41.7 738.4 L44.4 739 L46.9 739.8 L49.4 740.8 L51.8 742 L54.1 743.3 L56.4 744.8 L58.6 746.3 L60.8 747.9 L62.9 749.6 L64.9 751.4 L66.9 753.2 L68.9 755 L70.8 756.8 L72.8 758.6 L74.9 760.4 L76.9 762.1 L79.1 763.6 L81.3 765.1 L83.6 766.5 L85.9 767.8 L88.4 769.1 L90.9 770.2 L93.5 771 L96.1 771.5 L98.7 771.4 L101.4 771 L104.1 770.3" fill="none" stroke="#2f5a48" stroke-width="0.9"/>
<path d="M24.1 768.9 L26.5 768.9 L29 769 L31.5 769 L34 768.9 L36.5 768.9 L39 768.8 L41.5 768.6 L44 768.4 L46.4 768.1 L48.9 767.8 L51.4 767.4 L53.8 767 L56.3 766.6 L58.7 766.1 L61.1 765.5 L63.6 765 L66 764.5 L68.5 764 L70.9 763.5 L73.3 762.9 L75.7 762.2 L78.1 761.5 L80.4 760.5 L82.7 759.5 L84.9 758.3 L87 757.1 L89.1 755.7 L91.2 754.3 L93.2 752.8 L95.1 751.3 L97 749.7 L98.8 748 L100.6 746.2 L102.3 744.4 L104.1 742.6" fill="none" stroke="#3f7a9a" stroke-width="0.9"/>
<path d="M24.1 767.3 L26.3 767.6 L28.6 767.9 L30.9 768.2 L33.2 768.4 L35.6 768.5 L37.9 768.5 L40.2 768.5 L42.5 768.3 L44.8 768.1 L47.1 767.9 L49.4 767.6 L51.7 767.3 L54 767 L56.3 766.7 L58.5 766.4 L60.8 766 L63.1 765.7 L65.4 765.3 L67.6 764.9 L69.9 764.4 L72.2 764 L74.4 763.5 L76.7 763 L79 762.6 L81.2 762.1 L83.5 761.7 L85.8 761.3 L88.1 760.9 L90.3 760.6 L92.6 760.2 L94.9 759.9 L97.2 759.6 L99.5 759.2 L101.8 758.9 L104.1 758.6 L104.1 760.2 L101.8 760.5 L99.5 760.8 L97.2 761.2 L94.9 761.5 L92.6 761.8 L90.3 762.2 L88.1 762.5 L85.8 762.9 L83.5 763.3 L81.2 763.7 L79 764.2 L76.7 764.6 L74.4 765.1 L72.2 765.6 L69.9 766 L67.6 766.5 L65.4 766.9 L63.1 767.3 L60.8 767.6 L58.5 768 L56.3 768.3 L54 768.6 L51.7 768.9 L49.4 769.2 L47.1 769.5 L44.8 769.7 L42.5 769.9 L40.2 770.1 L37.9 770.1 L35.6 770.1 L33.2 770 L30.9 769.8 L28.6 769.5 L26.3 769.2 L24.1 768.9Z" fill="#c8c8c8" opacity="0.75"/>
<path d="M24.1 768.1 L26.3 768.4 L28.6 768.7 L30.9 769 L33.2 769.2 L35.6 769.3 L37.9 769.3 L40.2 769.3 L42.5 769.1 L44.8 768.9 L47.1 768.7 L49.4 768.4 L51.7 768.1 L54 767.8 L56.3 767.5 L58.5 767.2 L60.8 766.8 L63.1 766.5 L65.4 766.1 L67.6 765.7 L69.9 765.2 L72.2 764.8 L74.4 764.3 L76.7 763.8 L79 763.4 L81.2 762.9 L83.5 762.5 L85.8 762.1 L88.1 761.7 L90.3 761.4 L92.6 761 L94.9 760.7 L97.2 760.4 L99.5 760 L101.8 759.7 L104.1 759.4" fill="none" stroke="#6a4c98" stroke-width="0.9"/>
<path d="M24.1 767.1 L27.3 768.2 L30.6 769 L34.1 769.3 L37.5 768.9 L40.8 767.9 L43.9 766.4 L46.8 764.5 L49.5 762.4 L52.4 760.5 L55.4 758.7 L58.5 757.2 L61.6 755.9 L64.9 754.8 L68.2 754 L71.7 753.5 L75.1 753.7 L78.4 754.5 L81.4 756.2 L84.1 758.4 L86.4 760.9 L88.3 763.8 L89.9 766.5 L91.4 769.4 L92.7 772.3 L94 775.3 L95.2 778.2 L96.4 781.2 L97.6 784.2 L98.7 786.6 L99.8 789.1 L100.8 791.6 L101.7 794.1 L102.5 796.6 L103.3 799.2 L104.1 801.8 L104.1 817.8 L103.3 813.6 L102.5 809.5 L101.7 805.4 L100.8 801.3 L99.8 797.2 L98.7 793.2 L97.6 789.2 L96.4 785.7 L95.2 782.3 L94 778.8 L92.7 775.4 L91.4 772 L89.9 768.6 L88.3 765.4 L86.4 762.5 L84.1 759.9 L81.4 757.6 L78.4 756 L75.1 755 L71.7 754.8 L68.2 755.2 L64.9 756 L61.6 757.1 L58.5 758.4 L55.4 759.8 L52.4 761.5 L49.5 763.4 L46.8 765.4 L43.9 767.3 L40.8 768.8 L37.5 769.7 L34.1 770 L30.6 769.7 L27.3 768.8 L24.1 767.7Z" fill="#c8c8c8" opacity="0.75"/>
<path d="M24.1 767.4 L27.3 768.5 L30.6 769.4 L34.1 769.7 L37.5 769.3 L40.8 768.3 L43.9 766.8 L46.8 764.9 L49.5 762.9 L52.4 761 L55.4 759.3 L58.5 757.8 L61.6 756.5 L64.9 755.4 L68.2 754.6 L71.7 754.2 L75.1 754.3 L78.4 755.2 L81.4 756.9 L84.1 759.1 L86.4 761.7 L88.3 764.6 L89.9 767.6 L91.4 770.7 L92.7 773.8 L94 777 L95.2 780.3 L96.4 783.5 L97.6 786.7 L98.7 789.9 L99.8 793.2 L100.8 796.4 L101.7 799.7 L102.5 803.1 L103.3 806.4 L104.1 809.8" fill="none" stroke="#b84a50" stroke-width="0.9"/>
<rect x="125.5" y="733.5" width="87.9" height="94.5" fill="none" stroke="#c8c8c8" stroke-width="0.6"/>
<rect x="125.5" y="823.5" width="87.9" height="4.5" fill="url(#virh)"/>
<text x="167.4" y="731.3" font-size="8" text-anchor="middle" stroke="#222" stroke-width="0.22">Low_affinity</text>
<text x="122.6" y="748" font-size="7" text-anchor="end" fill="#444" stroke="#444" stroke-width="0.22">3</text>
<text x="122.6" y="767" font-size="7" text-anchor="end" fill="#444" stroke="#444" stroke-width="0.22">2</text>
<text x="122.6" y="786" font-size="7" text-anchor="end" fill="#444" stroke="#444" stroke-width="0.22">1</text>
<text x="122.6" y="805.7" font-size="7" text-anchor="end" fill="#444" stroke="#444" stroke-width="0.22">0</text>
<text x="122.6" y="824.7" font-size="7" text-anchor="end" fill="#444" stroke="#444" stroke-width="0.22">−1</text>
<path d="M129.1 789.3 L130.9 791 L132.8 792.6 L134.7 794.1 L136.7 795.6 L138.7 797 L140.9 798.3 L143.1 799.4 L145.3 800.5 L147.6 801.4 L149.9 802.2 L152.3 802.9 L154.7 803.5 L157.1 804 L159.6 804.5 L162 804.9 L164.5 805.3 L166.9 805.6 L169.4 805.9 L171.8 806.2 L174.3 806.5 L176.7 806.8 L179.2 807.1 L181.6 807.5 L184.1 808 L186.5 808.5 L188.9 809.1 L191.3 809.8 L193.6 810.5 L196 811.4 L198.2 812.3 L200.5 813.3 L202.7 814.4 L205 815.5 L207.2 816.6 L209.3 817.8" fill="none" stroke="#2f5a48" stroke-width="0.9"/>
<path d="M129.1 810.5 L131.4 810.5 L133.7 810.6 L136.1 810.7 L138.4 810.8 L140.7 810.9 L143.1 811 L145.4 811.1 L147.7 811.3 L150.1 811.5 L152.4 811.6 L154.7 811.8 L157.1 812 L159.4 812.1 L161.7 812.3 L164.1 812.4 L166.4 812.4 L168.7 812.5 L171.1 812.5 L173.4 812.4 L175.7 812.3 L178.1 812.1 L180.4 811.9 L182.7 811.7 L185 811.3 L187.4 810.9 L189.6 810.5 L191.9 809.9 L194.2 809.3 L196.4 808.6 L198.6 807.8 L200.8 807 L203 806.1 L205.1 805.2 L207.2 804.2 L209.3 803.2" fill="none" stroke="#6a4c98" stroke-width="0.9"/>
<path d="M129.1 784.9 L131.1 783.5 L133.3 782.3 L135.6 781.4 L138 780.8 L140.4 780.6 L143 780.5 L145.5 780.7 L147.9 781 L150.4 781.5 L152.8 782.1 L155.1 782.8 L157.5 783.6 L159.8 784.6 L162 785.6 L164.3 786.6 L166.5 787.7 L168.7 788.8 L170.9 789.9 L173.1 791.1 L175.3 792.2 L177.6 793.3 L179.8 794.4 L182 795.5 L184.2 796.6 L186.4 797.7 L188.6 798.8 L190.8 800 L193 801.2 L195.2 802.2 L197.5 803.2 L199.8 804.1 L202.2 804.9 L204.5 805.6 L206.9 806.2 L209.3 806.8" fill="none" stroke="#3f7a9a" stroke-width="0.9"/>
<path d="M129.1 784.6 L132.3 782.6 L135.8 781 L139.6 780.4 L143.2 781.4 L146.6 783.3 L149.7 785.6 L152.6 788 L155.4 790.6 L158.1 793.2 L160.7 796 L163.4 798.8 L166.1 801.5 L169.1 803.9 L172.5 805.4 L176.2 806.3 L180.2 806.5 L183.9 805.8 L187.1 803.8 L189.7 800.9 L192 797.7 L193.9 794.4 L195.6 791 L197.1 787.5 L198.6 784 L200 780.4 L201.3 776.8 L202.5 773.2 L203.6 769.5 L204.6 765.6 L205.5 761.6 L206.4 757.6 L207.2 753.6 L207.9 749.6 L208.6 745.6 L209.3 741.6 L209.3 746.6 L208.6 750 L207.9 753.5 L207.2 757 L206.4 760.4 L205.5 763.9 L204.6 767.3 L203.6 770.7 L202.5 774.4 L201.3 778 L200 781.6 L198.6 785.1 L197.1 788.6 L195.6 792.1 L193.9 795.5 L192 798.8 L189.7 801.9 L187.1 804.8 L183.9 806.7 L180.2 807.4 L176.2 807.2 L172.5 806.3 L169.1 804.7 L166.1 802.4 L163.4 799.6 L160.7 796.8 L158.1 794 L155.4 791.4 L152.6 788.8 L149.7 786.3 L146.6 784 L143.2 782.1 L139.6 781.1 L135.8 781.6 L132.3 783.2 L129.1 785.2Z" fill="#c8c8c8" opacity="0.75"/>
<path d="M129.1 784.9 L132.3 782.9 L135.8 781.3 L139.6 780.8 L143.2 781.7 L146.6 783.7 L149.7 786 L152.6 788.4 L155.4 791 L158.1 793.6 L160.7 796.4 L163.4 799.2 L166.1 802 L169.1 804.3 L172.5 805.9 L176.2 806.7 L180.2 807 L183.9 806.2 L187.1 804.3 L189.7 801.4 L192 798.2 L193.9 794.9 L195.6 791.5 L197.1 788.1 L198.6 784.6 L200 781 L201.3 777.4 L202.5 773.8 L203.6 770.1 L204.6 766.4 L205.5 762.7 L206.4 759 L207.2 755.3 L207.9 751.6 L208.6 747.8 L209.3 744.1" fill="none" stroke="#b84a50" stroke-width="0.9"/>
<rect x="230" y="733.5" width="88.6" height="94.5" fill="none" stroke="#c8c8c8" stroke-width="0.6"/>
<rect x="230" y="823.5" width="88.6" height="4.5" fill="url(#virh)"/>
<text x="278.2" y="731.3" font-size="8" text-anchor="middle" stroke="#222" stroke-width="0.22">Activated</text>
<text x="227.6" y="748" font-size="7" text-anchor="end" fill="#444" stroke="#444" stroke-width="0.22">3</text>
<text x="227.6" y="767.3" font-size="7" text-anchor="end" fill="#444" stroke="#444" stroke-width="0.22">2</text>
<text x="227.6" y="786.7" font-size="7" text-anchor="end" fill="#444" stroke="#444" stroke-width="0.22">1</text>
<text x="227.6" y="806.1" font-size="7" text-anchor="end" fill="#444" stroke="#444" stroke-width="0.22">0</text>
<path d="M234.4 809.8 L236.4 811.2 L238.4 812.5 L240.5 813.8 L242.6 815 L244.8 816.1 L247 817 L249.4 817.7 L251.7 818.2 L254.2 818.5 L256.6 818.6 L259 818.5 L261.4 818.2 L263.8 817.7 L266.2 817.1 L268.5 816.4 L270.8 815.6 L273.1 814.8 L275.4 814 L277.7 813.1 L279.9 812.2 L282.1 811.2 L284.3 810.1 L286.6 809.1 L288.8 808.2 L291.1 807.4 L293.4 806.8 L295.7 806.2 L298.1 805.8 L300.6 805.4 L303 805.1 L305.5 804.9 L307.9 805.1 L310.3 805.6 L312.5 806.5 L314.7 807.6" fill="none" stroke="#2f5a48" stroke-width="0.9"/>
<path d="M234.4 799.5 L236.6 800.3 L238.9 801 L241.1 801.7 L243.4 802.3 L245.7 802.9 L248 803.4 L250.3 803.8 L252.6 804.2 L255 804.6 L257.3 804.9 L259.6 805.2 L262 805.5 L264.3 805.8 L266.6 806.1 L269 806.4 L271.3 806.6 L273.6 806.9 L276 807.2 L278.3 807.4 L280.7 807.7 L283 808 L285.3 808.2 L287.7 808.5 L290 808.7 L292.4 809.1 L294.7 809.5 L297 810 L299.3 810.6 L301.5 811.2 L303.8 811.9 L306 812.7 L308.2 813.6 L310.4 814.5 L312.5 815.4 L314.7 816.3" fill="none" stroke="#6a4c98" stroke-width="0.9"/>
<path d="M234.4 798.1 L236 796 L237.6 794 L239.4 792.2 L241.3 790.5 L243.4 789.1 L245.7 787.9 L248.1 786.9 L250.6 786.1 L253.1 785.5 L255.6 785 L258.2 784.7 L260.7 784.7 L263.3 784.9 L265.8 785.3 L268.4 785.9 L270.8 786.6 L273.2 787.5 L275.6 788.4 L277.9 789.5 L280.2 790.7 L282.5 791.9 L284.7 793.2 L286.9 794.5 L289.1 795.8 L291.4 797 L293.7 798.2 L296 799.3 L298.3 800.4 L300.6 801.6 L302.8 802.8 L305.1 804 L307.4 805.1 L309.8 806 L312.2 806.8 L314.7 807.6" fill="none" stroke="#3f7a9a" stroke-width="0.9"/>
<path d="M234.4 797.8 L236.6 794.6 L239.1 791.5 L242.1 788.8 L245.7 786.8 L249.5 786 L253.2 786.8 L256.8 788.8 L260 791.1 L263 793.6 L265.8 796.2 L268.7 798.9 L271.7 801.4 L274.9 803.7 L278.3 805.6 L282 806.8 L286 807.3 L289.9 806.6 L293.2 804.6 L295.8 801.5 L297.9 798.1 L299.7 794.6 L301.3 791.1 L302.8 787.5 L304.2 783.8 L305.4 780.1 L306.6 776.3 L307.7 772.5 L308.8 768.8 L309.8 764.7 L310.8 760.6 L311.7 756.6 L312.5 752.5 L313.3 748.3 L314 744.2 L314.7 740.1 L314.7 745.1 L314 748.7 L313.3 752.3 L312.5 755.8 L311.7 759.4 L310.8 762.9 L309.8 766.4 L308.8 770 L307.7 773.7 L306.6 777.5 L305.4 781.2 L304.2 784.9 L302.8 788.6 L301.3 792.2 L299.7 795.7 L297.9 799.1 L295.8 802.5 L293.2 805.6 L289.9 807.6 L286 808.3 L282 807.8 L278.3 806.5 L274.9 804.6 L271.7 802.3 L268.7 799.7 L265.8 797 L263 794.4 L260 791.9 L256.8 789.5 L253.2 787.6 L249.5 786.7 L245.7 787.5 L242.1 789.5 L239.1 792.2 L236.6 795.2 L234.4 798.4Z" fill="#c8c8c8" opacity="0.75"/>
<path d="M234.4 798.1 L236.6 794.9 L239.1 791.8 L242.1 789.2 L245.7 787.2 L249.5 786.4 L253.2 787.2 L256.8 789.1 L260 791.5 L263 794 L265.8 796.6 L268.7 799.3 L271.7 801.8 L274.9 804.1 L278.3 806 L282 807.3 L286 807.8 L289.9 807.1 L293.2 805.1 L295.8 802 L297.9 798.6 L299.7 795.2 L301.3 791.6 L302.8 788 L304.2 784.3 L305.4 780.6 L306.6 776.9 L307.7 773.1 L308.8 769.4 L309.8 765.6 L310.8 761.8 L311.7 758 L312.5 754.1 L313.3 750.3 L314 746.5 L314.7 742.6" fill="none" stroke="#b84a50" stroke-width="0.9"/>
<rect x="20.1" y="843.5" width="88.3" height="94.4" fill="none" stroke="#c8c8c8" stroke-width="0.6"/>
<rect x="20.1" y="933.4" width="88.3" height="4.5" fill="url(#virh)"/>
<text x="63" y="841.1" font-size="8" text-anchor="middle" stroke="#222" stroke-width="0.22">BCSR</text>
<text x="17.8" y="849.9" font-size="7" text-anchor="end" fill="#444" stroke="#444" stroke-width="0.22">1</text>
<text x="17.8" y="879.1" font-size="7" text-anchor="end" fill="#444" stroke="#444" stroke-width="0.22">0</text>
<text x="17.8" y="907.6" font-size="7" text-anchor="end" fill="#444" stroke="#444" stroke-width="0.22">−1</text>
<path d="M24.1 848.9 L26.8 848.7 L29.5 848.9 L32.1 849.5 L34.6 850.6 L37 852 L39.3 853.6 L41.5 855.3 L43.7 856.9 L45.8 858.6 L47.9 860.3 L50 862.1 L52 863.9 L54 865.8 L56 867.6 L57.9 869.5 L59.9 871.4 L62 873.2 L64 875 L66.2 876.7 L68.3 878.4 L70.6 879.9 L72.9 881.4 L75.2 882.7 L77.7 883.9 L80.2 885 L82.8 885.9 L85.5 886.5 L88.2 886.9 L90.9 886.8 L93.6 886.2 L96.1 885.2 L98.5 883.7 L100.6 882 L102.5 880.1 L104.3 878.1" fill="none" stroke="#2f5a48" stroke-width="0.9"/>
<path d="M24.1 876.6 L26.3 877.4 L28.6 878.1 L30.9 878.8 L33.2 879.2 L35.5 879.3 L37.8 879.3 L40.2 879.2 L42.5 878.9 L44.9 878.7 L47.2 878.5 L49.6 878.2 L51.9 877.9 L54.2 877.5 L56.5 877.2 L58.8 876.7 L61.1 876.2 L63.4 875.7 L65.7 875.1 L68 874.5 L70.2 873.9 L72.5 873.3 L74.8 872.7 L77.1 872.1 L79.3 871.6 L81.6 871 L83.9 870.5 L86.2 869.9 L88.5 869.3 L90.7 868.6 L93 867.9 L95.3 867.1 L97.5 866.4 L99.8 865.7 L102.1 864.9 L104.3 864.2 L104.3 867.2 L102.1 867.7 L99.8 868.1 L97.5 868.6 L95.3 869.1 L93 869.6 L90.7 870.1 L88.5 870.5 L86.2 871.1 L83.9 871.7 L81.6 872.2 L79.3 872.8 L77.1 873.3 L74.8 873.9 L72.5 874.5 L70.2 875.1 L68 875.7 L65.7 876.3 L63.4 876.9 L61.1 877.4 L58.8 877.9 L56.5 878.4 L54.2 878.7 L51.9 879.1 L49.6 879.4 L47.2 879.8 L44.9 880.2 L42.5 880.6 L40.2 881 L37.8 881.3 L35.5 881.5 L33.2 881.5 L30.9 881.2 L28.6 880.8 L26.3 880.2 L24.1 879.6Z" fill="#c8c8c8" opacity="0.75"/>
<path d="M24.1 878.1 L26.3 878.8 L28.6 879.5 L30.9 880 L33.2 880.3 L35.5 880.4 L37.8 880.3 L40.2 880.1 L42.5 879.8 L44.9 879.4 L47.2 879.1 L49.6 878.8 L51.9 878.5 L54.2 878.1 L56.5 877.8 L58.8 877.3 L61.1 876.8 L63.4 876.3 L65.7 875.7 L68 875.1 L70.2 874.5 L72.5 873.9 L74.8 873.3 L77.1 872.7 L79.3 872.2 L81.6 871.6 L83.9 871.1 L86.2 870.5 L88.5 869.9 L90.7 869.3 L93 868.7 L95.3 868.1 L97.5 867.5 L99.8 866.9 L102.1 866.3 L104.3 865.7" fill="none" stroke="#3f7a9a" stroke-width="0.9"/>
<path d="M24.1 880.7 L26.3 880.8 L28.6 880.8 L30.9 880.9 L33.2 880.9 L35.5 881 L37.8 881 L40.1 881 L42.4 881 L44.7 881 L47 880.9 L49.3 880.8 L51.6 880.7 L53.9 880.5 L56.2 880.3 L58.5 880.1 L60.8 879.9 L63.1 879.6 L65.4 879.3 L67.6 879.1 L69.9 878.8 L72.2 878.6 L74.5 878.3 L76.8 878.1 L79.1 877.9 L81.4 877.8 L83.7 877.6 L86 877.5 L88.3 877.4 L90.6 877.4 L92.8 877.4 L95.1 877.3 L97.4 877.3 L99.7 877.3 L102 877.3 L104.3 877.4 L104.3 879.4 L102 879.3 L99.7 879.3 L97.4 879.3 L95.1 879.3 L92.8 879.4 L90.6 879.4 L88.3 879.4 L86 879.5 L83.7 879.6 L81.4 879.8 L79.1 879.9 L76.8 880.1 L74.5 880.3 L72.2 880.6 L69.9 880.8 L67.6 881.1 L65.4 881.3 L63.1 881.6 L60.8 881.9 L58.5 882.1 L56.2 882.3 L53.9 882.5 L51.6 882.7 L49.3 882.8 L47 882.9 L44.7 883 L42.4 883 L40.1 883 L37.8 883 L35.5 883 L33.2 882.9 L30.9 882.9 L28.6 882.8 L26.3 882.8 L24.1 882.7Z" fill="#c8c8c8" opacity="0.75"/>
<path d="M24.1 881.7 L26.3 881.8 L28.6 881.8 L30.9 881.9 L33.2 881.9 L35.5 882 L37.8 882 L40.1 882 L42.4 882 L44.7 882 L47 881.9 L49.3 881.8 L51.6 881.7 L53.9 881.5 L56.2 881.3 L58.5 881.1 L60.8 880.9 L63.1 880.6 L65.4 880.3 L67.6 880.1 L69.9 879.8 L72.2 879.6 L74.5 879.3 L76.8 879.1 L79.1 878.9 L81.4 878.8 L83.7 878.6 L86 878.5 L88.3 878.4 L90.6 878.4 L92.8 878.4 L95.1 878.3 L97.4 878.3 L99.7 878.3 L102 878.3 L104.3 878.4" fill="none" stroke="#6a4c98" stroke-width="0.9"/>
<path d="M24.1 879 L27 879.4 L30 879.7 L33 879.7 L35.9 879.5 L38.8 878.9 L41.7 878.1 L44.6 877.3 L47.5 876.5 L50.3 875.7 L53.2 875 L56.1 874.3 L59.1 873.7 L62 873.2 L65 872.9 L67.9 872.8 L70.9 873.1 L73.8 873.6 L76.7 874.3 L79.5 875.4 L82.2 876.8 L84.5 878.6 L86.5 880.2 L88.2 882.1 L89.9 884 L91.4 886 L92.9 888 L94.3 890.1 L95.7 892.1 L97.1 893.7 L98.4 895.4 L99.7 897.1 L101 898.8 L102.1 900.5 L103.2 902.3 L104.3 904 L104.3 928 L103.2 924.3 L102.1 920.5 L101 916.8 L99.7 913.1 L98.4 909.4 L97.1 905.7 L95.7 902.1 L94.3 898.9 L92.9 895.8 L91.4 892.6 L89.9 889.5 L88.2 886.3 L86.5 883.3 L84.5 880.6 L82.2 878.7 L79.5 877.3 L76.7 876.2 L73.8 875.4 L70.9 874.8 L67.9 874.6 L65 874.6 L62 874.8 L59.1 875.3 L56.1 875.9 L53.2 876.5 L50.3 877.2 L47.5 877.9 L44.6 878.6 L41.7 879.4 L38.8 880.1 L35.9 880.6 L33 880.9 L30 880.8 L27 880.5 L24.1 880Z" fill="#c8c8c8" opacity="0.75"/>
<path d="M24.1 879.5 L27 879.9 L30 880.2 L33 880.3 L35.9 880 L38.8 879.5 L41.7 878.8 L44.6 878 L47.5 877.2 L50.3 876.4 L53.2 875.7 L56.1 875.1 L59.1 874.5 L62 874 L65 873.7 L67.9 873.7 L70.9 873.9 L73.8 874.5 L76.7 875.3 L79.5 876.4 L82.2 877.8 L84.5 879.6 L86.5 881.8 L88.2 884.2 L89.9 886.8 L91.4 889.3 L92.9 891.9 L94.3 894.5 L95.7 897.1 L97.1 899.7 L98.4 902.4 L99.7 905.1 L101 907.8 L102.1 910.5 L103.2 913.3 L104.3 916" fill="none" stroke="#b84a50" stroke-width="0.9"/>
<rect x="125.5" y="843.5" width="87.9" height="94.4" fill="none" stroke="#c8c8c8" stroke-width="0.6"/>
<rect x="125.5" y="933.4" width="87.9" height="4.5" fill="url(#virh)"/>
<text x="169.4" y="841.5" font-size="8" text-anchor="middle" stroke="#222" stroke-width="0.22">CSR</text>
<text x="122.6" y="847.7" font-size="7" text-anchor="end" fill="#444" stroke="#444" stroke-width="0.22">2</text>
<text x="122.6" y="874" font-size="7" text-anchor="end" fill="#444" stroke="#444" stroke-width="0.22">1</text>
<text x="122.6" y="901" font-size="7" text-anchor="end" fill="#444" stroke="#444" stroke-width="0.22">0</text>
<text x="122.6" y="928" font-size="7" text-anchor="end" fill="#444" stroke="#444" stroke-width="0.22">−1</text>
<path d="M129.1 848.6 L130.2 851.6 L131.3 854.7 L132.5 857.8 L133.6 860.8 L134.8 863.9 L136 866.9 L137.3 870 L138.5 873 L139.8 876 L141.2 879 L142.7 881.9 L144.3 884.8 L146 887.6 L147.8 890.3 L149.9 892.8 L152.2 895.2 L154.7 897.4 L157.4 899.3 L160.3 900.8 L163.4 901.7 L166.7 902.2 L170 902.4 L173.3 902.4 L176.5 902.3 L179.8 902.1 L183.1 901.9 L186.4 901.8 L189.7 901.9 L192.9 902.1 L196.1 902.6 L199.3 903.3 L202.4 904.3 L205.3 905.7 L207.5 907.8 L209.3 910.4 L209.3 914.4 L207.5 911.4 L205.3 908.9 L202.4 907 L199.3 905.6 L196.1 904.5 L192.9 903.6 L189.7 902.9 L186.4 902.8 L183.1 902.8 L179.8 903 L176.5 903.2 L173.3 903.3 L170 903.3 L166.7 903.1 L163.4 902.6 L160.3 901.6 L157.4 900.2 L154.7 898.2 L152.2 896 L149.9 893.6 L147.8 891.1 L146 888.3 L144.3 885.5 L142.7 882.7 L141.2 879.7 L139.8 876.7 L138.5 873.7 L137.3 870.7 L136 867.6 L134.8 864.6 L133.6 861.5 L132.5 858.4 L131.3 855.3 L130.2 852.3 L129.1 849.2Z" fill="#c8c8c8" opacity="0.75"/>
<path d="M129.1 848.9 L130.2 851.9 L131.3 855 L132.5 858.1 L133.6 861.2 L134.8 864.2 L136 867.3 L137.3 870.3 L138.5 873.4 L139.8 876.4 L141.2 879.3 L142.7 882.3 L144.3 885.2 L146 888 L147.8 890.7 L149.9 893.2 L152.2 895.6 L154.7 897.8 L157.4 899.7 L160.3 901.2 L163.4 902.2 L166.7 902.7 L170 902.9 L173.3 902.9 L176.5 902.7 L179.8 902.5 L183.1 902.4 L186.4 902.3 L189.7 902.4 L192.9 902.8 L196.1 903.6 L199.3 904.5 L202.4 905.7 L205.3 907.3 L207.5 909.6 L209.3 912.4" fill="none" stroke="#2f5a48" stroke-width="0.9"/>
<path d="M129.1 907.2 L131.1 906 L133.2 904.8 L135.3 903.6 L137.4 902.4 L139.5 901.2 L141.5 900 L143.7 898.8 L145.8 897.7 L147.9 896.6 L150.1 895.6 L152.4 894.7 L154.6 893.9 L156.9 893.2 L159.2 892.4 L161.6 891.7 L163.9 891 L166.2 890.3 L168.5 889.6 L170.8 888.8 L173.2 888.1 L175.5 887.4 L177.9 886.8 L180.3 886.2 L182.7 885.7 L185.1 885.3 L187.5 884.9 L189.9 884.6 L192.3 884.4 L194.8 884.2 L197.2 884.1 L199.6 884 L202 883.9 L204.5 883.9 L206.9 883.9 L209.3 883.9 L209.3 886.9 L206.9 886.8 L204.5 886.7 L202 886.6 L199.6 886.6 L197.2 886.6 L194.8 886.6 L192.3 886.7 L189.9 886.8 L187.5 887 L185.1 887.2 L182.7 887.6 L180.3 888 L177.9 888.5 L175.5 889 L173.2 889.6 L170.8 890.2 L168.5 890.8 L166.2 891.6 L163.9 892.4 L161.6 893.2 L159.2 894 L156.9 894.8 L154.6 895.7 L152.4 896.6 L150.1 897.6 L147.9 898.7 L145.8 899.9 L143.7 901.1 L141.5 902.4 L139.5 903.7 L137.4 905 L135.3 906.3 L133.2 907.6 L131.1 908.9 L129.1 910.2Z" fill="#c8c8c8" opacity="0.75"/>
<path d="M129.1 908.7 L131.1 907.5 L133.2 906.2 L135.3 905 L137.4 903.7 L139.5 902.4 L141.5 901.2 L143.7 899.9 L145.8 898.8 L147.9 897.6 L150.1 896.6 L152.4 895.7 L154.6 894.8 L156.9 894 L159.2 893.2 L161.6 892.4 L163.9 891.7 L166.2 890.9 L168.5 890.2 L170.8 889.5 L173.2 888.8 L175.5 888.2 L177.9 887.6 L180.3 887.1 L182.7 886.6 L185.1 886.3 L187.5 886 L189.9 885.7 L192.3 885.5 L194.8 885.4 L197.2 885.3 L199.6 885.3 L202 885.3 L204.5 885.3 L206.9 885.3 L209.3 885.4" fill="none" stroke="#3f7a9a" stroke-width="0.9"/>
<path d="M129.1 917 L131.2 916.2 L133.4 915.4 L135.6 914.6 L137.8 913.9 L140 913.2 L142.2 912.6 L144.5 912.1 L146.8 911.7 L149 911.2 L151.3 910.9 L153.6 910.5 L155.9 910.2 L158.2 909.8 L160.5 909.6 L162.9 909.3 L165.2 909.1 L167.5 909 L169.8 908.9 L172.1 908.8 L174.5 908.8 L176.8 908.8 L179.1 908.7 L181.4 908.7 L183.8 908.6 L186.1 908.5 L188.4 908.4 L190.7 908.3 L193.1 908.2 L195.4 908.1 L197.7 908 L200 907.9 L202.4 907.8 L204.7 907.7 L207 907.6 L209.3 907.5 L209.3 911.5 L207 911.4 L204.7 911.3 L202.4 911.2 L200 911.1 L197.7 911 L195.4 910.9 L193.1 910.8 L190.7 910.7 L188.4 910.6 L186.1 910.5 L183.8 910.4 L181.4 910.3 L179.1 910.1 L176.8 910 L174.5 910.1 L172.1 910.2 L169.8 910.3 L167.5 910.4 L165.2 910.6 L162.9 910.9 L160.5 911.2 L158.2 911.5 L155.9 911.9 L153.6 912.3 L151.3 912.7 L149 913.1 L146.8 913.6 L144.5 914.1 L142.2 914.7 L140 915.3 L137.8 916 L135.6 916.8 L133.4 917.6 L131.2 918.5 L129.1 919.4Z" fill="#c8c8c8" opacity="0.75"/>
<path d="M129.1 918.2 L131.2 917.4 L133.4 916.5 L135.6 915.7 L137.8 914.9 L140 914.3 L142.2 913.7 L144.5 913.1 L146.8 912.6 L149 912.2 L151.3 911.8 L153.6 911.4 L155.9 911 L158.2 910.7 L160.5 910.4 L162.9 910.1 L165.2 909.9 L167.5 909.7 L169.8 909.6 L172.1 909.5 L174.5 909.5 L176.8 909.4 L179.1 909.4 L181.4 909.5 L183.8 909.5 L186.1 909.5 L188.4 909.5 L190.7 909.5 L193.1 909.5 L195.4 909.5 L197.7 909.5 L200 909.5 L202.4 909.5 L204.7 909.5 L207 909.5 L209.3 909.5" fill="none" stroke="#6a4c98" stroke-width="0.9"/>
<path d="M129.1 907.5 L131.3 906.2 L133.5 905 L135.7 903.9 L138 902.8 L140.3 901.9 L142.7 901 L145.1 900.3 L147.6 899.6 L150 899.1 L152.5 898.6 L155 898.3 L157.5 897.9 L160 897.6 L162.5 897.4 L165 897.2 L167.6 897.1 L170.1 897.2 L172.6 897.4 L175 897.9 L177.5 898.4 L179.9 899 L182.4 899.3 L184.8 899.6 L187.1 900 L189.5 900.5 L191.7 901.2 L194 901.9 L196.2 902.7 L198.3 903.3 L200.4 904 L202.4 904.8 L204.3 905.8 L206 906.8 L207.7 908 L209.3 909.2 L209.3 927.2 L207.7 924.6 L206 922 L204.3 919.5 L202.4 917.1 L200.4 914.8 L198.3 912.7 L196.2 910.7 L194 909 L191.7 907.4 L189.5 906 L187.1 904.6 L184.8 903.3 L182.4 902.1 L179.9 901 L177.5 900.3 L175 899.8 L172.6 899.3 L170.1 899 L167.6 898.9 L165 898.9 L162.5 899 L160 899.3 L157.5 899.5 L155 899.8 L152.5 900.1 L150 900.5 L147.6 901 L145.1 901.6 L142.7 902.3 L140.3 903.1 L138 904 L135.7 905 L133.5 906.1 L131.3 907.3 L129.1 908.5Z" fill="#c8c8c8" opacity="0.75"/>
<path d="M129.1 908 L131.3 906.8 L133.5 905.6 L135.7 904.4 L138 903.4 L140.3 902.5 L142.7 901.6 L145.1 900.9 L147.6 900.3 L150 899.8 L152.5 899.4 L155 899 L157.5 898.7 L160 898.4 L162.5 898.2 L165 898 L167.6 898 L170.1 898.1 L172.6 898.4 L175 898.8 L177.5 899.4 L179.9 900 L182.4 900.7 L184.8 901.4 L187.1 902.3 L189.5 903.2 L191.7 904.3 L194 905.4 L196.2 906.7 L198.3 908 L200.4 909.4 L202.4 910.9 L204.3 912.6 L206 914.4 L207.7 916.3 L209.3 918.2" fill="none" stroke="#b84a50" stroke-width="0.9"/>
<rect x="230.5" y="843.5" width="88.1" height="94.4" fill="none" stroke="#c8c8c8" stroke-width="0.6"/>
<rect x="230.5" y="933.4" width="88.1" height="4.5" fill="url(#virh)"/>
<text x="278.6" y="841.5" font-size="8" text-anchor="middle" stroke="#222" stroke-width="0.22">Exhaustion</text>
<text x="228.4" y="857.2" font-size="7" text-anchor="end" fill="#444" stroke="#444" stroke-width="0.22">1.0</text>
<text x="228.4" y="877.6" font-size="7" text-anchor="end" fill="#444" stroke="#444" stroke-width="0.22">0.5</text>
<text x="228.4" y="897.4" font-size="7" text-anchor="end" fill="#444" stroke="#444" stroke-width="0.22">0.0</text>
<text x="228.4" y="917.8" font-size="7" text-anchor="end" fill="#444" stroke="#444" stroke-width="0.22">−0.5</text>
<path d="M234.4 910.9 L235.9 913.7 L237.5 916.5 L239.2 919.2 L241 921.8 L243.1 924.3 L245.5 926.4 L248.4 927.8 L251.5 928.4 L254.6 927.9 L257.7 926.7 L260.5 925 L263.1 923.2 L265.6 921.2 L267.9 919 L270.1 916.8 L272.3 914.5 L274.4 912.1 L276.5 909.7 L278.6 907.2 L280.6 904.8 L282.7 902.3 L284.7 899.9 L286.8 897.5 L288.9 895.1 L291.1 892.8 L293.4 890.6 L296 888.6 L298.8 886.9 L301.9 886.1 L304.9 886.8 L307.7 888.6 L309.9 890.9 L311.8 893.6 L313.3 896.4 L314.7 899.2" fill="none" stroke="#2f5a48" stroke-width="0.9"/>
<path d="M234.4 894.3 L236.3 892.7 L238.1 891.1 L240.1 889.6 L242.1 888.3 L244.2 887.3 L246.5 886.5 L248.9 885.9 L251.3 885.6 L253.8 885.3 L256.3 885.1 L258.8 885 L261.3 884.9 L263.8 884.7 L266.2 884.6 L268.7 884.4 L271.1 884.2 L273.6 884 L276.1 883.9 L278.5 883.9 L281 883.9 L283.5 884 L286 884.1 L288.4 884.4 L290.9 884.7 L293.3 885.1 L295.7 885.6 L298.1 886.2 L300.5 886.9 L302.8 887.8 L305.1 888.8 L307.2 890 L309.2 891.3 L311.1 892.9 L312.9 894.6 L314.7 896.3 L314.7 899.3 L312.9 897.5 L311.1 895.8 L309.2 894.1 L307.2 892.7 L305.1 891.5 L302.8 890.4 L300.5 889.5 L298.1 888.7 L295.7 888 L293.3 887.4 L290.9 886.9 L288.4 886.6 L286 886.2 L283.5 886 L281 885.9 L278.5 885.8 L276.1 885.8 L273.6 885.8 L271.1 885.9 L268.7 886 L266.2 886.2 L263.8 886.5 L261.3 886.8 L258.8 887.1 L256.3 887.4 L253.8 887.8 L251.3 888.2 L248.9 888.7 L246.5 889.5 L244.2 890.4 L242.1 891.6 L240.1 893.1 L238.1 894.7 L236.3 896.5 L234.4 898.3Z" fill="#c8c8c8" opacity="0.75"/>
<path d="M234.4 896.3 L236.3 894.6 L238.1 892.9 L240.1 891.4 L242.1 890 L244.2 888.9 L246.5 888 L248.9 887.3 L251.3 886.9 L253.8 886.5 L256.3 886.3 L258.8 886.1 L261.3 885.8 L263.8 885.6 L266.2 885.4 L268.7 885.2 L271.1 885 L273.6 884.9 L276.1 884.8 L278.5 884.8 L281 884.9 L283.5 885 L286 885.2 L288.4 885.5 L290.9 885.8 L293.3 886.3 L295.7 886.8 L298.1 887.5 L300.5 888.2 L302.8 889.1 L305.1 890.1 L307.2 891.3 L309.2 892.7 L311.1 894.3 L312.9 896 L314.7 897.8" fill="none" stroke="#3f7a9a" stroke-width="0.9"/>
<path d="M234.4 890.9 L236.5 890.1 L238.7 889.3 L240.8 888.5 L243 887.9 L245.3 887.5 L247.5 887.1 L249.8 887 L252.1 886.9 L254.5 886.9 L256.8 886.9 L259.1 886.9 L261.5 887 L263.8 887.1 L266.1 887.1 L268.4 887 L270.7 887 L273 886.9 L275.3 886.9 L277.7 886.8 L280 886.8 L282.3 886.7 L284.6 886.7 L286.9 886.6 L289.2 886.6 L291.6 886.6 L293.9 886.5 L296.2 886.5 L298.5 886.5 L300.8 886.5 L303.1 886.5 L305.4 886.5 L307.8 886.6 L310.1 886.6 L312.4 886.7 L314.7 886.8 L314.7 889.8 L312.4 889.7 L310.1 889.5 L307.8 889.4 L305.4 889.3 L303.1 889.2 L300.8 889.2 L298.5 889.1 L296.2 889.1 L293.9 889.1 L291.6 889.1 L289.2 889.1 L286.9 889.1 L284.6 889.1 L282.3 889.1 L280 889.1 L277.7 889.1 L275.3 889.1 L273 889.1 L270.7 889.1 L268.4 889.1 L266.1 889.1 L263.8 889.3 L261.5 889.4 L259.1 889.6 L256.8 889.8 L254.5 889.9 L252.1 890.2 L249.8 890.5 L247.5 890.9 L245.3 891.4 L243 892.1 L240.8 892.9 L238.7 893.8 L236.5 894.8 L234.4 895.9Z" fill="#c8c8c8" opacity="0.75"/>
<path d="M234.4 893.4 L236.5 892.4 L238.7 891.5 L240.8 890.7 L243 890 L245.3 889.4 L247.5 889 L249.8 888.7 L252.1 888.5 L254.5 888.4 L256.8 888.3 L259.1 888.3 L261.5 888.2 L263.8 888.2 L266.1 888.1 L268.4 888.1 L270.7 888 L273 888 L275.3 888 L277.7 887.9 L280 887.9 L282.3 887.9 L284.6 887.9 L286.9 887.9 L289.2 887.8 L291.6 887.8 L293.9 887.8 L296.2 887.8 L298.5 887.8 L300.8 887.8 L303.1 887.9 L305.4 887.9 L307.8 888 L310.1 888.1 L312.4 888.2 L314.7 888.3" fill="none" stroke="#6a4c98" stroke-width="0.9"/>
<path d="M234.4 893.9 L236.4 891.8 L238.5 889.9 L240.7 888.2 L243.2 886.9 L245.8 886 L248.6 885.5 L251.4 885.3 L254.2 885.5 L257 886 L259.7 886.7 L262.4 887.5 L265 888.4 L267.7 889.3 L270.3 890.1 L273 890.9 L275.8 891.6 L278.5 892 L281.3 892.3 L284.1 892.2 L286.9 891.9 L289.6 891.3 L292.3 889.9 L294.9 888.1 L297.3 886.1 L299.5 883.8 L301.6 881.2 L303.5 878.2 L305.2 875 L306.8 871.6 L308.3 868.2 L309.7 864.7 L311 860.7 L312.3 856.2 L313.5 851.7 L314.7 847.2 L314.7 881.2 L313.5 881.7 L312.3 882.2 L311 882.7 L309.7 883.7 L308.3 885.1 L306.8 886.4 L305.2 887.6 L303.5 888.8 L301.6 889.9 L299.5 891.2 L297.3 892.3 L294.9 893.1 L292.3 893.5 L289.6 893.7 L286.9 894.3 L284.1 894.6 L281.3 894.6 L278.5 894.4 L275.8 893.9 L273 893.2 L270.3 892.4 L267.7 891.5 L265 890.6 L262.4 889.7 L259.7 888.9 L257 888.2 L254.2 887.7 L251.4 887.5 L248.6 887.6 L245.8 888.1 L243.2 889 L240.7 890.3 L238.5 892 L236.4 893.8 L234.4 895.9Z" fill="#c8c8c8" opacity="0.75"/>
<path d="M234.4 894.9 L236.4 892.8 L238.5 890.9 L240.7 889.3 L243.2 887.9 L245.8 887 L248.6 886.5 L251.4 886.4 L254.2 886.6 L257 887.1 L259.7 887.8 L262.4 888.6 L265 889.5 L267.7 890.4 L270.3 891.3 L273 892.1 L275.8 892.7 L278.5 893.2 L281.3 893.4 L284.1 893.4 L286.9 893.1 L289.6 892.5 L292.3 891.7 L294.9 890.6 L297.3 889.2 L299.5 887.5 L301.6 885.6 L303.5 883.5 L305.2 881.3 L306.8 879 L308.3 876.6 L309.7 874.2 L311 871.7 L312.3 869.2 L313.5 866.7 L314.7 864.2" fill="none" stroke="#b84a50" stroke-width="0.9"/>
<text x="82.9" y="954.8" font-size="8.3" text-anchor="middle" stroke="#222" stroke-width="0.22">Pseudotime</text>
<rect x="47.9" y="956.7" width="71.7" height="3.9" fill="url(#virh)"/>
<text x="47.9" y="967.9" font-size="7.6" text-anchor="middle" stroke="#222" stroke-width="0.22">0</text>
<text x="119.6" y="967.9" font-size="7.6" text-anchor="middle" stroke="#222" stroke-width="0.22">1</text>
<text x="150.1" y="961.5" font-size="9.2" stroke="#222" stroke-width="0.3">Paths</text>
<line x1="179.9" y1="954.9" x2="194.1" y2="954.9" stroke="#e07080" stroke-width="0.9"/>
<text x="198.5" y="957.6" font-size="7.6" stroke="#222" stroke-width="0.22">FO B --&gt; ABC</text>
<line x1="179.9" y1="964.3" x2="194.1" y2="964.3" stroke="#5a90c8" stroke-width="0.9"/>
<text x="198.5" y="967" font-size="7.6" stroke="#222" stroke-width="0.22">FO B --&gt; Bm</text>
<line x1="254.3" y1="954.9" x2="268.2" y2="954.9" stroke="#70b090" stroke-width="0.9"/>
<text x="270.7" y="957.6" font-size="7.6" stroke="#222" stroke-width="0.22">GC B --&gt; PC</text>
<line x1="254.3" y1="964.3" x2="268.2" y2="964.3" stroke="#9060c0" stroke-width="0.9"/>
<text x="270.7" y="967" font-size="7.6" stroke="#222" stroke-width="0.22">MZ B --&gt; PC</text>
<text x="334.6" y="729.9" font-size="14.2">j</text>
<text x="340.4" y="844.3" font-size="8.7" text-anchor="middle" stroke="#222" stroke-width="0.22" transform="rotate(-90 340.4 841.2)">Expression</text>
<text x="501.9" y="966.7" font-size="8" text-anchor="middle" stroke="#222" stroke-width="0.22">Pseudotime</text>
<rect x="355.2" y="732.5" width="64.5" height="71.3" fill="none" stroke="#c8c8c8" stroke-width="0.6"/>
<rect x="355.2" y="799.3" width="64.5" height="4.5" fill="url(#virh)"/>
<text x="395.5" y="742.2" font-size="7.8" text-anchor="middle" stroke="#222" stroke-width="0.22">BCL6</text>
<text x="353.8" y="739.6" font-size="5.8" text-anchor="end" fill="#444" stroke="#444" stroke-width="0.22">1.2</text>
<text x="353.8" y="756.8" font-size="5.8" text-anchor="end" fill="#444" stroke="#444" stroke-width="0.22">0.8</text>
<text x="353.8" y="774.9" font-size="5.8" text-anchor="end" fill="#444" stroke="#444" stroke-width="0.22">0.4</text>
<text x="353.8" y="792.3" font-size="5.8" text-anchor="end" fill="#444" stroke="#444" stroke-width="0.22">0.0</text>
<path d="M355.9 769.9 L356.8 766.2 L357.7 762.5 L358.6 758.8 L359.6 755 L360.7 751.3 L361.8 747.5 L363.2 743.9 L365.3 740.6 L368.2 738 L371.8 736.6 L375.6 737.2 L378.9 739.3 L381.5 742.2 L383.5 745.5 L385.1 749.1 L386.6 752.7 L388.1 756.2 L389.6 759.7 L391.1 763.2 L392.6 766.7 L394.1 770.3 L395.5 773.8 L396.9 777.4 L398.2 781.1 L399.4 784.7 L400.6 788.4 L402.3 791.8 L405.1 794.7 L408.7 795.1 L411.8 792.5 L413.8 789.1 L415.2 785.6 L416.2 781.9 L417.1 778.2 L417.9 774.4" fill="none" stroke="#3f7a64" stroke-width="0.9"/>
<path d="M355.9 785.7 L357.6 786.2 L359.3 786.6 L361.1 787 L362.8 787.4 L364.5 787.8 L366.3 788.1 L368 788.5 L369.8 788.7 L371.6 789 L373.3 789.2 L375.1 789.4 L376.9 789.6 L378.7 789.7 L380.4 789.9 L382.2 790 L384 790.1 L385.8 790.2 L387.6 790.3 L389.3 790.4 L391.1 790.5 L392.9 790.5 L394.7 790.6 L396.5 790.6 L398.3 790.7 L400 790.7 L401.8 790.7 L403.6 790.7 L405.4 790.7 L407.2 790.7 L409 790.6 L410.7 790.6 L412.5 790.6 L414.3 790.5 L416.1 790.5 L417.9 790.5" fill="none" stroke="#7a4aa8" stroke-width="0.9"/>
<rect x="430.5" y="732.5" width="65" height="71.3" fill="none" stroke="#c8c8c8" stroke-width="0.6"/>
<rect x="430.5" y="799.3" width="65" height="4.5" fill="url(#virh)"/>
<text x="470" y="742.2" font-size="7.8" text-anchor="middle" stroke="#222" stroke-width="0.22">HDAC2</text>
<text x="429.2" y="739.6" font-size="5.8" text-anchor="end" fill="#444" stroke="#444" stroke-width="0.22">2.0</text>
<text x="429.2" y="753.9" font-size="5.8" text-anchor="end" fill="#444" stroke="#444" stroke-width="0.22">1.5</text>
<text x="429.2" y="768.6" font-size="5.8" text-anchor="end" fill="#444" stroke="#444" stroke-width="0.22">1.0</text>
<text x="429.2" y="783.3" font-size="5.8" text-anchor="end" fill="#444" stroke="#444" stroke-width="0.22">0.5</text>
<text x="429.2" y="798" font-size="5.8" text-anchor="end" fill="#444" stroke="#444" stroke-width="0.22">0.0</text>
<path d="M433.3 736.1 L435 737.8 L436.8 739.5 L438.5 741.3 L440.2 743.1 L441.8 745 L443.4 746.9 L444.9 748.8 L446.4 750.8 L447.9 752.8 L449.4 754.8 L450.9 756.8 L452.4 758.7 L453.9 760.7 L455.4 762.6 L457 764.5 L458.6 766.4 L460.2 768.3 L461.8 770.2 L463.4 772 L465.1 773.7 L466.7 775.5 L468.4 777.3 L470.1 779 L471.8 780.7 L473.6 782.4 L475.4 784 L477.1 785.6 L479 787.2 L480.8 788.7 L482.8 790.2 L484.9 791.6 L487.2 792.6 L489.5 793 L491.9 792.7 L494.4 792 L494.4 794.4 L491.9 795 L489.5 795.2 L487.2 794.8 L484.9 793.7 L482.8 792.2 L480.8 790.7 L479 789.1 L477.1 787.4 L475.4 785.7 L473.6 784 L471.8 782.2 L470.1 780.4 L468.4 778.6 L466.7 776.8 L465.1 774.9 L463.4 773.1 L461.8 771.2 L460.2 769.4 L458.6 767.5 L457 765.7 L455.4 763.8 L453.9 761.9 L452.4 760 L450.9 758.1 L449.4 756.2 L447.9 754.3 L446.4 752.4 L444.9 750.4 L443.4 748.6 L441.8 746.7 L440.2 744.9 L438.5 743.1 L436.8 741.4 L435 739.7 L433.3 738.1Z" fill="#c8c8c8" opacity="0.75"/>
<path d="M433.3 737.1 L435 738.8 L436.8 740.5 L438.5 742.2 L440.2 744 L441.8 745.8 L443.4 747.7 L444.9 749.6 L446.4 751.6 L447.9 753.5 L449.4 755.5 L450.9 757.4 L452.4 759.4 L453.9 761.3 L455.4 763.2 L457 765.1 L458.6 767 L460.2 768.8 L461.8 770.7 L463.4 772.5 L465.1 774.3 L466.7 776.1 L468.4 777.9 L470.1 779.7 L471.8 781.5 L473.6 783.2 L475.4 784.9 L477.1 786.5 L479 788.1 L480.8 789.7 L482.8 791.2 L484.9 792.6 L487.2 793.7 L489.5 794.1 L491.9 793.8 L494.4 793.2" fill="none" stroke="#3f7a64" stroke-width="0.9"/>
<path d="M433.3 794.1 L435 794.2 L436.7 794.3 L438.5 794.4 L440.2 794.5 L442 794.5 L443.7 794.6 L445.5 794.7 L447.2 794.8 L449 794.8 L450.7 794.9 L452.4 794.9 L454.2 795 L455.9 795 L457.7 795.1 L459.4 795.1 L461.2 795.1 L462.9 795.2 L464.7 795.2 L466.4 795.2 L468.2 795.2 L469.9 795.2 L471.7 795.2 L473.4 795.2 L475.1 795.2 L476.9 795.2 L478.6 795.2 L480.4 795.2 L482.1 795.2 L483.9 795.2 L485.6 795.2 L487.4 795.2 L489.1 795.2 L490.9 795.2 L492.6 795.2 L494.4 795.2" fill="none" stroke="#7a4aa8" stroke-width="0.9"/>
<rect x="508.6" y="732.5" width="64.9" height="71.3" fill="none" stroke="#c8c8c8" stroke-width="0.6"/>
<rect x="508.6" y="799.3" width="64.9" height="4.5" fill="url(#virh)"/>
<text x="548.3" y="741.8" font-size="7.8" text-anchor="middle" stroke="#222" stroke-width="0.22">POU2F2</text>
<text x="507.6" y="741" font-size="5.8" text-anchor="end" fill="#444" stroke="#444" stroke-width="0.22">0.20</text>
<text x="507.6" y="754.5" font-size="5.8" text-anchor="end" fill="#444" stroke="#444" stroke-width="0.22">0.15</text>
<text x="507.6" y="768.6" font-size="5.8" text-anchor="end" fill="#444" stroke="#444" stroke-width="0.22">0.10</text>
<text x="507.6" y="782.6" font-size="5.8" text-anchor="end" fill="#444" stroke="#444" stroke-width="0.22">0.05</text>
<text x="507.6" y="796.9" font-size="5.8" text-anchor="end" fill="#444" stroke="#444" stroke-width="0.22">0.00</text>
<path d="M511.8 736.7 L514.3 736.8 L516.7 737 L519.1 737.6 L521.3 738.7 L523.5 740 L525.5 741.5 L527.5 743 L529.4 744.7 L531.2 746.4 L533 748.2 L534.6 750.1 L536.2 752.1 L537.7 754.1 L539.1 756.2 L540.5 758.2 L541.9 760.2 L543.2 762.3 L544.5 764.4 L545.7 766.5 L547 768.6 L548.2 770.7 L549.5 772.7 L550.7 774.7 L552 776.7 L553.4 778.7 L554.8 780.7 L556.2 782.8 L557.8 784.9 L559.5 786.7 L561.5 788 L563.9 788.2 L566.3 787.4 L568.3 786 L569.9 784.1 L571.3 781.9 L571.3 784.9 L569.9 787 L568.3 788.9 L566.3 790.3 L563.9 791 L561.5 790.7 L559.5 789.5 L557.8 787.5 L556.2 785.4 L554.8 783.3 L553.4 781.2 L552 779.2 L550.7 777.1 L549.5 775.1 L548.2 773 L547 770.9 L545.7 768.7 L544.5 766.6 L543.2 764.4 L541.9 762.3 L540.5 760.2 L539.1 758.2 L537.7 756.3 L536.2 754.4 L534.6 752.6 L533 750.9 L531.2 749.3 L529.4 747.7 L527.5 746.2 L525.5 744.8 L523.5 743.5 L521.3 742.4 L519.1 741.5 L516.7 741.1 L514.3 741 L511.8 741.1Z" fill="#c8c8c8" opacity="0.75"/>
<path d="M511.8 738.9 L514.3 738.9 L516.7 739 L519.1 739.6 L521.3 740.5 L523.5 741.8 L525.5 743.2 L527.5 744.6 L529.4 746.2 L531.2 747.9 L533 749.6 L534.6 751.4 L536.2 753.2 L537.7 755.2 L539.1 757.2 L540.5 759.2 L541.9 761.3 L543.2 763.4 L544.5 765.5 L545.7 767.6 L547 769.7 L548.2 771.8 L549.5 773.9 L550.7 775.9 L552 777.9 L553.4 780 L554.8 782 L556.2 784.1 L557.8 786.2 L559.5 788.1 L561.5 789.4 L563.9 789.6 L566.3 788.9 L568.3 787.4 L569.9 785.6 L571.3 783.4" fill="none" stroke="#3f7a64" stroke-width="0.9"/>
<path d="M511.8 783.8 L513.4 784.4 L515 785 L516.7 785.6 L518.3 786.1 L519.9 786.7 L521.6 787.2 L523.2 787.7 L524.9 788.2 L526.6 788.7 L528.3 789.1 L530 789.5 L531.6 789.8 L533.3 790.2 L535.1 790.4 L536.8 790.7 L538.5 790.9 L540.2 791.1 L541.9 791.2 L543.7 791.4 L545.4 791.5 L547.1 791.7 L548.8 791.8 L550.6 791.9 L552.3 792 L554 792.1 L555.7 792.1 L557.5 792.2 L559.2 792.3 L560.9 792.4 L562.6 792.5 L564.4 792.5 L566.1 792.6 L567.8 792.7 L569.6 792.8 L571.3 792.8 L571.3 794.4 L569.6 794.4 L567.8 794.3 L566.1 794.3 L564.4 794.2 L562.6 794.2 L560.9 794.1 L559.2 794.1 L557.5 794 L555.7 794 L554 793.9 L552.3 793.8 L550.6 793.7 L548.8 793.7 L547.1 793.6 L545.4 793.5 L543.7 793.4 L541.9 793.2 L540.2 793.1 L538.5 792.9 L536.8 792.7 L535.1 792.5 L533.3 792.3 L531.6 792 L530 791.6 L528.3 791.3 L526.6 790.9 L524.9 790.4 L523.2 790 L521.6 789.5 L519.9 789 L518.3 788.4 L516.7 787.9 L515 787.4 L513.4 786.8 L511.8 786.2Z" fill="#c8c8c8" opacity="0.75"/>
<path d="M511.8 785 L513.4 785.6 L515 786.2 L516.7 786.7 L518.3 787.3 L519.9 787.8 L521.6 788.4 L523.2 788.9 L524.9 789.3 L526.6 789.8 L528.3 790.2 L530 790.6 L531.6 790.9 L533.3 791.2 L535.1 791.5 L536.8 791.7 L538.5 791.9 L540.2 792.1 L541.9 792.2 L543.7 792.4 L545.4 792.5 L547.1 792.6 L548.8 792.7 L550.6 792.8 L552.3 792.9 L554 793 L555.7 793 L557.5 793.1 L559.2 793.2 L560.9 793.3 L562.6 793.3 L564.4 793.4 L566.1 793.4 L567.8 793.5 L569.6 793.6 L571.3 793.6" fill="none" stroke="#7a4aa8" stroke-width="0.9"/>
<rect x="587.1" y="732.5" width="65" height="71.3" fill="none" stroke="#c8c8c8" stroke-width="0.6"/>
<rect x="587.1" y="799.3" width="65" height="4.5" fill="url(#virh)"/>
<text x="622.5" y="741.8" font-size="7.8" text-anchor="middle" stroke="#222" stroke-width="0.22">YY1</text>
<text x="586.6" y="735.8" font-size="5.8" text-anchor="end" fill="#444" stroke="#444" stroke-width="0.22">2.5</text>
<text x="586.6" y="748.2" font-size="5.8" text-anchor="end" fill="#444" stroke="#444" stroke-width="0.22">2.0</text>
<text x="586.6" y="760.6" font-size="5.8" text-anchor="end" fill="#444" stroke="#444" stroke-width="0.22">1.5</text>
<text x="586.6" y="773.5" font-size="5.8" text-anchor="end" fill="#444" stroke="#444" stroke-width="0.22">1.0</text>
<text x="586.6" y="786.2" font-size="5.8" text-anchor="end" fill="#444" stroke="#444" stroke-width="0.22">0.5</text>
<text x="586.6" y="799.1" font-size="5.8" text-anchor="end" fill="#444" stroke="#444" stroke-width="0.22">0.0</text>
<path d="M590.1 737.1 L592.3 737.7 L594.6 738.3 L596.8 739.1 L598.9 740 L601 741.2 L603 742.4 L604.9 743.8 L606.7 745.3 L608.4 746.9 L610.1 748.6 L611.6 750.4 L613.1 752.2 L614.6 754 L616 755.9 L617.4 757.8 L618.8 759.7 L620.1 761.6 L621.5 763.5 L622.9 765.4 L624.2 767.3 L625.6 769.2 L627 771 L628.4 772.9 L629.8 774.7 L631.1 776.6 L632.5 778.6 L633.9 780.6 L635.2 782.6 L636.7 784.5 L638.4 786.1 L640.4 787.3 L642.7 788 L645 787.9 L647.2 787.2 L649.4 786.2" fill="none" stroke="#3f7a64" stroke-width="0.9"/>
<path d="M590.1 791.8 L591.7 792.3 L593.4 792.7 L595 793.1 L596.7 793.5 L598.3 793.8 L600 794.1 L601.7 794.3 L603.4 794.4 L605.1 794.6 L606.8 794.7 L608.5 794.8 L610.2 794.8 L611.9 794.9 L613.6 795 L615.3 795 L617 795 L618.7 795 L620.4 795 L622.1 795 L623.8 794.9 L625.5 794.9 L627.3 794.8 L629 794.7 L630.7 794.6 L632.4 794.6 L634.1 794.5 L635.8 794.5 L637.5 794.6 L639.2 794.6 L640.9 794.7 L642.6 794.8 L644.3 795 L646 795.1 L647.7 795.3 L649.4 795.4" fill="none" stroke="#7a4aa8" stroke-width="0.9"/>
<rect x="355.2" y="809.1" width="64.5" height="71.7" fill="none" stroke="#c8c8c8" stroke-width="0.6"/>
<rect x="355.2" y="876.3" width="64.5" height="4.5" fill="url(#virh)"/>
<text x="361.5" y="819.1" font-size="7.8" stroke="#222" stroke-width="0.22">IRF4</text>
<text x="353.8" y="823.4" font-size="5.8" text-anchor="end" fill="#444" stroke="#444" stroke-width="0.22">3</text>
<text x="353.8" y="842.2" font-size="5.8" text-anchor="end" fill="#444" stroke="#444" stroke-width="0.22">2</text>
<text x="353.8" y="861.4" font-size="5.8" text-anchor="end" fill="#444" stroke="#444" stroke-width="0.22">1</text>
<path d="M357.4 853 L359.1 856.2 L361.1 859.3 L363.8 862.2 L367.1 863.4 L370.2 861.5 L372.9 858.3 L375 855.1 L376.8 851.9 L378.2 848.6 L379.6 845.3 L380.9 841.9 L382.2 838.4 L383.6 834.9 L385 831.5 L386.5 828.2 L388.2 825 L390.2 821.8 L392.4 818.7 L395 815.8 L398.2 813.9 L401.8 813.8 L405.2 815.4 L407.6 818.1 L409.1 821.5 L410.1 825.3 L411 829.1 L411.9 832.8 L412.8 836.4 L413.7 839.9 L414.6 843.4 L415.4 847 L416.1 850.6 L416.7 854.2 L417.3 857.9 L417.9 861.6" fill="none" stroke="#3f7a64" stroke-width="0.9"/>
<path d="M357.4 869.6 L359.1 868.9 L360.8 868.3 L362.4 867.6 L364.1 867 L365.8 866.5 L367.5 865.9 L369.3 865.5 L371 865.1 L372.8 864.7 L374.5 864.3 L376.3 864 L378.1 863.7 L379.9 863.4 L381.7 863.1 L383.4 862.9 L385.2 862.7 L387 862.6 L388.8 862.5 L390.6 862.5 L392.4 862.5 L394.2 862.5 L396 862.6 L397.8 862.8 L399.6 862.9 L401.5 863.1 L403.3 863.4 L405 863.7 L406.8 864.1 L408.5 864.6 L410.2 865.3 L411.8 866 L413.4 866.9 L414.9 867.8 L416.4 868.8 L417.9 869.9 L417.9 872.3 L416.4 871.2 L414.9 870.1 L413.4 869.2 L411.8 868.2 L410.2 867.4 L408.5 866.8 L406.8 866.2 L405 865.8 L403.3 865.4 L401.5 865.1 L399.6 864.8 L397.8 864.6 L396 864.4 L394.2 864.3 L392.4 864.2 L390.6 864.1 L388.8 864.2 L387 864.3 L385.2 864.5 L383.4 864.7 L381.7 865 L379.9 865.3 L378.1 865.7 L376.3 866.1 L374.5 866.5 L372.8 867 L371 867.4 L369.3 867.9 L367.5 868.5 L365.8 869.1 L364.1 869.7 L362.4 870.4 L360.8 871.1 L359.1 871.8 L357.4 872.6Z" fill="#c8c8c8" opacity="0.75"/>
<path d="M357.4 871.1 L359.1 870.4 L360.8 869.7 L362.4 869 L364.1 868.4 L365.8 867.8 L367.5 867.2 L369.3 866.7 L371 866.2 L372.8 865.8 L374.5 865.4 L376.3 865 L378.1 864.7 L379.9 864.4 L381.7 864.1 L383.4 863.8 L385.2 863.6 L387 863.4 L388.8 863.3 L390.6 863.3 L392.4 863.3 L394.2 863.4 L396 863.5 L397.8 863.7 L399.6 863.9 L401.5 864.1 L403.3 864.4 L405 864.7 L406.8 865.2 L408.5 865.7 L410.2 866.4 L411.8 867.1 L413.4 868 L414.9 869 L416.4 870 L417.9 871.1" fill="none" stroke="#7a4aa8" stroke-width="0.9"/>
<rect x="429.9" y="809.1" width="65.6" height="71.7" fill="none" stroke="#c8c8c8" stroke-width="0.6"/>
<rect x="429.9" y="876.3" width="65.6" height="4.5" fill="url(#virh)"/>
<text x="432.5" y="819.1" font-size="7.8" stroke="#222" stroke-width="0.22">PRDM1</text>
<text x="429" y="832.4" font-size="5.8" text-anchor="end" fill="#444" stroke="#444" stroke-width="0.22">2</text>
<text x="429" y="854.2" font-size="5.8" text-anchor="end" fill="#444" stroke="#444" stroke-width="0.22">1</text>
<text x="429" y="875.4" font-size="5.8" text-anchor="end" fill="#444" stroke="#444" stroke-width="0.22">0</text>
<path d="M433.3 868 L436.9 867.8 L440.2 867 L442.9 865 L445.1 862.2 L447 859.1 L448.7 855.9 L450.2 852.8 L451.6 849.7 L453 846.6 L454.3 843.5 L455.6 840.2 L457 837 L458.4 833.7 L459.8 830.5 L461.3 827.3 L463 824.3 L464.8 821.2 L466.9 818.3 L469.4 815.5 L472.3 813.4 L475.7 812.9 L479.1 814.1 L481.7 816.5 L483.3 819.6 L484.4 823.1 L485.3 826.7 L486.2 830.3 L487.1 833.7 L488.1 837 L489.1 840.3 L490.1 843.6 L490.9 847 L491.7 850.5 L492.5 853.9 L493.2 857.4 L493.2 859 L492.5 855.5 L491.7 852 L490.9 848.6 L490.1 845.2 L489.1 841.8 L488.1 838.5 L487.1 835.2 L486.2 831.7 L485.3 828.2 L484.4 824.5 L483.3 821 L481.7 817.9 L479.1 815.5 L475.7 814.3 L472.3 814.8 L469.4 816.8 L466.9 819.6 L464.8 822.5 L463 825.5 L461.3 828.6 L459.8 831.7 L458.4 834.9 L457 838.2 L455.6 841.5 L454.3 844.8 L453 848.1 L451.6 851.4 L450.2 854.6 L448.7 857.9 L447 861.2 L445.1 864.5 L442.9 867.5 L440.2 869.6 L436.9 870.6 L433.3 871Z" fill="#c8c8c8" opacity="0.75"/>
<path d="M433.3 869.5 L436.9 869.2 L440.2 868.3 L442.9 866.2 L445.1 863.4 L447 860.1 L448.7 856.9 L450.2 853.7 L451.6 850.5 L453 847.3 L454.3 844.1 L455.6 840.8 L457 837.6 L458.4 834.3 L459.8 831.1 L461.3 828 L463 824.9 L464.8 821.9 L466.9 818.9 L469.4 816.1 L472.3 814.1 L475.7 813.6 L479.1 814.8 L481.7 817.2 L483.3 820.3 L484.4 823.8 L485.3 827.4 L486.2 831 L487.1 834.4 L488.1 837.8 L489.1 841.1 L490.1 844.4 L490.9 847.8 L491.7 851.2 L492.5 854.7 L493.2 858.2" fill="none" stroke="#3f7a64" stroke-width="0.9"/>
<path d="M433.3 869.1 L434.8 868.2 L436.4 867.4 L438 866.6 L439.6 865.8 L441.2 865.1 L442.8 864.4 L444.5 863.7 L446.2 863.2 L447.9 862.6 L449.6 862.1 L451.3 861.6 L453.1 861.2 L454.8 860.8 L456.6 860.4 L458.4 860 L460.1 859.6 L461.9 859.3 L463.7 859.1 L465.5 858.9 L467.3 858.7 L469.1 858.7 L471 858.7 L472.8 858.8 L474.6 858.9 L476.4 859.1 L478.2 859.4 L480 859.8 L481.7 860.2 L483.5 860.8 L485.1 861.4 L486.8 862.1 L488.4 862.9 L490 863.8 L491.6 864.7 L493.2 865.6 L493.2 867.6 L491.6 866.6 L490 865.7 L488.4 864.9 L486.8 864.1 L485.1 863.3 L483.5 862.7 L481.7 862.1 L480 861.6 L478.2 861.2 L476.4 860.9 L474.6 860.7 L472.8 860.6 L471 860.5 L469.1 860.4 L467.3 860.5 L465.5 860.6 L463.7 860.7 L461.9 861 L460.1 861.3 L458.4 861.6 L456.6 862 L454.8 862.6 L453.1 863.2 L451.3 863.8 L449.6 864.4 L447.9 865.1 L446.2 865.8 L444.5 866.5 L442.8 867.4 L441.2 868.2 L439.6 869.1 L438 870.1 L436.4 871.1 L434.8 872.1 L433.3 873.1Z" fill="#c8c8c8" opacity="0.75"/>
<path d="M433.3 871.1 L434.8 870.2 L436.4 869.2 L438 868.3 L439.6 867.5 L441.2 866.6 L442.8 865.9 L444.5 865.1 L446.2 864.5 L447.9 863.8 L449.6 863.3 L451.3 862.7 L453.1 862.2 L454.8 861.7 L456.6 861.2 L458.4 860.8 L460.1 860.5 L461.9 860.1 L463.7 859.9 L465.5 859.7 L467.3 859.6 L469.1 859.6 L471 859.6 L472.8 859.7 L474.6 859.8 L476.4 860 L478.2 860.3 L480 860.7 L481.7 861.2 L483.5 861.7 L485.1 862.4 L486.8 863.1 L488.4 863.9 L490 864.8 L491.6 865.7 L493.2 866.6" fill="none" stroke="#7a4aa8" stroke-width="0.9"/>
<rect x="507.9" y="809.1" width="65" height="71.7" fill="none" stroke="#c8c8c8" stroke-width="0.6"/>
<rect x="507.9" y="876.3" width="65" height="4.5" fill="url(#virh)"/>
<text x="512.3" y="818.9" font-size="7.8" stroke="#222" stroke-width="0.22">XBP1</text>
<text x="507.4" y="820.7" font-size="5.8" text-anchor="end" fill="#444" stroke="#444" stroke-width="0.22">1.5</text>
<text x="507.4" y="838.8" font-size="5.8" text-anchor="end" fill="#444" stroke="#444" stroke-width="0.22">1.0</text>
<text x="507.4" y="856.4" font-size="5.8" text-anchor="end" fill="#444" stroke="#444" stroke-width="0.22">0.5</text>
<text x="507.4" y="873.9" font-size="5.8" text-anchor="end" fill="#444" stroke="#444" stroke-width="0.22">0.0</text>
<path d="M511.3 868.6 L514.9 867.9 L518.1 866.8 L520.9 864.7 L523.1 862.1 L525.1 859.1 L526.8 856.1 L528.3 853.1 L529.8 849.8 L531.1 846.5 L532.5 843.2 L533.8 839.8 L535.2 836.5 L536.7 833.2 L538.1 829.9 L539.7 826.7 L541.4 823.6 L543.3 820.6 L545.5 817.6 L548.1 814.8 L551.2 813.1 L554.8 813.1 L558.1 814.8 L560.2 817.5 L561.4 821 L562.2 824.7 L563.1 828.3 L564 831.9 L564.9 835.3 L565.8 838.7 L566.6 842.1 L567.4 845.5 L568.1 849 L568.8 852.5 L569.5 856.1 L570.2 859.6 L570.2 861.2 L569.5 857.7 L568.8 854.1 L568.1 850.6 L567.4 847.1 L566.6 843.6 L565.8 840.2 L564.9 836.8 L564 833.3 L563.1 829.8 L562.2 826.2 L561.4 822.4 L560.2 819 L558.1 816.2 L554.8 814.5 L551.2 814.5 L548.1 816.2 L545.5 818.9 L543.3 821.9 L541.4 825 L539.7 828.1 L538.1 831.2 L536.7 834.5 L535.2 837.8 L533.8 841.1 L532.5 844.4 L531.1 847.7 L529.8 851 L528.3 854.3 L526.8 857.7 L525.1 861.1 L523.1 864.5 L520.9 867.5 L518.1 870 L514.9 871.5 L511.3 872.6Z" fill="#c8c8c8" opacity="0.75"/>
<path d="M511.3 870.6 L514.9 869.7 L518.1 868.4 L520.9 866.1 L523.1 863.3 L525.1 860.1 L526.8 856.9 L528.3 853.7 L529.8 850.4 L531.1 847.1 L532.5 843.8 L533.8 840.5 L535.2 837.1 L536.7 833.8 L538.1 830.6 L539.7 827.4 L541.4 824.3 L543.3 821.2 L545.5 818.3 L548.1 815.5 L551.2 813.8 L554.8 813.8 L558.1 815.5 L560.2 818.3 L561.4 821.7 L562.2 825.4 L563.1 829.1 L564 832.6 L564.9 836 L565.8 839.5 L566.6 842.9 L567.4 846.3 L568.1 849.8 L568.8 853.3 L569.5 856.9 L570.2 860.4" fill="none" stroke="#3f7a64" stroke-width="0.9"/>
<path d="M511.3 868.7 L512.9 868 L514.5 867.4 L516.1 866.8 L517.7 866.2 L519.3 865.7 L520.9 865.2 L522.6 864.8 L524.2 864.5 L525.9 864.2 L527.6 863.9 L529.3 863.7 L531 863.5 L532.8 863.4 L534.5 863.3 L536.2 863.3 L537.9 863.2 L539.6 863.2 L541.3 863.1 L543.1 863 L544.8 862.8 L546.5 862.7 L548.2 862.5 L549.9 862.3 L551.6 862.1 L553.3 861.8 L555 861.5 L556.7 861.2 L558.4 860.9 L560.1 860.5 L561.8 860.1 L563.5 859.7 L565.1 859.2 L566.8 858.8 L568.5 858.3 L570.2 857.9 L570.2 859.9 L568.5 860.3 L566.8 860.7 L565.1 861.1 L563.5 861.4 L561.8 861.8 L560.1 862.2 L558.4 862.5 L556.7 862.8 L555 863 L553.3 863.3 L551.6 863.5 L549.9 863.6 L548.2 863.8 L546.5 863.9 L544.8 864 L543.1 864.1 L541.3 864.1 L539.6 864.2 L537.9 864.4 L536.2 864.6 L534.5 864.7 L532.8 864.9 L531 865.2 L529.3 865.4 L527.6 865.8 L525.9 866.1 L524.2 866.5 L522.6 867 L520.9 867.5 L519.3 868.1 L517.7 868.8 L516.1 869.5 L514.5 870.2 L512.9 870.9 L511.3 871.7Z" fill="#c8c8c8" opacity="0.75"/>
<path d="M511.3 870.2 L512.9 869.5 L514.5 868.8 L516.1 868.1 L517.7 867.5 L519.3 866.9 L520.9 866.4 L522.6 865.9 L524.2 865.5 L525.9 865.1 L527.6 864.8 L529.3 864.6 L531 864.4 L532.8 864.2 L534.5 864 L536.2 863.9 L537.9 863.8 L539.6 863.7 L541.3 863.6 L543.1 863.5 L544.8 863.4 L546.5 863.3 L548.2 863.1 L549.9 863 L551.6 862.8 L553.3 862.5 L555 862.3 L556.7 862 L558.4 861.7 L560.1 861.3 L561.8 861 L563.5 860.6 L565.1 860.1 L566.8 859.7 L568.5 859.3 L570.2 858.9" fill="none" stroke="#7a4aa8" stroke-width="0.9"/>
<rect x="587.1" y="809.1" width="64.1" height="71.7" fill="none" stroke="#c8c8c8" stroke-width="0.6"/>
<rect x="587.1" y="876.3" width="64.1" height="4.5" fill="url(#virh)"/>
<text x="589.8" y="818.9" font-size="7.8" stroke="#222" stroke-width="0.22">TNFRSF13B</text>
<text x="586.6" y="824.8" font-size="5.8" text-anchor="end" fill="#444" stroke="#444" stroke-width="0.22">0.75</text>
<text x="586.6" y="842.2" font-size="5.8" text-anchor="end" fill="#444" stroke="#444" stroke-width="0.22">0.50</text>
<text x="586.6" y="858.7" font-size="5.8" text-anchor="end" fill="#444" stroke="#444" stroke-width="0.22">0.25</text>
<text x="586.6" y="874.5" font-size="5.8" text-anchor="end" fill="#444" stroke="#444" stroke-width="0.22">0.00</text>
<path d="M590.5 853.4 L592.6 856.5 L595.2 858.4 L598.4 858 L601.2 856.4 L603.4 854.1 L605.1 851.5 L606.6 848.7 L608 845.9 L609.5 843.1 L611 840.2 L612.4 837.3 L613.8 834.4 L615.2 831.5 L616.6 828.6 L618.1 825.7 L619.7 822.7 L621.4 819.7 L623.5 817.1 L626.1 815.2 L629.3 814.5 L632.7 815.1 L635.4 816.7 L637.4 819.2 L638.8 822.3 L640 825.6 L641 828.9 L641.9 832.1 L642.8 835.2 L643.7 838.3 L644.5 841.3 L645.3 844.4 L646.1 847.6 L646.8 850.8 L647.5 854 L648.2 857.2 L648.2 859.2 L647.5 856 L646.8 852.7 L646.1 849.5 L645.3 846.4 L644.5 843.3 L643.7 840.2 L642.8 837.1 L641.9 834 L641 830.8 L640 827.5 L638.8 824.1 L637.4 821 L635.4 818.5 L632.7 816.8 L629.3 816.3 L626.1 817 L623.5 818.8 L621.4 821.5 L619.7 824.4 L618.1 827.4 L616.6 830.3 L615.2 833.2 L613.8 836.1 L612.4 839 L611 841.8 L609.5 844.7 L608 847.8 L606.6 851 L605.1 854.2 L603.4 857.2 L601.2 859.8 L598.4 861.8 L595.2 862.6 L592.6 861.2 L590.5 858.4Z" fill="#c8c8c8" opacity="0.75"/>
<path d="M590.5 855.9 L592.6 858.8 L595.2 860.5 L598.4 859.9 L601.2 858.1 L603.4 855.7 L605.1 852.8 L606.6 849.8 L608 846.9 L609.5 843.9 L611 841 L612.4 838.1 L613.8 835.3 L615.2 832.4 L616.6 829.5 L618.1 826.5 L619.7 823.6 L621.4 820.6 L623.5 818 L626.1 816.1 L629.3 815.4 L632.7 816 L635.4 817.6 L637.4 820.1 L638.8 823.2 L640 826.5 L641 829.8 L641.9 833 L642.8 836.2 L643.7 839.2 L644.5 842.3 L645.3 845.4 L646.1 848.6 L646.8 851.8 L647.5 855 L648.2 858.2" fill="none" stroke="#3f7a64" stroke-width="0.9"/>
<path d="M590.5 867.5 L592.2 867.2 L594 866.9 L595.7 866.6 L597.4 866.2 L599 865.7 L600.7 865.2 L602.3 864.5 L603.8 863.8 L605.4 863.1 L606.9 862.3 L608.5 861.5 L610 860.7 L611.6 860 L613.2 859.2 L614.8 858.5 L616.4 857.9 L618 857.2 L619.6 856.6 L621.2 855.9 L622.8 855.3 L624.5 854.7 L626.1 854.1 L627.8 853.5 L629.5 853 L631.2 852.5 L632.9 852.1 L634.7 851.7 L636.4 851.4 L638.2 851.3 L640 851.3 L641.7 851.4 L643.4 851.8 L645 852.3 L646.6 853 L648.2 853.7 L648.2 856.7 L646.6 855.9 L645 855.2 L643.4 854.6 L641.7 854.2 L640 854 L638.2 853.9 L636.4 854 L634.7 854.3 L632.9 854.6 L631.2 854.9 L629.5 855.3 L627.8 855.8 L626.1 856.3 L624.5 856.9 L622.8 857.4 L621.2 858 L619.6 858.6 L618 859.3 L616.4 860.1 L614.8 860.8 L613.2 861.6 L611.6 862.5 L610 863.3 L608.5 864.2 L606.9 865.1 L605.4 866 L603.8 866.9 L602.3 867.7 L600.7 868.5 L599 869.1 L597.4 869.7 L595.7 870.2 L594 870.7 L592.2 871.1 L590.5 871.5Z" fill="#c8c8c8" opacity="0.75"/>
<path d="M590.5 869.5 L592.2 869.2 L594 868.8 L595.7 868.4 L597.4 867.9 L599 867.4 L600.7 866.8 L602.3 866.1 L603.8 865.4 L605.4 864.5 L606.9 863.7 L608.5 862.9 L610 862 L611.6 861.2 L613.2 860.4 L614.8 859.7 L616.4 859 L618 858.3 L619.6 857.6 L621.2 857 L622.8 856.4 L624.5 855.8 L626.1 855.2 L627.8 854.7 L629.5 854.2 L631.2 853.7 L632.9 853.3 L634.7 853 L636.4 852.7 L638.2 852.6 L640 852.6 L641.7 852.8 L643.4 853.2 L645 853.8 L646.6 854.5 L648.2 855.2" fill="none" stroke="#7a4aa8" stroke-width="0.9"/>
<rect x="355.2" y="885.4" width="64.5" height="71.7" fill="none" stroke="#c8c8c8" stroke-width="0.6"/>
<rect x="355.2" y="952.6" width="64.5" height="4.5" fill="url(#virh)"/>
<text x="358.9" y="895.3" font-size="7.8" stroke="#222" stroke-width="0.22">TBX21</text>
<text x="353.8" y="888.9" font-size="5.8" text-anchor="end" fill="#444" stroke="#444" stroke-width="0.22">1.00</text>
<text x="353.8" y="904.5" font-size="5.8" text-anchor="end" fill="#444" stroke="#444" stroke-width="0.22">0.75</text>
<text x="353.8" y="920.3" font-size="5.8" text-anchor="end" fill="#444" stroke="#444" stroke-width="0.22">0.50</text>
<text x="353.8" y="936.1" font-size="5.8" text-anchor="end" fill="#444" stroke="#444" stroke-width="0.22">0.25</text>
<text x="353.8" y="951.5" font-size="5.8" text-anchor="end" fill="#444" stroke="#444" stroke-width="0.22">0.00</text>
<path d="M358.1 945 L359.8 945.5 L361.5 946 L363.2 946.4 L364.9 946.7 L366.7 946.9 L368.4 947 L370.2 946.9 L371.9 946.7 L373.6 946.4 L375.3 945.9 L376.9 945.4 L378.6 944.8 L380.2 944.1 L381.8 943.5 L383.4 942.9 L385 942.3 L386.6 941.7 L388.3 941.2 L389.9 940.6 L391.6 940 L393.2 939.4 L394.9 938.9 L396.5 938.3 L398.2 937.7 L399.9 937.1 L401.5 936.6 L403.2 936 L404.9 935.5 L406.6 935 L408.3 934.6 L410 934.4 L411.7 934.3 L413.5 934.3 L415.2 934.5 L417 934.7 L417 937.1 L415.2 936.8 L413.5 936.6 L411.7 936.5 L410 936.5 L408.3 936.7 L406.6 937 L404.9 937.4 L403.2 937.9 L401.5 938.4 L399.9 938.9 L398.2 939.4 L396.5 939.9 L394.9 940.4 L393.2 940.9 L391.6 941.4 L389.9 941.9 L388.3 942.4 L386.6 943 L385 943.6 L383.4 944.3 L381.8 945.1 L380.2 945.8 L378.6 946.6 L376.9 947.3 L375.3 947.9 L373.6 948.4 L371.9 948.9 L370.2 949.2 L368.4 949.4 L366.7 949.4 L364.9 949.3 L363.2 949.1 L361.5 948.8 L359.8 948.4 L358.1 948Z" fill="#c8c8c8" opacity="0.75"/>
<path d="M358.1 946.5 L359.8 947 L361.5 947.4 L363.2 947.8 L364.9 948 L366.7 948.2 L368.4 948.2 L370.2 948 L371.9 947.8 L373.6 947.4 L375.3 946.9 L376.9 946.3 L378.6 945.7 L380.2 945 L381.8 944.3 L383.4 943.6 L385 943 L386.6 942.4 L388.3 941.8 L389.9 941.2 L391.6 940.7 L393.2 940.2 L394.9 939.6 L396.5 939.1 L398.2 938.5 L399.9 938 L401.5 937.5 L403.2 936.9 L404.9 936.4 L406.6 936 L408.3 935.7 L410 935.4 L411.7 935.4 L413.5 935.5 L415.2 935.6 L417 935.9" fill="none" stroke="#3f7aa0" stroke-width="0.9"/>
<path d="M358.1 946 L360.3 946.5 L362.5 946.9 L364.7 947 L366.8 946.7 L368.9 946 L370.9 945 L372.8 943.8 L374.6 942.5 L376.3 941.1 L377.9 939.7 L379.5 938.1 L380.9 936.5 L382.4 934.8 L383.8 933.1 L385.2 931.4 L386.6 929.8 L388 928.1 L389.4 926.3 L390.9 924.5 L392.3 922.6 L393.7 920.7 L395.2 918.8 L396.6 916.9 L398 915 L399.5 912.9 L400.9 910.6 L402.5 908.4 L404 906.2 L405.7 904 L407.4 901.9 L409.2 899.4 L411 897.1 L412.9 894.9 L414.9 892.8 L417 890.8 L417 914.8 L414.9 914.5 L412.9 914.3 L411 914.2 L409.2 914.3 L407.4 914.4 L405.7 915 L404 915.8 L402.5 916.7 L400.9 917.6 L399.5 918.6 L398 919.8 L396.6 921.3 L395.2 922.7 L393.7 924.2 L392.3 925.7 L390.9 927.1 L389.4 928.6 L388 930.1 L386.6 931.8 L385.2 933.5 L383.8 935.2 L382.4 936.9 L380.9 938.6 L379.5 940.2 L377.9 941.8 L376.3 943.3 L374.6 944.7 L372.8 946 L370.9 947.2 L368.9 948.2 L366.8 949 L364.7 949.3 L362.5 949.2 L360.3 948.9 L358.1 948.4Z" fill="#c8c8c8" opacity="0.75"/>
<path d="M358.1 947.2 L360.3 947.7 L362.5 948 L364.7 948.1 L366.8 947.8 L368.9 947.1 L370.9 946.1 L372.8 944.9 L374.6 943.6 L376.3 942.2 L377.9 940.7 L379.5 939.2 L380.9 937.5 L382.4 935.9 L383.8 934.2 L385.2 932.5 L386.6 930.8 L388 929.1 L389.4 927.4 L390.9 925.8 L392.3 924.1 L393.7 922.4 L395.2 920.8 L396.6 919.1 L398 917.4 L399.5 915.8 L400.9 914.1 L402.5 912.5 L404 911 L405.7 909.5 L407.4 908.1 L409.2 906.8 L411 905.7 L412.9 904.6 L414.9 903.7 L417 902.8" fill="none" stroke="#b85048" stroke-width="0.9"/>
<rect x="429.9" y="885.4" width="65.6" height="71.7" fill="none" stroke="#c8c8c8" stroke-width="0.6"/>
<rect x="429.9" y="952.6" width="65.6" height="4.5" fill="url(#virh)"/>
<text x="436.9" y="895.3" font-size="7.8" stroke="#222" stroke-width="0.22">ZEB2</text>
<text x="429" y="897.7" font-size="5.8" text-anchor="end" fill="#444" stroke="#444" stroke-width="0.22">15</text>
<text x="429" y="916.9" font-size="5.8" text-anchor="end" fill="#444" stroke="#444" stroke-width="0.22">10</text>
<text x="429" y="937.3" font-size="5.8" text-anchor="end" fill="#444" stroke="#444" stroke-width="0.22">5</text>
<path d="M433.3 942.6 L435 942.3 L436.8 941.9 L438.5 941.6 L440.3 941.2 L442 940.9 L443.8 940.5 L445.5 940.2 L447.3 939.9 L449 939.6 L450.8 939.3 L452.6 939 L454.3 938.8 L456.1 938.5 L457.9 938.3 L459.7 938.2 L461.5 938.1 L463.2 938.1 L465 938.1 L466.8 938.3 L468.6 938.6 L470.3 938.9 L472.1 939.3 L473.8 939.7 L475.6 940 L477.3 940.4 L479.1 940.8 L480.8 941.3 L482.5 941.8 L484.2 942.4 L485.8 943.1 L487.4 943.9 L489 944.8 L490.5 945.8 L491.9 946.9 L493.2 948.1" fill="none" stroke="#3f7aa0" stroke-width="0.9"/>
<path d="M433.3 942.1 L435.8 941.8 L438.3 941.6 L440.8 941.4 L443.3 941.5 L445.9 941.7 L448.4 941.9 L450.9 942 L453.4 942 L455.9 941.7 L458.4 941.2 L460.9 940.5 L463.3 939.6 L465.6 938.5 L467.7 937.2 L469.8 935.6 L471.7 934 L473.5 932.1 L475.1 930.2 L476.7 928.2 L478.1 926.1 L479.5 923.9 L480.8 921.6 L482 919.1 L483.1 916.7 L484.2 914.2 L485.2 911.7 L486.2 909.2 L487.1 906.6 L488 904.1 L488.9 901.5 L489.8 899 L490.7 896.4 L491.5 893.8 L492.4 891.3 L493.2 888.7 L493.2 895.7 L492.4 897.9 L491.5 900.1 L490.7 902.2 L489.8 904.4 L488.9 906.6 L488 908.8 L487.1 910.9 L486.2 913.1 L485.2 915.2 L484.2 917.4 L483.1 919.5 L482 921.5 L480.8 923.5 L479.5 925.5 L478.1 927.7 L476.7 929.7 L475.1 931.7 L473.5 933.6 L471.7 935.4 L469.8 937.1 L467.7 938.6 L465.6 939.8 L463.3 940.9 L460.9 941.8 L458.4 942.5 L455.9 943 L453.4 943.2 L450.9 943.2 L448.4 943.1 L445.9 942.8 L443.3 942.6 L440.8 942.5 L438.3 942.6 L435.8 942.9 L433.3 943.1Z" fill="#c8c8c8" opacity="0.75"/>
<path d="M433.3 942.6 L435.8 942.3 L438.3 942.1 L440.8 942 L443.3 942 L445.9 942.2 L448.4 942.5 L450.9 942.6 L453.4 942.6 L455.9 942.3 L458.4 941.8 L460.9 941.1 L463.3 940.2 L465.6 939.1 L467.7 937.9 L469.8 936.4 L471.7 934.7 L473.5 932.9 L475.1 931 L476.7 929 L478.1 926.9 L479.5 924.7 L480.8 922.6 L482 920.3 L483.1 918.1 L484.2 915.8 L485.2 913.5 L486.2 911.1 L487.1 908.8 L488 906.4 L488.9 904.1 L489.8 901.7 L490.7 899.3 L491.5 896.9 L492.4 894.6 L493.2 892.2" fill="none" stroke="#b85048" stroke-width="0.9"/>
<rect x="508.6" y="885.4" width="64.3" height="71.7" fill="none" stroke="#c8c8c8" stroke-width="0.6"/>
<rect x="508.6" y="952.6" width="64.3" height="4.5" fill="url(#virh)"/>
<text x="511.8" y="895.9" font-size="7.8" stroke="#222" stroke-width="0.22">SOX5</text>
<text x="507.6" y="892" font-size="5.8" text-anchor="end" fill="#444" stroke="#444" stroke-width="0.22">20</text>
<text x="507.6" y="906.7" font-size="5.8" text-anchor="end" fill="#444" stroke="#444" stroke-width="0.22">15</text>
<text x="507.6" y="921.4" font-size="5.8" text-anchor="end" fill="#444" stroke="#444" stroke-width="0.22">10</text>
<text x="507.6" y="936.6" font-size="5.8" text-anchor="end" fill="#444" stroke="#444" stroke-width="0.22">5</text>
<text x="507.6" y="951.5" font-size="5.8" text-anchor="end" fill="#444" stroke="#444" stroke-width="0.22">0</text>
<path d="M511.8 946.5 L513.4 947.3 L515.1 948 L516.8 948.5 L518.6 948.8 L520.4 948.9 L522.2 948.7 L524 948.3 L525.7 947.8 L527.4 947.2 L529.1 946.5 L530.7 945.8 L532.4 945.1 L534 944.3 L535.7 943.7 L537.4 943 L539.1 942.4 L540.8 942 L542.5 941.5 L544.3 941.2 L546.1 940.9 L547.9 940.7 L549.7 940.4 L551.4 940.1 L553.2 939.9 L555 939.7 L556.8 939.7 L558.6 939.9 L560.4 940.3 L562.1 940.8 L563.8 941.5 L565.4 942.3 L566.9 943.3 L568.4 944.3 L569.8 945.4 L571.3 946.5" fill="none" stroke="#3f7aa0" stroke-width="0.9"/>
<path d="M511.8 946.7 L514.1 947.4 L516.4 948 L518.8 948.2 L521.1 948 L523.5 947.5 L525.8 946.7 L528 945.7 L530.1 944.6 L532.1 943.3 L534.1 941.8 L535.9 940.3 L537.7 938.6 L539.4 937 L541.1 935.3 L542.8 933.6 L544.5 931.8 L546.2 930.1 L547.8 928.4 L549.5 926.6 L551.1 924.8 L552.7 923 L554.2 921 L555.7 919 L557.1 916.9 L558.6 914.8 L560.1 912.8 L561.6 910.7 L563 908.7 L564.4 906.6 L565.8 904.5 L567 902.3 L568.1 900 L569.2 897.7 L570.3 895.4 L571.3 893 L571.3 899 L570.3 901.1 L569.2 903.1 L568.1 905 L567 907 L565.8 908.9 L564.4 910.7 L563 912.5 L561.6 914.2 L560.1 916 L558.6 917.7 L557.1 919.4 L555.7 921.2 L554.2 922.9 L552.7 924.6 L551.1 926.4 L549.5 928.2 L547.8 929.9 L546.2 931.6 L544.5 933.3 L542.8 935 L541.1 936.7 L539.4 938.3 L537.7 940 L535.9 941.6 L534.1 943.1 L532.1 944.5 L530.1 945.8 L528 946.9 L525.8 947.9 L523.5 948.6 L521.1 949.2 L518.8 949.3 L516.4 949.1 L514.1 948.5 L511.8 947.7Z" fill="#c8c8c8" opacity="0.75"/>
<path d="M511.8 947.2 L514.1 947.9 L516.4 948.5 L518.8 948.8 L521.1 948.6 L523.5 948.1 L525.8 947.3 L528 946.3 L530.1 945.2 L532.1 943.9 L534.1 942.5 L535.9 940.9 L537.7 939.3 L539.4 937.7 L541.1 936 L542.8 934.3 L544.5 932.6 L546.2 930.9 L547.8 929.1 L549.5 927.4 L551.1 925.6 L552.7 923.8 L554.2 922 L555.7 920.1 L557.1 918.2 L558.6 916.3 L560.1 914.4 L561.6 912.5 L563 910.6 L564.4 908.7 L565.8 906.7 L567 904.6 L568.1 902.5 L569.2 900.4 L570.3 898.2 L571.3 896" fill="none" stroke="#b85048" stroke-width="0.9"/>
<rect x="587.1" y="885.4" width="64.1" height="71.7" fill="none" stroke="#c8c8c8" stroke-width="0.6"/>
<rect x="587.1" y="952.6" width="64.1" height="4.5" fill="url(#virh)"/>
<text x="590.5" y="895.9" font-size="7.8" stroke="#222" stroke-width="0.22">SPIB</text>
<text x="586.6" y="902.7" font-size="5.8" text-anchor="end" fill="#444" stroke="#444" stroke-width="0.22">1.0</text>
<text x="586.6" y="918.1" font-size="5.8" text-anchor="end" fill="#444" stroke="#444" stroke-width="0.22">0.5</text>
<text x="586.6" y="933.4" font-size="5.8" text-anchor="end" fill="#444" stroke="#444" stroke-width="0.22">0.0</text>
<text x="586.6" y="948.6" font-size="5.8" text-anchor="end" fill="#444" stroke="#444" stroke-width="0.22">−0.5</text>
<path d="M590.1 914.4 L591.6 916.4 L593.2 918.1 L595.1 919.5 L597.2 920.5 L599.6 921 L602 921 L604.3 920.5 L606.5 919.6 L608.5 918.3 L610.3 916.8 L611.9 915.2 L613.3 913.4 L614.7 911.5 L616 909.5 L617.3 907.6 L618.6 905.7 L619.9 903.7 L621.2 901.8 L622.6 899.9 L623.9 898 L625.4 896.1 L627 894.4 L628.7 892.7 L630.6 891.1 L632.7 889.8 L634.9 889 L637.2 889 L639.4 889.9 L641.4 891.2 L643.2 892.9 L644.6 894.8 L645.8 896.8 L646.7 899 L647.5 901.2 L648.2 903.4 L648.2 905.8 L647.5 903.5 L646.7 901.3 L645.8 899.1 L644.6 897 L643.2 895.1 L641.4 893.3 L639.4 891.9 L637.2 891.1 L634.9 891 L632.7 891.7 L630.6 893 L628.7 894.5 L627 896.2 L625.4 897.9 L623.9 899.7 L622.6 901.6 L621.2 903.4 L619.9 905.4 L618.6 907.4 L617.3 909.4 L616 911.4 L614.7 913.4 L613.3 915.4 L611.9 917.3 L610.3 919 L608.5 920.6 L606.5 921.9 L604.3 922.9 L602 923.5 L599.6 923.6 L597.2 923.2 L595.1 922.3 L593.2 921 L591.6 919.3 L590.1 917.4Z" fill="#c8c8c8" opacity="0.75"/>
<path d="M590.1 915.9 L591.6 917.8 L593.2 919.5 L595.1 920.9 L597.2 921.9 L599.6 922.3 L602 922.3 L604.3 921.7 L606.5 920.8 L608.5 919.5 L610.3 917.9 L611.9 916.2 L613.3 914.4 L614.7 912.4 L616 910.5 L617.3 908.5 L618.6 906.5 L619.9 904.6 L621.2 902.6 L622.6 900.7 L623.9 898.8 L625.4 897 L627 895.3 L628.7 893.6 L630.6 892 L632.7 890.7 L634.9 890 L637.2 890.1 L639.4 890.9 L641.4 892.3 L643.2 894 L644.6 895.9 L645.8 898 L646.7 900.1 L647.5 902.4 L648.2 904.6" fill="none" stroke="#3f7aa0" stroke-width="0.9"/>
<path d="M590.1 914.9 L591.9 917.2 L593.9 919.1 L596.2 920.5 L599 921.3 L601.8 921.3 L604.5 920.6 L607.1 919.4 L609.4 917.7 L611.5 915.9 L613.4 913.8 L615.2 911.8 L617.1 909.7 L619 907.7 L621 905.8 L623.3 903.9 L625.7 902.3 L628.3 901.4 L631 901.6 L633.5 902.7 L635.8 904.4 L637.7 906.5 L639.1 908.7 L640.3 911.1 L641.3 913.6 L642.2 916.1 L643.1 918.6 L643.9 921.1 L644.6 923.7 L645.3 926 L645.9 928.2 L646.5 930.6 L647 932.9 L647.4 935.2 L647.8 937.5 L648.2 939.9 L648.2 950.9 L647.8 947.7 L647.4 944.5 L647 941.3 L646.5 938.1 L645.9 935 L645.3 931.8 L644.6 928.7 L643.9 925.9 L643.1 923 L642.2 920.2 L641.3 917.5 L640.3 914.7 L639.1 912 L637.7 909.5 L635.8 907.2 L633.5 905.1 L631 903.7 L628.3 903.4 L625.7 904.3 L623.3 905.9 L621 907.8 L619 909.7 L617.1 911.7 L615.2 913.8 L613.4 915.8 L611.5 917.9 L609.4 919.7 L607.1 921.4 L604.5 922.6 L601.8 923.3 L599 923.3 L596.2 922.5 L593.9 921.1 L591.9 919.2 L590.1 916.9Z" fill="#c8c8c8" opacity="0.75"/>
<path d="M590.1 915.9 L591.9 918.2 L593.9 920.1 L596.2 921.5 L599 922.3 L601.8 922.3 L604.5 921.6 L607.1 920.4 L609.4 918.7 L611.5 916.9 L613.4 914.8 L615.2 912.8 L617.1 910.7 L619 908.7 L621 906.8 L623.3 904.9 L625.7 903.3 L628.3 902.4 L631 902.7 L633.5 903.9 L635.8 905.8 L637.7 908 L639.1 910.4 L640.3 912.9 L641.3 915.5 L642.2 918.2 L643.1 920.8 L643.9 923.5 L644.6 926.2 L645.3 928.9 L645.9 931.6 L646.5 934.3 L647 937.1 L647.4 939.8 L647.8 942.6 L648.2 945.4" fill="none" stroke="#b85048" stroke-width="0.9"/>
<text x="671.8" y="751.7" font-size="9.2" text-anchor="middle" stroke="#222" stroke-width="0.3">Paths</text>
<line x1="657.7" y1="778" x2="657.7" y2="798.4" stroke="#70b090" stroke-width="0.9"/>
<line x1="673.2" y1="778" x2="673.2" y2="798.4" stroke="#9060c0" stroke-width="0.9"/>
<line x1="657.7" y1="825.9" x2="657.7" y2="848" stroke="#e07080" stroke-width="0.9"/>
<line x1="673.2" y1="825.9" x2="673.2" y2="848" stroke="#5a90c8" stroke-width="0.9"/>
<text x="664.4" y="781.7" font-size="6.9" text-anchor="middle" stroke="#222" stroke-width="0.22" transform="rotate(-90 664.4 779.2)">GC B --&gt; PC</text>
<text x="679.8" y="781.7" font-size="6.9" text-anchor="middle" stroke="#222" stroke-width="0.22" transform="rotate(-90 679.8 779.2)">MZ B --&gt; PC</text>
<text x="664.4" y="832.1" font-size="6.9" text-anchor="middle" stroke="#222" stroke-width="0.22" transform="rotate(-90 664.4 829.6)">FO B --&gt; ABC</text>
<text x="679.8" y="834" font-size="6.9" text-anchor="middle" stroke="#222" stroke-width="0.22" transform="rotate(-90 679.8 831.5)">FO B --&gt; Bm</text>
<rect x="668.3" y="866.5" width="3.8" height="70" fill="url(#vir)"/>
<text x="676.6" y="868.5" font-size="7" text-anchor="middle" stroke="#222" stroke-width="0.22" transform="rotate(-90 676.6 866)">1</text>
<text x="676.6" y="938.5" font-size="7" text-anchor="middle" stroke="#222" stroke-width="0.22" transform="rotate(-90 676.6 936)">0</text>
<text x="663.9" y="907.6" font-size="8.2" text-anchor="middle" stroke="#222" stroke-width="0.22" transform="rotate(-90 663.9 904.6)">Pseudotime</text>
</svg></body></html>
